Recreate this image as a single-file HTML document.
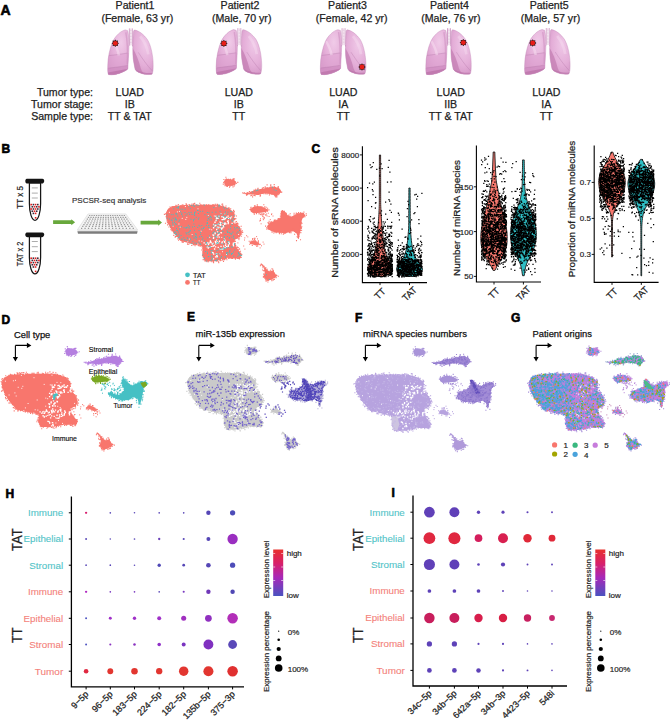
<!DOCTYPE html>
<html><head><meta charset="utf-8"><style>
html,body{margin:0;padding:0;background:#fff;}
body{width:670px;height:724px;overflow:hidden;}
svg{display:block;font-family:"Liberation Sans", sans-serif;}
</style></head><body>
<svg width="670" height="724" viewBox="0 0 670 724">
<text x="0.5" y="15" font-size="14" font-weight="bold" fill="#000" stroke="#000" stroke-width="0.6">A</text>
<text x="1.5" y="152.7" font-size="12" font-weight="bold" fill="#000" stroke="#000" stroke-width="0.6">B</text>
<text x="311.5" y="152.7" font-size="12" font-weight="bold" fill="#000" stroke="#000" stroke-width="0.6">C</text>
<text x="1.5" y="324" font-size="12" font-weight="bold" fill="#000" stroke="#000" stroke-width="0.6">D</text>
<text x="187" y="321" font-size="12" font-weight="bold" fill="#000" stroke="#000" stroke-width="0.6">E</text>
<text x="355" y="322" font-size="12" font-weight="bold" fill="#000" stroke="#000" stroke-width="0.6">F</text>
<text x="511" y="322" font-size="12" font-weight="bold" fill="#000" stroke="#000" stroke-width="0.6">G</text>
<text x="5.5" y="498" font-size="12" font-weight="bold" fill="#000" stroke="#000" stroke-width="0.6">H</text>
<text x="391.5" y="496.5" font-size="12" font-weight="bold" fill="#000" stroke="#000" stroke-width="0.6">I</text>
<text x="135.0" y="8.9" font-size="10.6" text-anchor="middle" fill="#222" stroke="#222" stroke-width="0.25" >Patient1</text>
<text x="137.3" y="21.8" font-size="10.6" text-anchor="middle" fill="#222" stroke="#222" stroke-width="0.25" >(Female, 63 yr)</text>
<text x="240.0" y="8.9" font-size="10.6" text-anchor="middle" fill="#222" stroke="#222" stroke-width="0.25" >Patient2</text>
<text x="241.7" y="21.8" font-size="10.6" text-anchor="middle" fill="#222" stroke="#222" stroke-width="0.25" >(Male, 70 yr)</text>
<text x="347.5" y="8.9" font-size="10.6" text-anchor="middle" fill="#222" stroke="#222" stroke-width="0.25" >Patient3</text>
<text x="351.7" y="21.8" font-size="10.6" text-anchor="middle" fill="#222" stroke="#222" stroke-width="0.25" >(Female, 42 yr)</text>
<text x="449.4" y="8.9" font-size="10.6" text-anchor="middle" fill="#222" stroke="#222" stroke-width="0.25" >Patient4</text>
<text x="450.9" y="21.8" font-size="10.6" text-anchor="middle" fill="#222" stroke="#222" stroke-width="0.25" >(Male, 76 yr)</text>
<text x="549.1" y="8.9" font-size="10.6" text-anchor="middle" fill="#222" stroke="#222" stroke-width="0.25" >Patient5</text>
<text x="550.5" y="21.8" font-size="10.6" text-anchor="middle" fill="#222" stroke="#222" stroke-width="0.25" >(Male, 57 yr)</text>
<defs>
<radialGradient id="lgL" cx="0.6" cy="0.3" r="0.8">
<stop offset="0" stop-color="#f0cbe8"/><stop offset="0.5" stop-color="#e5b0d9"/><stop offset="1" stop-color="#cf90c0"/></radialGradient>
<radialGradient id="lgR" cx="0.6" cy="0.35" r="0.8">
<stop offset="0" stop-color="#efc8e7"/><stop offset="0.55" stop-color="#e4aed8"/><stop offset="1" stop-color="#cd8ebf"/></radialGradient>
<clipPath id="clipL"><path id="pL" d="M18 1.5 C13.5 2.5 8.5 7 5.5 13 C2.5 20 0.5 29 0.4 38 C0.3 42 0.6 45 1.2 46.2 C5 46.9 10 46 14.5 44 C17.5 42.6 20.2 41.5 20.6 40 C20.7 34 21.5 26 21.6 19 C21.6 11 21.2 5 20.4 2.3 Z"/></clipPath>
<clipPath id="clipR"><path id="pR" d="M27 1.6 C31.5 2.2 36.5 6 40.3 11.5 C43.8 17.5 45.6 27 45.9 36 C46 40.5 45.6 44.5 44.6 45.9 C41 46.5 36.5 46 33 44.6 C30 43.4 28.3 42.3 27.8 40.8 C27.2 37 25.8 32 25.6 26 C25.4 17 25.6 8 26.2 2.8 Z"/></clipPath>
<g id="lung">
<path d="M22.1 0 L22.1 16.5 C21 18.5 19.8 19.8 19 20.8 M25.0 0 L25.0 16.5 C26 18.5 27 19.8 27.8 20.8" stroke="#d2a0c8" stroke-width="1.0" fill="none"/>
<path d="M23.55 0 L23.55 17" stroke="#f2e2ee" stroke-width="1.9" fill="none"/>
<path d="M22.8 2 h1.5 M22.8 5 h1.5 M22.8 8 h1.5 M22.8 11 h1.5 M22.8 14 h1.5" stroke="#d9b5d2" stroke-width="0.5"/>
<g clip-path="url(#clipL)">
<rect x="0" y="0" width="23" height="47" fill="url(#lgL)"/>
<path d="M-1 27.5 C6 26.5 14 25.5 22 24.5 L22 48 L-1 48 Z" fill="#dfa2d2" opacity="0.55"/>
<path d="M-1 40 C6 39 13 38.5 22 37 L22 48 L-1 48 Z" fill="#cf8cc0" opacity="0.7"/>
<path d="M-1 44.5 C6 43 13 42 22 40 L22 48 L-1 48 Z" fill="#bd74aa" opacity="0.8"/>
<path d="M1.5 27.3 C7 26.6 14 25.6 20.3 24.7 M1 39.8 C7 39 14 38.3 20.5 37" stroke="#b378a8" stroke-width="0.35" fill="none"/>
<path d="M6 13 C9 18 11 23 11.5 27" stroke="#f8e0f2" stroke-width="2.6" fill="none" opacity="0.5"/>
<path d="M18.5 4 C20 12 20.5 24 20 36" stroke="#c98abb" stroke-width="1.4" fill="none" opacity="0.5"/>
</g>
<use href="#pL" fill="none" stroke="#c58ab9" stroke-width="0.45"/>
<g clip-path="url(#clipR)">
<rect x="24" y="0" width="23" height="47" fill="url(#lgR)"/>
<path d="M24 18 C28.5 24 31.5 32 33.5 40 C35 44 37 46 40 47.5 L24 48 Z" fill="#c47fb3" opacity="0.75"/>
<path d="M29 41.5 C34 44 39 45 47 44.5 L47 48 L26 48 Z" fill="#bb72a8" opacity="0.7"/>
<path d="M31 24 C35 30 39.5 37 45.5 43" stroke="#b378a8" stroke-width="0.35" fill="none"/>
<path d="M33 8 C37 13 40 19 41 26" stroke="#f6dcef" stroke-width="2.8" fill="none" opacity="0.45"/>
</g>
<use href="#pR" fill="none" stroke="#c58ab9" stroke-width="0.45"/>
</g>
<g id="tumor"><path d="M0 -3.7 L0.9 -2.5 L2.6 -2.7 L2.5 -0.9 L3.7 0 L2.5 0.9 L2.6 2.7 L0.9 2.5 L0 3.7 L-0.9 2.5 L-2.6 2.7 L-2.5 0.9 L-3.7 0 L-2.5 -0.9 L-2.6 -2.7 L-0.9 -2.5Z" fill="#2a1818"/><circle r="2.4" fill="#e81e18"/></g>
</defs>
<use href="#lung" x="107.3" y="28.4"/>
<use href="#tumor" x="115.3" y="43.3"/>
<use href="#lung" x="215.8" y="28.1"/>
<use href="#tumor" x="223.9" y="43.4"/>
<use href="#lung" x="320.0" y="28.2"/>
<use href="#tumor" x="362.0" y="67.0"/>
<use href="#lung" x="425.4" y="28.2"/>
<use href="#tumor" x="463.3" y="42.6"/>
<use href="#lung" x="524.2" y="28.0"/>
<use href="#tumor" x="532.7" y="43.0"/>
<text x="93.0" y="96.0" font-size="10.6" text-anchor="end" fill="#222" stroke="#222" stroke-width="0.25" >Tumor type:</text>
<text x="93.0" y="108.0" font-size="10.6" text-anchor="end" fill="#222" stroke="#222" stroke-width="0.25" >Tumor stage:</text>
<text x="93.0" y="120.0" font-size="10.6" text-anchor="end" fill="#222" stroke="#222" stroke-width="0.25" >Sample type:</text>
<text x="129.7" y="96.0" font-size="10.6" text-anchor="middle" fill="#222" stroke="#222" stroke-width="0.25" >LUAD</text>
<text x="129.7" y="108.0" font-size="10.6" text-anchor="middle" fill="#222" stroke="#222" stroke-width="0.25" >IB</text>
<text x="129.7" y="120.0" font-size="10.6" text-anchor="middle" fill="#222" stroke="#222" stroke-width="0.25" >TT &amp; TAT</text>
<text x="238.8" y="96.0" font-size="10.6" text-anchor="middle" fill="#222" stroke="#222" stroke-width="0.25" >LUAD</text>
<text x="238.8" y="108.0" font-size="10.6" text-anchor="middle" fill="#222" stroke="#222" stroke-width="0.25" >IB</text>
<text x="238.8" y="120.0" font-size="10.6" text-anchor="middle" fill="#222" stroke="#222" stroke-width="0.25" >TT</text>
<text x="343.3" y="96.0" font-size="10.6" text-anchor="middle" fill="#222" stroke="#222" stroke-width="0.25" >LUAD</text>
<text x="343.3" y="108.0" font-size="10.6" text-anchor="middle" fill="#222" stroke="#222" stroke-width="0.25" >IA</text>
<text x="343.3" y="120.0" font-size="10.6" text-anchor="middle" fill="#222" stroke="#222" stroke-width="0.25" >TT</text>
<text x="450.7" y="96.0" font-size="10.6" text-anchor="middle" fill="#222" stroke="#222" stroke-width="0.25" >LUAD</text>
<text x="450.7" y="108.0" font-size="10.6" text-anchor="middle" fill="#222" stroke="#222" stroke-width="0.25" >IIB</text>
<text x="450.7" y="120.0" font-size="10.6" text-anchor="middle" fill="#222" stroke="#222" stroke-width="0.25" >TT &amp; TAT</text>
<text x="546.3" y="96.0" font-size="10.6" text-anchor="middle" fill="#222" stroke="#222" stroke-width="0.25" >LUAD</text>
<text x="546.3" y="108.0" font-size="10.6" text-anchor="middle" fill="#222" stroke="#222" stroke-width="0.25" >IA</text>
<text x="546.3" y="120.0" font-size="10.6" text-anchor="middle" fill="#222" stroke="#222" stroke-width="0.25" >TT</text>
<g transform="translate(25.3,178.8)"><path d="M4.1 4 V25 C4.1 34 6.5 41.5 9.7 41.5 C12.9 41.5 15.3 34 15.3 25 V4 Z" fill="#fff" stroke="#161616" stroke-width="1.25"/><rect x="5.10" y="25.00" width="1.6" height="1.6" fill="#e41e1e"/><rect x="7.30" y="25.00" width="1.6" height="1.6" fill="#3a2a3a"/><rect x="9.50" y="25.00" width="1.6" height="1.6" fill="#e41e1e"/><rect x="11.70" y="25.00" width="1.6" height="1.6" fill="#3a2a3a"/><rect x="6.20" y="27.20" width="1.6" height="1.6" fill="#3a2a3a"/><rect x="8.40" y="27.20" width="1.6" height="1.6" fill="#e41e1e"/><rect x="10.60" y="27.20" width="1.6" height="1.6" fill="#3a2a3a"/><rect x="12.80" y="27.20" width="1.6" height="1.6" fill="#e41e1e"/><rect x="5.10" y="29.40" width="1.6" height="1.6" fill="#e41e1e"/><rect x="7.30" y="29.40" width="1.6" height="1.6" fill="#3a2a3a"/><rect x="9.50" y="29.40" width="1.6" height="1.6" fill="#e41e1e"/><rect x="11.70" y="29.40" width="1.6" height="1.6" fill="#3a2a3a"/><rect x="6.20" y="31.60" width="1.6" height="1.6" fill="#3a2a3a"/><rect x="8.40" y="31.60" width="1.6" height="1.6" fill="#e41e1e"/><rect x="10.60" y="31.60" width="1.6" height="1.6" fill="#3a2a3a"/><rect x="7.30" y="33.80" width="1.6" height="1.6" fill="#3a2a3a"/><rect x="9.50" y="33.80" width="1.6" height="1.6" fill="#e41e1e"/><rect x="8.40" y="36.00" width="1.6" height="1.6" fill="#fff"/><rect x="9.50" y="38.20" width="1.6" height="1.6" fill="#e41e1e"/><path d="M6.5 9.1 H12.5 M6.5 14.3 H12.5 M6.5 19.2 H12.5" stroke="#909090" stroke-width="0.75"/><path d="M1.5 0 H17 C18.5 0 18.9 1.2 18.9 2.2 C18.9 3.6 18 4.8 16.5 4.8 H2.3 C0.9 4.8 0 3.6 0 2.4 C0 1.2 0.5 0 1.5 0Z" fill="#141414"/></g>
<g transform="translate(25.3,232.4)"><path d="M4.1 4 V25 C4.1 34 6.5 41.5 9.7 41.5 C12.9 41.5 15.3 34 15.3 25 V4 Z" fill="#fff" stroke="#161616" stroke-width="1.25"/><rect x="5.10" y="25.00" width="1.6" height="1.6" fill="#e41e1e"/><rect x="7.30" y="25.00" width="1.6" height="1.6" fill="#3a2a3a"/><rect x="9.50" y="25.00" width="1.6" height="1.6" fill="#e41e1e"/><rect x="11.70" y="25.00" width="1.6" height="1.6" fill="#3a2a3a"/><rect x="6.20" y="27.20" width="1.6" height="1.6" fill="#3a2a3a"/><rect x="8.40" y="27.20" width="1.6" height="1.6" fill="#e41e1e"/><rect x="10.60" y="27.20" width="1.6" height="1.6" fill="#3a2a3a"/><rect x="12.80" y="27.20" width="1.6" height="1.6" fill="#e41e1e"/><rect x="5.10" y="29.40" width="1.6" height="1.6" fill="#e41e1e"/><rect x="7.30" y="29.40" width="1.6" height="1.6" fill="#3a2a3a"/><rect x="9.50" y="29.40" width="1.6" height="1.6" fill="#e41e1e"/><rect x="11.70" y="29.40" width="1.6" height="1.6" fill="#3a2a3a"/><rect x="6.20" y="31.60" width="1.6" height="1.6" fill="#3a2a3a"/><rect x="8.40" y="31.60" width="1.6" height="1.6" fill="#e41e1e"/><rect x="10.60" y="31.60" width="1.6" height="1.6" fill="#3a2a3a"/><rect x="7.30" y="33.80" width="1.6" height="1.6" fill="#3a2a3a"/><rect x="9.50" y="33.80" width="1.6" height="1.6" fill="#e41e1e"/><rect x="8.40" y="36.00" width="1.6" height="1.6" fill="#fff"/><rect x="9.50" y="38.20" width="1.6" height="1.6" fill="#e41e1e"/><path d="M6.5 9.1 H12.5 M6.5 14.3 H12.5 M6.5 19.2 H12.5" stroke="#909090" stroke-width="0.75"/><path d="M1.5 0 H17 C18.5 0 18.9 1.2 18.9 2.2 C18.9 3.6 18 4.8 16.5 4.8 H2.3 C0.9 4.8 0 3.6 0 2.4 C0 1.2 0.5 0 1.5 0Z" fill="#141414"/></g>
<text x="0" y="0" font-size="8.9" text-anchor="middle" dy="0.35em" fill="#222" stroke="#222" stroke-width="0.18" transform="translate(19.40,197.40) rotate(-90)" textLength="22.7" lengthAdjust="spacingAndGlyphs">TT x 5</text>
<text x="0" y="0" font-size="8.9" text-anchor="middle" dy="0.35em" fill="#222" stroke="#222" stroke-width="0.18" transform="translate(20.20,254.00) rotate(-90)" textLength="24.7" lengthAdjust="spacingAndGlyphs">TAT x 2</text>
<path d="M53.1 220.35 H71.3 V219.14999999999998 L75.1 222.2 L71.3 225.25 V224.04999999999998 H53.1 Z" fill="#68a83c"/>
<path d="M140.6 220.75 H158.2 V219.54999999999998 L162.0 222.6 L158.2 225.65 V224.45 H140.6 Z" fill="#68a83c"/>
<text x="72.0" y="202.7" font-size="8" text-anchor="start" fill="#333" stroke="#333" stroke-width="0.18" textLength="74.3" lengthAdjust="spacingAndGlyphs" >PSCSR-seq analysis</text>
<g><path d="M88.1 213.9 L125.8 213.9 L137.6 229.8 L77.4 229.8 Z" fill="#f4f4f4" stroke="#d0d0d0" stroke-width="0.5"/><path d="M89.67 214.91v1.2M91.98 214.91v1.2M94.29 214.91v1.2M96.60 214.91v1.2M98.92 214.91v1.2M101.23 214.91v1.2M103.54 214.91v1.2M105.85 214.91v1.2M108.16 214.91v1.2M110.47 214.91v1.2M112.78 214.91v1.2M115.10 214.91v1.2M117.41 214.91v1.2M119.72 214.91v1.2M122.03 214.91v1.2M124.34 214.91v1.2M88.52 216.74v1.2M91.00 216.74v1.2M93.47 216.74v1.2M95.94 216.74v1.2M98.41 216.74v1.2M100.89 216.74v1.2M103.36 216.74v1.2M105.83 216.74v1.2M108.31 216.74v1.2M110.78 216.74v1.2M113.25 216.74v1.2M115.72 216.74v1.2M118.20 216.74v1.2M120.67 216.74v1.2M123.14 216.74v1.2M125.61 216.74v1.2M87.38 218.56v1.2M90.01 218.56v1.2M92.64 218.56v1.2M95.28 218.56v1.2M97.91 218.56v1.2M100.55 218.56v1.2M103.18 218.56v1.2M105.81 218.56v1.2M108.45 218.56v1.2M111.08 218.56v1.2M113.72 218.56v1.2M116.35 218.56v1.2M118.99 218.56v1.2M121.62 218.56v1.2M124.25 218.56v1.2M126.89 218.56v1.2M86.23 220.39v1.2M89.02 220.39v1.2M91.82 220.39v1.2M94.61 220.39v1.2M97.41 220.39v1.2M100.21 220.39v1.2M103.00 220.39v1.2M105.80 220.39v1.2M108.59 220.39v1.2M111.39 220.39v1.2M114.18 220.39v1.2M116.98 220.39v1.2M119.78 220.39v1.2M122.57 220.39v1.2M125.37 220.39v1.2M128.16 220.39v1.2M85.08 222.21v1.2M88.04 222.21v1.2M90.99 222.21v1.2M93.95 222.21v1.2M96.91 222.21v1.2M99.87 222.21v1.2M102.82 222.21v1.2M105.78 222.21v1.2M108.74 222.21v1.2M111.69 222.21v1.2M114.65 222.21v1.2M117.61 222.21v1.2M120.56 222.21v1.2M123.52 222.21v1.2M126.48 222.21v1.2M129.44 222.21v1.2M83.93 224.04v1.2M87.05 224.04v1.2M90.17 224.04v1.2M93.29 224.04v1.2M96.41 224.04v1.2M99.53 224.04v1.2M102.64 224.04v1.2M105.76 224.04v1.2M108.88 224.04v1.2M112.00 224.04v1.2M115.12 224.04v1.2M118.24 224.04v1.2M121.35 224.04v1.2M124.47 224.04v1.2M127.59 224.04v1.2M130.71 224.04v1.2M82.79 225.86v1.2M86.07 225.86v1.2M89.35 225.86v1.2M92.63 225.86v1.2M95.91 225.86v1.2M99.19 225.86v1.2M102.46 225.86v1.2M105.74 225.86v1.2M109.02 225.86v1.2M112.30 225.86v1.2M115.58 225.86v1.2M118.86 225.86v1.2M122.14 225.86v1.2M125.42 225.86v1.2M128.70 225.86v1.2M131.98 225.86v1.2M81.64 227.69v1.2M85.08 227.69v1.2M88.52 227.69v1.2M91.96 227.69v1.2M95.40 227.69v1.2M98.84 227.69v1.2M102.29 227.69v1.2M105.73 227.69v1.2M109.17 227.69v1.2M112.61 227.69v1.2M116.05 227.69v1.2M119.49 227.69v1.2M122.93 227.69v1.2M126.37 227.69v1.2M129.82 227.69v1.2M133.26 227.69v1.2" stroke="#9a9a9a" stroke-width="1.3"/><path d="M77.4 229.8 H137.6 V231.2 H77.4 Z" fill="#e6e6e6"/><path d="M77.4 231.2 H137.6 L137 233.8 H78 Z" fill="#7c7c7c"/></g>
<path d="M362.4 146.3 V282.6 H427" stroke="#000" stroke-width="1.1" fill="none"/>
<path d="M359.9 154.9 H362.4M359.9 188.1 H362.4M359.9 221.2 H362.4M359.9 254.4 H362.4M380 282.6 V285.1M409.5 282.6 V285.1" stroke="#000" stroke-width="0.9"/>
<text x="359.1" y="157.8" font-size="8.0" text-anchor="end" fill="#1a1a1a" stroke="#1a1a1a" stroke-width="0.18" >8000</text>
<text x="359.1" y="191.0" font-size="8.0" text-anchor="end" fill="#1a1a1a" stroke="#1a1a1a" stroke-width="0.18" >6000</text>
<text x="359.1" y="224.1" font-size="8.0" text-anchor="end" fill="#1a1a1a" stroke="#1a1a1a" stroke-width="0.18" >4000</text>
<text x="359.1" y="257.3" font-size="8.0" text-anchor="end" fill="#1a1a1a" stroke="#1a1a1a" stroke-width="0.18" >2000</text>
<text x="0" y="0" font-size="9" text-anchor="middle" dy="0.35em" fill="#222" stroke="#222" stroke-width="0.25" transform="translate(334.60,212.50) rotate(-90)" textLength="130.5" lengthAdjust="spacingAndGlyphs">Number of sRNA molecules</text>
<path d="M380.00 155.00 L380.60 155.00 L380.60 157.06 L380.61 159.12 L380.61 161.18 L380.62 163.24 L380.62 165.30 L380.62 167.36 L380.63 169.42 L380.63 171.47 L380.64 173.53 L380.64 175.59 L380.65 177.65 L380.65 179.71 L380.65 181.77 L380.66 183.83 L380.66 185.89 L380.67 187.95 L380.67 190.01 L380.67 192.07 L380.68 194.13 L380.68 196.19 L380.69 198.25 L380.69 200.31 L380.70 202.36 L380.73 204.42 L380.79 206.48 L380.87 208.54 L380.96 210.60 L381.05 212.66 L381.15 214.72 L381.26 216.78 L381.39 218.84 L381.55 220.90 L381.71 222.96 L381.88 225.02 L382.06 227.08 L382.25 229.14 L382.45 231.19 L382.67 233.25 L382.90 235.31 L383.14 237.37 L383.37 239.43 L383.61 241.49 L383.87 243.55 L384.18 245.61 L384.55 247.67 L384.95 249.73 L385.39 251.79 L385.93 253.85 L386.64 255.91 L387.52 257.97 L388.56 260.03 L389.74 262.08 L390.94 264.14 L391.96 266.20 L392.45 268.26 L392.25 270.32 L390.86 272.38 L388.71 274.44 L384.00 276.50 L376.00 276.50 L371.29 274.44 L369.14 272.38 L367.75 270.32 L367.55 268.26 L368.04 266.20 L369.06 264.14 L370.26 262.08 L371.44 260.03 L372.48 257.97 L373.36 255.91 L374.07 253.85 L374.61 251.79 L375.05 249.73 L375.45 247.67 L375.82 245.61 L376.13 243.55 L376.39 241.49 L376.63 239.43 L376.86 237.37 L377.10 235.31 L377.33 233.25 L377.55 231.19 L377.75 229.14 L377.94 227.08 L378.12 225.02 L378.29 222.96 L378.45 220.90 L378.61 218.84 L378.74 216.78 L378.85 214.72 L378.95 212.66 L379.04 210.60 L379.13 208.54 L379.21 206.48 L379.27 204.42 L379.30 202.36 L379.31 200.31 L379.31 198.25 L379.32 196.19 L379.32 194.13 L379.33 192.07 L379.33 190.01 L379.33 187.95 L379.34 185.89 L379.34 183.83 L379.35 181.77 L379.35 179.71 L379.35 177.65 L379.36 175.59 L379.36 173.53 L379.37 171.47 L379.37 169.42 L379.38 167.36 L379.38 165.30 L379.38 163.24 L379.39 161.18 L379.39 159.12 L379.40 157.06 L379.40 155.00 Z" fill="#f6786e" stroke="#1a1a1a" stroke-width="0.9"/>
<path d="M409.50 188.00 L410.10 188.00 L410.11 189.50 L410.12 191.00 L410.12 192.50 L410.13 194.00 L410.14 195.50 L410.14 197.00 L410.15 198.50 L410.16 200.00 L410.17 201.50 L410.18 203.00 L410.18 204.50 L410.19 206.00 L410.20 207.50 L410.20 209.00 L410.21 210.50 L410.22 212.00 L410.23 213.50 L410.24 215.00 L410.24 216.50 L410.25 218.00 L410.26 219.50 L410.26 221.00 L410.27 222.50 L410.28 224.00 L410.29 225.50 L410.32 227.00 L410.38 228.50 L410.48 230.00 L410.59 231.50 L410.72 233.00 L410.84 234.50 L410.97 236.00 L411.09 237.50 L411.24 239.00 L411.40 240.50 L411.59 242.00 L411.79 243.50 L412.00 245.00 L412.21 246.50 L412.44 248.00 L412.74 249.50 L413.12 251.00 L413.59 252.50 L414.10 254.00 L414.65 255.50 L415.31 257.00 L416.16 258.50 L417.22 260.00 L418.40 261.50 L419.57 263.00 L420.64 264.50 L421.53 266.00 L422.16 267.50 L422.44 269.00 L422.19 270.50 L421.41 272.00 L419.74 273.50 L417.61 275.00 L413.50 276.50 L405.50 276.50 L401.39 275.00 L399.26 273.50 L397.59 272.00 L396.81 270.50 L396.56 269.00 L396.84 267.50 L397.47 266.00 L398.36 264.50 L399.43 263.00 L400.60 261.50 L401.78 260.00 L402.84 258.50 L403.69 257.00 L404.35 255.50 L404.90 254.00 L405.41 252.50 L405.88 251.00 L406.26 249.50 L406.56 248.00 L406.79 246.50 L407.00 245.00 L407.21 243.50 L407.41 242.00 L407.60 240.50 L407.76 239.00 L407.91 237.50 L408.03 236.00 L408.16 234.50 L408.28 233.00 L408.41 231.50 L408.52 230.00 L408.62 228.50 L408.68 227.00 L408.71 225.50 L408.72 224.00 L408.73 222.50 L408.74 221.00 L408.74 219.50 L408.75 218.00 L408.76 216.50 L408.76 215.00 L408.77 213.50 L408.78 212.00 L408.79 210.50 L408.80 209.00 L408.80 207.50 L408.81 206.00 L408.82 204.50 L408.82 203.00 L408.83 201.50 L408.84 200.00 L408.85 198.50 L408.86 197.00 L408.86 195.50 L408.87 194.00 L408.88 192.50 L408.88 191.00 L408.89 189.50 L408.90 188.00 Z" fill="#2fbec4" stroke="#1a1a1a" stroke-width="0.9"/>
<path d="M387.5 267.8h0M390.6 273.3h0M371.0 269.5h0M367.8 252.2h0M374.1 257.7h0M370.9 273.1h0M372.2 166.7h0M382.1 271.3h0M378.1 270.1h0M378.2 264.3h0M372.6 257.3h0M384.1 256.5h0M374.7 254.3h0M377.5 262.5h0M379.1 265.5h0M390.1 266.3h0M373.7 276.0h0M385.5 270.2h0M375.2 265.9h0M389.9 275.4h0M377.4 252.4h0M380.1 247.5h0M389.4 267.0h0M384.3 223.8h0M369.9 220.1h0M370.9 264.9h0M392.3 264.5h0M368.2 274.6h0M375.0 267.3h0M391.5 264.5h0M367.9 264.6h0M371.5 254.5h0M372.8 183.8h0M369.7 250.6h0M379.3 268.0h0M382.3 251.6h0M375.5 260.6h0M370.2 164.9h0M387.8 271.2h0M387.6 246.5h0M381.6 255.5h0M370.9 272.4h0M381.0 264.6h0M383.2 271.8h0M378.2 267.7h0M389.1 268.7h0M377.3 237.9h0M380.3 264.7h0M370.4 264.3h0M381.6 272.1h0M386.7 259.1h0M385.8 266.8h0M373.9 230.3h0M392.3 261.2h0M385.5 258.6h0M378.1 246.1h0M377.9 270.4h0M387.0 260.8h0M371.9 275.0h0M383.5 266.5h0M385.5 266.0h0M380.4 267.5h0M389.3 268.4h0M379.2 246.3h0M379.1 262.8h0M374.6 254.6h0M390.5 260.9h0M375.4 239.0h0M384.9 274.8h0M377.7 252.6h0M390.9 268.5h0M391.2 257.5h0M368.3 272.1h0M392.4 268.4h0M382.6 244.2h0M369.3 271.8h0M379.9 273.2h0M368.7 273.2h0M381.2 266.8h0M372.1 246.4h0M376.7 250.8h0M375.1 272.5h0M382.6 266.4h0M388.1 249.3h0M390.9 271.0h0M375.7 267.9h0M381.7 265.3h0M367.6 260.2h0M376.8 261.8h0M391.5 255.0h0M370.5 221.5h0M389.2 272.4h0M383.8 264.8h0M374.8 266.5h0M387.0 258.8h0M374.7 269.7h0M389.9 210.3h0M369.6 260.2h0M370.5 216.5h0M386.3 242.9h0M378.7 274.7h0M371.2 268.6h0M380.3 262.0h0M374.9 265.2h0M381.2 272.7h0M386.1 260.1h0M388.9 267.1h0M369.0 268.5h0M382.3 259.9h0M392.1 265.1h0M379.0 269.5h0M386.7 272.2h0M369.9 246.7h0M389.3 273.7h0M382.1 168.6h0M389.7 268.8h0M387.2 270.8h0M389.2 244.5h0M368.9 261.7h0M385.4 269.7h0M372.4 189.5h0M374.1 267.9h0M375.6 270.9h0M382.3 264.6h0M383.2 269.2h0M390.8 253.8h0M367.8 249.6h0M372.3 260.3h0M376.6 249.7h0M388.0 260.2h0M381.2 275.1h0M380.3 266.8h0M386.5 259.6h0M383.9 256.6h0M374.7 274.8h0M369.7 262.8h0M379.1 275.3h0M389.5 265.5h0M382.5 266.1h0M368.8 272.8h0M378.5 269.5h0M377.1 266.6h0M382.1 263.3h0M382.2 272.2h0M391.3 263.1h0M376.0 272.9h0M377.7 232.8h0M382.8 262.7h0M389.7 265.4h0M385.2 275.0h0M379.3 254.0h0M387.9 270.2h0M379.6 268.5h0M391.6 268.8h0M374.6 266.5h0M370.7 275.6h0M388.3 259.4h0M374.9 261.9h0M388.7 251.2h0M382.7 227.8h0M380.2 252.0h0M369.7 273.8h0M387.2 271.1h0M369.1 240.7h0M391.6 266.9h0M389.4 263.6h0M375.1 267.2h0M370.7 268.1h0M389.6 257.7h0M379.5 274.7h0M370.6 263.5h0M380.0 267.9h0M373.7 267.0h0M377.7 249.4h0M383.5 231.6h0M390.4 263.5h0M387.5 271.3h0M371.5 271.1h0M379.4 269.3h0M379.8 242.4h0M392.2 273.1h0M369.7 270.1h0M380.3 272.3h0M390.4 265.5h0M377.5 272.7h0M374.0 224.7h0M381.4 215.3h0M375.5 203.2h0M390.7 254.7h0M369.6 254.8h0M372.7 250.1h0M369.6 266.5h0M385.3 222.1h0M374.8 266.8h0M390.0 247.6h0M389.8 268.1h0M390.9 204.0h0M373.9 258.9h0M367.5 273.7h0M377.2 265.1h0M391.6 270.8h0M386.6 267.8h0M369.0 267.5h0M385.1 249.7h0M390.4 265.5h0M391.7 222.4h0M385.4 272.2h0M389.1 274.9h0M388.5 271.9h0M376.5 227.6h0M370.0 260.7h0M385.7 258.4h0M370.9 241.0h0M377.1 268.1h0M392.4 271.0h0M381.5 258.9h0M380.5 271.6h0M391.2 271.9h0M374.6 244.6h0M392.5 270.4h0M390.3 273.0h0M376.6 249.7h0M375.7 266.5h0M370.7 267.6h0M390.4 267.3h0M372.1 239.2h0M367.7 267.8h0M389.8 266.4h0M382.5 271.5h0M384.3 270.3h0M385.8 258.9h0M368.6 268.8h0M369.8 272.0h0M380.0 271.5h0M368.8 248.3h0M380.1 213.0h0M385.9 268.3h0M383.9 253.6h0M382.9 266.2h0M368.7 273.0h0M373.4 260.4h0M389.9 254.5h0M370.6 263.1h0M380.8 268.0h0M368.8 238.1h0M391.0 261.2h0M371.8 243.3h0M377.8 268.2h0M381.2 271.3h0M385.5 260.8h0M390.9 260.6h0M385.9 265.2h0M376.2 252.1h0M369.4 253.9h0M385.2 259.1h0M391.8 264.5h0M367.9 236.9h0M386.9 270.6h0M371.9 266.9h0M379.0 257.2h0M380.6 235.6h0M382.9 270.1h0M392.2 243.9h0M384.7 244.0h0M377.3 244.0h0M385.4 235.4h0M379.2 273.1h0M377.8 255.4h0M376.6 258.0h0M379.8 272.7h0M374.5 267.0h0M373.6 249.9h0M371.2 263.1h0M378.5 273.0h0M374.8 260.3h0M388.4 268.8h0M388.7 239.3h0M376.1 269.4h0M383.0 270.2h0M390.1 272.3h0M376.5 267.9h0M381.4 260.7h0M378.6 231.4h0M383.8 265.8h0M391.5 268.6h0M371.0 249.9h0M391.6 255.8h0M384.1 265.9h0M387.4 270.2h0M383.4 273.7h0M389.3 242.4h0M375.7 250.2h0M385.2 270.5h0M374.1 267.3h0M380.2 269.5h0M384.5 275.6h0M372.5 272.5h0M369.0 271.4h0M387.3 269.2h0M387.7 261.2h0M384.1 267.9h0M375.5 250.2h0M384.0 270.8h0M369.6 269.7h0M384.1 268.3h0M381.9 262.6h0M382.9 260.4h0M378.7 261.8h0M373.1 218.9h0M385.6 271.2h0M379.1 264.4h0M386.1 261.7h0M376.6 265.5h0M369.7 269.4h0M381.1 261.0h0M383.1 271.7h0M390.5 273.5h0M389.7 262.0h0M368.9 245.1h0M386.8 270.0h0M374.0 276.1h0M384.9 245.2h0M377.0 268.8h0M375.6 271.2h0M379.7 273.6h0M380.8 242.2h0M384.9 238.8h0M383.4 275.6h0M384.5 241.1h0M377.1 248.1h0M384.4 266.0h0M376.1 263.0h0M382.7 269.4h0M379.0 250.4h0M381.6 272.8h0M367.9 252.8h0M380.0 269.7h0M373.0 232.6h0M377.1 264.6h0M369.3 219.6h0M383.9 257.9h0M389.8 258.0h0M376.4 268.7h0M370.1 263.9h0M383.0 228.6h0M370.7 275.9h0M389.8 272.5h0M370.6 272.6h0M376.5 254.0h0M379.9 261.3h0M370.4 252.1h0M375.5 242.1h0M374.4 218.1h0M385.3 264.7h0M392.2 242.6h0M376.6 248.0h0M387.3 271.7h0M371.0 264.5h0M382.0 250.0h0M378.3 268.2h0M374.7 255.6h0M388.0 265.6h0M386.2 256.7h0M370.8 264.2h0M374.8 266.9h0M388.0 266.4h0M392.3 261.7h0M382.8 271.1h0M389.3 271.9h0M392.1 250.0h0M386.0 244.2h0M383.6 241.4h0M373.0 276.8h0M376.8 274.5h0M383.1 253.4h0M390.7 274.6h0M375.0 252.0h0M377.4 265.4h0M368.1 264.3h0M384.9 272.1h0M378.6 222.7h0M387.4 258.5h0M373.3 266.8h0M384.0 233.1h0M384.3 254.2h0M379.1 264.2h0M372.2 271.9h0M377.6 270.3h0M386.1 272.6h0M372.2 270.3h0M369.8 269.0h0M379.1 271.7h0M373.4 269.4h0M387.5 268.9h0M387.9 257.9h0M391.1 248.5h0M388.5 270.2h0M383.7 247.9h0M372.2 273.6h0M388.1 266.6h0M385.7 259.2h0M386.2 273.7h0M384.9 246.3h0M388.3 264.9h0M374.9 238.4h0M384.3 274.1h0M380.4 266.0h0M375.9 271.1h0M375.7 256.4h0M371.4 270.8h0M379.8 268.3h0M376.7 268.3h0M378.0 275.8h0M388.8 264.0h0M384.5 262.1h0M384.5 269.0h0M392.1 271.4h0M372.9 259.5h0M380.2 269.2h0M369.8 251.0h0M377.3 266.5h0M391.3 270.1h0M369.6 232.9h0M386.4 269.3h0M389.1 192.1h0M380.2 274.5h0M387.4 264.2h0M378.5 261.9h0M376.3 269.5h0M380.1 264.9h0M372.4 267.9h0M375.2 236.8h0M375.1 266.3h0M392.2 265.9h0M375.9 273.8h0M373.2 223.2h0M391.0 263.1h0M371.0 266.9h0M391.6 265.7h0M388.8 234.9h0M383.7 265.9h0M378.2 253.8h0M372.4 250.5h0M370.2 271.6h0M370.1 251.7h0M376.2 263.3h0M377.7 269.0h0M390.6 268.7h0M380.9 266.4h0M392.3 271.4h0M385.5 263.5h0M371.2 267.3h0M381.3 271.4h0M371.5 267.9h0M368.5 267.9h0M391.1 261.9h0M375.9 265.5h0M372.2 261.3h0M370.0 269.5h0M383.8 261.0h0M379.0 263.4h0M367.8 269.5h0M385.4 265.3h0M373.9 259.6h0M387.0 271.9h0M379.7 261.7h0M380.9 272.0h0M378.9 271.8h0M384.4 262.6h0M392.3 269.4h0M387.4 219.4h0M369.2 262.4h0M379.9 273.0h0M373.4 265.3h0M370.1 265.3h0M372.4 268.4h0M373.7 268.8h0M391.5 266.9h0M386.1 262.4h0M388.8 250.0h0M385.0 257.7h0M375.4 257.3h0M377.3 263.4h0M378.5 275.1h0M374.8 260.4h0M378.0 262.5h0M386.8 261.2h0M369.4 266.3h0M374.4 273.5h0M379.5 272.8h0M384.4 260.4h0M383.6 255.6h0M385.6 271.6h0M370.1 264.3h0M372.0 268.9h0M375.2 234.5h0M374.5 272.2h0M386.4 259.2h0M392.3 264.3h0M384.6 250.9h0M381.1 163.8h0M373.0 194.5h0M389.0 253.2h0M388.1 267.2h0M375.5 229.0h0M368.1 200.5h0M389.7 201.2h0M375.0 233.5h0M383.9 260.2h0M389.0 199.5h0M387.5 182.1h0M389.1 160.3h0M379.7 175.9h0M388.6 258.7h0M379.0 232.5h0M374.1 274.9h0M379.5 168.1h0M375.9 202.5h0M386.7 252.3h0M388.3 236.7h0M371.0 167.7h0M371.6 206.6h0M377.1 234.0h0M379.1 239.8h0M391.4 212.4h0M391.0 181.8h0M391.7 272.0h0M385.7 214.1h0M384.4 243.2h0M374.3 222.0h0M376.8 169.4h0M367.6 187.5h0M388.3 167.3h0M374.4 182.1h0M369.5 183.2h0M375.4 208.1h0M375.6 197.3h0M385.6 202.1h0M367.6 254.8h0M373.3 162.5h0M389.9 172.0h0M388.9 253.7h0M383.2 221.9h0M381.5 210.9h0M373.1 191.0h0M388.2 272.0h0M384.4 256.0h0M382.0 256.7h0M379.1 244.4h0M373.5 229.3h0M376.7 265.3h0M381.3 234.4h0M387.9 228.1h0M390.8 259.2h0M381.4 247.0h0M388.1 226.3h0M367.9 252.5h0M374.9 246.5h0M380.9 228.2h0M392.1 260.6h0M370.0 263.7h0M380.8 261.0h0M385.9 276.6h0M370.5 276.8h0M379.4 236.2h0M376.8 244.6h0M389.9 252.7h0M369.2 262.5h0M379.9 267.5h0M368.7 270.1h0M389.8 226.4h0M379.4 232.2h0M380.7 230.5h0M389.7 235.4h0M384.2 259.3h0M375.5 236.9h0M390.4 228.0h0M373.9 242.7h0M382.1 244.8h0M370.3 255.1h0M385.6 261.9h0M379.7 241.6h0M367.8 253.2h0M383.2 248.5h0M391.5 236.3h0M387.9 262.7h0M390.0 273.2h0M373.4 273.0h0M377.6 260.6h0M391.3 256.4h0M382.1 229.6h0M382.4 238.3h0M377.2 245.3h0M391.8 258.5h0M385.6 234.8h0M375.1 270.8h0M370.5 274.6h0M378.2 245.9h0M380.4 248.6h0M379.3 247.6h0M385.0 240.1h0M371.7 248.2h0M369.7 248.8h0M379.9 266.0h0M370.2 246.2h0M387.0 243.3h0M388.4 262.6h0M368.5 245.6h0M386.7 252.9h0M384.3 276.5h0M384.4 253.8h0M388.7 247.9h0M367.8 239.9h0M382.4 274.4h0M382.7 240.5h0M392.3 246.4h0M373.2 254.2h0M376.1 231.7h0M385.3 261.3h0M391.8 233.0h0M390.3 266.7h0M373.8 250.4h0M383.3 242.1h0M370.2 268.7h0M371.6 251.0h0M378.4 272.1h0M381.5 247.6h0M391.9 244.0h0M385.7 237.9h0M386.4 264.3h0M388.2 250.7h0M373.1 258.2h0M390.3 241.8h0M368.0 235.4h0M390.8 226.3h0M368.8 231.0h0M389.8 245.5h0M384.8 262.0h0M378.4 263.4h0M379.0 253.6h0M375.2 226.1h0M382.3 239.5h0M374.4 270.8h0M376.5 231.2h0M383.3 253.5h0M368.9 243.8h0M382.8 240.3h0M392.2 266.7h0M380.1 272.7h0M368.4 237.5h0M390.4 251.9h0M371.8 255.1h0M385.8 256.8h0M368.6 227.9h0M377.7 226.8h0M369.6 258.8h0M378.5 230.4h0M389.4 244.8h0M389.6 257.1h0M383.0 247.6h0M384.3 238.4h0M373.9 270.6h0M372.6 245.7h0M386.1 242.8h0M376.6 272.4h0M372.7 238.3h0M389.7 240.0h0M375.8 271.0h0M375.5 276.8h0M388.0 269.2h0M373.1 237.1h0M386.3 268.2h0M373.1 236.5h0M373.6 233.0h0M378.0 251.6h0M383.2 228.8h0M372.3 232.0h0M374.3 235.5h0M390.9 245.0h0M371.0 260.0h0M391.8 266.5h0M383.7 245.3h0M377.6 241.4h0M387.7 267.0h0M379.7 270.0h0M383.8 261.0h0M374.2 238.3h0M373.2 272.5h0M387.5 271.9h0M388.1 267.1h0M378.4 265.0h0M371.7 259.4h0M368.6 275.3h0M389.5 234.4h0M386.7 268.0h0M368.6 254.9h0M378.0 257.6h0M389.7 262.9h0M372.8 254.3h0M381.5 226.6h0M370.8 244.3h0M372.0 238.1h0M384.4 275.0h0M379.0 258.9h0M386.5 260.3h0M383.9 226.1h0M389.2 234.2h0M372.0 252.0h0M382.2 264.5h0M374.8 274.2h0M383.2 269.1h0M379.4 229.6h0M367.8 258.7h0M378.2 248.5h0M375.6 235.1h0M379.3 239.0h0M389.8 235.1h0M391.7 269.9h0M377.1 265.4h0M382.0 249.8h0M387.8 268.4h0M372.5 272.2h0M368.3 226.3h0M379.6 241.4h0M378.1 250.4h0M379.2 272.3h0M390.5 243.7h0M374.7 259.4h0M372.5 246.4h0M385.4 226.3h0M386.8 263.4h0M377.2 238.6h0M381.0 241.1h0M388.0 256.1h0M375.2 267.2h0M382.7 232.7h0M377.9 251.0h0M391.1 242.4h0M378.7 275.8h0M378.2 268.2h0M369.9 246.1h0M372.1 271.1h0M381.3 237.1h0M369.8 247.5h0M369.9 250.7h0M385.7 241.8h0M371.7 244.4h0M371.7 269.0h0M369.9 263.8h0M375.8 263.1h0M386.8 232.9h0M386.4 274.2h0M381.7 258.9h0M375.6 234.9h0M386.1 267.8h0M372.7 231.8h0M376.3 257.9h0M376.6 275.2h0M387.3 272.7h0M382.5 264.5h0M391.3 227.8h0M381.9 235.5h0M387.4 237.9h0M386.0 243.0h0M383.8 260.6h0M390.2 270.5h0M378.4 261.1h0M372.1 231.0h0M385.4 272.2h0M386.2 252.4h0M383.2 263.2h0M381.7 244.5h0M388.8 244.8h0M390.1 266.8h0M387.3 268.5h0M392.2 276.5h0M380.0 245.2h0M385.8 275.4h0M383.3 227.3h0M368.5 249.7h0M387.2 271.3h0M376.9 252.4h0M380.3 230.8h0M367.5 252.7h0M380.1 270.0h0M372.0 269.5h0M374.3 253.5h0M385.2 233.4h0M391.2 274.9h0M391.7 226.1h0M383.6 260.2h0M389.5 236.3h0M370.6 267.3h0M374.0 229.4h0M369.8 258.9h0M380.9 264.1h0M387.7 226.1h0M390.8 270.9h0M390.8 265.2h0M377.1 238.7h0M390.3 247.4h0M379.7 261.6h0M384.7 261.4h0M383.1 251.9h0M386.7 246.2h0M374.1 272.4h0M388.6 262.6h0M371.7 228.3h0M390.6 274.1h0M374.3 258.1h0M368.0 246.1h0M385.1 244.4h0M387.7 272.6h0M370.9 261.1h0M376.9 234.9h0M376.2 250.6h0M389.9 265.0h0M367.6 228.9h0M392.3 254.4h0M382.8 244.0h0M388.3 254.4h0M382.3 238.7h0M386.9 236.9h0M370.9 256.5h0M388.3 240.9h0M375.1 233.6h0M382.6 265.3h0M370.6 253.3h0M381.0 231.4h0M380.8 239.9h0M372.5 276.3h0M369.8 243.5h0M383.0 246.6h0M367.9 270.2h0M373.5 247.0h0M390.2 275.4h0M390.4 247.0h0M386.1 269.3h0M372.4 275.4h0M370.0 259.5h0M373.5 237.0h0M370.9 274.0h0M370.7 272.5h0M371.6 242.8h0M372.8 276.4h0M369.8 269.9h0M375.0 274.6h0M386.3 239.5h0M380.2 234.2h0M377.7 227.3h0M384.5 256.3h0M374.3 226.7h0M391.0 232.4h0M375.7 227.3h0M377.1 246.5h0M380.8 242.5h0M373.7 266.1h0M374.5 242.9h0M379.8 240.0h0M385.7 230.3h0M375.6 247.5h0M374.0 268.8h0M376.4 247.5h0M379.2 268.3h0M373.0 268.3h0M391.2 260.9h0M371.7 272.4h0M375.3 260.0h0M369.5 268.5h0M390.9 274.4h0M382.2 264.6h0M391.9 269.5h0M391.4 270.1h0M384.9 270.4h0M370.6 260.6h0M369.1 275.5h0M392.4 268.3h0M371.4 257.7h0M378.7 263.6h0M372.4 257.0h0M383.7 272.4h0M369.1 261.8h0M375.0 266.9h0M382.6 264.0h0M389.1 263.6h0M375.1 271.9h0M388.5 274.3h0M371.7 259.3h0M379.1 276.3h0M383.0 268.7h0M375.7 276.8h0M372.1 267.3h0M384.4 272.8h0M387.8 263.5h0M374.3 276.6h0M381.3 261.2h0M371.0 272.7h0M388.7 267.5h0M377.1 269.5h0M392.0 267.7h0M387.2 274.4h0M386.4 265.7h0M372.0 270.3h0M388.3 276.2h0M371.3 257.5h0M383.4 273.2h0M369.4 268.5h0M374.2 277.0h0M376.5 256.8h0M387.1 261.6h0M378.0 257.9h0M375.8 257.9h0M373.9 267.7h0M375.0 269.7h0M390.0 267.7h0M368.2 276.1h0M372.4 262.6h0M380.7 268.6h0M376.1 264.7h0M383.2 265.1h0M374.6 264.0h0M377.1 261.4h0M382.5 266.3h0M377.8 270.6h0M387.8 269.3h0M376.0 275.6h0M370.1 272.7h0M378.0 263.7h0M388.6 269.4h0M391.8 274.3h0M370.4 266.1h0M386.7 256.8h0M381.1 276.8h0M373.5 257.6h0M374.7 262.6h0M374.6 264.5h0M388.3 266.4h0M382.2 257.4h0M369.1 275.9h0M376.2 275.8h0M375.9 269.1h0M384.0 257.0h0M369.3 264.7h0M370.7 261.5h0M372.4 261.9h0M378.9 261.8h0M375.9 265.7h0M384.6 255.9h0M392.4 264.5h0M390.6 255.2h0M368.9 257.2h0M390.3 264.1h0M388.7 270.3h0M369.7 263.0h0M375.8 265.0h0M386.3 256.8h0M390.7 265.5h0M376.6 270.3h0M374.4 270.7h0M377.9 265.5h0M372.2 259.5h0M389.0 267.7h0M378.1 272.0h0M390.3 258.5h0M392.4 255.3h0M382.8 260.8h0M373.8 265.9h0M382.6 264.6h0M385.3 275.9h0M371.7 260.2h0M382.7 264.0h0M375.4 266.1h0M384.9 275.0h0M391.0 273.0h0M376.2 274.4h0M385.2 258.8h0M391.3 260.4h0M384.6 270.3h0M390.2 269.7h0M392.1 256.3h0M368.4 259.3h0M381.9 264.3h0M369.6 259.4h0M382.0 263.9h0M386.6 265.3h0M389.4 271.7h0M379.9 262.9h0M372.8 261.4h0M376.4 262.9h0M372.0 265.4h0M370.3 274.1h0M381.3 257.1h0M375.7 260.6h0M371.4 265.6h0M372.1 258.3h0M385.1 264.5h0M384.3 265.3h0M380.1 261.8h0M378.2 265.6h0M376.1 273.2h0M373.7 259.9h0M376.1 272.3h0M388.7 267.4h0M376.5 269.3h0M388.2 260.3h0M384.2 270.6h0M377.3 258.2h0M382.7 259.6h0M376.7 267.0h0M391.6 258.2h0M369.3 266.9h0M391.1 256.0h0M383.6 255.6h0M381.3 257.6h0M384.0 262.9h0M383.9 260.7h0M369.4 259.0h0M374.3 258.6h0M372.5 267.0h0M378.4 273.2h0M379.9 266.9h0M385.3 273.8h0M382.1 255.8h0M379.0 255.7h0M382.6 256.4h0M381.0 258.3h0M388.9 257.1h0M384.0 270.5h0M374.4 268.0h0M375.7 260.7h0M374.0 255.3h0M384.3 256.6h0M372.4 256.9h0M387.6 266.6h0M379.2 267.8h0M387.7 268.7h0M380.3 261.9h0M380.4 276.7h0M381.7 265.5h0M389.7 256.2h0M369.1 272.4h0M391.1 256.1h0M368.1 255.2h0M381.9 258.0h0M381.5 269.6h0M367.9 274.1h0M373.8 267.2h0M376.3 262.6h0M377.6 255.1h0M378.2 260.8h0M376.4 258.6h0M375.9 270.4h0M392.1 259.3h0M389.2 268.5h0M370.0 255.3h0M389.6 260.1h0M370.2 269.4h0M385.2 274.7h0M380.0 261.9h0M375.5 259.5h0M383.4 275.7h0M369.6 263.5h0M376.3 256.8h0M382.4 276.6h0M374.4 271.0h0" stroke="#000" stroke-width="1.25" stroke-linecap="square"/>
<path d="M417.8 273.1h0M411.2 270.1h0M413.7 266.7h0M418.3 257.2h0M407.1 259.9h0M420.0 265.4h0M419.0 264.0h0M417.2 245.1h0M406.5 264.7h0M410.2 264.9h0M401.3 262.2h0M416.0 264.4h0M419.3 264.8h0M401.0 264.1h0M415.6 267.3h0M414.4 266.1h0M397.9 259.0h0M419.9 270.6h0M409.0 266.2h0M403.7 265.6h0M397.8 270.3h0M416.5 270.6h0M405.4 271.8h0M409.8 272.1h0M401.9 268.9h0M412.2 269.8h0M406.9 255.7h0M417.2 269.4h0M413.7 261.4h0M415.0 260.2h0M403.3 253.8h0M398.6 265.0h0M419.0 223.5h0M420.4 269.3h0M413.1 269.8h0M420.0 271.7h0M414.7 255.2h0M412.1 269.1h0M407.5 271.0h0M405.9 236.8h0M409.2 259.3h0M402.6 262.4h0M407.7 266.0h0M409.7 258.4h0M397.8 266.8h0M406.8 263.3h0M404.1 269.0h0M412.9 267.4h0M417.3 268.7h0M412.4 261.3h0M413.6 270.6h0M412.3 269.6h0M403.4 269.3h0M406.4 247.2h0M418.1 273.9h0M420.7 266.4h0M401.5 262.1h0M397.3 265.5h0M421.0 266.7h0M418.5 268.2h0M412.2 260.8h0M417.4 261.0h0M411.9 263.9h0M419.6 270.6h0M403.1 265.0h0M408.1 239.0h0M413.8 265.3h0M402.4 258.7h0M414.9 212.7h0M403.6 275.9h0M414.8 262.8h0M417.1 267.5h0M407.6 264.1h0M421.8 244.5h0M412.8 273.4h0M415.9 275.2h0M397.5 257.7h0M399.8 264.8h0M414.8 263.3h0M420.6 257.0h0M412.7 269.5h0M419.8 272.0h0M398.5 270.3h0M419.3 269.4h0M418.9 219.7h0M412.7 259.9h0M407.7 266.0h0M414.6 269.9h0M403.1 263.3h0M413.7 265.7h0M414.4 272.1h0M410.5 228.4h0M403.5 260.8h0M397.1 261.3h0M401.9 277.2h0M417.8 259.3h0M402.3 242.8h0M398.9 265.3h0M403.2 268.7h0M410.0 255.6h0M411.7 272.7h0M418.9 259.8h0M418.4 269.3h0M421.2 256.8h0M419.1 273.6h0M408.3 259.2h0M400.5 271.5h0M420.9 271.7h0M402.7 261.3h0M412.6 250.2h0M403.6 269.3h0M417.4 266.1h0M402.0 264.8h0M407.5 271.1h0M402.5 265.8h0M418.5 267.7h0M412.5 266.1h0M412.8 265.6h0M404.9 265.1h0M401.4 257.7h0M418.4 262.3h0M416.1 262.0h0M415.4 261.3h0M421.9 271.0h0M411.0 253.3h0M401.5 259.2h0M412.2 266.4h0M404.2 263.5h0M409.8 259.7h0M408.5 264.8h0M411.1 267.1h0M420.0 269.3h0M417.3 274.7h0M407.4 272.1h0M417.4 265.5h0M418.5 266.1h0M416.3 265.1h0M410.8 261.1h0M419.5 274.2h0M409.3 247.1h0M399.6 258.3h0M403.8 269.6h0M413.4 268.2h0M406.5 261.6h0M407.6 274.8h0M407.1 265.2h0M401.8 266.4h0M399.3 250.8h0M398.2 272.3h0M413.8 252.7h0M405.1 266.0h0M408.4 272.6h0M420.4 274.3h0M412.7 273.2h0M417.3 272.1h0M416.1 260.7h0M420.8 236.2h0M398.7 265.0h0M406.6 246.8h0M420.7 274.2h0M408.6 204.6h0M420.7 263.7h0M401.6 259.6h0M398.5 213.4h0M419.4 266.1h0M407.3 248.1h0M409.7 273.4h0M420.4 270.3h0M402.5 263.3h0M421.2 272.3h0M406.9 271.8h0M403.2 263.3h0M402.8 272.6h0M410.0 275.0h0M408.7 268.8h0M419.2 264.1h0M398.3 273.7h0M398.1 275.4h0M400.8 262.5h0M412.1 250.9h0M416.5 272.6h0M409.0 269.0h0M412.3 259.7h0M413.1 266.5h0M397.5 262.3h0M403.2 273.4h0M421.9 263.7h0M405.3 257.9h0M420.7 241.4h0M409.3 263.6h0M402.6 275.7h0M397.1 259.4h0M402.4 265.4h0M405.0 274.5h0M408.0 201.4h0M408.2 262.3h0M410.7 271.7h0M408.9 250.6h0M397.8 273.7h0M403.7 271.5h0M421.1 255.7h0M397.7 269.2h0M415.4 267.8h0M408.9 269.4h0M414.7 261.6h0M405.3 263.5h0M406.3 259.5h0M409.9 262.5h0M419.7 257.2h0M405.2 273.4h0M399.1 272.6h0M398.0 263.9h0M419.0 270.5h0M404.8 265.9h0M400.0 261.7h0M411.9 263.2h0M418.1 275.5h0M412.0 262.8h0M400.8 267.2h0M407.1 273.4h0M403.7 261.5h0M397.4 271.9h0M421.1 254.8h0M408.5 269.7h0M400.4 272.2h0M419.1 272.2h0M421.6 274.5h0M417.4 269.9h0M403.3 275.3h0M401.8 261.4h0M410.1 268.1h0M411.6 258.5h0M419.0 249.9h0M421.2 265.6h0M419.8 269.7h0M405.6 271.3h0M411.6 219.8h0M400.1 274.4h0M410.0 261.0h0M398.8 262.5h0M399.8 270.8h0M400.0 274.1h0M404.5 271.7h0M404.7 263.8h0M414.6 266.5h0M398.9 271.2h0M399.8 263.8h0M413.4 271.1h0M413.8 270.8h0M414.8 266.7h0M415.0 272.7h0M413.6 264.2h0M410.8 269.4h0M415.5 268.6h0M399.0 263.2h0M402.3 266.8h0M415.5 267.9h0M401.8 268.3h0M410.3 252.3h0M403.5 275.2h0M407.8 274.5h0M417.9 238.8h0M413.5 275.5h0M408.1 267.4h0M403.8 253.9h0M417.1 271.6h0M413.4 266.0h0M408.0 269.5h0M418.7 272.7h0M414.3 268.0h0M421.5 242.6h0M413.6 272.2h0M419.5 270.1h0M410.8 274.5h0M414.8 261.0h0M418.1 271.9h0M399.3 272.5h0M408.9 263.2h0M412.1 265.0h0M398.4 263.1h0M416.7 199.2h0M414.9 259.3h0M420.4 262.6h0M406.3 253.6h0M408.7 272.1h0M419.8 265.6h0M407.3 268.3h0M417.9 261.6h0M407.5 263.8h0M405.4 270.9h0M403.9 265.4h0M402.3 267.5h0M407.8 265.2h0M401.0 267.4h0M417.7 272.5h0M421.4 261.6h0M399.4 266.8h0M398.4 270.2h0M397.1 250.1h0M420.3 274.5h0M398.8 266.6h0M414.0 260.6h0M404.6 270.3h0M402.0 271.4h0M403.2 269.2h0M414.2 274.0h0M397.4 251.1h0M418.6 265.9h0M411.2 270.3h0M402.9 273.4h0M402.2 269.1h0M413.4 268.0h0M412.7 264.2h0M405.0 268.3h0M405.4 267.5h0M408.6 272.7h0M419.8 272.6h0M410.5 270.9h0M418.0 273.5h0M413.0 247.1h0M411.1 270.5h0M409.2 266.5h0M414.0 270.6h0M409.3 261.8h0M415.1 265.6h0M401.6 271.4h0M405.1 237.4h0M418.8 262.2h0M406.9 266.3h0M418.1 272.0h0M420.4 259.4h0M411.5 271.9h0M399.5 259.6h0M415.9 262.7h0M413.6 268.1h0M404.3 269.1h0M418.6 272.7h0M409.1 272.8h0M398.4 260.9h0M398.7 270.2h0M402.7 268.4h0M412.2 263.7h0M417.4 271.7h0M399.5 273.2h0M397.6 266.6h0M412.6 273.5h0M407.2 254.6h0M408.0 257.1h0M417.5 271.0h0M420.0 263.0h0M421.2 268.2h0M416.5 266.1h0M397.1 255.4h0M400.8 271.7h0M411.7 270.3h0M420.9 255.7h0M399.0 262.1h0M409.9 272.1h0M406.9 273.9h0M407.2 272.5h0M403.7 267.9h0M403.8 264.3h0M403.0 266.0h0M399.6 257.8h0M410.9 265.7h0M408.1 259.5h0M414.8 257.2h0M413.0 264.5h0M420.8 246.0h0M405.5 265.4h0M419.1 268.8h0M406.6 268.8h0M413.5 274.3h0M417.1 273.5h0M406.9 269.4h0M408.2 274.9h0M412.8 266.2h0M399.8 271.0h0M410.3 261.3h0M399.4 264.9h0M402.6 275.0h0M412.6 268.2h0M421.3 267.3h0M422.0 271.5h0M403.5 263.1h0M400.7 272.2h0M410.0 222.1h0M408.0 261.4h0M406.5 257.2h0M416.2 260.9h0M414.7 273.4h0M411.0 230.2h0M412.5 263.1h0M411.5 268.3h0M413.9 269.1h0M420.2 271.1h0M420.7 264.2h0M421.5 259.9h0M418.5 272.2h0M399.6 254.4h0M408.3 246.1h0M416.5 260.8h0M404.4 266.7h0M412.2 274.1h0M398.4 270.2h0M402.1 267.4h0M407.0 267.5h0M398.8 269.5h0M407.6 268.7h0M402.8 263.0h0M418.5 250.1h0M405.0 259.5h0M406.5 270.5h0M417.1 269.1h0M411.0 271.7h0M398.3 240.0h0M402.4 272.8h0M412.3 264.0h0M402.0 273.3h0M403.2 267.4h0M417.9 243.6h0M410.7 232.5h0M398.3 213.1h0M407.7 238.1h0M406.4 244.5h0M421.9 193.4h0M414.0 213.6h0M407.1 216.5h0M406.1 265.6h0M416.2 194.4h0M399.4 219.9h0M417.4 206.7h0M413.8 249.8h0M407.9 259.8h0M414.8 194.9h0M406.9 264.2h0M400.6 249.9h0M407.4 208.7h0M398.3 268.8h0M399.2 215.2h0M408.0 257.8h0M417.6 196.4h0M402.1 229.2h0M409.5 233.5h0M421.5 267.1h0M419.5 253.7h0M420.0 268.9h0M413.1 251.2h0M403.9 248.2h0M419.4 270.9h0M399.2 262.0h0M402.3 269.5h0M411.3 275.3h0M415.2 248.2h0M406.3 263.4h0M419.8 256.9h0M401.7 254.1h0M403.2 249.9h0M405.6 253.0h0M409.8 273.6h0M420.9 250.1h0M411.2 266.6h0M400.8 262.0h0M402.0 256.7h0M405.1 271.1h0M402.9 262.3h0M411.6 255.6h0M420.2 255.6h0M405.2 267.2h0M409.2 268.2h0M400.8 249.7h0M415.4 257.4h0M418.4 252.5h0M403.0 272.6h0M406.0 248.5h0M402.5 269.6h0M403.6 262.8h0M417.9 264.5h0M415.8 276.3h0M404.5 273.0h0M410.8 251.4h0M400.3 255.5h0M400.4 269.7h0M410.9 246.4h0M419.0 264.1h0M408.1 249.5h0M408.7 274.4h0M411.6 259.7h0M412.2 262.6h0M412.6 251.4h0M400.7 245.4h0M417.8 245.1h0M403.4 263.7h0M409.5 273.8h0M402.3 248.6h0M401.0 260.9h0M404.3 259.6h0M414.2 255.3h0M413.6 245.6h0M410.7 274.0h0M420.4 263.3h0M421.6 252.5h0M404.4 259.3h0M409.7 271.2h0M408.2 246.5h0M414.5 252.1h0M419.1 251.8h0M404.4 249.4h0M404.6 264.2h0M403.7 246.6h0M411.7 268.5h0M399.7 258.6h0M398.7 245.5h0M406.4 254.2h0M418.9 245.4h0M413.2 268.5h0M407.4 261.0h0M403.2 253.1h0M398.3 274.0h0M397.7 249.4h0M415.1 259.6h0M409.8 254.4h0M401.0 270.6h0M400.1 254.5h0M415.8 254.5h0M420.8 250.6h0M410.2 262.2h0M409.5 269.8h0M398.2 262.5h0M416.7 246.6h0M410.7 259.1h0M407.1 262.2h0M412.6 267.5h0M419.5 266.0h0M422.0 266.3h0M403.7 249.7h0M398.8 253.6h0M400.0 266.9h0M414.2 264.6h0M406.6 259.8h0M403.5 274.4h0M397.4 255.3h0M411.3 250.8h0M418.4 260.4h0M406.3 247.0h0M404.0 263.9h0M404.0 246.4h0M411.5 254.7h0M418.2 267.1h0M415.0 273.5h0M417.3 255.5h0M411.2 253.3h0M402.0 251.6h0M399.8 252.6h0M402.6 266.5h0M403.3 246.5h0M407.5 251.4h0M414.2 252.1h0M410.9 250.6h0M409.1 272.8h0M404.6 261.9h0M408.0 247.2h0M397.5 272.0h0M405.5 267.0h0M407.3 271.8h0M401.9 260.5h0M410.7 270.4h0M397.7 256.6h0M408.9 263.8h0M400.5 262.4h0M414.3 268.5h0M402.6 259.1h0M404.4 257.4h0M406.1 275.2h0M397.3 275.3h0M397.8 247.5h0M402.2 254.2h0M418.4 271.9h0M420.4 257.5h0M397.4 265.0h0M419.5 248.4h0M417.7 245.1h0M415.3 260.8h0M419.7 273.0h0M398.2 260.9h0M403.1 259.1h0M398.7 256.5h0M407.2 245.1h0M408.9 273.6h0M398.5 275.2h0M409.2 251.7h0M421.2 260.2h0M407.9 257.0h0M419.0 249.2h0M402.3 254.1h0M398.6 272.0h0M409.2 264.3h0M419.1 260.8h0M403.9 262.0h0M409.5 254.6h0M402.8 256.4h0M415.4 250.3h0M421.9 252.5h0M403.8 248.9h0M406.8 256.9h0M414.0 275.2h0M403.2 273.8h0M404.7 266.9h0M400.2 275.2h0M406.3 271.9h0M397.7 271.9h0M402.7 267.7h0M413.8 262.9h0M410.2 274.2h0M401.1 267.9h0M401.6 262.4h0M409.2 267.8h0M413.1 274.6h0M414.7 265.7h0M409.2 271.5h0M418.0 271.6h0M409.6 262.3h0M418.7 264.8h0M407.1 275.0h0M402.2 275.5h0M402.7 261.5h0M409.8 273.5h0M407.1 274.3h0M406.9 273.9h0M399.8 264.8h0M400.1 272.6h0M408.7 271.1h0M403.0 272.5h0M421.8 261.3h0M405.0 274.8h0M418.3 274.8h0M402.7 269.6h0M399.2 267.3h0M411.4 264.4h0M407.6 266.2h0M399.1 261.2h0M416.5 260.0h0M421.7 275.3h0M421.7 273.4h0M397.1 262.0h0M405.0 263.1h0M398.5 275.6h0M419.8 273.0h0M403.3 274.5h0M417.5 265.5h0M400.2 262.3h0M407.2 274.1h0M398.9 267.3h0M405.9 275.2h0M400.8 271.1h0M405.1 271.0h0M417.6 274.0h0M418.1 265.0h0M403.9 262.1h0M403.4 262.0h0M416.6 260.8h0M401.8 273.4h0M416.2 276.5h0M406.6 260.8h0M417.2 264.9h0M416.3 260.3h0M397.9 270.2h0M414.1 269.6h0M410.3 270.2h0M400.3 261.1h0M405.7 269.3h0M403.2 263.0h0M408.2 267.0h0M403.7 275.8h0M420.6 260.8h0M409.0 264.0h0M405.4 260.5h0M399.0 260.6h0M400.1 271.0h0M399.0 275.1h0M417.1 264.6h0M414.3 276.2h0M399.9 269.5h0M408.6 265.3h0M404.2 261.5h0M413.2 263.4h0M407.6 275.8h0M405.7 265.4h0M420.3 269.9h0M411.3 263.8h0M413.0 266.4h0M410.6 266.8h0M399.0 274.9h0M414.3 276.3h0M404.7 264.8h0M400.4 265.2h0M405.1 263.1h0M403.6 265.0h0M418.4 267.6h0M417.5 260.8h0M401.7 276.2h0M398.3 261.2h0M409.9 264.9h0M401.9 270.3h0M412.2 263.2h0M410.5 267.7h0M418.2 261.2h0M402.8 269.6h0M397.8 274.4h0M421.2 265.6h0M416.4 264.2h0M420.7 263.6h0M397.1 261.2h0M408.5 260.7h0M421.5 270.7h0M411.2 270.6h0M407.5 275.1h0M414.8 267.3h0M404.1 262.5h0M404.9 266.0h0M399.0 275.7h0M403.4 269.2h0M398.7 269.4h0M413.2 261.4h0M421.4 262.8h0M403.6 272.5h0M405.4 274.9h0M403.0 265.3h0M414.3 274.6h0M419.1 264.9h0M410.3 267.0h0M413.9 263.9h0M418.0 272.1h0M401.4 265.3h0M405.4 275.8h0M408.4 270.5h0M420.3 266.7h0M420.7 265.0h0M397.3 261.7h0M414.3 266.5h0M417.8 269.1h0M414.1 266.0h0M411.7 271.9h0M406.4 268.3h0M418.1 275.8h0M405.8 261.1h0M418.1 267.6h0M421.2 273.0h0M406.2 274.5h0M410.7 272.1h0M419.1 269.9h0M420.7 266.8h0M406.5 270.9h0M407.1 272.0h0M410.3 272.6h0M417.6 269.6h0M419.9 273.3h0M418.4 260.3h0M397.4 270.8h0M405.3 274.8h0M406.8 272.6h0M403.2 270.7h0M419.5 274.7h0M406.2 268.2h0M410.4 265.9h0M409.1 276.4h0M419.0 265.3h0M414.1 276.1h0M406.1 274.4h0M416.9 275.1h0M399.1 275.7h0M421.5 264.1h0M412.8 261.5h0M412.1 272.0h0M415.6 274.6h0M404.3 262.0h0M417.4 260.4h0M402.8 264.0h0M416.4 267.5h0M417.9 271.4h0M418.1 273.4h0M419.0 264.7h0M405.9 270.7h0M411.6 273.2h0M417.2 265.2h0M400.0 272.6h0M414.2 264.7h0M398.4 260.4h0M403.2 264.6h0M402.2 260.9h0M401.3 265.9h0M399.3 263.5h0M408.0 274.4h0M418.8 266.9h0M400.1 264.6h0M413.9 266.9h0M411.3 272.5h0M413.5 274.6h0M399.1 265.0h0M397.9 268.9h0M412.4 264.3h0M398.4 267.9h0M401.2 263.3h0M406.5 276.1h0M406.0 272.1h0M406.3 266.9h0M400.5 263.1h0M416.3 267.3h0M404.1 276.8h0M419.0 264.5h0M407.9 269.6h0M401.2 267.3h0M404.1 273.8h0M399.4 276.9h0M402.9 265.6h0M398.9 275.5h0M417.7 261.1h0M410.2 266.6h0M412.2 265.7h0M420.9 263.7h0M417.5 264.6h0M413.2 267.3h0M410.1 268.9h0M412.6 261.2h0M398.5 276.5h0M403.3 266.1h0M403.0 271.0h0M421.6 266.8h0M405.0 265.9h0M397.7 261.5h0M398.2 265.5h0M421.6 262.4h0M410.7 263.5h0M397.9 274.2h0M400.2 262.3h0M417.4 264.1h0M402.0 276.0h0M401.9 274.1h0M404.7 269.6h0M404.8 265.8h0M420.3 275.4h0M401.4 272.3h0M400.5 265.1h0M398.8 271.0h0M415.2 272.7h0M416.4 266.7h0M401.4 260.1h0M408.0 275.9h0M408.2 270.5h0M419.9 274.7h0M415.5 270.1h0M402.8 272.7h0M407.4 272.0h0M402.6 276.0h0M401.1 273.4h0" stroke="#000" stroke-width="1.25" stroke-linecap="square"/>
<text x="0" y="0" font-size="9.3" text-anchor="middle" fill="#222" stroke="#222" stroke-width="0.25" transform="translate(382.2,296.1) rotate(-45)">TT</text>
<text x="0" y="0" font-size="9.3" text-anchor="middle" fill="#222" stroke="#222" stroke-width="0.25" transform="translate(411.7,296.1) rotate(-45)">TAT</text>
<path d="M476.4 145.5 V282.0 H541" stroke="#000" stroke-width="1.1" fill="none"/>
<path d="M473.9 186.8 H476.4M473.9 231.6 H476.4M473.9 276.4 H476.4M494 282.0 V284.5M523.4 282.0 V284.5" stroke="#000" stroke-width="0.9"/>
<text x="473.1" y="189.7" font-size="8.0" text-anchor="end" fill="#1a1a1a" stroke="#1a1a1a" stroke-width="0.18" >150</text>
<text x="473.1" y="234.5" font-size="8.0" text-anchor="end" fill="#1a1a1a" stroke="#1a1a1a" stroke-width="0.18" >100</text>
<text x="473.1" y="279.3" font-size="8.0" text-anchor="end" fill="#1a1a1a" stroke="#1a1a1a" stroke-width="0.18" >50</text>
<text x="0" y="0" font-size="9" text-anchor="middle" dy="0.35em" fill="#222" stroke="#222" stroke-width="0.25" transform="translate(456.80,218.00) rotate(-90)" textLength="115.8" lengthAdjust="spacingAndGlyphs">Number of miRNA species</text>
<path d="M494.00 152.00 L494.80 152.00 L494.89 154.01 L494.95 156.02 L495.03 158.03 L495.11 160.03 L495.19 162.04 L495.27 164.05 L495.35 166.06 L495.44 168.07 L495.54 170.08 L495.63 172.08 L495.72 174.09 L495.82 176.10 L495.95 178.11 L496.15 180.12 L496.46 182.13 L496.83 184.14 L497.23 186.14 L497.63 188.15 L498.03 190.16 L498.43 192.17 L498.84 194.18 L499.24 196.19 L499.64 198.19 L500.04 200.20 L500.46 202.21 L500.91 204.22 L501.42 206.23 L501.98 208.24 L502.57 210.25 L503.16 212.25 L503.71 214.26 L504.21 216.27 L504.65 218.28 L505.06 220.29 L505.45 222.30 L505.81 224.31 L506.14 226.31 L506.43 228.32 L506.69 230.33 L506.93 232.34 L507.11 234.35 L507.19 236.36 L507.19 238.36 L507.14 240.37 L507.04 242.38 L506.84 244.39 L506.49 246.40 L506.00 248.41 L505.37 250.42 L504.63 252.42 L503.75 254.43 L502.77 256.44 L501.71 258.45 L500.57 260.46 L499.34 262.47 L498.09 264.47 L496.89 266.48 L495.92 268.49 L494.80 270.50 L493.20 270.50 L492.08 268.49 L491.11 266.48 L489.91 264.47 L488.66 262.47 L487.43 260.46 L486.29 258.45 L485.23 256.44 L484.25 254.43 L483.37 252.42 L482.63 250.42 L482.00 248.41 L481.51 246.40 L481.16 244.39 L480.96 242.38 L480.86 240.37 L480.81 238.36 L480.81 236.36 L480.89 234.35 L481.07 232.34 L481.31 230.33 L481.57 228.32 L481.86 226.31 L482.19 224.31 L482.55 222.30 L482.94 220.29 L483.35 218.28 L483.79 216.27 L484.29 214.26 L484.84 212.25 L485.43 210.25 L486.02 208.24 L486.58 206.23 L487.09 204.22 L487.54 202.21 L487.96 200.20 L488.36 198.19 L488.76 196.19 L489.16 194.18 L489.57 192.17 L489.97 190.16 L490.37 188.15 L490.77 186.14 L491.17 184.14 L491.54 182.13 L491.85 180.12 L492.05 178.11 L492.18 176.10 L492.28 174.09 L492.37 172.08 L492.46 170.08 L492.56 168.07 L492.65 166.06 L492.73 164.05 L492.81 162.04 L492.89 160.03 L492.97 158.03 L493.05 156.02 L493.11 154.01 L493.20 152.00 Z" fill="#f6786e" stroke="#1a1a1a" stroke-width="0.9"/>
<path d="M523.40 159.90 L524.20 159.90 L524.23 161.86 L524.26 163.83 L524.29 165.79 L524.32 167.75 L524.35 169.71 L524.38 171.68 L524.41 173.64 L524.44 175.60 L524.47 177.56 L524.50 179.53 L524.53 181.49 L524.58 183.45 L524.66 185.42 L524.81 187.38 L525.00 189.34 L525.23 191.30 L525.46 193.27 L525.75 195.23 L526.12 197.19 L526.61 199.15 L527.19 201.12 L527.82 203.08 L528.49 205.04 L529.22 207.01 L529.99 208.97 L530.77 210.93 L531.54 212.89 L532.26 214.86 L532.92 216.82 L533.53 218.78 L534.12 220.74 L534.68 222.71 L535.19 224.67 L535.60 226.63 L535.93 228.59 L536.20 230.56 L536.37 232.52 L536.40 234.48 L536.32 236.45 L536.17 238.41 L535.95 240.37 L535.62 242.33 L535.14 244.30 L534.57 246.26 L533.90 248.22 L533.16 250.18 L532.29 252.15 L531.34 254.11 L530.36 256.07 L529.38 258.04 L528.40 260.00 L527.45 261.96 L526.61 263.92 L525.96 265.89 L525.49 267.85 L525.14 269.81 L524.82 271.77 L524.55 273.74 L524.20 275.70 L522.60 275.70 L522.25 273.74 L521.98 271.77 L521.66 269.81 L521.31 267.85 L520.84 265.89 L520.19 263.92 L519.35 261.96 L518.40 260.00 L517.42 258.04 L516.44 256.07 L515.46 254.11 L514.51 252.15 L513.64 250.18 L512.90 248.22 L512.23 246.26 L511.66 244.30 L511.18 242.33 L510.85 240.37 L510.63 238.41 L510.48 236.45 L510.40 234.48 L510.43 232.52 L510.60 230.56 L510.87 228.59 L511.20 226.63 L511.61 224.67 L512.12 222.71 L512.68 220.74 L513.27 218.78 L513.88 216.82 L514.54 214.86 L515.26 212.89 L516.03 210.93 L516.81 208.97 L517.58 207.01 L518.31 205.04 L518.98 203.08 L519.61 201.12 L520.19 199.15 L520.68 197.19 L521.05 195.23 L521.34 193.27 L521.57 191.30 L521.80 189.34 L521.99 187.38 L522.14 185.42 L522.22 183.45 L522.27 181.49 L522.30 179.53 L522.33 177.56 L522.36 175.60 L522.39 173.64 L522.42 171.68 L522.45 169.71 L522.48 167.75 L522.51 165.79 L522.54 163.83 L522.57 161.86 L522.60 159.90 Z" fill="#2fbec4" stroke="#1a1a1a" stroke-width="0.9"/>
<path d="M505.8 251.9h0M502.0 209.1h0M491.6 251.5h0M501.4 239.1h0M490.5 237.2h0M486.2 218.4h0M503.9 223.1h0M482.4 216.9h0M501.3 229.1h0M505.5 240.3h0M483.6 243.1h0M503.0 243.3h0M501.0 223.7h0M482.6 222.8h0M492.6 245.7h0M488.0 261.0h0M491.1 214.4h0M491.0 227.9h0M491.4 218.7h0M481.7 260.2h0M488.3 181.3h0M488.8 252.5h0M497.7 245.8h0M498.9 222.8h0M500.3 242.3h0M497.4 225.3h0M503.9 238.4h0M495.4 227.7h0M489.3 254.0h0M482.5 230.2h0M499.7 248.0h0M495.6 236.7h0M485.6 225.5h0M494.3 259.9h0M505.1 214.0h0M496.6 253.8h0M489.2 262.1h0M501.7 250.5h0M491.4 238.3h0M481.9 238.1h0M483.5 254.6h0M505.5 228.5h0M483.8 248.7h0M501.1 244.4h0M482.3 250.4h0M492.1 229.5h0M488.6 239.6h0M490.1 201.6h0M483.8 200.0h0M491.5 205.4h0M500.5 243.7h0M494.6 225.3h0M484.8 254.7h0M501.6 199.5h0M503.3 213.3h0M492.9 248.9h0M490.5 227.9h0M481.9 214.9h0M483.3 246.2h0M490.9 216.0h0M484.3 260.7h0M505.7 220.1h0M497.6 250.8h0M489.3 231.2h0M496.1 257.2h0M485.7 220.4h0M504.4 256.0h0M494.0 221.1h0M499.0 229.7h0M486.1 238.8h0M493.3 235.0h0M499.3 240.8h0M491.2 241.6h0M483.1 218.8h0M493.2 172.2h0M502.1 243.1h0M493.1 236.6h0M506.0 235.1h0M495.5 231.8h0M503.6 255.6h0M482.3 221.0h0M497.3 254.2h0M494.3 211.0h0M490.4 242.0h0M504.1 256.0h0M483.8 208.2h0M493.7 245.5h0M489.2 218.4h0M505.5 195.7h0M501.0 227.9h0M486.5 242.4h0M484.7 219.3h0M482.1 257.9h0M486.0 159.2h0M504.7 218.4h0M503.3 222.6h0M501.5 225.7h0M491.5 221.4h0M493.5 184.6h0M495.9 215.8h0M501.8 218.7h0M481.6 241.0h0M486.0 225.6h0M496.0 243.3h0M485.0 229.0h0M505.0 223.1h0M482.6 211.7h0M505.8 215.0h0M486.9 253.7h0M486.3 230.1h0M492.1 222.2h0M497.4 215.0h0M506.0 251.7h0M493.4 242.0h0M504.0 241.4h0M503.8 247.3h0M506.1 216.8h0M490.5 243.4h0M493.4 199.0h0M482.0 239.9h0M491.1 222.7h0M490.3 239.8h0M484.6 216.4h0M502.3 224.5h0M488.5 240.6h0M484.8 256.0h0M484.4 223.1h0M482.1 210.9h0M500.4 206.7h0M494.8 241.2h0M494.6 253.6h0M491.8 180.8h0M505.6 223.9h0M491.0 210.4h0M493.4 257.0h0M498.8 207.0h0M504.7 197.9h0M503.0 244.6h0M503.5 267.4h0M486.1 246.2h0M505.1 205.0h0M502.1 226.4h0M489.7 234.8h0M501.6 253.4h0M505.3 244.5h0M500.1 196.9h0M500.0 229.3h0M502.5 247.1h0M503.5 233.6h0M501.0 239.7h0M483.4 259.7h0M486.7 261.1h0M484.5 250.2h0M493.1 234.8h0M483.1 221.0h0M495.3 210.6h0M504.6 211.4h0M506.0 239.9h0M482.4 246.0h0M498.6 251.9h0M485.1 254.2h0M503.1 220.4h0M482.3 223.8h0M484.1 213.6h0M489.6 234.4h0M481.6 257.1h0M498.1 244.6h0M486.6 228.2h0M499.5 210.2h0M505.2 248.8h0M493.3 253.2h0M493.3 244.6h0M506.4 221.8h0M489.3 227.5h0M503.6 237.0h0M499.3 254.6h0M481.7 217.0h0M488.9 228.7h0M499.5 196.6h0M482.6 161.8h0M502.9 216.9h0M504.3 248.2h0M500.5 240.3h0M501.8 231.0h0M496.4 226.4h0M501.7 218.4h0M493.2 245.8h0M491.7 231.3h0M499.1 198.0h0M493.1 238.9h0M489.3 264.8h0M488.1 199.6h0M492.4 265.5h0M491.1 203.7h0M500.4 221.8h0M501.1 260.0h0M501.5 259.6h0M502.6 213.4h0M490.6 242.5h0M490.7 237.4h0M502.5 227.2h0M486.0 246.2h0M499.0 239.3h0M494.6 215.3h0M498.2 232.0h0M498.9 243.2h0M498.2 238.3h0M487.4 232.9h0M482.1 244.4h0M505.3 207.8h0M503.9 191.8h0M494.1 189.9h0M498.0 237.1h0M483.8 230.0h0M493.0 248.7h0M496.2 261.3h0M499.0 205.1h0M487.0 224.8h0M483.8 228.1h0M505.5 234.7h0M502.7 254.5h0M486.0 237.8h0M502.1 220.9h0M501.8 240.5h0M486.0 223.4h0M501.6 234.7h0M491.1 202.5h0M489.9 234.9h0M485.5 231.7h0M496.3 239.8h0M496.8 234.9h0M494.3 234.9h0M484.0 244.8h0M501.4 206.9h0M489.4 244.7h0M488.1 237.9h0M497.5 240.6h0M486.1 226.9h0M504.3 200.9h0M497.7 255.9h0M501.2 250.1h0M490.0 260.9h0M492.2 230.7h0M487.8 253.0h0M487.8 251.1h0M491.9 234.3h0M501.2 254.2h0M494.1 247.7h0M502.3 203.6h0M484.3 207.6h0M488.7 227.3h0M482.4 233.6h0M504.3 240.3h0M483.1 236.2h0M495.1 251.5h0M498.3 246.5h0M486.6 203.7h0M506.0 222.7h0M506.0 252.0h0M487.5 245.7h0M485.0 181.3h0M497.7 238.6h0M494.4 206.3h0M496.6 232.9h0M497.0 264.1h0M505.4 199.1h0M500.7 249.4h0M489.3 231.7h0M500.2 260.7h0M492.7 249.6h0M505.9 197.9h0M493.4 239.3h0M481.8 250.2h0M504.4 219.9h0M488.4 241.9h0M502.0 216.8h0M496.8 214.8h0M500.1 222.6h0M500.0 220.0h0M504.1 258.4h0M502.3 216.9h0M497.6 227.8h0M489.7 231.9h0M493.8 241.5h0M488.5 260.7h0M489.9 237.6h0M493.0 250.2h0M492.1 206.3h0M488.7 239.5h0M489.1 212.1h0M489.3 253.3h0M486.3 236.2h0M496.1 207.5h0M483.8 250.2h0M487.7 233.6h0M485.8 231.2h0M499.2 200.4h0M488.5 252.9h0M484.0 232.9h0M502.0 251.4h0M492.4 200.5h0M501.6 241.0h0M489.5 225.5h0M490.2 234.2h0M495.5 239.1h0M483.2 248.8h0M505.9 254.6h0M484.8 211.3h0M504.3 251.1h0M498.0 205.3h0M500.6 173.7h0M486.7 221.5h0M503.8 220.2h0M494.9 246.1h0M491.8 235.2h0M486.3 225.8h0M485.8 246.4h0M503.1 255.6h0M505.7 238.7h0M492.0 239.5h0M499.6 250.6h0M499.0 221.2h0M493.8 265.3h0M493.5 211.9h0M495.3 192.6h0M490.2 249.4h0M500.1 212.1h0M491.9 223.0h0M494.1 233.2h0M486.0 204.9h0M505.9 228.0h0M483.4 225.4h0M499.4 201.7h0M498.0 238.2h0M490.1 230.5h0M505.9 210.9h0M482.4 246.5h0M488.3 226.8h0M489.9 186.8h0M497.6 252.1h0M496.3 227.8h0M499.3 202.2h0M503.0 219.9h0M482.0 217.6h0M495.5 193.1h0M491.5 223.7h0M498.7 211.2h0M494.7 215.2h0M490.2 241.6h0M481.7 209.7h0M489.3 184.1h0M492.7 211.6h0M489.9 221.6h0M491.0 211.2h0M497.8 236.6h0M489.9 251.1h0M502.8 248.7h0M490.5 231.3h0M492.4 246.2h0M492.3 246.5h0M504.1 239.4h0M496.6 246.6h0M505.6 225.7h0M481.6 245.0h0M505.4 232.9h0M486.4 243.5h0M503.9 244.2h0M482.6 197.7h0M502.9 249.0h0M497.3 190.4h0M498.6 228.4h0M491.3 236.1h0M491.2 248.1h0M485.4 196.2h0M485.0 241.4h0M497.1 224.7h0M490.1 191.3h0M482.2 223.6h0M485.7 239.7h0M485.8 200.7h0M486.3 250.3h0M492.9 192.9h0M504.3 218.1h0M496.0 222.3h0M500.0 197.8h0M484.1 255.2h0M498.8 259.4h0M503.1 254.5h0M506.4 214.5h0M499.3 248.5h0M496.7 223.1h0M505.6 220.4h0M484.7 240.8h0M501.3 201.8h0M499.5 166.5h0M499.7 256.0h0M490.4 224.6h0M483.5 248.1h0M485.0 228.3h0M498.4 202.0h0M489.3 232.0h0M505.2 211.1h0M484.5 200.1h0M501.9 181.7h0M493.4 227.8h0M488.9 218.4h0M487.9 223.5h0M490.3 259.0h0M490.7 248.7h0M487.2 241.8h0M487.0 216.9h0M505.8 244.9h0M492.0 242.0h0M497.1 234.6h0M499.1 216.6h0M489.8 214.4h0M504.9 227.4h0M488.8 220.2h0M486.3 251.6h0M482.6 230.8h0M488.1 241.9h0M483.0 253.2h0M497.2 238.5h0M495.9 209.2h0M482.1 222.1h0M505.2 254.1h0M499.7 193.4h0M495.3 215.5h0M505.1 237.7h0M494.7 250.8h0M485.9 248.4h0M501.0 243.4h0M505.4 242.0h0M483.0 224.5h0M494.1 196.7h0M487.2 240.3h0M504.1 198.5h0M483.9 247.3h0M501.7 207.2h0M486.7 186.3h0M497.5 269.0h0M498.8 210.9h0M500.5 235.3h0M482.8 196.5h0M493.6 262.6h0M484.6 180.6h0M484.7 241.8h0M485.5 249.4h0M485.2 219.8h0M504.9 170.7h0M495.5 190.8h0M487.8 196.2h0M493.6 244.7h0M482.9 233.8h0M486.9 252.6h0M497.2 238.9h0M498.9 236.8h0M496.9 212.7h0M506.1 215.8h0M506.0 260.9h0M502.3 257.5h0M493.1 229.1h0M500.4 246.7h0M487.7 243.5h0M503.1 220.3h0M487.6 214.1h0M506.3 243.7h0M481.8 258.8h0M501.4 263.0h0M494.0 224.3h0M501.9 197.2h0M494.5 222.3h0M502.3 198.6h0M499.2 263.5h0M497.5 221.9h0M505.3 249.5h0M484.4 217.5h0M504.7 258.8h0M494.5 231.6h0M499.2 247.9h0M498.2 237.1h0M491.3 244.7h0M494.7 199.7h0M505.8 202.5h0M493.7 225.5h0M504.4 252.3h0M481.7 253.9h0M495.9 243.1h0M498.7 237.1h0M491.4 194.2h0M483.5 255.1h0M501.3 239.8h0M500.3 238.1h0M491.0 250.8h0M483.9 216.7h0M502.5 239.5h0M500.9 243.0h0M502.4 244.2h0M502.0 202.5h0M488.1 242.9h0M497.1 253.5h0M493.1 238.4h0M491.3 211.3h0M491.8 255.3h0M498.3 204.2h0M506.5 216.6h0M493.3 250.3h0M490.7 236.7h0M497.2 223.3h0M497.2 247.7h0M491.7 239.6h0M497.6 206.0h0M497.9 215.7h0M500.2 248.4h0M485.7 249.0h0M497.8 199.3h0M491.9 232.5h0M503.5 243.7h0M497.0 222.5h0M501.8 195.4h0M501.8 227.9h0M486.8 256.6h0M483.4 244.0h0M500.5 215.7h0M482.9 250.1h0M505.2 240.6h0M498.8 219.4h0M492.1 218.5h0M498.3 212.1h0M484.8 227.5h0M497.5 224.1h0M504.5 219.6h0M481.5 251.8h0M505.0 244.1h0M489.3 230.7h0M491.4 259.1h0M505.0 240.9h0M501.4 257.7h0M491.1 247.2h0M506.0 238.7h0M482.3 240.9h0M498.0 246.2h0M494.2 244.9h0M503.7 251.6h0M482.0 223.9h0M489.5 224.7h0M493.5 218.1h0M483.3 255.8h0M497.6 253.8h0M502.7 230.0h0M504.2 226.8h0M485.1 208.1h0M494.2 261.1h0M506.1 240.2h0M483.3 259.2h0M499.1 238.4h0M488.7 232.7h0M504.2 244.7h0M496.7 253.0h0M503.9 249.5h0M482.8 223.9h0M496.6 231.6h0M492.0 257.2h0M484.2 233.2h0M491.7 247.8h0M500.0 233.7h0M496.1 248.8h0M496.3 197.4h0M488.5 156.4h0M494.2 201.1h0M492.7 228.2h0M504.3 225.6h0M503.4 258.1h0M492.4 268.0h0M494.1 207.0h0M488.8 249.4h0M495.7 232.1h0M484.8 249.8h0M505.6 224.7h0M491.9 245.9h0M481.7 164.7h0M488.9 230.4h0M505.2 223.3h0M489.3 218.8h0M491.2 220.8h0M505.9 228.5h0M501.1 232.2h0M490.5 233.4h0M485.6 245.1h0M491.3 247.5h0M490.8 258.5h0M503.9 239.4h0M495.0 218.0h0M504.6 235.9h0M506.2 231.2h0M503.2 216.9h0M491.7 224.0h0M491.3 216.9h0M495.2 234.0h0M498.5 198.0h0M502.7 235.5h0M501.9 227.8h0M489.3 168.5h0M499.9 219.7h0M490.9 259.2h0M500.9 235.6h0M481.8 197.6h0M502.7 236.4h0M499.0 241.7h0M485.2 207.6h0M487.8 227.1h0M489.3 214.9h0M494.3 234.7h0M504.1 248.6h0M505.8 217.1h0M496.6 207.6h0M484.2 207.8h0M506.0 238.0h0M505.5 197.4h0M483.7 233.8h0M498.1 247.2h0M498.2 245.1h0M498.0 240.9h0M499.6 174.2h0M481.6 228.1h0M489.2 216.9h0M489.9 233.1h0M497.7 211.2h0M483.9 206.6h0M488.4 257.7h0M485.9 251.9h0M482.7 203.6h0M493.3 248.6h0M486.6 196.3h0M493.6 224.4h0M486.7 264.5h0M501.3 256.8h0M484.3 229.9h0M500.8 241.6h0M497.9 225.6h0M485.5 250.5h0M491.0 222.6h0M491.1 214.3h0M492.9 209.3h0M498.4 238.5h0M481.9 235.2h0M485.6 253.6h0M499.0 209.7h0M483.8 247.0h0M502.6 257.0h0M490.8 244.5h0M482.4 205.5h0M500.7 209.4h0M487.6 202.6h0M506.5 223.0h0M504.6 245.4h0M503.6 209.1h0M503.6 230.2h0M483.3 191.4h0M482.2 242.3h0M491.5 202.9h0M492.0 246.0h0M491.7 237.9h0M496.4 214.5h0M501.1 242.3h0M501.2 223.4h0M504.8 233.1h0M498.4 235.9h0M503.4 218.3h0M483.8 227.9h0M482.1 246.3h0M492.8 252.2h0M503.6 249.8h0M491.1 236.5h0M484.3 251.1h0M484.7 207.9h0M487.2 263.1h0M503.1 193.3h0M489.9 252.2h0M503.0 247.1h0M505.1 226.9h0M500.9 246.4h0M504.6 258.7h0M487.9 210.9h0M486.4 239.3h0M487.5 164.1h0M481.9 239.8h0M504.8 196.7h0M486.7 239.7h0M497.3 187.0h0M488.6 226.2h0M495.0 251.2h0M492.4 221.4h0M499.5 259.5h0M486.5 231.2h0M488.7 213.7h0M485.0 257.0h0M489.6 209.4h0M502.3 237.7h0M505.6 256.9h0M481.9 256.8h0M502.6 234.8h0M499.9 214.9h0M483.5 233.0h0M485.5 220.9h0M503.1 221.8h0M486.4 221.7h0M504.2 213.8h0M495.0 191.5h0M506.1 245.8h0M494.1 176.3h0M484.8 235.7h0M496.7 224.8h0M492.6 239.1h0M483.3 236.6h0M502.0 231.6h0M504.0 245.3h0M505.6 235.1h0M497.6 254.0h0M496.1 236.5h0M486.4 252.1h0M505.6 250.6h0M499.9 242.3h0M498.2 223.2h0M498.9 231.3h0M502.5 199.4h0M490.1 243.5h0M484.3 239.8h0M506.3 247.6h0M482.3 201.6h0M488.3 207.6h0M493.8 238.8h0M482.5 243.8h0M489.3 199.2h0M503.3 188.9h0M497.1 223.1h0M496.1 222.8h0M482.0 193.9h0M492.2 203.7h0M484.5 214.4h0M491.2 178.7h0M491.2 209.5h0M492.1 187.3h0M489.4 224.6h0M501.0 245.3h0M493.1 239.7h0M504.2 237.9h0M490.1 231.5h0M485.1 212.0h0M490.4 194.1h0M503.3 212.7h0M490.5 257.2h0M502.0 247.9h0M498.8 235.1h0M488.0 237.2h0M486.3 244.7h0M484.3 249.0h0M492.7 216.7h0M498.9 246.5h0M488.8 241.0h0M505.4 220.3h0M481.9 220.5h0M501.1 211.1h0M485.8 234.2h0M506.4 259.9h0M484.0 246.2h0M504.5 212.0h0M491.5 206.1h0M488.7 220.2h0M482.5 210.2h0M487.0 208.2h0M491.1 243.3h0M504.9 222.2h0M505.7 235.3h0M483.5 221.9h0M495.5 262.6h0M482.3 237.1h0M484.1 209.3h0M496.9 246.0h0M494.7 219.7h0M504.0 229.8h0M504.1 221.2h0M485.5 231.2h0M497.3 221.5h0M501.7 222.2h0M500.8 210.4h0M495.7 259.0h0M494.3 214.2h0M495.8 219.9h0M491.8 228.0h0M495.6 206.4h0M503.8 216.7h0M490.2 227.9h0M492.5 236.1h0M492.5 233.7h0M503.2 225.9h0M487.6 240.4h0M492.5 244.3h0M500.3 217.7h0M491.3 216.8h0M502.9 238.0h0M494.9 227.0h0M484.0 249.1h0M490.7 172.6h0M485.2 234.0h0M492.5 224.0h0M490.6 214.5h0M490.0 252.0h0M502.2 214.9h0M503.9 246.8h0M500.4 249.5h0M500.7 259.5h0M503.8 205.5h0M504.4 210.0h0M485.9 200.6h0M503.9 222.5h0M485.5 254.8h0M488.3 239.2h0M501.3 209.8h0M485.1 204.0h0M505.6 246.1h0M504.8 239.4h0M481.5 160.0h0M497.4 237.0h0M504.6 212.7h0M495.0 220.5h0M494.9 203.8h0M496.2 264.3h0M495.3 229.6h0M496.0 237.6h0M498.5 214.7h0M505.4 225.8h0M483.6 238.4h0M487.4 244.4h0M481.6 254.6h0M483.2 217.2h0M486.5 217.2h0M504.1 226.3h0M489.4 222.0h0M496.5 247.6h0M489.3 224.6h0M506.2 225.2h0M486.3 233.9h0M491.4 235.1h0M490.7 223.7h0M486.8 172.2h0M483.3 243.9h0M491.3 206.4h0M486.5 249.5h0M482.1 216.7h0M503.6 218.0h0M490.1 234.2h0M481.8 254.1h0M496.9 226.6h0M493.5 230.4h0M498.7 227.2h0M490.5 205.1h0M485.0 220.8h0M497.5 255.0h0M491.5 256.3h0M503.4 217.6h0M489.7 255.6h0M487.1 180.8h0M486.1 244.8h0M487.9 186.3h0M487.5 229.3h0M494.5 227.0h0M490.8 228.6h0M505.7 256.4h0M486.6 223.9h0M505.0 181.5h0M489.9 204.5h0M493.6 244.6h0M505.5 207.0h0M501.0 196.6h0M505.2 213.7h0M495.0 261.3h0M489.4 230.4h0M498.4 209.5h0M498.6 240.3h0M482.5 225.6h0M484.2 234.9h0M505.2 266.7h0M499.5 241.5h0M502.1 234.6h0M486.2 268.7h0M505.9 233.1h0M489.0 229.5h0M485.0 249.1h0M490.5 258.3h0M490.3 243.2h0M483.0 225.5h0M502.7 227.0h0M503.3 171.7h0M486.4 217.9h0M495.3 245.4h0M503.3 232.2h0M491.0 251.1h0M494.2 239.7h0M487.6 235.6h0M493.2 247.3h0M489.3 231.6h0M502.1 239.4h0M485.5 231.0h0M482.3 224.4h0M504.0 245.0h0M485.8 198.8h0M495.2 260.7h0M499.2 258.7h0M489.7 248.6h0M504.7 229.8h0M489.9 228.8h0M486.4 227.4h0M483.1 230.2h0M504.0 215.0h0M486.9 247.0h0M503.9 252.5h0M492.9 233.2h0M504.8 249.8h0M483.7 221.0h0M502.9 251.8h0M506.0 260.7h0M499.3 241.3h0M484.8 257.7h0M506.4 244.3h0M501.5 241.7h0M486.8 229.9h0M505.8 197.0h0M483.7 207.2h0M484.7 249.5h0M481.9 213.3h0M496.3 241.4h0M491.6 210.1h0M483.6 244.7h0M493.8 258.3h0M503.5 238.3h0M483.8 190.9h0M497.5 244.1h0M485.7 231.5h0M494.3 251.4h0M490.1 210.7h0M488.4 221.0h0M481.8 254.1h0M496.0 249.1h0M492.6 253.4h0M498.8 232.7h0M486.1 241.1h0M506.1 255.3h0M482.0 239.6h0M486.4 201.4h0M497.5 210.4h0M484.8 160.1h0M488.0 204.6h0M494.0 187.6h0M500.4 226.5h0M503.1 238.4h0M489.4 251.4h0M497.9 226.8h0M482.1 210.6h0M503.8 253.8h0M498.3 255.3h0M504.1 261.8h0M486.8 184.6h0M493.9 237.4h0M500.1 238.0h0M482.1 234.6h0M502.5 213.0h0M499.2 254.5h0M501.2 233.3h0M485.6 190.4h0M500.9 223.8h0M495.7 243.0h0M485.2 214.7h0M484.8 245.0h0M502.9 214.6h0M491.5 228.6h0M488.3 219.5h0M490.7 207.1h0M498.6 251.6h0M484.9 222.1h0M485.5 244.3h0M497.7 252.5h0M503.9 220.5h0M498.3 166.2h0M505.1 234.5h0M488.6 217.6h0M490.4 252.1h0M490.8 211.9h0M490.5 243.4h0M488.2 186.1h0M501.3 219.5h0M488.6 214.3h0M491.9 250.4h0M493.3 237.1h0M506.4 239.3h0M489.7 201.1h0M498.8 221.7h0M489.7 252.2h0M501.5 237.9h0M491.2 245.4h0M482.0 232.4h0M494.6 214.8h0M489.9 254.9h0M488.1 217.9h0M488.8 211.2h0M481.5 239.9h0M499.8 201.8h0M495.2 246.1h0M497.4 241.4h0M495.7 225.9h0M491.0 233.5h0M493.0 232.3h0M493.4 200.2h0M504.4 199.5h0M490.2 223.9h0M485.3 167.7h0M483.6 213.3h0M489.9 224.3h0M495.8 239.1h0M496.1 233.6h0M499.7 212.0h0M498.0 243.7h0M483.6 246.6h0M491.2 240.6h0M490.8 240.5h0M484.3 217.8h0M496.2 249.3h0M500.9 236.9h0M482.6 212.1h0M494.7 241.5h0M484.5 238.1h0M500.9 235.7h0M495.5 230.6h0M483.1 246.0h0M494.4 243.3h0M487.5 237.2h0M486.7 197.0h0M498.2 217.1h0M491.6 261.5h0M504.7 227.8h0M504.4 238.8h0M502.8 208.0h0M491.8 236.6h0M504.1 237.2h0M483.3 245.3h0M500.9 260.0h0M490.5 230.2h0M503.1 220.8h0M482.2 210.4h0M495.9 223.1h0M483.2 228.7h0M488.9 259.1h0M495.6 231.8h0M485.0 241.6h0M498.9 244.0h0M494.3 178.9h0M487.1 215.9h0M494.9 233.6h0M492.6 196.1h0M482.3 208.6h0M499.2 244.8h0M499.4 240.4h0M504.3 208.2h0M505.0 205.9h0M490.8 249.7h0M497.6 232.1h0M496.7 222.4h0M482.8 242.4h0M499.6 241.1h0M488.3 264.6h0M492.1 204.0h0M497.0 244.8h0M494.1 229.6h0M488.5 218.4h0M503.3 231.8h0M483.8 183.4h0M496.6 206.3h0M486.1 204.4h0M504.6 242.5h0M504.9 241.9h0M499.3 216.6h0M503.6 221.8h0M500.7 244.9h0M497.9 226.0h0M500.2 224.8h0M504.3 257.1h0M486.9 234.3h0M499.7 233.8h0M486.0 237.3h0M493.0 191.4h0M490.0 226.9h0M497.3 247.5h0M497.5 240.2h0M504.1 252.3h0M502.5 221.3h0M483.1 231.4h0M485.8 215.6h0M482.6 212.6h0M499.3 202.0h0M490.2 213.4h0M505.9 210.2h0M486.9 229.4h0M505.4 226.4h0M500.4 244.7h0M500.6 245.7h0M496.7 234.3h0M503.6 239.1h0M487.4 231.3h0M503.2 221.6h0M503.5 232.3h0M496.7 238.5h0M498.0 257.9h0M487.2 247.6h0M493.8 198.4h0M496.2 239.1h0M489.4 202.1h0M482.6 238.7h0M505.2 249.5h0M501.6 242.3h0M490.6 206.0h0M494.8 227.8h0M496.3 214.2h0M505.4 239.3h0M495.5 242.9h0M499.6 243.5h0M501.6 224.7h0M484.0 237.7h0M496.0 215.0h0M504.7 255.3h0M502.1 256.5h0M504.5 188.0h0M485.6 234.7h0M500.9 242.2h0M488.5 216.4h0M503.4 189.7h0M501.1 158.0h0M490.9 242.5h0M496.0 176.6h0M493.2 226.3h0M505.0 246.4h0M495.3 195.3h0M483.4 241.8h0M494.9 229.0h0M482.0 227.4h0M484.9 230.3h0M493.8 224.3h0M493.0 251.0h0M483.2 240.6h0M490.0 225.7h0M488.7 205.8h0M488.7 231.6h0M492.6 268.4h0M482.4 252.9h0M482.3 197.6h0M487.4 223.9h0M499.4 230.4h0M504.9 227.1h0M500.4 205.1h0M483.4 212.8h0M502.1 234.0h0M502.0 242.3h0M502.6 241.2h0M499.7 241.1h0M488.0 241.6h0M493.9 170.7h0M492.5 215.1h0M482.4 223.4h0M495.0 218.7h0M488.1 226.6h0M505.3 227.5h0M498.2 223.5h0M501.7 174.2h0M482.3 251.1h0M499.3 258.3h0M501.6 238.5h0M493.0 219.7h0M487.8 230.3h0M493.7 253.9h0M495.3 237.8h0M492.3 241.3h0M489.5 242.2h0M498.2 260.3h0M503.8 239.3h0M488.2 204.9h0M503.6 232.2h0M482.9 255.1h0M498.7 206.2h0M490.1 195.3h0M494.6 194.5h0M490.4 198.3h0M483.5 211.0h0M485.7 245.7h0M506.2 238.0h0M491.9 243.8h0M505.3 234.2h0M494.5 224.3h0M504.0 247.1h0M492.6 211.7h0M506.3 224.5h0M493.4 228.0h0M488.0 241.1h0M485.9 245.6h0M483.3 234.5h0M484.2 236.9h0M498.6 220.0h0M490.6 236.7h0M503.3 249.9h0M486.4 230.3h0M504.8 244.4h0M486.3 232.9h0M488.3 232.4h0M490.0 237.1h0M488.1 208.3h0M491.9 214.3h0M501.6 210.7h0M483.3 234.7h0M487.6 240.4h0M482.8 243.2h0M500.9 214.7h0M484.5 223.3h0M494.2 209.4h0M503.2 240.3h0M489.4 227.3h0M484.4 220.1h0M488.2 215.2h0M505.0 257.8h0M483.9 232.7h0M503.1 264.3h0M484.5 223.3h0M485.6 215.0h0M500.8 243.2h0M497.5 254.1h0M489.5 211.0h0M499.1 250.3h0M485.2 236.0h0M503.5 253.7h0M495.9 256.5h0M505.2 227.8h0M496.4 257.2h0M495.8 211.9h0M502.9 228.6h0M496.1 228.5h0M483.7 217.4h0M496.8 231.3h0M488.8 244.7h0M497.4 204.4h0M506.5 232.3h0M496.8 233.4h0M502.3 212.6h0M490.4 239.3h0M481.8 217.9h0M482.7 235.8h0M482.0 234.8h0M486.9 245.3h0M488.3 256.2h0M489.5 255.3h0M497.9 231.5h0M500.2 218.7h0M500.7 217.2h0M500.3 247.2h0M502.9 245.0h0M499.5 246.3h0M493.0 249.1h0M491.8 234.9h0M483.5 253.5h0M481.8 239.2h0M502.9 238.6h0M485.2 249.2h0M503.1 239.5h0M491.5 245.2h0M483.0 255.1h0M502.2 226.7h0M499.4 244.3h0M506.4 220.9h0M495.0 231.4h0M504.8 250.1h0M494.2 260.6h0M488.0 258.2h0M491.5 245.1h0M498.0 250.3h0M503.7 252.6h0M501.9 237.2h0M504.8 216.5h0M494.9 182.1h0M493.0 245.8h0M494.6 245.5h0M504.8 244.0h0M490.7 236.5h0M483.0 239.8h0M491.3 243.3h0M497.7 233.9h0M502.3 240.3h0M505.1 215.2h0M498.7 233.5h0M501.8 239.0h0M501.8 235.5h0M501.7 216.8h0M496.5 207.0h0M505.1 238.5h0M503.8 206.2h0M481.7 247.4h0M484.5 212.9h0M506.3 245.4h0M498.2 223.8h0M485.0 253.4h0M504.3 215.8h0M483.7 209.7h0M494.9 240.8h0M491.2 246.2h0M488.7 224.5h0M487.5 230.0h0M483.7 238.9h0M490.9 220.8h0M484.0 225.8h0M497.1 235.7h0M489.5 222.1h0M500.7 209.9h0M504.9 254.3h0M503.7 206.9h0M500.0 264.0h0M501.0 249.7h0M483.8 229.6h0M505.8 251.3h0M495.9 197.4h0M495.1 235.1h0M498.4 224.0h0M486.2 221.2h0M493.2 252.6h0M484.5 191.3h0M504.5 250.7h0M494.0 200.9h0M484.8 241.7h0M505.7 219.5h0M496.0 234.2h0M500.4 255.1h0M501.6 247.8h0M498.9 203.6h0M492.6 221.4h0M488.5 231.9h0M482.8 242.5h0M497.1 167.0h0M484.3 251.1h0M490.7 249.6h0M503.7 258.5h0M504.1 213.5h0M502.1 215.2h0M486.3 248.4h0M505.0 233.4h0M485.0 217.6h0M504.5 181.5h0M500.2 214.9h0M505.8 242.5h0M506.1 243.6h0M494.6 224.5h0M489.3 254.3h0M504.5 233.6h0M489.3 232.8h0M489.8 227.1h0M495.7 226.6h0M485.0 224.9h0M492.9 248.3h0M484.9 229.7h0M492.8 216.2h0M504.2 228.4h0M504.5 255.6h0M505.5 238.3h0M499.6 203.7h0M500.2 228.4h0M492.2 229.3h0M503.9 178.5h0M484.9 258.7h0M485.7 254.2h0M484.5 203.8h0M491.7 235.2h0M483.0 221.4h0M499.1 214.8h0M486.1 219.8h0M498.7 195.5h0M495.6 241.3h0M498.8 224.6h0M499.1 241.4h0M501.2 247.6h0M493.5 236.1h0M495.8 224.2h0M487.8 208.6h0M494.0 240.4h0M483.7 240.6h0M505.4 245.9h0M504.7 207.9h0M483.3 194.3h0M481.8 250.6h0M491.4 237.7h0M494.7 202.7h0M493.5 242.6h0M489.9 197.0h0M497.1 239.4h0M491.5 235.3h0M491.6 242.4h0M482.3 202.8h0M496.3 253.6h0M483.6 256.8h0M503.0 262.6h0M493.4 245.3h0M490.4 222.1h0M498.0 262.2h0M503.6 238.4h0M485.7 243.3h0M491.5 239.1h0M505.8 215.3h0M503.1 250.9h0M491.3 239.5h0M490.6 215.3h0M501.9 226.0h0M483.6 208.3h0M484.5 229.1h0M495.8 263.0h0M495.7 225.4h0M495.7 226.8h0M500.6 246.5h0M503.5 200.7h0M491.5 206.3h0M489.6 243.6h0M502.7 207.8h0M487.6 237.5h0M503.4 248.5h0M499.2 235.6h0M502.7 200.1h0M497.4 214.4h0M484.2 233.3h0M499.4 257.6h0M493.9 239.5h0M486.1 242.9h0M484.1 237.5h0M488.1 221.9h0M484.6 238.0h0M484.9 172.9h0M502.6 227.5h0M505.3 248.2h0M506.4 214.8h0M495.5 239.3h0M495.7 243.0h0M483.0 210.3h0M484.5 250.0h0M500.8 217.4h0M495.8 259.2h0M495.7 223.5h0M500.3 237.4h0M501.8 257.6h0M499.3 248.7h0M481.8 231.8h0M499.6 218.6h0M489.0 252.8h0M486.8 250.9h0M498.4 266.0h0M494.2 215.8h0M496.5 216.1h0M484.7 157.9h0M500.6 215.0h0M503.0 221.0h0M492.0 262.4h0M489.1 258.5h0M505.9 162.3h0M505.9 171.6h0M484.6 199.7h0M495.0 246.3h0M492.4 174.4h0M488.5 245.6h0M494.5 224.4h0M498.2 257.7h0M490.7 195.1h0M489.2 202.1h0M503.1 162.0h0M497.9 215.6h0M489.1 245.6h0M485.4 215.1h0M491.1 216.0h0M505.0 262.1h0M502.3 244.7h0M486.8 191.8h0M496.7 265.5h0" stroke="#000" stroke-width="1.25" stroke-linecap="square"/>
<path d="M522.5 176.1h0M513.5 253.3h0M528.3 255.4h0M513.5 220.7h0M534.0 227.1h0M523.1 224.3h0M524.4 218.7h0M520.1 240.8h0M520.9 227.4h0M532.7 173.7h0M529.9 219.9h0M520.6 240.3h0M531.3 240.6h0M520.4 192.0h0M512.9 235.4h0M516.6 237.2h0M521.5 239.7h0M522.0 238.9h0M515.3 245.4h0M528.5 227.2h0M516.9 247.8h0M527.2 230.1h0M524.1 208.3h0M527.1 239.0h0M533.2 226.3h0M528.7 238.7h0M526.3 228.2h0M528.0 233.9h0M523.8 235.4h0M535.7 241.5h0M531.3 224.0h0M514.8 240.2h0M514.8 221.7h0M521.8 245.6h0M534.0 222.0h0M514.5 207.8h0M516.9 202.9h0M535.9 238.2h0M529.6 226.3h0M524.5 236.1h0M515.1 224.4h0M511.7 230.0h0M519.2 249.8h0M515.7 254.1h0M533.0 203.6h0M523.8 255.7h0M523.5 232.9h0M526.2 243.5h0M523.2 255.0h0M516.8 217.4h0M529.2 227.9h0M529.3 250.0h0M533.6 233.6h0M523.1 254.1h0M514.2 248.2h0M535.0 272.3h0M511.3 239.4h0M514.8 207.0h0M528.6 251.1h0M532.5 217.9h0M534.5 216.0h0M525.8 228.4h0M517.8 218.4h0M511.7 215.0h0M529.3 239.4h0M526.9 251.6h0M513.8 223.0h0M529.6 226.8h0M534.6 239.2h0M515.6 225.2h0M526.0 232.7h0M521.4 253.2h0M526.3 212.6h0M513.8 234.7h0M533.4 220.4h0M518.2 244.5h0M526.9 219.3h0M516.8 246.9h0M515.4 229.5h0M534.9 253.5h0M517.4 227.3h0M534.8 232.3h0M532.4 212.4h0M524.8 223.8h0M524.9 229.7h0M511.7 252.4h0M530.2 235.9h0M528.0 246.1h0M525.5 248.4h0M531.2 210.4h0M522.7 225.0h0M520.5 247.7h0M529.4 243.0h0M523.3 235.6h0M526.1 228.7h0M514.7 233.4h0M515.9 191.4h0M515.5 214.6h0M531.0 227.1h0M535.7 213.9h0M535.2 220.5h0M524.7 245.5h0M530.5 245.0h0M513.9 243.5h0M519.1 235.6h0M534.4 253.9h0M518.3 219.7h0M514.9 236.6h0M521.7 229.5h0M530.1 255.5h0M535.6 225.4h0M511.7 221.2h0M526.8 244.5h0M531.9 247.1h0M531.3 243.0h0M533.9 245.7h0M527.1 218.3h0M532.1 237.5h0M521.0 234.9h0M525.7 252.1h0M524.6 229.5h0M522.0 222.0h0M522.1 224.5h0M528.6 233.2h0M514.7 264.7h0M531.7 241.7h0M528.6 242.9h0M515.9 232.7h0M519.6 229.3h0M531.9 254.6h0M521.5 231.4h0M532.1 213.3h0M520.9 245.4h0M535.7 218.2h0M520.7 228.7h0M535.5 238.0h0M520.5 246.9h0M521.4 179.7h0M515.3 238.4h0M530.6 215.4h0M512.9 237.9h0M530.4 237.6h0M523.4 233.2h0M532.4 231.4h0M526.4 235.4h0M534.6 258.5h0M523.8 227.1h0M516.6 232.3h0M534.0 215.4h0M533.2 228.3h0M531.9 205.8h0M525.9 252.9h0M517.5 226.3h0M511.3 254.5h0M531.2 214.3h0M527.4 240.1h0M521.9 236.8h0M523.7 239.9h0M530.6 245.7h0M516.7 208.0h0M511.4 242.7h0M513.3 198.3h0M535.6 224.2h0M516.1 248.6h0M535.3 236.6h0M511.6 253.9h0M527.7 248.3h0M524.1 230.3h0M523.3 223.2h0M510.9 219.0h0M525.1 205.0h0M526.3 242.9h0M531.8 246.8h0M531.7 205.2h0M531.2 232.8h0M512.4 248.2h0M532.8 238.5h0M524.0 229.1h0M532.6 256.3h0M533.6 230.8h0M512.9 225.9h0M521.2 232.4h0M523.5 227.1h0M526.0 228.3h0M534.4 233.4h0M511.8 209.1h0M526.0 237.7h0M523.2 236.2h0M514.3 241.6h0M528.0 221.4h0M529.1 203.3h0M513.8 241.4h0M513.5 226.7h0M523.1 238.2h0M534.8 222.7h0M531.7 225.6h0M527.5 221.2h0M520.8 231.0h0M534.7 238.8h0M522.8 221.7h0M514.4 223.9h0M525.9 231.4h0M513.2 240.1h0M532.5 228.2h0M523.5 207.5h0M529.3 233.8h0M532.2 231.9h0M530.6 271.5h0M530.7 236.9h0M530.5 204.0h0M520.5 238.0h0M511.6 209.2h0M517.2 226.5h0M527.2 202.8h0M518.8 237.0h0M535.6 217.2h0M518.8 256.1h0M528.6 219.8h0M514.0 258.8h0M522.3 253.8h0M531.0 233.8h0M533.7 231.5h0M512.7 227.2h0M531.0 244.1h0M535.0 217.8h0M511.5 226.7h0M531.2 206.8h0M512.0 230.2h0M527.8 219.2h0M535.6 253.3h0M513.0 231.1h0M529.6 220.5h0M513.7 222.9h0M525.5 218.1h0M519.6 210.3h0M524.9 206.5h0M529.9 241.6h0M515.7 211.0h0M518.4 248.4h0M513.8 259.9h0M521.1 252.8h0M512.9 217.0h0M511.6 245.3h0M529.2 237.2h0M528.5 256.2h0M511.6 224.3h0M527.2 236.4h0M527.8 238.6h0M519.5 218.6h0M518.3 236.6h0M516.6 243.2h0M526.0 246.7h0M514.2 249.9h0M524.6 198.1h0M521.0 245.1h0M523.7 225.5h0M529.9 243.1h0M516.5 216.1h0M518.7 227.7h0M522.9 228.4h0M519.0 241.1h0M528.0 236.5h0M514.5 247.1h0M533.8 176.6h0M534.5 223.3h0M514.1 243.8h0M523.1 221.2h0M519.5 248.0h0M519.5 224.3h0M515.9 240.0h0M524.4 206.7h0M531.0 253.0h0M516.8 212.1h0M530.5 229.9h0M529.6 228.5h0M526.7 224.3h0M533.1 235.8h0M526.0 233.2h0M530.9 246.0h0M534.8 258.7h0M532.3 245.9h0M525.3 242.7h0M518.2 219.5h0M526.0 218.9h0M528.9 189.5h0M528.9 211.2h0M520.8 245.2h0M529.6 207.9h0M519.2 222.9h0M514.1 227.6h0M534.9 216.5h0M533.9 224.9h0M521.5 223.0h0M524.7 229.9h0M511.3 217.4h0M534.7 198.9h0M519.8 253.1h0M526.2 244.4h0M514.3 244.3h0M514.4 221.2h0M525.6 254.2h0M527.7 247.7h0M535.4 228.3h0M528.4 223.7h0M526.2 245.8h0M526.0 195.6h0M517.8 235.4h0M520.1 250.6h0M526.5 253.0h0M514.3 254.1h0M518.5 230.7h0M515.1 191.3h0M511.8 226.1h0M522.2 224.4h0M520.2 236.2h0M524.9 241.7h0M520.9 261.3h0M512.7 224.9h0M532.4 226.5h0M511.9 209.9h0M511.4 247.9h0M511.5 233.1h0M530.6 221.2h0M520.1 232.0h0M534.6 231.6h0M518.8 247.5h0M521.1 220.3h0M528.4 234.1h0M534.6 230.9h0M533.7 210.7h0M520.3 215.1h0M527.9 220.5h0M512.4 230.6h0M525.2 236.1h0M527.0 244.8h0M517.8 252.8h0M527.3 211.1h0M518.5 260.2h0M530.1 229.8h0M512.7 243.4h0M523.9 225.6h0M534.7 242.8h0M526.6 240.9h0M534.4 194.3h0M534.6 250.7h0M530.0 204.4h0M531.0 232.8h0M529.3 219.9h0M523.7 236.6h0M530.6 217.8h0M530.6 238.1h0M532.5 245.6h0M511.1 236.5h0M511.8 247.6h0M522.5 227.6h0M528.8 240.6h0M521.4 230.9h0M520.4 253.6h0M511.4 211.3h0M526.1 250.1h0M534.8 190.0h0M526.3 248.4h0M517.0 209.8h0M526.8 241.3h0M520.2 211.8h0M520.1 244.7h0M512.3 220.0h0M528.7 208.9h0M510.9 249.6h0M531.9 236.4h0M511.1 248.5h0M530.4 245.0h0M519.6 210.1h0M519.6 211.0h0M523.2 241.6h0M515.5 249.0h0M516.1 217.0h0M528.7 250.8h0M533.6 199.2h0M514.4 244.3h0M517.8 238.6h0M535.4 228.6h0M528.1 227.1h0M533.8 224.4h0M520.5 231.3h0M530.1 233.9h0M528.7 216.7h0M529.5 190.4h0M522.8 235.3h0M518.2 218.0h0M520.0 211.3h0M514.5 222.3h0M512.9 215.2h0M520.4 250.4h0M532.3 224.3h0M519.2 239.8h0M524.9 184.3h0M531.5 239.5h0M513.5 256.9h0M520.2 243.6h0M520.1 243.4h0M528.7 229.8h0M533.5 232.7h0M511.1 252.2h0M524.5 220.9h0M511.0 233.4h0M518.4 242.8h0M520.9 226.3h0M517.9 233.0h0M521.2 201.2h0M519.9 240.8h0M523.4 217.2h0M517.2 222.4h0M520.7 220.1h0M516.4 241.4h0M521.4 228.3h0M528.6 268.0h0M511.7 247.0h0M535.9 253.6h0M514.6 241.2h0M530.7 220.9h0M518.1 226.1h0M512.7 227.4h0M530.6 219.4h0M525.0 232.2h0M517.5 244.8h0M520.4 234.0h0M532.5 215.7h0M528.6 241.7h0M517.9 258.1h0M516.8 231.0h0M525.0 215.4h0M513.9 243.2h0M516.6 234.3h0M531.0 246.3h0M529.0 237.3h0M511.5 250.0h0M522.1 191.1h0M520.9 239.4h0M529.4 236.8h0M521.5 244.5h0M516.6 219.7h0M531.9 237.0h0M515.7 222.4h0M527.1 244.7h0M518.0 209.1h0M526.4 217.1h0M515.2 255.3h0M532.8 242.5h0M520.1 222.3h0M527.9 225.2h0M529.6 230.1h0M522.6 222.1h0M524.4 215.1h0M513.9 259.6h0M524.4 219.4h0M524.2 244.5h0M533.3 242.6h0M519.7 243.2h0M514.7 223.4h0M521.0 220.5h0M530.5 237.4h0M511.2 269.0h0M511.8 229.0h0M535.9 219.5h0M524.8 233.5h0M528.9 218.8h0M522.6 226.5h0M515.8 242.7h0M527.6 220.8h0M516.9 230.6h0M522.2 238.1h0M516.2 216.8h0M533.6 215.4h0M520.7 257.9h0M528.3 249.9h0M515.5 250.3h0M526.1 234.0h0M518.3 233.8h0M513.9 213.2h0M518.8 220.3h0M512.5 212.3h0M526.0 234.3h0M524.8 230.2h0M532.2 216.6h0M511.6 211.0h0M521.1 235.8h0M535.5 214.7h0M519.6 189.4h0M512.4 220.4h0M530.9 245.7h0M513.2 239.5h0M528.8 232.6h0M524.1 221.2h0M532.8 230.6h0M523.7 184.5h0M527.9 225.7h0M517.3 232.4h0M535.5 210.9h0M516.1 237.0h0M531.8 230.1h0M528.0 205.7h0M522.9 215.4h0M520.2 232.2h0M513.0 251.6h0M530.7 207.1h0M516.6 235.2h0M532.7 223.2h0M533.1 228.2h0M516.2 253.8h0M518.2 238.4h0M528.7 223.4h0M530.0 231.2h0M512.1 261.9h0M531.5 250.2h0M531.3 230.7h0M526.5 233.7h0M533.2 232.3h0M535.3 215.4h0M516.0 259.6h0M534.5 220.7h0M532.4 219.8h0M525.6 211.3h0M513.7 256.7h0M534.9 252.6h0M529.5 238.1h0M520.2 234.8h0M519.0 236.3h0M534.7 228.7h0M516.7 252.3h0M531.4 235.8h0M522.0 249.2h0M528.3 241.6h0M531.4 239.5h0M513.4 240.1h0M517.4 245.0h0M513.7 246.4h0M521.0 240.7h0M514.4 224.3h0M533.8 223.1h0M530.6 219.3h0M525.4 248.2h0M515.7 232.6h0M516.2 161.7h0M525.7 237.4h0M533.6 249.0h0M534.2 252.8h0M534.1 255.9h0M519.0 251.0h0M528.3 216.7h0M523.9 233.7h0M524.8 241.3h0M527.8 238.7h0M518.3 227.1h0M517.6 202.3h0M521.2 251.2h0M516.7 246.2h0M532.4 249.8h0M520.0 228.0h0M511.9 222.4h0M526.7 248.4h0M535.6 239.3h0M524.6 240.6h0M518.0 200.8h0M533.5 212.6h0M526.6 245.0h0M526.4 251.1h0M522.4 226.6h0M530.2 250.2h0M527.7 216.6h0M524.6 236.2h0M519.3 226.8h0M530.5 235.0h0M533.7 218.9h0M513.2 227.9h0M511.6 230.8h0M513.4 236.2h0M532.7 219.2h0M526.3 238.1h0M520.8 219.7h0M535.3 260.3h0M534.5 221.4h0M521.5 212.2h0M520.1 222.8h0M524.2 234.3h0M525.7 229.8h0M531.9 239.0h0M532.9 212.7h0M518.0 229.2h0M532.3 235.5h0M512.8 261.0h0M516.1 250.4h0M521.4 236.6h0M512.8 224.6h0M519.6 212.6h0M511.6 239.4h0M531.0 234.8h0M527.8 231.2h0M517.4 242.2h0M524.0 231.8h0M520.6 244.8h0M531.4 222.5h0M518.2 225.3h0M516.8 253.0h0M530.3 237.7h0M529.8 258.0h0M528.5 207.0h0M512.5 253.3h0M511.9 206.5h0M534.2 242.8h0M535.2 236.4h0M516.0 213.5h0M523.2 224.1h0M522.5 232.3h0M518.0 235.2h0M512.9 232.1h0M517.2 200.0h0M534.9 268.5h0M522.0 226.5h0M516.1 241.9h0M512.8 254.6h0M527.0 260.7h0M531.9 218.5h0M517.2 252.2h0M529.8 233.9h0M511.4 238.8h0M514.1 222.6h0M526.9 216.0h0M513.3 236.7h0M522.5 253.0h0M523.0 228.7h0M511.6 256.9h0M531.5 241.2h0M529.4 195.2h0M530.7 254.1h0M527.2 212.5h0M517.9 221.2h0M528.3 236.0h0M525.2 255.2h0M526.5 215.6h0M529.7 223.3h0M518.1 204.6h0M533.7 210.3h0M522.5 230.4h0M518.8 235.8h0M524.1 232.8h0M535.2 204.7h0M528.5 229.4h0M513.3 231.0h0M517.8 254.9h0M527.7 226.0h0M534.8 238.3h0M524.4 232.1h0M524.4 245.2h0M510.9 238.1h0M514.7 265.2h0M531.0 238.6h0M516.9 226.7h0M524.3 228.7h0M528.0 248.5h0M525.8 227.9h0M530.1 253.7h0M527.0 230.1h0M518.6 257.0h0M525.5 215.1h0M528.3 244.7h0M512.6 229.4h0M535.0 219.9h0M526.4 236.1h0M535.3 207.6h0M532.5 219.5h0M511.7 248.0h0M513.0 235.1h0M532.3 226.5h0M517.0 215.2h0M533.7 217.0h0M535.4 220.8h0M530.1 230.8h0M526.5 194.3h0M521.9 218.6h0M533.6 230.1h0M526.6 250.5h0M513.2 249.1h0M529.1 255.7h0M519.2 219.6h0M514.3 214.1h0M520.1 248.4h0M532.4 241.2h0M529.5 221.1h0M520.4 230.1h0M531.5 253.5h0M524.9 245.9h0M519.4 255.1h0M513.5 232.7h0M527.9 219.0h0M517.1 234.7h0M523.5 212.1h0M516.9 212.7h0M526.7 209.2h0M512.4 221.4h0M517.9 217.3h0M526.5 223.2h0M532.0 241.6h0M529.1 240.2h0M518.1 198.9h0M520.8 249.6h0M523.4 245.9h0M534.6 255.5h0M515.3 220.7h0M530.6 243.3h0M513.7 235.5h0M531.9 241.6h0M513.7 252.0h0M520.5 209.2h0M520.1 247.6h0M527.6 248.2h0M518.8 238.9h0M531.0 228.7h0M535.5 234.7h0M528.9 216.1h0M511.4 243.5h0M513.3 234.7h0M531.0 236.3h0M521.1 240.9h0M523.7 212.2h0M532.0 204.8h0M528.7 213.2h0M524.1 209.9h0M518.4 247.0h0M512.9 214.2h0M513.7 227.2h0M512.2 240.7h0M520.9 222.3h0M534.6 254.0h0M513.7 252.7h0M523.8 228.6h0M526.3 236.1h0M534.4 245.6h0M535.8 261.9h0M527.3 240.5h0M525.4 231.9h0M528.6 203.9h0M521.8 237.6h0M530.4 239.6h0M531.8 240.6h0M516.3 225.9h0M524.1 249.2h0M518.7 236.5h0M514.0 228.1h0M521.4 221.0h0M526.0 199.1h0M523.8 241.4h0M520.5 225.4h0M524.8 248.2h0M523.5 225.6h0M511.6 224.9h0M528.2 245.0h0M530.6 228.0h0M522.4 262.8h0M527.2 235.4h0M516.9 254.5h0M529.1 213.9h0M522.3 205.1h0M526.9 189.4h0M527.7 251.2h0M521.7 230.9h0M515.6 242.4h0M534.3 233.3h0M531.6 260.2h0M520.5 246.3h0M520.4 232.6h0M532.1 216.4h0M529.7 228.2h0M517.8 228.7h0M531.4 226.9h0M519.4 240.4h0M531.9 248.2h0M513.7 248.0h0M534.6 219.6h0M520.0 217.0h0M533.9 239.0h0M517.1 242.8h0M520.2 245.8h0M517.2 251.7h0M525.6 226.4h0M517.2 207.5h0M527.8 227.6h0M527.9 225.9h0M530.1 212.0h0M522.2 242.3h0M521.6 233.4h0M517.2 238.2h0M523.1 249.4h0M524.1 236.0h0M517.8 250.9h0M524.8 245.8h0M515.2 233.3h0M521.4 238.1h0M519.0 231.8h0M524.2 226.8h0M530.3 241.3h0M511.7 236.9h0M521.9 227.5h0M513.4 239.8h0M519.8 233.7h0M529.3 212.8h0M526.8 243.0h0M528.8 232.4h0M531.3 254.1h0M519.4 252.5h0M520.2 213.1h0M515.6 223.1h0M519.1 240.8h0M526.4 218.6h0M527.7 246.6h0M528.7 240.0h0M524.3 256.3h0M512.2 226.4h0M527.0 241.3h0M532.1 237.4h0M532.7 241.0h0M511.5 256.6h0M520.3 227.3h0M523.2 220.9h0M526.5 247.0h0M530.8 215.9h0M511.6 235.5h0M533.4 254.2h0M521.8 248.0h0M535.1 240.0h0M530.6 191.8h0M520.8 261.7h0M534.7 231.3h0M522.5 223.6h0M513.6 207.5h0M515.9 217.1h0M524.3 203.6h0M529.9 235.3h0M518.7 228.1h0M534.3 223.4h0M517.3 246.2h0M535.3 209.1h0M527.1 229.6h0M529.3 245.8h0M520.6 248.0h0M524.2 241.0h0M519.7 234.2h0M523.5 217.1h0M531.9 229.2h0M530.1 241.9h0M531.5 243.2h0M521.2 237.9h0M518.3 252.2h0M525.7 235.3h0M534.7 249.5h0M528.5 252.2h0M516.7 216.8h0M530.7 214.7h0M533.0 264.3h0M529.3 223.8h0M529.0 230.7h0M527.8 230.5h0M525.1 248.8h0M520.8 188.0h0M528.8 233.2h0M521.4 231.8h0M515.3 210.8h0M533.3 230.5h0M533.8 250.2h0M514.0 205.0h0M531.0 221.8h0M526.4 237.8h0M519.2 234.5h0M519.1 245.3h0M514.5 225.9h0M522.1 213.3h0M516.2 228.7h0M527.7 249.0h0M534.5 230.4h0M518.3 228.6h0M517.4 244.6h0M523.9 237.2h0M513.8 214.9h0M514.4 227.6h0M515.3 253.0h0M531.6 200.8h0M523.5 244.5h0M530.6 225.9h0M531.7 244.2h0M518.4 216.8h0M515.3 239.4h0M512.4 249.6h0M529.3 208.2h0M524.4 257.9h0M532.2 212.8h0M527.3 189.9h0M515.1 247.7h0M523.0 234.3h0M521.0 201.6h0M513.9 238.6h0M514.4 234.4h0M528.5 268.8h0M527.4 260.3h0M521.4 250.6h0M514.0 233.8h0M517.3 245.9h0M521.9 242.8h0M529.4 222.0h0M521.3 243.6h0M529.8 224.0h0M520.0 230.2h0M526.0 209.5h0M529.6 215.0h0M521.4 232.9h0M522.6 247.9h0M512.3 245.0h0M513.7 216.8h0M527.9 234.9h0M513.3 224.3h0M515.6 219.2h0M523.0 227.0h0M534.1 240.1h0M535.8 254.1h0M530.3 212.0h0M519.9 223.9h0M515.3 242.6h0M521.1 232.7h0M512.5 229.5h0M518.0 245.6h0M528.6 194.9h0M526.4 256.1h0M534.1 223.3h0M518.7 248.6h0M521.3 246.9h0M529.3 247.9h0M517.2 239.2h0M516.9 239.1h0M535.4 204.9h0M519.6 229.6h0M532.8 238.2h0M521.0 223.1h0M533.4 240.9h0M531.6 236.4h0M518.2 240.0h0M512.2 248.9h0M527.5 225.4h0M519.4 237.2h0M519.2 203.9h0M528.8 246.2h0M521.2 245.6h0M517.8 241.7h0M532.4 241.4h0M530.8 235.2h0M531.1 224.8h0M519.1 245.8h0M535.3 214.2h0M523.7 236.9h0M518.8 211.7h0M514.4 243.3h0M531.1 233.0h0M528.5 238.4h0M534.3 216.7h0M513.2 228.5h0M512.3 238.7h0M533.1 230.3h0M517.2 242.2h0M519.2 210.4h0M514.1 228.3h0M523.4 213.2h0M516.1 243.1h0M512.4 229.8h0M534.8 243.4h0M514.4 243.5h0M520.1 203.7h0M515.9 237.3h0M531.5 245.9h0M530.4 253.2h0M533.9 211.3h0M522.8 210.3h0M530.6 231.2h0M531.2 243.2h0M531.9 212.0h0M514.8 270.3h0M523.2 241.8h0M527.3 190.3h0M518.6 242.7h0M530.5 229.7h0M526.8 217.9h0M531.0 240.0h0M529.5 242.2h0M521.8 238.3h0M513.8 221.7h0M516.9 217.9h0M523.3 206.3h0M534.7 216.0h0M516.1 226.5h0M531.3 226.2h0M517.3 208.1h0M525.6 249.1h0M533.4 217.2h0M522.1 209.4h0M516.4 219.6h0M518.6 230.1h0M529.6 238.1h0M527.6 209.3h0M526.6 214.9h0M516.2 199.5h0M529.8 227.9h0M531.9 274.6h0M522.4 244.7h0M517.8 248.4h0M526.1 252.5h0M530.6 219.8h0M522.3 238.6h0M524.9 229.7h0M529.6 226.1h0M533.8 244.8h0M512.9 236.2h0M528.1 238.8h0M512.5 222.3h0M517.6 254.0h0M527.9 239.1h0M515.3 238.2h0M527.5 244.3h0M530.5 252.8h0M527.9 217.3h0M531.5 222.7h0M526.2 259.1h0M523.5 241.4h0M535.6 250.7h0M519.4 225.9h0M515.2 264.2h0M523.3 229.7h0M525.6 246.4h0M520.0 253.8h0M534.7 233.5h0M519.2 230.2h0M515.6 233.2h0M524.3 214.3h0M516.5 208.8h0M526.6 255.8h0M518.2 239.0h0M520.1 210.4h0M528.1 236.7h0M527.9 222.0h0M512.1 247.4h0M525.0 227.0h0M525.1 194.3h0M519.9 240.3h0M520.2 268.1h0M526.0 242.6h0M530.5 257.6h0M530.4 212.1h0M532.0 224.6h0M524.2 245.0h0M517.3 232.4h0M529.2 217.5h0M515.0 227.1h0M511.4 222.9h0M514.4 241.6h0M512.2 244.0h0M521.5 243.3h0M520.8 240.4h0M535.0 242.9h0M532.2 253.5h0M531.6 222.3h0M529.3 222.3h0M515.4 261.5h0M514.8 250.2h0M531.4 240.2h0M530.0 246.6h0M512.1 238.6h0M521.3 224.5h0M517.7 235.8h0M524.7 221.1h0M522.2 211.1h0M522.6 226.6h0M526.4 246.5h0M530.3 214.7h0M533.1 204.0h0M523.0 221.7h0M520.3 244.9h0M532.3 250.8h0M511.5 222.3h0M530.1 257.6h0M512.3 232.2h0M518.3 240.6h0M534.0 240.3h0M518.7 230.8h0M512.1 247.3h0M514.1 250.5h0M534.8 232.5h0M521.2 224.0h0M520.1 256.0h0M533.5 241.5h0M532.1 226.8h0M517.1 216.8h0M513.9 228.5h0M533.3 230.7h0M520.4 246.1h0M522.4 241.8h0M514.8 234.0h0M521.2 252.5h0M533.2 237.6h0M533.6 249.2h0M515.6 207.7h0M527.0 208.3h0M514.4 248.1h0M523.5 244.2h0M530.5 223.2h0M517.4 214.0h0M525.6 207.4h0M515.8 225.3h0M517.9 251.3h0M526.9 218.6h0M519.3 221.9h0M516.3 247.3h0M518.9 217.9h0M530.0 220.5h0M521.3 243.3h0M525.9 249.5h0M517.4 255.2h0M526.5 203.9h0M512.0 225.5h0M512.3 237.4h0M516.3 226.3h0M530.6 243.3h0M515.3 220.5h0M521.4 236.5h0M535.7 216.3h0M516.7 216.1h0M514.6 245.3h0M517.8 238.0h0M524.2 235.1h0M533.3 228.6h0M511.7 240.0h0M524.2 256.4h0M511.3 228.2h0M535.7 205.3h0M522.3 222.6h0M527.8 245.5h0M517.3 224.2h0M522.7 243.7h0M531.5 218.8h0M513.9 236.5h0M516.3 226.9h0M518.5 234.4h0M531.4 227.8h0M533.4 236.9h0M529.6 243.6h0M517.0 241.4h0M518.8 229.3h0M529.3 201.8h0M522.0 246.9h0M519.6 211.0h0M535.8 227.9h0M517.3 244.8h0M530.4 260.7h0M515.3 242.0h0M533.7 213.2h0M518.0 258.4h0M533.9 205.2h0M528.7 201.9h0M532.8 242.6h0M526.8 254.0h0M513.5 239.2h0M520.8 250.5h0M535.4 238.5h0M514.0 209.5h0M524.2 237.3h0M523.9 244.2h0M521.8 232.8h0M517.9 242.6h0M518.6 232.4h0M516.0 212.3h0M517.5 250.2h0M511.8 219.5h0M529.6 220.8h0M533.2 215.1h0M516.4 228.0h0M512.3 229.2h0M520.5 219.1h0M513.6 217.1h0M521.6 231.1h0M517.3 188.5h0M525.3 232.2h0M529.4 212.7h0M532.8 214.5h0M528.8 213.8h0M531.6 248.6h0M535.8 245.9h0M520.9 263.2h0M514.8 247.1h0M515.2 232.6h0M522.5 228.1h0M528.3 236.3h0M531.7 238.1h0M515.1 263.4h0M524.0 227.1h0M512.8 252.8h0M525.2 256.5h0M532.5 256.0h0M519.5 238.5h0M527.8 238.9h0M526.7 270.1h0M527.5 230.2h0M515.5 244.4h0M523.6 209.7h0M512.3 220.2h0M521.2 234.2h0M512.2 243.2h0M535.0 216.4h0M519.5 245.9h0M517.1 236.2h0M533.5 214.5h0M521.7 202.4h0M523.7 229.1h0M532.6 248.5h0M524.0 260.8h0M520.7 243.0h0M529.3 220.2h0M518.4 251.1h0M514.7 215.7h0M528.8 228.9h0M523.3 239.9h0M535.8 225.4h0M524.5 225.8h0M533.3 229.6h0M512.0 252.8h0M511.5 231.4h0M519.7 210.3h0M531.8 226.8h0M522.8 237.0h0M526.1 234.7h0M520.0 257.4h0M519.5 233.0h0M519.2 245.6h0M518.0 242.4h0M511.8 233.2h0M527.8 229.1h0M518.6 231.3h0M533.9 213.0h0M525.6 209.8h0M514.8 213.0h0M518.3 213.9h0M515.4 209.3h0M529.8 227.8h0M517.2 215.1h0M524.9 260.2h0M521.7 230.0h0M520.1 172.4h0M532.6 239.1h0M523.7 242.1h0M518.7 257.1h0M515.2 220.4h0M518.4 224.3h0M515.6 243.6h0M527.5 238.5h0M529.5 237.1h0M525.8 254.0h0M528.7 269.3h0M529.6 182.4h0M525.2 228.4h0M515.6 256.4h0M526.9 193.8h0M511.5 226.0h0M522.8 244.7h0M514.9 208.6h0M528.3 236.7h0M527.6 253.1h0M519.2 234.1h0M525.5 172.9h0M528.7 212.6h0M523.7 228.8h0M517.3 189.0h0M513.7 240.0h0M532.7 222.9h0M513.1 225.9h0M515.9 245.8h0M530.4 244.4h0M512.1 245.6h0M514.5 217.3h0M520.2 225.9h0M514.7 238.0h0M511.9 232.3h0M530.3 245.7h0M515.2 229.8h0M533.7 253.3h0M512.1 220.9h0M517.7 239.9h0M525.2 245.8h0M513.4 265.0h0M522.9 227.4h0M523.1 250.8h0M525.9 236.4h0M534.1 239.6h0M521.1 222.6h0M533.6 250.2h0M516.4 207.6h0M527.2 265.5h0M521.6 235.8h0M530.3 236.7h0M523.9 217.4h0M532.2 240.5h0M514.8 215.0h0M517.5 247.6h0M524.5 242.4h0M526.8 217.8h0M520.4 246.3h0M531.0 239.0h0M520.4 224.7h0M534.2 240.9h0M534.2 241.7h0M512.0 232.1h0M526.9 241.0h0M532.4 244.1h0M512.2 250.8h0M529.4 246.8h0M525.5 212.1h0M523.8 249.8h0M517.7 256.0h0M529.3 232.0h0M516.4 252.6h0M515.5 220.2h0M519.6 203.0h0M535.7 229.3h0M521.0 213.0h0M514.5 214.6h0M520.9 230.8h0M530.0 259.4h0M526.5 233.7h0M528.9 264.2h0M531.6 232.7h0M518.2 232.0h0M519.6 195.4h0M532.3 209.6h0M520.5 250.1h0M523.7 242.2h0M531.7 235.4h0M526.6 251.0h0M533.7 239.5h0M511.3 223.2h0M526.4 250.0h0M523.7 241.2h0M521.2 209.7h0M518.3 247.8h0M520.3 226.4h0M531.3 249.2h0M522.8 247.1h0M516.4 252.3h0M514.4 241.1h0M531.9 255.4h0M524.7 208.3h0M525.1 176.9h0M520.3 246.9h0M531.5 240.8h0M526.3 241.1h0M512.7 163.6h0M533.0 175.6h0M525.1 272.2h0M517.7 225.2h0M511.9 191.6h0M511.9 167.7h0M514.0 216.2h0M517.3 198.9h0M524.1 179.7h0M516.5 234.7h0M530.6 182.5h0M524.1 270.0h0M521.6 188.5h0M521.6 263.3h0M516.9 202.5h0M524.3 195.3h0M516.7 248.5h0M519.0 219.6h0" stroke="#000" stroke-width="1.25" stroke-linecap="square"/>
<text x="0" y="0" font-size="9.3" text-anchor="middle" fill="#222" stroke="#222" stroke-width="0.25" transform="translate(496.2,295.5) rotate(-45)">TT</text>
<text x="0" y="0" font-size="9.3" text-anchor="middle" fill="#222" stroke="#222" stroke-width="0.25" transform="translate(525.6,295.5) rotate(-45)">TAT</text>
<path d="M594.2 145.5 V282.4 H658.6" stroke="#000" stroke-width="1.1" fill="none"/>
<path d="M591.7 182.4 H594.2M591.7 218.4 H594.2M591.7 254.4 H594.2M612 282.4 V284.9M641.3 282.4 V284.9" stroke="#000" stroke-width="0.9"/>
<text x="590.9" y="185.3" font-size="8.0" text-anchor="end" fill="#1a1a1a" stroke="#1a1a1a" stroke-width="0.18" >0.7</text>
<text x="590.9" y="221.3" font-size="8.0" text-anchor="end" fill="#1a1a1a" stroke="#1a1a1a" stroke-width="0.18" >0.5</text>
<text x="590.9" y="257.3" font-size="8.0" text-anchor="end" fill="#1a1a1a" stroke="#1a1a1a" stroke-width="0.18" >0.3</text>
<text x="0" y="0" font-size="9" text-anchor="middle" dy="0.35em" fill="#222" stroke="#222" stroke-width="0.25" transform="translate(571.40,209.00) rotate(-90)" textLength="136.5" lengthAdjust="spacingAndGlyphs">Proportion of miRNA molecules</text>
<path d="M612.00 152.10 L612.80 152.10 L613.50 153.88 L614.11 155.66 L614.91 157.43 L615.83 159.21 L616.83 160.99 L617.86 162.77 L618.88 164.55 L619.90 166.32 L620.89 168.10 L621.82 169.88 L622.68 171.66 L623.47 173.44 L624.17 175.21 L624.72 176.99 L625.08 178.77 L625.26 180.55 L625.30 182.33 L625.21 184.10 L625.00 185.88 L624.72 187.66 L624.39 189.44 L623.95 191.22 L623.35 192.99 L622.59 194.77 L621.72 196.55 L620.82 198.33 L619.89 200.11 L618.91 201.88 L617.91 203.66 L616.93 205.44 L616.02 207.22 L615.20 208.99 L614.47 210.77 L613.86 212.55 L613.39 214.33 L613.05 216.11 L612.79 217.88 L612.60 219.66 L612.49 221.44 L612.45 223.22 L612.44 225.00 L612.43 226.77 L612.43 228.55 L612.42 230.33 L612.42 232.11 L612.41 233.89 L612.41 235.66 L612.40 237.44 L612.40 239.22 L612.39 241.00 L612.39 242.78 L612.38 244.55 L612.38 246.33 L612.37 248.11 L612.37 249.89 L612.36 251.67 L612.36 253.44 L612.36 255.22 L612.35 257.00 L611.65 257.00 L611.64 255.22 L611.64 253.44 L611.64 251.67 L611.63 249.89 L611.63 248.11 L611.62 246.33 L611.62 244.55 L611.61 242.78 L611.61 241.00 L611.60 239.22 L611.60 237.44 L611.59 235.66 L611.59 233.89 L611.58 232.11 L611.58 230.33 L611.57 228.55 L611.57 226.77 L611.56 225.00 L611.55 223.22 L611.51 221.44 L611.40 219.66 L611.21 217.88 L610.95 216.11 L610.61 214.33 L610.14 212.55 L609.53 210.77 L608.80 208.99 L607.98 207.22 L607.07 205.44 L606.09 203.66 L605.09 201.88 L604.11 200.11 L603.18 198.33 L602.28 196.55 L601.41 194.77 L600.65 192.99 L600.05 191.22 L599.61 189.44 L599.28 187.66 L599.00 185.88 L598.79 184.10 L598.70 182.33 L598.74 180.55 L598.92 178.77 L599.28 176.99 L599.83 175.21 L600.53 173.44 L601.32 171.66 L602.18 169.88 L603.11 168.10 L604.10 166.32 L605.12 164.55 L606.14 162.77 L607.17 160.99 L608.17 159.21 L609.09 157.43 L609.89 155.66 L610.50 153.88 L611.20 152.10 Z" fill="#f6786e" stroke="#1a1a1a" stroke-width="0.9"/>
<path d="M641.30 159.40 L642.10 159.40 L643.23 161.37 L644.27 163.35 L645.59 165.32 L647.02 167.29 L648.50 169.26 L649.97 171.24 L651.33 173.21 L652.48 175.18 L653.33 177.16 L653.98 179.13 L654.44 181.10 L654.69 183.07 L654.63 185.05 L654.38 187.02 L654.02 188.99 L653.60 190.97 L653.04 192.94 L652.27 194.91 L651.36 196.88 L650.37 198.86 L649.37 200.83 L648.34 202.80 L647.26 204.78 L646.18 206.75 L645.17 208.72 L644.32 210.69 L643.66 212.67 L643.14 214.64 L642.73 216.61 L642.43 218.59 L642.21 220.56 L642.04 222.53 L641.91 224.51 L641.81 226.48 L641.76 228.45 L641.74 230.42 L641.74 232.40 L641.73 234.37 L641.73 236.34 L641.73 238.32 L641.72 240.29 L641.72 242.26 L641.71 244.23 L641.71 246.21 L641.71 248.18 L641.70 250.15 L641.70 252.13 L641.69 254.10 L641.69 256.07 L641.69 258.04 L641.68 260.02 L641.68 261.99 L641.67 263.96 L641.67 265.94 L641.67 267.91 L641.66 269.88 L641.66 271.85 L641.65 273.83 L641.65 275.80 L640.95 275.80 L640.95 273.83 L640.94 271.85 L640.94 269.88 L640.93 267.91 L640.93 265.94 L640.93 263.96 L640.92 261.99 L640.92 260.02 L640.91 258.04 L640.91 256.07 L640.91 254.10 L640.90 252.13 L640.90 250.15 L640.89 248.18 L640.89 246.21 L640.89 244.23 L640.88 242.26 L640.88 240.29 L640.87 238.32 L640.87 236.34 L640.87 234.37 L640.86 232.40 L640.86 230.42 L640.84 228.45 L640.79 226.48 L640.69 224.51 L640.56 222.53 L640.39 220.56 L640.17 218.59 L639.87 216.61 L639.46 214.64 L638.94 212.67 L638.28 210.69 L637.43 208.72 L636.42 206.75 L635.34 204.78 L634.26 202.80 L633.23 200.83 L632.23 198.86 L631.24 196.88 L630.33 194.91 L629.56 192.94 L629.00 190.97 L628.58 188.99 L628.22 187.02 L627.97 185.05 L627.91 183.07 L628.16 181.10 L628.62 179.13 L629.27 177.16 L630.12 175.18 L631.27 173.21 L632.63 171.24 L634.10 169.26 L635.58 167.29 L637.01 165.32 L638.33 163.35 L639.37 161.37 L640.50 159.40 Z" fill="#2fbec4" stroke="#1a1a1a" stroke-width="0.9"/>
<path d="M616.0 183.3h0M618.7 187.8h0M607.9 177.7h0M615.0 191.5h0M605.9 179.1h0M617.1 199.6h0M609.6 170.0h0M622.7 185.3h0M617.7 178.4h0M601.4 181.7h0M615.5 168.5h0M609.0 178.8h0M607.6 173.2h0M604.7 189.0h0M617.0 192.6h0M620.8 193.0h0M610.6 199.9h0M611.9 179.4h0M607.8 186.9h0M619.8 203.6h0M624.2 182.0h0M610.8 183.9h0M610.7 188.8h0M604.2 161.7h0M606.6 196.1h0M609.3 180.1h0M609.8 191.7h0M603.7 171.1h0M608.5 183.4h0M601.0 185.8h0M606.5 192.3h0M615.9 186.5h0M622.2 187.2h0M604.9 201.0h0M617.0 175.2h0M605.3 181.5h0M623.2 197.6h0M605.7 181.0h0M600.7 187.3h0M623.2 183.9h0M608.2 206.1h0M604.7 188.3h0M610.9 192.2h0M620.6 161.9h0M609.3 179.6h0M611.0 190.9h0M615.8 171.1h0M600.1 192.9h0M622.2 200.7h0M617.3 191.2h0M614.3 190.7h0M608.4 175.2h0M623.8 168.6h0M601.4 201.9h0M599.6 180.4h0M614.4 199.6h0M616.4 189.3h0M603.3 201.1h0M620.6 161.2h0M610.4 194.7h0M607.9 192.4h0M617.4 185.5h0M609.7 171.2h0M603.6 173.7h0M610.2 201.9h0M600.5 179.4h0M607.2 192.9h0M614.1 206.7h0M601.5 174.8h0M610.4 165.5h0M611.5 162.9h0M600.4 180.8h0M604.8 195.0h0M600.7 194.2h0M612.5 185.5h0M615.5 155.3h0M599.6 175.0h0M613.7 170.5h0M621.1 172.2h0M600.6 169.1h0M614.3 164.4h0M607.5 183.0h0M603.1 178.7h0M621.2 179.3h0M607.3 176.3h0M620.7 192.5h0M622.0 176.1h0M605.8 171.1h0M621.3 176.4h0M622.2 175.6h0M599.6 179.1h0M621.6 180.3h0M615.4 173.6h0M599.6 187.9h0M612.7 170.0h0M620.9 199.8h0M620.8 197.2h0M621.7 182.1h0M612.4 191.6h0M602.1 173.6h0M608.1 177.1h0M606.9 198.7h0M615.1 181.6h0M606.2 191.5h0M613.4 194.0h0M607.2 190.0h0M611.1 181.4h0M615.5 179.2h0M619.9 164.6h0M600.5 197.6h0M610.8 189.5h0M607.6 164.8h0M615.2 195.6h0M617.5 176.6h0M617.3 196.4h0M603.4 170.9h0M603.2 160.8h0M621.1 196.5h0M607.3 197.1h0M616.9 182.2h0M599.9 199.2h0M614.4 167.5h0M605.3 171.5h0M616.2 205.9h0M601.6 201.9h0M621.6 190.4h0M616.7 177.6h0M615.1 190.9h0M611.3 152.9h0M619.4 177.9h0M610.5 196.5h0M615.5 174.3h0M609.4 169.0h0M599.8 182.2h0M611.0 188.1h0M619.6 177.9h0M615.5 196.0h0M601.7 199.8h0M600.3 174.6h0M603.9 178.6h0M615.2 196.3h0M607.1 184.6h0M605.6 192.5h0M621.3 176.5h0M599.8 195.3h0M620.0 195.4h0M608.2 193.5h0M619.7 197.2h0M606.7 179.7h0M612.4 183.3h0M603.0 194.5h0M606.4 190.7h0M615.7 185.1h0M616.5 163.4h0M603.7 173.9h0M615.5 181.8h0M624.0 191.6h0M614.6 199.4h0M606.5 210.1h0M616.5 179.5h0M614.1 205.4h0M616.0 179.4h0M620.4 172.3h0M622.9 200.6h0M603.3 167.3h0M605.6 182.9h0M602.8 193.2h0M624.4 186.8h0M624.1 197.4h0M618.3 183.5h0M615.1 182.1h0M603.4 178.3h0M607.1 187.5h0M602.8 185.9h0M608.5 183.9h0M601.9 189.2h0M600.0 182.8h0M601.0 189.0h0M610.6 183.2h0M603.5 193.8h0M601.0 173.7h0M618.3 178.6h0M618.6 177.0h0M623.1 198.0h0M619.6 186.8h0M623.2 201.9h0M615.8 185.4h0M612.8 202.0h0M609.9 190.8h0M607.8 198.0h0M599.9 177.6h0M617.3 218.8h0M607.5 176.7h0M617.8 191.9h0M623.1 187.7h0M619.3 178.7h0M612.2 169.4h0M613.4 163.8h0M621.7 158.2h0M605.5 184.9h0M614.2 184.7h0M614.4 168.5h0M614.6 163.9h0M606.8 161.5h0M610.9 186.1h0M612.1 192.2h0M619.3 198.4h0M623.6 181.7h0M600.8 191.8h0M619.4 174.6h0M611.7 163.8h0M615.6 185.5h0M613.0 178.5h0M619.6 180.6h0M609.7 169.0h0M609.4 189.8h0M613.3 198.6h0M623.7 191.8h0M610.1 170.1h0M610.1 174.8h0M612.2 171.9h0M624.4 210.6h0M603.5 178.4h0M614.5 170.5h0M614.7 194.6h0M621.7 172.9h0M608.2 167.1h0M614.9 179.4h0M605.8 163.1h0M609.2 180.9h0M601.4 182.2h0M606.5 177.9h0M609.2 184.6h0M607.0 194.5h0M609.8 178.2h0M606.7 175.3h0M605.9 187.4h0M608.1 179.6h0M616.3 175.0h0M615.1 201.6h0M624.0 174.1h0M602.9 180.2h0M619.7 175.7h0M601.5 194.5h0M605.2 187.6h0M599.9 199.8h0M612.0 176.1h0M599.8 195.0h0M601.1 188.2h0M615.7 168.9h0M615.7 174.9h0M601.9 195.5h0M615.0 182.2h0M610.2 172.3h0M621.2 170.7h0M613.9 176.2h0M612.6 187.7h0M624.3 170.0h0M606.4 171.3h0M610.8 195.0h0M618.8 175.1h0M617.6 190.2h0M600.5 194.5h0M599.8 191.4h0M606.5 186.9h0M623.8 181.8h0M601.1 190.2h0M600.0 178.7h0M622.5 191.4h0M603.0 190.3h0M607.4 168.9h0M621.1 157.2h0M609.5 188.7h0M600.6 183.1h0M609.9 185.9h0M617.7 187.7h0M603.5 181.7h0M606.2 169.5h0M607.9 183.9h0M599.8 175.9h0M616.7 183.8h0M601.8 161.9h0M604.9 204.8h0M610.7 170.6h0M618.5 213.6h0M601.6 194.2h0M623.7 180.4h0M612.2 184.9h0M603.7 173.2h0M604.0 159.4h0M612.9 182.4h0M601.8 165.8h0M603.6 171.1h0M623.4 165.8h0M621.4 185.0h0M614.9 189.6h0M618.2 204.6h0M602.3 174.3h0M606.4 195.4h0M599.9 185.2h0M614.0 159.5h0M599.6 178.8h0M602.1 208.1h0M624.4 191.6h0M601.7 187.7h0M624.1 190.2h0M613.0 204.3h0M611.7 183.7h0M602.7 171.1h0M609.4 164.0h0M608.2 187.0h0M616.9 172.6h0M624.1 202.1h0M607.6 207.2h0M600.1 185.8h0M623.6 186.2h0M611.6 169.2h0M609.8 193.0h0M618.5 181.1h0M615.5 191.6h0M613.0 181.5h0M603.0 194.3h0M619.5 168.6h0M605.6 206.9h0M614.7 189.6h0M604.2 178.2h0M605.3 180.8h0M615.1 173.6h0M618.1 183.4h0M623.8 199.3h0M616.6 182.0h0M615.4 177.1h0M614.5 181.6h0M606.7 181.1h0M622.4 180.6h0M614.0 184.8h0M600.8 188.9h0M611.4 190.1h0M608.0 161.6h0M603.4 202.2h0M616.8 179.2h0M619.7 181.2h0M621.9 183.0h0M621.3 199.9h0M624.2 164.3h0M604.3 194.2h0M613.8 189.5h0M609.7 184.6h0M617.7 179.7h0M616.8 184.2h0M601.4 190.1h0M606.4 181.6h0M605.0 200.9h0M601.3 184.8h0M606.3 182.0h0M611.5 199.0h0M607.3 161.9h0M603.3 198.8h0M619.5 183.0h0M601.1 170.7h0M605.6 189.8h0M616.6 175.4h0M609.6 181.8h0M615.6 184.7h0M601.5 205.9h0M622.9 188.8h0M609.3 181.7h0M620.2 186.4h0M609.9 188.4h0M620.3 170.5h0M600.3 178.1h0M606.4 172.4h0M624.3 168.8h0M601.3 178.0h0M620.8 163.0h0M609.0 172.6h0M611.6 172.4h0M606.6 184.5h0M608.2 181.1h0M624.1 169.2h0M611.2 215.4h0M603.0 191.8h0M618.5 189.1h0M604.8 187.5h0M612.9 191.8h0M619.1 173.4h0M610.9 190.4h0M601.9 178.2h0M617.8 173.6h0M622.7 176.2h0M616.4 194.8h0M622.8 179.3h0M611.2 197.5h0M604.6 218.8h0M607.8 201.8h0M619.4 182.5h0M622.9 186.3h0M606.2 187.1h0M620.1 168.5h0M618.5 192.4h0M605.1 194.6h0M620.1 172.1h0M610.0 177.6h0M603.1 186.6h0M613.5 205.0h0M605.8 178.8h0M613.0 197.8h0M623.4 165.6h0M604.5 184.1h0M613.3 175.1h0M612.3 198.1h0M603.7 172.6h0M614.7 167.9h0M605.7 178.6h0M622.2 192.0h0M620.9 191.5h0M612.7 178.1h0M605.6 191.4h0M603.1 170.3h0M605.2 181.7h0M612.7 198.1h0M614.1 171.9h0M602.9 174.9h0M618.2 178.6h0M611.7 173.1h0M623.9 184.5h0M609.4 180.5h0M611.1 185.7h0M619.3 161.2h0M609.8 193.5h0M619.1 179.6h0M613.0 166.5h0M602.4 187.6h0M622.1 171.9h0M622.0 173.7h0M602.7 192.4h0M607.8 166.3h0M613.7 202.4h0M602.1 175.2h0M609.6 186.9h0M601.2 169.2h0M612.8 255.3h0M611.6 203.8h0M622.7 188.1h0M619.6 175.6h0M606.2 180.1h0M616.5 185.3h0M623.4 175.9h0M602.7 185.5h0M612.8 199.6h0M603.1 170.0h0M605.8 176.0h0M611.9 205.1h0M599.7 196.3h0M611.5 162.1h0M606.9 167.2h0M601.1 188.1h0M612.8 194.8h0M604.5 207.2h0M604.5 169.5h0M623.0 181.9h0M610.4 184.1h0M613.2 197.2h0M602.1 181.6h0M623.3 162.6h0M614.2 166.7h0M606.9 182.5h0M616.1 169.7h0M615.6 183.8h0M611.6 186.8h0M610.2 184.1h0M601.9 185.6h0M618.5 160.1h0M600.5 189.5h0M601.1 163.0h0M615.1 182.7h0M621.3 169.7h0M622.0 180.0h0M605.0 194.7h0M619.9 196.2h0M604.1 197.0h0M604.3 189.6h0M611.1 183.8h0M613.9 194.1h0M612.8 165.4h0M622.4 162.9h0M611.9 197.7h0M608.5 191.1h0M611.1 181.5h0M604.1 174.1h0M617.5 205.9h0M603.9 174.6h0M611.6 175.0h0M601.8 202.9h0M617.5 192.3h0M608.6 195.7h0M619.1 202.2h0M603.7 204.5h0M611.7 180.5h0M621.3 175.6h0M617.7 184.6h0M604.7 179.9h0M601.9 177.0h0M614.4 185.7h0M624.0 198.5h0M609.6 185.1h0M617.1 178.3h0M616.5 173.4h0M623.9 194.8h0M609.7 188.4h0M601.7 173.9h0M602.0 194.4h0M622.2 166.1h0M604.9 167.7h0M614.1 176.7h0M615.4 193.6h0M622.0 183.9h0M610.1 189.5h0M605.8 199.7h0M622.2 210.0h0M614.8 195.9h0M624.3 182.4h0M619.0 184.3h0M616.1 155.7h0M611.3 165.0h0M599.5 181.9h0M620.0 177.1h0M608.4 185.1h0M600.9 156.6h0M618.0 203.5h0M624.1 182.0h0M617.9 170.6h0M603.9 188.3h0M608.1 186.3h0M608.0 189.8h0M607.1 212.4h0M616.6 181.1h0M617.6 153.3h0M606.5 172.5h0M609.3 179.7h0M607.5 175.0h0M606.0 182.3h0M615.9 187.9h0M619.5 182.6h0M617.4 164.8h0M623.6 161.2h0M623.0 161.3h0M623.6 189.6h0M619.1 180.1h0M608.7 184.7h0M618.2 180.5h0M623.7 189.9h0M606.4 212.0h0M608.3 187.6h0M600.1 173.1h0M622.2 191.5h0M619.4 173.4h0M602.6 189.8h0M610.6 185.8h0M606.8 158.6h0M608.2 171.7h0M610.5 173.4h0M623.1 178.6h0M607.3 198.4h0M613.9 190.1h0M618.1 182.4h0M617.2 180.5h0M600.4 162.5h0M608.2 174.5h0M620.2 197.5h0M603.9 179.5h0M610.8 176.2h0M619.2 201.5h0M604.6 174.0h0M611.7 193.4h0M623.3 179.3h0M601.9 179.2h0M606.6 176.8h0M600.1 175.2h0M600.9 175.0h0M619.6 176.1h0M612.8 181.6h0M614.9 181.8h0M606.0 160.0h0M617.1 179.7h0M603.1 195.1h0M604.5 192.0h0M601.0 169.8h0M623.2 173.4h0M607.7 187.9h0M606.7 188.1h0M610.1 164.2h0M605.3 176.6h0M622.3 183.0h0M606.5 190.2h0M600.6 184.7h0M620.5 187.1h0M617.7 198.3h0M604.1 198.2h0M608.9 172.4h0M603.5 197.0h0M622.0 172.5h0M622.3 155.4h0M600.8 194.1h0M604.9 199.5h0M609.8 168.2h0M615.0 191.8h0M620.3 167.0h0M622.0 199.9h0M622.8 181.4h0M613.9 182.2h0M618.1 200.9h0M621.8 176.4h0M618.0 185.2h0M611.1 167.7h0M620.2 172.9h0M615.2 184.9h0M606.7 196.9h0M600.2 180.4h0M618.6 156.5h0M600.0 174.0h0M619.2 182.6h0M619.0 165.0h0M604.3 170.3h0M620.9 173.3h0M613.4 195.5h0M623.3 182.0h0M622.8 169.2h0M600.1 183.7h0M605.4 185.2h0M619.9 186.8h0M612.7 191.9h0M603.1 185.9h0M612.3 164.7h0M608.2 186.4h0M609.1 188.0h0M602.3 182.7h0M614.7 169.8h0M620.2 173.1h0M609.1 187.5h0M607.4 192.4h0M622.1 165.8h0M615.3 191.5h0M623.9 181.4h0M620.6 186.9h0M604.8 192.8h0M617.0 166.4h0M603.4 191.8h0M603.6 191.8h0M615.4 183.2h0M600.2 174.9h0M605.3 185.5h0M623.7 185.9h0M606.9 180.2h0M617.4 183.8h0M617.2 191.2h0M613.0 192.2h0M620.5 202.4h0M604.6 206.7h0M603.0 160.1h0M619.3 199.2h0M608.1 198.2h0M604.5 233.8h0M612.4 193.3h0M616.7 203.1h0M612.6 209.1h0M619.7 170.8h0M608.2 168.9h0M619.5 184.9h0M622.5 200.8h0M614.1 184.3h0M616.3 183.1h0M613.8 196.4h0M607.0 186.2h0M605.7 194.8h0M617.5 186.4h0M603.2 183.5h0M609.6 182.2h0M608.8 194.7h0M621.8 170.2h0M612.9 179.0h0M606.2 167.8h0M610.4 188.5h0M601.0 180.6h0M606.5 199.1h0M616.6 177.0h0M605.6 200.4h0M607.0 176.5h0M622.3 202.3h0M606.3 198.5h0M613.9 177.3h0M624.3 184.5h0M601.7 166.3h0M609.7 187.9h0M619.5 189.1h0M618.7 181.6h0M615.0 180.9h0M617.3 182.9h0M603.1 193.4h0M601.0 173.6h0M602.6 195.4h0M622.0 190.4h0M604.0 180.6h0M616.8 206.7h0M601.4 186.6h0M621.7 183.7h0M618.8 183.4h0M620.6 177.5h0M624.0 183.2h0M615.7 168.3h0M621.6 186.8h0M624.4 177.8h0M601.8 188.1h0M600.7 186.8h0M618.1 213.3h0M614.1 191.5h0M605.6 157.4h0M616.4 168.5h0M616.0 184.1h0M608.0 183.9h0M600.8 182.3h0M624.2 191.8h0M613.1 200.4h0M601.9 165.9h0M619.4 187.4h0M621.4 176.2h0M608.8 179.9h0M619.4 202.9h0M601.2 164.4h0M617.0 174.3h0M623.9 183.2h0M618.2 192.3h0M606.2 204.0h0M609.4 206.4h0M616.3 201.3h0M610.4 193.3h0M624.3 182.5h0M619.1 176.6h0M610.3 197.5h0M617.1 191.6h0M601.2 190.0h0M607.8 192.6h0M600.5 200.5h0M608.0 185.0h0M603.9 176.4h0M611.7 159.4h0M607.8 174.7h0M601.0 189.6h0M603.5 179.1h0M609.8 173.1h0M614.5 170.3h0M606.1 162.7h0M609.5 184.8h0M623.1 188.5h0M609.7 203.4h0M611.6 192.6h0M611.9 171.1h0M622.6 173.0h0M603.7 204.9h0M611.2 175.5h0M619.8 184.3h0M612.8 194.9h0M607.9 188.4h0M608.9 164.0h0M604.4 182.3h0M616.3 184.8h0M620.6 184.0h0M617.7 168.4h0M600.7 205.0h0M619.1 182.3h0M618.2 188.9h0M609.0 192.5h0M606.6 176.0h0M623.5 161.2h0M603.0 187.3h0M619.3 199.3h0M606.2 198.0h0M613.1 196.0h0M617.1 172.6h0M622.4 198.5h0M618.8 166.9h0M601.5 176.4h0M621.2 196.4h0M623.8 167.9h0M600.4 192.4h0M606.9 193.5h0M621.6 199.4h0M612.8 197.5h0M599.7 190.0h0M618.7 171.8h0M624.2 169.5h0M603.2 166.3h0M621.2 177.1h0M615.0 175.9h0M614.7 212.1h0M600.7 195.0h0M623.8 167.4h0M624.5 183.4h0M602.7 194.1h0M619.9 179.7h0M608.3 184.0h0M600.2 198.9h0M612.5 200.5h0M620.6 172.4h0M614.1 194.4h0M600.9 181.3h0M621.1 160.4h0M610.2 176.7h0M613.5 198.0h0M609.7 172.9h0M623.6 171.9h0M613.0 203.8h0M619.9 180.7h0M623.2 198.2h0M614.3 175.7h0M620.7 165.7h0M604.8 200.3h0M604.3 175.5h0M618.0 200.6h0M616.4 189.0h0M623.4 194.9h0M608.5 177.2h0M604.0 190.2h0M610.0 194.8h0M621.8 188.1h0M613.2 200.4h0M607.3 200.0h0M612.0 185.6h0M617.8 201.8h0M602.1 190.8h0M617.0 199.9h0M610.4 170.0h0M621.4 177.2h0M619.6 171.2h0M618.7 161.2h0M600.7 188.9h0M612.9 205.0h0M600.9 187.8h0M608.4 206.4h0M603.8 194.1h0M611.8 186.7h0M604.9 180.7h0M607.4 172.5h0M618.3 203.7h0M618.9 201.9h0M618.4 198.4h0M617.8 178.4h0M608.4 193.1h0M600.5 185.2h0M601.0 195.0h0M614.0 185.7h0M623.6 158.7h0M612.3 175.7h0M611.1 175.1h0M621.0 178.5h0M608.8 177.9h0M605.1 159.8h0M623.3 183.3h0M599.6 202.2h0M612.8 186.7h0M603.9 173.7h0M605.7 206.1h0M623.0 198.4h0M616.3 197.1h0M613.2 169.4h0M602.2 189.8h0M622.7 177.4h0M610.4 194.6h0M602.0 179.6h0M613.2 174.5h0M601.6 205.8h0M620.8 196.3h0M609.7 188.8h0M606.8 182.3h0M605.8 185.5h0M604.7 188.3h0M604.3 181.0h0M614.6 180.1h0M603.7 175.1h0M613.2 187.4h0M621.4 176.9h0M618.0 180.1h0M613.0 176.1h0M610.2 200.2h0M608.2 183.5h0M605.8 171.3h0M610.0 169.6h0M624.2 191.2h0M613.2 201.4h0M606.8 173.3h0M606.3 186.0h0M610.6 183.4h0M610.8 180.6h0M608.2 189.6h0M613.2 193.9h0M618.0 194.5h0M617.0 174.4h0M617.7 187.1h0M612.6 171.4h0M620.3 173.0h0M601.6 179.0h0M614.0 185.5h0M620.3 182.6h0M617.8 163.8h0M623.4 183.4h0M603.0 172.4h0M616.0 172.4h0M619.2 196.6h0M609.5 187.9h0M605.8 175.1h0M610.6 193.3h0M620.1 208.6h0M605.1 196.4h0M619.1 170.3h0M618.2 188.9h0M613.2 180.6h0M612.4 180.7h0M623.1 173.4h0M602.8 168.9h0M601.1 207.1h0M612.5 181.7h0M601.6 171.7h0M605.9 181.6h0M602.8 181.5h0M623.2 171.5h0M612.2 191.4h0M606.0 187.1h0M607.6 191.3h0M604.1 195.9h0M608.7 197.7h0M604.0 254.5h0M620.5 191.2h0M613.5 208.0h0M602.2 210.4h0M620.8 173.1h0M610.8 178.9h0M600.3 181.5h0M618.4 182.4h0M616.0 168.4h0M612.0 179.8h0M609.9 193.1h0M617.7 183.0h0M623.9 189.1h0M612.0 189.5h0M621.9 186.4h0M613.2 159.6h0M605.5 179.6h0M617.4 192.0h0M619.2 179.5h0M602.6 206.3h0M604.9 204.5h0M602.4 183.6h0M600.4 206.6h0M607.9 173.6h0M611.8 182.5h0M614.0 201.5h0M611.9 168.1h0M620.2 183.9h0M603.9 181.3h0M623.4 179.7h0M618.4 181.0h0M600.8 186.0h0M600.9 200.6h0M602.2 164.6h0M614.9 171.1h0M613.6 189.0h0M605.9 184.9h0M616.4 192.1h0M608.0 195.2h0M619.2 194.5h0M617.8 177.4h0M605.4 174.3h0M601.2 188.2h0M614.8 165.5h0M601.6 186.3h0M613.7 186.6h0M616.2 182.8h0M603.2 196.3h0M618.7 165.9h0M609.5 160.0h0M615.2 202.2h0M612.4 195.3h0M617.3 163.6h0M611.8 190.9h0M612.5 185.4h0M611.3 170.6h0M603.5 180.5h0M615.3 186.2h0M600.1 187.3h0M609.9 172.9h0M619.0 160.4h0M620.9 166.2h0M620.6 174.2h0M618.0 175.6h0M623.7 174.1h0M624.2 178.3h0M609.6 168.2h0M616.4 179.1h0M603.4 177.0h0M615.3 175.7h0M607.7 181.0h0M621.4 197.8h0M602.9 193.1h0M603.6 170.8h0M615.6 167.0h0M613.5 185.6h0M615.0 167.8h0M614.4 193.9h0M600.7 178.9h0M614.5 207.5h0M610.5 178.9h0M604.4 185.2h0M620.1 166.1h0M617.9 172.1h0M615.9 172.7h0M609.9 201.0h0M603.5 216.9h0M599.5 187.8h0M621.3 186.6h0M611.2 192.1h0M611.6 180.9h0M606.9 201.6h0M609.9 174.6h0M615.1 198.3h0M610.5 161.5h0M620.0 187.0h0M604.3 186.5h0M602.6 192.9h0M620.8 173.1h0M604.4 178.7h0M607.2 201.4h0M618.0 172.0h0M600.2 177.0h0M612.5 185.2h0M607.6 211.6h0M622.9 177.3h0M612.7 171.1h0M612.4 170.1h0M615.6 210.6h0M619.5 175.3h0M606.8 191.6h0M600.1 166.7h0M614.2 182.1h0M610.7 185.6h0M604.8 190.9h0M617.5 187.2h0M617.9 180.7h0M624.0 171.6h0M623.2 179.7h0M605.4 182.3h0M609.1 176.6h0M618.2 170.3h0M600.0 198.0h0M620.1 172.7h0M615.9 180.1h0M607.2 183.1h0M621.5 172.2h0M611.2 194.1h0M605.4 171.1h0M619.8 196.1h0M622.4 161.5h0M603.1 161.4h0M623.1 183.8h0M603.7 183.6h0M616.7 181.4h0M611.8 200.1h0M621.3 192.0h0M624.3 194.9h0M602.0 192.3h0M610.9 194.0h0M621.1 194.2h0M609.6 197.7h0M603.8 191.4h0M611.6 172.3h0M600.6 183.8h0M603.9 189.5h0M620.8 182.3h0M620.4 183.6h0M619.6 177.8h0M601.0 171.6h0M615.8 198.9h0M610.8 177.5h0M616.2 162.1h0M608.0 178.0h0M606.9 248.0h0M622.7 160.2h0M616.8 210.4h0M615.3 172.5h0M612.3 161.5h0M606.9 216.6h0M610.5 174.3h0M621.8 206.3h0M620.8 174.7h0M602.0 178.5h0M619.2 208.9h0M616.2 174.1h0M615.9 194.6h0M607.5 195.8h0M623.0 180.0h0M613.6 169.4h0M620.6 193.7h0M601.6 170.0h0M612.1 178.1h0M605.5 172.9h0M609.8 199.3h0M607.8 176.1h0M613.4 185.7h0M602.8 189.0h0M610.7 175.6h0M607.6 185.6h0M616.6 189.4h0M605.7 209.2h0M608.1 180.4h0M606.0 177.9h0M623.0 179.8h0M601.9 184.5h0M604.2 177.4h0M621.4 180.4h0M608.9 187.9h0M618.3 191.3h0M601.5 190.4h0M603.0 189.6h0M614.6 169.0h0M603.6 188.3h0M605.5 174.5h0M608.6 196.3h0M615.1 198.4h0M603.6 175.5h0M601.1 203.5h0M609.3 189.2h0M616.4 191.3h0M619.7 190.4h0M613.7 188.8h0M607.6 169.9h0M622.6 186.9h0M607.3 207.0h0M618.7 195.7h0M618.5 181.6h0M616.0 209.6h0M612.7 199.4h0M604.7 181.7h0M613.7 195.4h0M599.7 175.2h0M623.3 170.7h0M612.6 182.8h0M611.5 195.7h0M623.2 190.0h0M620.9 176.6h0M606.9 183.5h0M622.9 192.3h0M603.8 250.8h0M620.4 189.0h0M620.0 210.7h0M613.3 207.1h0M606.0 221.3h0M608.1 229.1h0M603.2 208.6h0M618.1 230.1h0M623.4 226.6h0M602.4 216.5h0M601.3 177.3h0M610.3 196.9h0M623.8 206.4h0M604.7 234.3h0M604.6 205.0h0M609.5 196.1h0M607.9 178.4h0M606.1 233.8h0M613.9 205.7h0M602.2 218.6h0M601.7 247.9h0M611.8 229.6h0M623.2 195.3h0M604.4 198.2h0M605.2 226.7h0M605.1 243.8h0M601.6 190.0h0M601.9 209.6h0M607.5 192.1h0M606.6 184.9h0M614.2 232.5h0M603.6 208.5h0M622.2 209.1h0M613.7 244.9h0M619.6 176.2h0M602.7 194.0h0M619.9 179.5h0M609.7 176.7h0M607.8 219.0h0M621.5 201.8h0M610.5 231.4h0M606.8 190.9h0M609.5 185.8h0M614.3 236.0h0M605.6 179.2h0M612.1 220.7h0M607.7 179.3h0M602.7 252.5h0M600.2 249.0h0M620.1 179.7h0M621.9 253.3h0M606.6 221.1h0M618.6 236.4h0M609.7 245.0h0M608.3 212.6h0M606.7 213.0h0M607.7 202.7h0M608.4 225.9h0M602.5 177.6h0M620.1 231.8h0M610.1 235.8h0M604.3 232.4h0M609.8 226.4h0M611.4 201.7h0M618.2 231.6h0M603.6 207.0h0M612.0 228.4h0M618.6 195.9h0M619.9 197.0h0M603.3 229.0h0" stroke="#000" stroke-width="1.25" stroke-linecap="square"/>
<path d="M636.8 181.1h0M652.0 192.7h0M636.4 180.7h0M629.9 190.5h0M640.9 179.6h0M646.4 181.3h0M639.0 170.2h0M647.5 189.6h0M647.4 179.6h0M634.4 171.5h0M638.9 179.1h0M653.5 175.3h0M641.7 181.0h0M650.7 205.2h0M638.8 202.2h0M634.4 197.9h0M650.8 196.3h0M640.2 202.2h0M629.2 175.6h0M646.3 185.5h0M642.2 195.7h0M649.4 204.0h0M652.8 188.9h0M646.0 173.7h0M632.1 181.8h0M631.2 176.9h0M650.2 195.2h0M647.3 194.9h0M649.2 183.4h0M642.4 159.9h0M643.6 202.4h0M630.6 200.0h0M639.4 202.4h0M642.9 192.8h0M635.9 215.8h0M630.8 180.0h0M650.9 174.3h0M632.6 196.8h0M641.6 196.5h0M645.6 178.7h0M641.1 189.0h0M651.1 171.8h0M634.7 175.4h0M651.2 208.2h0M650.4 199.9h0M642.4 174.4h0M639.2 190.6h0M650.3 192.4h0M641.0 187.3h0M652.8 184.1h0M632.5 191.8h0M631.3 167.8h0M633.1 207.1h0M649.8 189.9h0M639.6 186.3h0M640.5 179.8h0M645.5 179.4h0M633.9 190.0h0M639.8 176.6h0M644.0 192.8h0M629.5 172.0h0M639.7 182.0h0M643.5 178.6h0M639.3 162.4h0M633.7 192.1h0M630.4 199.8h0M652.5 182.5h0M648.7 178.7h0M642.6 189.6h0M647.0 172.6h0M629.4 198.6h0M653.8 186.4h0M637.2 190.8h0M639.9 179.5h0M630.4 186.6h0M636.8 188.5h0M631.7 189.5h0M637.2 193.9h0M639.3 184.2h0M643.9 183.6h0M632.1 183.3h0M650.5 167.7h0M652.4 182.6h0M632.1 203.3h0M632.5 191.4h0M648.4 182.4h0M637.1 197.0h0M635.6 179.4h0M635.4 184.3h0M633.5 178.9h0M651.4 183.0h0M645.5 174.0h0M634.2 189.0h0M653.8 174.1h0M637.1 183.2h0M647.8 194.1h0M647.1 200.4h0M639.7 190.2h0M645.6 181.9h0M635.8 175.8h0M647.0 178.1h0M633.9 180.1h0M632.0 190.8h0M638.3 193.8h0M646.4 174.6h0M646.6 185.0h0M635.8 193.1h0M629.6 191.8h0M642.6 173.0h0M647.5 187.5h0M629.8 204.0h0M632.3 197.7h0M640.2 177.4h0M633.7 197.5h0M638.4 212.7h0M633.3 203.8h0M646.4 198.7h0M648.3 173.2h0M652.7 182.6h0M629.6 191.9h0M632.2 198.8h0M650.7 196.9h0M646.1 183.2h0M646.0 181.9h0M629.2 192.3h0M653.7 178.5h0M636.7 182.3h0M630.2 198.1h0M631.5 178.8h0M632.4 197.6h0M645.0 169.9h0M639.1 171.8h0M636.4 182.6h0M633.0 191.1h0M635.7 176.2h0M649.0 207.0h0M638.0 189.1h0M629.0 170.4h0M653.7 178.1h0M652.7 198.6h0M638.1 172.8h0M645.0 167.1h0M631.1 178.3h0M643.1 167.6h0M630.1 177.3h0M634.7 185.4h0M652.3 197.0h0M632.1 185.9h0M642.0 186.8h0M643.7 172.9h0M634.4 181.1h0M652.8 190.8h0M641.4 185.7h0M630.7 203.2h0M648.0 184.1h0M640.7 202.1h0M633.2 178.5h0M637.7 190.8h0M642.8 195.1h0M641.2 207.4h0M639.8 175.9h0M628.9 189.0h0M631.3 203.2h0M639.2 185.7h0M653.2 212.3h0M633.1 201.9h0M634.8 179.6h0M640.2 185.2h0M636.5 179.9h0M650.8 196.1h0M647.7 169.6h0M646.1 192.0h0M632.3 163.3h0M638.0 169.5h0M648.6 195.3h0M642.8 177.7h0M632.4 187.6h0M650.1 201.3h0M651.8 177.2h0M647.9 183.1h0M643.7 195.1h0M632.9 190.7h0M637.6 189.0h0M639.9 176.5h0M643.1 185.4h0M642.3 197.9h0M632.4 186.8h0M643.7 189.6h0M649.0 191.6h0M634.1 181.8h0M630.6 186.1h0M638.6 182.5h0M638.6 178.8h0M652.0 171.0h0M635.5 200.1h0M648.2 180.3h0M649.4 192.1h0M632.1 175.8h0M651.5 188.6h0M643.2 192.2h0M650.4 191.4h0M648.5 185.2h0M641.0 213.3h0M650.0 173.9h0M637.0 194.1h0M636.8 172.6h0M643.7 185.6h0M638.2 163.7h0M634.1 169.6h0M649.0 200.1h0M649.1 194.4h0M630.9 168.1h0M646.5 172.0h0M651.8 172.4h0M649.1 197.8h0M632.5 184.3h0M631.0 196.5h0M639.9 188.2h0M651.2 194.0h0M651.6 173.6h0M629.4 192.5h0M651.3 180.1h0M644.9 189.7h0M645.3 175.4h0M634.7 180.3h0M644.5 196.3h0M652.3 171.9h0M643.4 175.9h0M651.6 178.0h0M646.0 177.9h0M634.8 196.0h0M637.6 200.5h0M635.3 197.0h0M636.3 184.1h0M645.5 189.2h0M641.1 188.3h0M651.4 190.4h0M633.7 188.8h0M632.1 202.2h0M631.0 190.8h0M635.0 168.5h0M646.7 194.3h0M632.9 187.2h0M644.8 195.3h0M651.6 181.5h0M644.5 177.4h0M634.0 186.6h0M647.9 177.6h0M649.8 187.9h0M642.0 187.3h0M638.4 192.1h0M644.0 166.7h0M631.3 195.5h0M645.3 172.9h0M634.5 185.2h0M644.7 183.0h0M636.6 212.3h0M638.1 196.3h0M652.0 202.1h0M637.3 177.9h0M648.5 184.9h0M631.4 199.8h0M646.1 198.4h0M630.7 188.8h0M641.5 184.7h0M651.0 177.5h0M635.5 186.6h0M635.8 198.7h0M651.7 191.9h0M639.5 196.3h0M644.6 189.3h0M646.7 172.0h0M646.9 176.4h0M652.9 184.3h0M652.6 200.4h0M630.7 185.1h0M630.1 203.7h0M647.4 185.8h0M633.9 192.4h0M646.3 191.1h0M631.7 164.9h0M640.3 182.7h0M639.7 188.6h0M639.7 211.8h0M642.7 196.8h0M632.0 177.6h0M640.0 179.4h0M653.6 185.4h0M630.3 180.4h0M648.6 181.2h0M643.0 187.4h0M633.5 170.6h0M645.5 184.1h0M637.3 171.5h0M640.8 165.2h0M634.2 198.7h0M653.7 170.9h0M652.1 191.1h0M641.4 196.3h0M640.8 170.8h0M638.6 170.7h0M643.2 167.4h0M644.6 198.8h0M647.8 185.1h0M632.4 174.9h0M651.6 210.4h0M630.7 189.2h0M652.2 200.2h0M634.2 172.7h0M641.0 187.9h0M649.8 193.7h0M637.6 184.6h0M631.4 185.4h0M645.8 169.1h0M647.0 177.1h0M639.0 178.1h0M645.3 184.0h0M649.8 165.5h0M628.9 172.3h0M645.0 188.8h0M644.4 212.6h0M640.1 177.6h0M633.8 187.5h0M637.3 185.2h0M639.0 193.8h0M649.2 185.4h0M647.3 185.9h0M641.5 168.3h0M636.4 164.4h0M650.6 183.3h0M629.8 173.1h0M637.8 181.0h0M637.2 174.7h0M640.9 195.6h0M629.9 178.8h0M639.4 190.2h0M632.4 189.0h0M630.3 192.2h0M653.6 179.6h0M649.6 175.2h0M637.2 199.5h0M645.1 185.6h0M634.8 192.3h0M651.0 184.7h0M644.7 167.5h0M639.8 173.9h0M636.0 173.9h0M639.8 167.2h0M647.5 192.5h0M648.3 205.9h0M630.2 183.1h0M653.1 208.6h0M641.9 173.8h0M651.4 181.6h0M630.2 188.2h0M650.3 190.9h0M643.6 167.2h0M631.2 200.1h0M628.8 232.4h0M634.8 179.5h0M651.7 180.4h0M645.2 191.4h0M637.0 183.6h0M636.4 187.1h0M646.8 198.6h0M638.8 190.2h0M631.0 173.1h0M644.8 180.4h0M641.5 199.6h0M650.6 203.7h0M631.2 180.4h0M645.3 170.9h0M648.1 196.0h0M641.4 177.1h0M648.8 177.1h0M651.0 183.0h0M647.2 172.0h0M633.7 191.6h0M631.9 199.4h0M642.5 180.3h0M653.3 190.9h0M652.7 174.9h0M640.2 182.9h0M644.3 174.5h0M636.6 172.8h0M644.7 178.0h0M629.3 181.4h0M651.2 166.2h0M651.5 190.0h0M645.9 189.3h0M632.3 180.1h0M635.8 183.6h0M650.4 178.8h0M636.4 173.1h0M648.6 205.3h0M650.3 202.7h0M646.6 184.5h0M636.3 198.0h0M644.3 186.0h0M650.2 206.4h0M646.8 189.0h0M649.3 198.4h0M650.7 187.7h0M642.1 185.8h0M645.6 188.7h0M643.0 197.3h0M653.3 173.5h0M631.1 193.5h0M629.5 194.1h0M648.7 265.4h0M648.1 181.5h0M644.2 191.9h0M629.1 182.8h0M636.4 188.0h0M649.9 163.8h0M632.6 196.8h0M629.4 176.2h0M653.3 184.2h0M642.4 175.4h0M631.7 203.7h0M638.0 193.4h0M650.0 199.3h0M650.0 192.8h0M635.2 201.1h0M648.1 190.7h0M637.3 171.3h0M633.4 171.3h0M643.2 195.0h0M638.2 179.8h0M648.2 192.0h0M651.1 183.0h0M653.2 197.5h0M647.6 180.4h0M637.7 172.6h0M637.5 197.5h0M633.5 179.8h0M640.5 183.3h0M647.4 194.7h0M630.0 178.4h0M631.6 203.5h0M646.1 167.2h0M635.2 194.1h0M642.6 197.5h0M642.0 190.4h0M633.0 176.4h0M650.8 172.5h0M640.4 195.3h0M629.7 192.3h0M650.7 195.6h0M647.1 209.9h0M632.9 190.0h0M648.8 204.6h0M631.8 212.8h0M640.9 187.8h0M645.5 193.9h0M653.6 175.3h0M652.6 262.9h0M650.9 185.8h0M652.1 185.3h0M631.7 192.1h0M630.0 197.0h0M631.6 179.2h0M645.8 193.8h0M629.9 197.3h0M633.8 182.3h0M630.0 184.9h0M644.5 199.7h0M645.7 181.2h0M634.6 195.7h0M635.0 200.0h0M653.2 181.9h0M639.6 180.8h0M635.5 175.4h0M645.6 176.3h0M646.8 197.9h0M641.9 179.5h0M631.0 178.4h0M635.3 189.9h0M648.8 179.6h0M635.7 179.2h0M632.8 203.7h0M635.8 216.5h0M647.5 194.6h0M651.5 195.0h0M650.7 181.5h0M651.0 181.4h0M651.2 196.2h0M653.0 186.4h0M650.0 177.1h0M644.5 180.4h0M636.3 192.3h0M653.7 183.1h0M634.3 197.2h0M636.8 177.0h0M647.9 162.1h0M639.8 174.5h0M629.8 172.4h0M642.5 175.5h0M650.8 210.0h0M641.9 190.1h0M648.0 183.4h0M633.8 174.2h0M648.4 195.5h0M637.0 190.5h0M637.7 178.0h0M647.3 184.4h0M642.8 198.4h0M639.6 207.1h0M637.7 206.1h0M636.6 188.4h0M650.8 186.1h0M643.3 184.0h0M648.1 164.0h0M652.7 179.4h0M640.1 196.5h0M646.7 181.8h0M630.6 189.2h0M641.2 211.6h0M645.8 194.4h0M647.8 180.9h0M644.3 176.8h0M640.7 203.3h0M652.1 178.4h0M633.2 192.2h0M646.0 189.3h0M638.6 188.8h0M629.1 179.8h0M653.7 208.3h0M648.1 195.1h0M650.0 181.3h0M631.6 174.3h0M649.4 182.2h0M639.9 168.6h0M635.8 174.8h0M642.7 178.3h0M650.0 175.5h0M652.4 186.8h0M641.5 174.3h0M647.6 171.0h0M649.6 171.0h0M644.9 199.5h0M653.5 171.7h0M640.3 207.0h0M631.3 203.2h0M640.0 184.7h0M641.9 199.4h0M647.8 167.5h0M649.6 194.0h0M629.9 187.4h0M634.7 187.8h0M632.7 274.8h0M651.5 175.0h0M631.3 179.1h0M650.5 191.1h0M633.6 176.3h0M650.5 202.9h0M641.5 174.8h0M648.8 182.6h0M652.6 194.5h0M653.5 198.4h0M630.8 195.4h0M650.9 197.1h0M647.4 182.6h0M637.7 182.9h0M634.0 187.0h0M645.1 176.1h0M646.2 187.4h0M632.2 187.6h0M647.0 180.2h0M642.6 174.2h0M645.9 172.0h0M649.6 181.7h0M640.3 187.7h0M651.9 212.7h0M643.1 176.5h0M635.5 167.4h0M638.1 180.0h0M636.2 185.0h0M652.4 188.9h0M645.2 181.0h0M642.3 202.2h0M651.7 177.3h0M643.9 178.6h0M641.5 177.7h0M640.0 206.9h0M650.5 184.9h0M641.7 181.9h0M638.0 170.2h0M633.8 183.4h0M636.1 196.4h0M648.2 197.2h0M634.0 204.6h0M650.1 176.0h0M649.0 168.3h0M634.8 175.3h0M631.7 171.3h0M649.9 198.3h0M643.4 179.9h0M649.9 197.8h0M652.3 178.5h0M633.3 172.3h0M645.1 179.7h0M635.1 189.7h0M641.2 208.8h0M631.8 189.4h0M648.8 195.4h0M638.5 186.0h0M632.4 203.3h0M631.8 198.8h0M639.2 215.1h0M636.5 198.0h0M646.4 192.5h0M633.1 196.3h0M636.5 199.9h0M652.0 191.2h0M637.5 172.1h0M632.0 184.5h0M633.5 207.3h0M651.4 191.8h0M632.8 182.3h0M634.0 200.0h0M643.3 181.6h0M637.9 182.2h0M629.9 186.5h0M639.2 190.5h0M634.2 186.7h0M639.0 180.9h0M643.1 187.8h0M641.1 181.6h0M631.9 190.4h0M645.6 187.0h0M634.0 173.6h0M649.0 190.0h0M641.3 204.6h0M629.8 189.1h0M653.6 170.6h0M634.9 186.4h0M629.0 175.7h0M650.0 182.6h0M639.5 174.1h0M638.1 201.8h0M647.8 195.4h0M653.8 187.7h0M632.3 179.9h0M648.7 172.6h0M653.4 192.3h0M652.2 178.0h0M636.4 200.8h0M630.1 200.6h0M641.5 175.1h0M644.3 249.4h0M634.7 206.9h0M643.7 171.7h0M629.6 185.2h0M650.3 178.7h0M637.7 189.9h0M630.0 198.2h0M635.5 179.5h0M651.1 171.6h0M633.6 181.7h0M635.2 176.8h0M637.3 192.0h0M639.7 179.2h0M633.5 188.7h0M634.5 173.0h0M648.7 179.4h0M643.8 193.3h0M634.1 197.7h0M653.3 186.8h0M637.3 188.9h0M642.5 170.6h0M644.8 187.9h0M653.3 188.2h0M646.2 177.6h0M650.2 192.5h0M638.9 173.2h0M636.4 186.3h0M647.8 172.7h0M644.0 198.4h0M639.9 182.5h0M631.4 207.4h0M640.1 185.1h0M630.7 195.2h0M647.0 185.2h0M634.5 168.8h0M642.0 180.6h0M640.7 188.8h0M629.0 195.8h0M652.9 170.2h0M633.8 185.4h0M647.2 195.4h0M651.9 177.1h0M640.7 182.4h0M636.9 178.8h0M630.9 193.3h0M636.3 179.1h0M640.2 202.8h0M638.7 197.8h0M634.3 186.8h0M644.2 209.0h0M648.2 181.1h0M638.6 165.3h0M634.6 190.8h0M636.3 195.5h0M633.7 204.6h0M652.8 175.3h0M650.4 168.2h0M630.8 188.8h0M631.9 182.5h0M649.3 177.3h0M640.9 191.3h0M636.7 186.2h0M652.0 189.0h0M639.0 203.0h0M639.5 197.3h0M650.5 176.5h0M647.3 170.7h0M642.3 189.9h0M629.4 164.5h0M641.6 177.6h0M649.5 202.6h0M642.0 181.4h0M633.0 192.6h0M644.3 190.7h0M648.2 174.2h0M641.7 194.0h0M641.2 193.7h0M648.6 165.9h0M637.2 206.1h0M636.0 172.3h0M638.9 185.3h0M637.5 183.8h0M645.4 185.4h0M647.8 223.3h0M641.6 175.2h0M652.0 195.6h0M650.4 198.9h0M650.2 174.7h0M647.1 162.1h0M652.5 178.5h0M636.0 170.0h0M646.1 169.5h0M638.8 196.6h0M639.6 166.8h0M653.1 179.2h0M642.0 171.2h0M643.4 173.7h0M631.7 186.9h0M648.5 201.9h0M635.8 200.3h0M639.8 173.3h0M635.0 197.1h0M645.2 198.8h0M634.5 177.6h0M643.1 177.2h0M639.5 182.3h0M643.3 194.9h0M650.8 218.8h0M640.9 187.6h0M643.9 183.1h0M643.5 181.9h0M633.7 183.6h0M649.7 177.7h0M641.7 190.8h0M649.8 187.5h0M630.2 181.5h0M641.5 192.8h0M636.6 194.8h0M630.8 175.3h0M652.7 182.5h0M645.6 190.1h0M650.9 193.4h0M643.7 171.0h0M637.3 172.8h0M640.9 194.3h0M631.5 193.6h0M644.3 176.8h0M645.5 183.8h0M642.5 191.8h0M647.7 185.8h0M636.3 195.2h0M651.3 176.7h0M645.6 183.1h0M634.7 180.6h0M645.7 197.2h0M646.2 181.1h0M651.6 193.9h0M640.8 184.7h0M634.7 175.5h0M632.3 190.1h0M637.1 174.7h0M639.4 172.8h0M647.5 198.5h0M630.3 201.2h0M631.6 181.2h0M647.4 182.4h0M633.8 189.4h0M629.4 189.9h0M631.0 188.2h0M645.1 177.8h0M643.5 196.4h0M652.1 179.5h0M632.4 199.8h0M645.4 204.9h0M630.5 178.7h0M649.2 190.0h0M641.5 192.5h0M630.1 177.5h0M628.9 207.0h0M652.6 183.6h0M640.7 185.2h0M651.7 181.6h0M632.1 182.5h0M640.7 171.7h0M646.2 204.3h0M630.3 199.5h0M642.8 194.8h0M652.9 259.4h0M635.1 198.8h0M635.2 189.7h0M635.1 166.6h0M641.9 206.7h0M637.1 195.3h0M643.6 186.5h0M653.0 184.7h0M631.0 189.0h0M652.3 192.3h0M648.3 186.4h0M644.6 182.1h0M638.0 170.8h0M647.9 182.0h0M632.3 171.9h0M629.3 182.1h0M643.1 198.4h0M634.1 196.2h0M635.6 186.4h0M636.4 191.4h0M637.2 184.1h0M643.0 186.5h0M650.5 199.9h0M651.4 206.0h0M641.8 179.3h0M632.6 195.1h0M637.6 182.0h0M653.0 183.6h0M631.9 182.9h0M648.9 175.2h0M643.2 177.8h0M648.1 199.5h0M648.8 188.1h0M642.9 174.5h0M649.3 213.4h0M649.0 194.6h0M649.7 194.0h0M650.8 187.5h0M632.5 188.4h0M640.9 174.6h0M653.6 176.1h0M635.9 190.7h0M637.0 191.4h0M650.0 182.4h0M648.1 197.1h0M648.8 176.6h0M650.0 174.1h0M653.7 170.2h0M632.7 204.3h0M642.1 187.5h0M639.0 187.5h0M638.8 190.3h0M650.0 173.1h0M653.6 198.4h0M646.3 210.3h0M629.4 177.6h0M639.2 178.6h0M652.5 198.4h0M641.9 185.6h0M634.4 175.9h0M631.9 208.3h0M633.7 197.6h0M631.0 181.6h0M649.3 191.4h0M645.6 193.1h0M644.6 180.9h0M648.2 188.3h0M640.4 182.8h0M648.4 198.2h0M648.9 177.3h0M645.8 183.8h0M633.5 169.4h0M652.9 187.9h0M641.2 169.9h0M647.0 181.1h0M635.5 193.8h0M631.6 188.1h0M630.2 181.5h0M630.3 185.1h0M653.2 173.4h0M631.0 179.2h0M632.3 201.3h0M651.5 174.4h0M629.0 196.9h0M649.5 194.1h0M648.2 189.2h0M651.6 195.1h0M644.9 173.8h0M635.2 183.2h0M653.6 180.9h0M648.2 177.0h0M635.4 177.6h0M635.7 179.3h0M648.0 205.0h0M642.6 182.0h0M651.1 195.6h0M637.8 193.6h0M633.7 193.8h0M647.4 185.8h0M630.4 186.4h0M636.4 174.7h0M639.2 200.8h0M642.8 182.7h0M641.7 192.8h0M651.0 199.1h0M649.5 187.7h0M632.9 181.5h0M632.4 199.6h0M645.3 172.8h0M638.2 193.8h0M653.3 180.0h0M636.3 191.8h0M633.8 177.5h0M637.4 200.2h0M646.4 185.3h0M643.0 174.2h0M635.0 196.0h0M651.5 181.0h0M652.2 172.0h0M649.1 198.3h0M636.3 171.4h0M630.3 177.2h0M644.9 176.5h0M645.3 183.6h0M651.2 208.7h0M629.4 170.5h0M634.7 213.5h0M652.2 179.2h0M653.7 182.9h0M637.4 195.7h0M650.5 197.0h0M649.3 173.3h0M631.6 191.7h0M648.0 183.1h0M638.9 171.3h0M636.9 257.1h0M646.6 183.0h0M639.6 191.6h0M650.9 194.0h0M635.8 177.6h0M634.9 178.3h0M630.7 182.1h0M650.1 200.0h0M638.3 197.4h0M630.3 190.7h0M653.2 182.0h0M632.7 179.9h0M634.3 181.4h0M645.7 181.9h0M653.1 184.1h0M652.9 183.6h0M653.5 181.2h0M637.4 192.3h0M637.6 200.4h0M630.3 198.2h0M648.1 174.6h0M650.3 188.6h0M629.4 175.5h0M637.0 200.0h0M651.1 186.5h0M639.1 165.7h0M648.6 195.7h0M639.2 191.4h0M652.9 173.0h0M631.0 197.1h0M647.1 170.0h0M652.3 200.9h0M648.7 261.9h0M650.0 183.9h0M636.7 189.9h0M642.5 182.6h0M641.4 185.6h0M629.6 197.2h0M648.6 196.3h0M630.4 182.8h0M634.4 198.0h0M636.0 181.5h0M652.2 195.1h0M651.6 181.0h0M637.4 196.5h0M638.0 178.8h0M633.3 186.7h0M635.8 175.3h0M630.9 169.7h0M651.7 183.1h0M637.4 171.2h0M633.9 174.4h0M631.1 182.3h0M632.4 194.9h0M629.7 182.8h0M639.0 168.7h0M649.4 182.7h0M651.8 183.7h0M634.9 178.3h0M631.6 181.1h0M638.2 186.0h0M629.3 186.4h0M649.1 188.7h0M636.5 204.9h0M636.4 204.0h0M650.8 192.1h0M652.2 181.9h0M651.4 166.8h0M641.5 184.3h0M637.2 179.2h0M630.8 189.6h0M652.7 176.2h0M629.7 188.8h0M649.4 178.8h0M650.2 176.0h0M649.1 170.2h0M650.0 185.5h0M639.5 174.1h0M650.4 176.0h0M637.8 179.1h0M652.4 174.8h0M630.1 164.5h0M650.4 172.8h0M638.2 193.5h0M643.2 184.2h0M629.7 192.1h0M629.1 191.3h0M631.3 189.8h0M634.5 188.6h0M636.3 197.5h0M644.8 171.7h0M639.4 181.4h0M644.2 163.3h0M635.6 184.9h0M631.4 198.7h0M647.9 186.1h0M643.6 198.7h0M650.6 189.1h0M651.7 169.1h0M640.3 171.7h0M633.7 190.3h0M633.1 206.7h0M640.0 174.8h0M636.1 202.7h0M646.6 191.5h0M640.5 174.3h0M643.3 179.3h0M637.4 198.4h0M648.2 198.6h0M641.7 192.0h0M650.1 204.7h0M640.6 194.4h0M650.0 202.6h0M649.3 182.6h0M635.9 183.1h0M636.2 181.2h0M653.5 177.0h0M638.9 180.4h0M644.5 174.4h0M651.5 205.4h0M642.3 188.9h0M630.5 205.2h0M639.0 174.6h0M642.0 189.1h0M652.5 184.8h0M652.3 201.3h0M635.6 166.4h0M631.6 188.4h0M641.2 185.2h0M639.3 170.8h0M647.7 184.7h0M640.9 180.1h0M632.8 179.7h0M638.8 167.7h0M633.5 197.3h0M648.5 177.0h0M642.0 202.5h0M647.6 175.3h0M632.0 199.9h0M653.8 206.9h0M639.9 185.1h0M644.4 197.8h0M648.5 178.8h0M646.4 174.7h0M652.3 193.5h0M632.6 187.3h0M647.6 198.6h0M652.7 186.8h0M641.1 255.3h0M643.9 258.0h0M630.1 192.1h0M629.9 203.9h0M632.0 274.5h0M632.4 212.0h0M634.1 241.1h0M644.5 235.3h0M637.7 274.9h0M650.6 212.2h0M650.7 204.0h0M651.1 227.6h0M650.1 257.8h0M653.7 204.3h0M642.5 188.8h0M638.7 200.1h0M639.6 249.2h0M631.5 189.6h0M632.8 236.8h0M652.9 273.2h0M646.5 265.5h0M650.8 205.1h0M650.9 181.2h0M649.6 182.8h0M638.0 256.0h0M630.0 257.7h0M639.7 192.0h0M653.3 241.6h0M631.8 199.4h0M642.2 210.5h0M632.9 232.4h0M649.2 272.4h0M649.9 185.4h0M631.7 248.7h0M644.6 264.7h0M653.6 224.6h0M636.7 267.5h0M641.3 216.7h0M639.7 183.2h0M638.4 220.0h0" stroke="#000" stroke-width="1.25" stroke-linecap="square"/>
<text x="0" y="0" font-size="9.3" text-anchor="middle" fill="#222" stroke="#222" stroke-width="0.25" transform="translate(614.2,295.9) rotate(-45)">TT</text>
<text x="0" y="0" font-size="9.3" text-anchor="middle" fill="#222" stroke="#222" stroke-width="0.25" transform="translate(643.5,295.9) rotate(-45)">TAT</text>
<path d="M166.0 212.9 L168.0 208.8 L174.0 206.1 L187.5 204.8 L203.6 204.8 L218.4 204.8 L229.1 208.2 L234.5 212.9 L233.8 219.6 L239.9 227.6 L241.9 233.0 L239.9 237.0 L234.5 239.7 L235.8 246.4 L241.9 254.5 L239.9 258.5 L227.8 258.5 L217.0 261.2 L204.9 261.2 L202.2 254.5 L202.9 246.4 L194.2 244.4 L180.8 241.1 L172.7 231.7 L168.0 223.6 L166.0 216.9Z" fill="#f8766d"/><path d="M166.6 212.2h0M165.6 213.9h0M167.5 212.5h0M167.6 210.5h0M167.8 211.0h0M169.9 209.1h0M168.9 209.3h0M170.4 207.9h0M170.0 207.0h0M172.8 206.9h0M172.0 206.5h0M172.0 206.9h0M174.0 206.5h0M176.2 205.8h0M175.9 205.3h0M177.5 206.2h0M178.6 207.2h0M177.3 207.1h0M178.3 204.6h0M178.5 206.9h0M180.7 205.9h0M181.5 206.8h0M181.9 205.2h0M182.9 204.9h0M186.0 205.3h0M186.0 205.7h0M186.1 203.8h0M186.5 204.3h0M189.5 204.8h0M188.9 204.9h0M189.7 205.6h0M192.0 204.1h0M193.7 203.7h0M193.6 204.5h0M194.9 205.6h0M195.1 205.0h0M194.7 203.4h0M197.0 205.1h0M197.4 205.3h0M199.8 203.2h0M200.1 206.5h0M200.7 204.8h0M201.7 205.2h0M200.4 205.2h0M203.3 205.4h0M204.0 204.7h0M205.7 205.7h0M206.2 205.1h0M206.4 204.7h0M208.6 206.5h0M208.4 204.9h0M209.6 205.3h0M210.3 205.5h0M211.0 206.3h0M212.9 204.6h0M213.9 205.0h0M215.0 205.7h0M215.7 204.2h0M215.3 204.3h0M216.6 205.6h0M217.4 204.4h0M219.5 206.4h0M218.8 205.3h0M221.9 204.2h0M222.6 204.0h0M222.8 205.4h0M223.4 206.8h0M226.0 206.0h0M227.0 208.6h0M225.1 207.4h0M227.8 209.0h0M228.9 207.6h0M228.7 208.9h0M229.2 209.1h0M230.7 208.8h0M233.5 210.4h0M234.1 211.9h0M233.9 211.0h0M233.2 212.3h0M234.4 211.8h0M236.4 216.0h0M234.8 215.0h0M234.0 214.8h0M234.5 216.7h0M234.5 218.6h0M235.8 218.6h0M234.0 219.4h0M234.7 219.4h0M236.4 221.5h0M234.3 221.8h0M237.1 223.1h0M236.0 223.8h0M237.4 223.4h0M238.0 223.7h0M237.9 224.3h0M239.6 227.1h0M239.0 227.0h0M241.2 226.2h0M240.2 229.0h0M241.1 229.0h0M239.1 229.7h0M242.1 230.6h0M241.7 231.9h0M242.7 232.4h0M241.7 234.2h0M239.9 235.3h0M241.3 236.3h0M239.3 236.4h0M237.8 236.4h0M236.2 238.2h0M237.2 238.3h0M238.5 238.8h0M236.1 238.1h0M234.2 239.1h0M234.8 239.7h0M234.2 241.0h0M235.3 241.4h0M235.4 243.9h0M235.5 245.5h0M235.7 245.6h0M236.0 247.2h0M236.7 247.2h0M237.5 247.2h0M238.2 247.5h0M239.2 248.8h0M238.3 249.8h0M239.6 249.1h0M239.3 252.1h0M240.5 251.2h0M241.9 254.7h0M240.6 253.4h0M240.8 253.9h0M241.2 257.4h0M239.7 258.1h0M240.4 257.1h0M239.4 259.0h0M238.6 258.3h0M237.9 258.5h0M237.3 258.2h0M235.4 259.1h0M235.3 258.5h0M232.5 258.4h0M232.7 257.5h0M232.0 257.6h0M229.7 257.4h0M231.4 258.3h0M228.9 258.4h0M226.9 259.7h0M228.7 258.3h0M227.2 258.1h0M225.5 258.7h0M224.6 259.6h0M223.1 259.8h0M222.4 259.7h0M223.5 261.4h0M220.2 260.6h0M221.9 260.3h0M220.9 259.8h0M218.8 262.7h0M218.5 261.8h0M216.8 261.0h0M216.9 261.2h0M216.6 260.5h0M213.4 261.6h0M211.9 261.7h0M213.6 262.8h0M210.3 260.8h0M211.2 260.8h0M209.9 259.7h0M208.5 261.7h0M207.1 261.6h0M206.8 260.9h0M205.0 261.0h0M205.2 261.0h0M205.1 260.8h0M203.2 259.6h0M204.8 259.2h0M203.3 256.6h0M203.3 257.2h0M203.9 256.1h0M202.5 255.6h0M203.4 255.4h0M204.0 253.2h0M203.3 252.9h0M203.8 251.4h0M203.2 251.5h0M201.8 250.0h0M202.5 248.7h0M202.1 247.0h0M203.2 247.4h0M203.0 246.3h0M202.2 245.6h0M200.1 246.3h0M200.3 246.2h0M199.4 244.4h0M197.0 244.7h0M198.7 245.6h0M195.1 245.7h0M195.8 244.2h0M194.8 244.6h0M193.3 244.4h0M193.5 244.6h0M190.0 243.2h0M191.8 245.5h0M188.8 244.3h0M187.5 244.2h0M187.7 243.9h0M187.6 242.0h0M185.3 241.3h0M183.7 239.3h0M183.4 242.1h0M183.2 242.2h0M182.2 242.1h0M182.1 241.0h0M179.7 239.4h0M180.8 240.3h0M177.9 238.9h0M178.6 240.3h0M179.2 238.0h0M178.3 236.1h0M176.7 236.4h0M175.2 237.1h0M175.5 236.5h0M173.8 235.4h0M175.3 232.9h0M174.2 233.4h0M173.9 232.0h0M171.9 230.8h0M172.4 230.3h0M171.7 227.9h0M171.0 227.7h0M171.0 229.6h0M170.6 227.4h0M170.7 225.0h0M168.9 227.0h0M168.5 223.5h0M167.6 224.9h0M168.5 223.8h0M168.6 222.8h0M167.7 222.6h0M165.5 223.2h0M167.2 221.8h0M166.8 220.0h0M166.8 218.3h0M166.1 216.8h0M167.4 216.7h0M167.5 213.6h0M164.4 214.4h0" stroke="#f8766d" stroke-width="1.1" stroke-linecap="square"/><path d="M224.0 181.1 L226.4 178.7 L233.8 179.8 L236.1 181.8 L235.2 185.2 L226.4 186.3 L224.4 184.5Z" fill="#f8766d"/><path d="M225.5 180.1h0M223.9 179.5h0M225.5 180.5h0M226.3 179.0h0M225.9 177.2h0M228.5 179.3h0M228.6 179.3h0M230.3 179.8h0M230.5 179.4h0M233.6 178.8h0M232.5 179.2h0M234.5 179.0h0M233.4 179.8h0M234.1 181.4h0M237.8 182.4h0M236.3 183.4h0M235.2 182.7h0M234.3 186.0h0M233.0 186.9h0M232.2 185.1h0M231.5 184.5h0M230.9 185.5h0M230.1 186.2h0M229.5 187.1h0M228.0 185.2h0M226.8 186.1h0M227.4 186.5h0M225.1 185.6h0M223.3 184.1h0M223.7 182.4h0M224.7 181.5h0" stroke="#f8766d" stroke-width="1.1" stroke-linecap="square"/><path d="M243.4 193.9 L250.2 192.2 L254.6 190.0 L262.5 188.8 L269.2 187.2 L273.7 186.4 L279.3 188.3 L281.5 192.2 L278.1 193.9 L277.0 196.7 L272.6 194.4 L264.7 193.3 L258.0 195.0 L251.3 194.4Z" fill="#f8766d"/><path d="M242.8 192.9h0M244.6 192.7h0M247.2 192.5h0M247.1 193.7h0M248.1 193.1h0M247.4 194.6h0M249.4 191.5h0M251.4 192.2h0M250.5 192.4h0M252.0 191.9h0M252.8 191.8h0M254.1 190.1h0M254.6 191.0h0M255.6 189.2h0M256.7 190.2h0M258.0 188.4h0M257.6 189.2h0M260.3 189.5h0M261.9 190.5h0M262.2 189.1h0M262.4 188.1h0M263.7 187.6h0M265.2 186.9h0M266.5 188.0h0M265.7 188.0h0M267.4 187.7h0M267.1 184.9h0M270.1 187.2h0M270.8 184.9h0M270.7 186.0h0M272.0 187.6h0M271.8 187.0h0M274.2 184.6h0M274.6 186.7h0M275.3 187.5h0M277.6 188.0h0M278.5 188.5h0M278.3 187.4h0M278.2 186.6h0M279.3 189.6h0M280.3 190.2h0M281.7 192.1h0M281.3 192.1h0M279.3 193.6h0M279.6 190.7h0M279.0 193.3h0M278.8 193.9h0M278.2 194.3h0M278.1 194.8h0M276.9 196.9h0M275.8 197.0h0M275.6 196.0h0M274.5 195.7h0M274.0 194.0h0M272.6 194.2h0M271.3 194.3h0M270.6 193.0h0M269.4 194.9h0M269.2 192.2h0M267.1 194.0h0M265.5 193.7h0M267.0 193.8h0M263.9 193.6h0M262.2 193.4h0M261.0 193.3h0M260.1 193.4h0M260.5 195.2h0M260.2 196.1h0M260.1 194.8h0M258.6 194.1h0M257.1 194.5h0M255.2 195.7h0M254.5 195.1h0M253.9 195.5h0M253.6 193.2h0M252.6 196.9h0M251.9 195.4h0M250.8 195.7h0M248.8 193.7h0M248.0 193.0h0M246.5 195.2h0M245.8 193.5h0M246.5 194.5h0M244.0 193.4h0" stroke="#f8766d" stroke-width="1.1" stroke-linecap="square"/><path d="M250.2 209.4 L253.0 207.1 L257.6 206.0 L264.3 207.4 L268.5 210.1 L266.0 212.1 L261.0 212.7 L253.5 213.3 L250.8 211.7Z" fill="#f8766d"/><path d="M250.0 209.5h0M251.8 209.2h0M250.8 208.1h0M251.1 207.2h0M254.5 205.9h0M253.5 207.6h0M255.0 206.4h0M255.1 205.7h0M257.3 206.1h0M257.9 206.6h0M257.3 204.7h0M259.9 207.3h0M260.5 207.3h0M260.1 206.5h0M261.9 206.5h0M263.8 204.8h0M263.8 208.3h0M264.8 206.9h0M266.2 207.3h0M267.6 208.3h0M268.9 209.9h0M267.4 210.0h0M267.5 211.3h0M265.6 212.2h0M265.1 210.5h0M264.8 211.5h0M264.0 213.7h0M262.9 213.9h0M263.8 214.3h0M261.2 213.9h0M261.2 213.9h0M259.1 214.0h0M259.1 213.2h0M256.5 213.6h0M256.7 211.8h0M254.4 214.2h0M254.2 213.9h0M253.2 212.1h0M252.0 210.7h0M252.2 211.0h0M252.7 211.0h0M250.7 209.6h0" stroke="#f8766d" stroke-width="1.1" stroke-linecap="square"/><path d="M266.9 226.2 L270.0 222.7 L276.0 220.2 L280.5 218.2 L281.1 211.1 L283.0 210.2 L287.8 215.2 L291.0 216.7 L295.8 214.5 L301.0 212.7 L303.9 212.9 L305.2 215.8 L301.8 219.2 L301.2 227.3 L299.5 234.7 L298.5 239.2 L296.5 233.2 L293.1 231.2 L285.1 233.2 L274.3 232.2 L269.0 229.7Z" fill="#f8766d"/><path d="M265.6 226.1h0M266.9 227.6h0M267.9 222.7h0M268.8 223.3h0M268.9 222.7h0M269.1 221.2h0M271.0 222.3h0M271.6 221.7h0M274.0 221.0h0M273.0 222.7h0M274.6 220.4h0M274.4 220.1h0M275.7 220.1h0M278.2 218.6h0M277.9 220.0h0M279.3 218.8h0M278.9 218.9h0M281.1 218.1h0M280.2 218.4h0M280.4 216.1h0M282.0 215.2h0M280.8 213.9h0M282.3 213.1h0M282.3 212.8h0M281.2 212.0h0M281.5 212.4h0M282.3 210.5h0M284.5 211.2h0M285.5 212.9h0M284.1 212.1h0M286.2 213.2h0M286.2 214.2h0M286.4 214.0h0M288.9 215.5h0M290.2 213.8h0M288.9 215.0h0M291.2 218.1h0M290.7 216.2h0M294.1 214.9h0M295.9 214.3h0M294.1 213.3h0M296.3 213.0h0M296.7 214.2h0M297.0 213.5h0M298.0 213.9h0M298.6 212.5h0M299.1 213.9h0M302.2 213.2h0M300.5 212.8h0M303.4 213.7h0M303.9 212.1h0M306.2 213.9h0M304.1 215.2h0M306.2 215.5h0M305.0 216.7h0M303.7 216.9h0M303.4 215.2h0M302.4 217.4h0M300.8 219.5h0M301.4 219.8h0M301.6 219.2h0M300.1 223.2h0M300.6 222.4h0M301.9 223.4h0M301.3 222.8h0M300.2 225.7h0M301.4 227.3h0M301.8 226.8h0M301.0 227.6h0M301.3 228.5h0M300.9 230.4h0M301.6 230.2h0M300.1 230.6h0M300.8 232.6h0M299.1 232.8h0M298.8 234.4h0M299.0 236.8h0M298.8 236.5h0M297.1 236.8h0M300.5 239.8h0M296.5 240.6h0M298.0 237.1h0M298.4 238.2h0M298.3 237.0h0M298.7 235.7h0M297.6 237.2h0M296.9 232.7h0M297.8 233.3h0M294.6 234.2h0M295.8 232.1h0M294.2 230.1h0M293.2 229.2h0M291.1 232.8h0M291.5 230.0h0M289.8 232.6h0M289.3 232.1h0M288.4 231.2h0M288.9 230.9h0M286.6 231.5h0M285.7 232.9h0M284.9 233.3h0M284.8 231.3h0M283.3 234.1h0M283.8 233.7h0M280.2 232.2h0M281.3 233.8h0M279.3 232.4h0M279.4 233.6h0M277.4 231.6h0M275.4 231.8h0M274.6 231.6h0M276.2 232.6h0M273.8 233.0h0M272.1 232.2h0M272.0 231.7h0M272.7 229.9h0M271.3 230.4h0M269.6 228.6h0M268.9 229.5h0M268.5 228.6h0M266.9 229.2h0M267.2 228.1h0" stroke="#f8766d" stroke-width="1.1" stroke-linecap="square"/><path d="M249.5 242.0 L254.2 240.0 L259.6 243.4 L256.9 245.4 L250.2 244.1Z" fill="#f8766d"/><path d="M249.2 241.2h0M251.5 242.6h0M251.0 241.3h0M252.7 239.5h0M252.7 238.5h0M255.0 238.2h0M254.7 239.2h0M255.6 240.7h0M256.0 241.8h0M256.9 242.6h0M258.2 241.4h0M258.5 242.9h0M260.2 244.4h0M258.4 244.3h0M257.7 244.9h0M255.9 244.8h0M256.6 246.3h0M255.2 244.7h0M254.4 244.2h0M254.5 243.4h0M252.3 245.5h0M250.8 243.4h0M249.7 244.2h0M250.8 243.0h0" stroke="#f8766d" stroke-width="1.1" stroke-linecap="square"/><path d="M260.9 263.5 L265.6 268.2 L269.0 271.6 L273.7 270.3 L274.3 273.6 L277.7 275.6 L274.3 278.3 L267.6 281.0 L263.6 277.0 L264.9 271.6 L263.6 267.6Z" fill="#f8766d"/><path d="M261.3 264.1h0M261.8 264.7h0M262.7 265.4h0M262.2 264.9h0M262.9 267.8h0M264.1 266.4h0M265.9 267.9h0M265.2 269.2h0M265.4 267.9h0M266.2 270.7h0M267.6 271.2h0M267.3 269.3h0M269.2 271.3h0M268.2 271.5h0M272.6 271.3h0M270.6 270.2h0M272.0 268.8h0M272.8 269.3h0M273.4 270.9h0M274.2 272.9h0M274.6 273.6h0M274.3 274.2h0M276.1 277.6h0M276.5 275.3h0M278.3 276.2h0M275.0 276.0h0M274.6 277.7h0M273.8 275.9h0M273.4 279.9h0M274.3 279.5h0M272.0 279.2h0M270.9 279.1h0M271.9 280.6h0M270.0 279.2h0M268.8 278.8h0M266.9 280.2h0M267.9 282.0h0M268.4 280.2h0M266.8 277.9h0M266.1 281.1h0M265.5 279.7h0M265.0 278.4h0M264.6 275.9h0M263.4 277.3h0M263.4 276.3h0M263.6 274.0h0M263.8 274.3h0M265.0 270.6h0M263.8 270.6h0M265.0 270.9h0M262.6 270.0h0M265.0 268.7h0M264.1 270.9h0M263.0 266.4h0M263.0 265.9h0M260.9 264.8h0M260.4 265.8h0" stroke="#f8766d" stroke-width="1.1" stroke-linecap="square"/><path d="M219.0 233.8h0M216.0 216.2h0M218.4 224.2h0M223.8 219.5h0M224.9 219.0h0M215.0 226.0h0M217.5 227.1h0M220.8 222.7h0M213.6 227.7h0M228.2 221.0h0M223.0 216.6h0M218.8 216.3h0M224.6 224.2h0M232.1 223.4h0M231.5 216.8h0M230.2 217.9h0M222.6 227.8h0M217.5 231.9h0M215.0 222.2h0M228.4 218.3h0M213.6 224.5h0M235.0 222.8h0M213.6 235.4h0M222.1 228.1h0M225.0 222.9h0M222.4 219.6h0M213.5 238.3h0M230.5 218.5h0M216.1 220.5h0M234.0 221.9h0M215.2 233.0h0M221.6 229.1h0M222.0 216.7h0M225.6 218.2h0M219.9 224.8h0M221.0 232.6h0M218.9 227.3h0M221.1 227.8h0M228.2 223.5h0M213.0 234.8h0M216.3 218.0h0M223.7 217.7h0M217.8 227.6h0M218.4 227.4h0M218.8 216.1h0M219.2 237.1h0M226.8 217.3h0M216.7 229.5h0M218.9 234.4h0M216.0 224.8h0M222.1 219.6h0M213.6 237.5h0M217.8 235.1h0M228.3 222.6h0M223.9 217.7h0M226.0 223.9h0M227.6 221.3h0M228.1 221.0h0M216.9 237.1h0M228.8 218.3h0M216.6 218.6h0M220.8 224.1h0M218.0 218.3h0M215.6 225.3h0M234.4 221.1h0M216.6 236.8h0M220.8 225.3h0M217.5 218.1h0M221.4 232.8h0M224.2 223.3h0M215.1 233.8h0M228.1 216.1h0M223.2 225.7h0M223.7 226.9h0M220.0 222.1h0M219.5 241.2h0M213.5 258.9h0M225.6 245.4h0M213.7 254.1h0M205.9 244.3h0M213.0 252.7h0M233.2 244.5h0M208.1 244.5h0M217.2 241.8h0M233.5 245.3h0M206.8 243.0h0M224.7 240.8h0M215.9 243.8h0M208.3 248.1h0M225.6 247.5h0M221.1 249.3h0M210.6 241.9h0M210.3 242.1h0M204.1 242.9h0M233.5 245.9h0M221.7 243.1h0M226.7 246.6h0M225.8 243.9h0M213.3 243.3h0M212.0 252.4h0M217.1 243.0h0M215.6 256.9h0M215.4 241.4h0M208.5 244.4h0M211.1 242.5h0M234.4 243.0h0M216.8 255.7h0M224.9 240.2h0M222.3 241.9h0M228.7 242.0h0M207.1 246.8h0M228.4 244.8h0M217.0 255.6h0M210.3 247.2h0M218.6 242.9h0M229.4 243.7h0M218.2 247.4h0M213.0 246.2h0M215.6 246.9h0M224.6 241.1h0M209.0 243.1h0M229.1 243.1h0M212.3 244.0h0M214.6 249.0h0M214.2 245.5h0M216.7 240.1h0M228.3 246.2h0M216.4 253.7h0M222.8 249.4h0M216.6 253.7h0M210.4 240.9h0M223.8 247.7h0M233.4 243.1h0M224.1 240.8h0M224.8 242.2h0M223.6 246.1h0M221.9 243.1h0M217.3 257.0h0M215.6 242.3h0M221.0 246.3h0" stroke="#fff" stroke-width="1.35" stroke-linecap="square"/><path d="M192.1 234.6h0M178.9 224.0h0M208.2 215.5h0M216.0 206.3h0M173.1 226.1h0M218.7 227.9h0M226.5 254.5h0M201.2 231.1h0M211.7 229.8h0M224.2 238.6h0M226.0 217.0h0M185.8 219.4h0M221.5 259.6h0M201.8 241.2h0M221.0 213.5h0M207.7 242.4h0M208.8 247.4h0M209.8 229.2h0M187.8 241.8h0M219.6 249.0h0M218.8 260.5h0M224.8 213.8h0M218.2 235.9h0M186.8 217.4h0M211.5 246.5h0M189.4 239.0h0M199.2 240.9h0M223.1 248.6h0M188.6 205.2h0M227.5 258.3h0M222.5 251.7h0M179.5 211.4h0M214.3 216.0h0M182.2 218.4h0M198.0 208.8h0M180.2 227.1h0M222.9 223.1h0M219.9 254.1h0M221.7 237.4h0M238.6 234.5h0M209.7 237.3h0M197.8 244.1h0M185.4 206.5h0M177.4 211.9h0M169.4 212.3h0" stroke="#fff" stroke-width="0.9" stroke-linecap="square"/><path d="M260.3 220.2h0M271.8 213.8h0M266.6 214.0h0M266.1 215.2h0M272.3 224.6h0M271.2 223.2h0M265.5 214.9h0M264.3 217.4h0M263.6 219.7h0M267.1 216.0h0M263.4 216.9h0M263.2 218.9h0M260.5 220.5h0M264.3 218.3h0M271.5 214.6h0M260.5 218.8h0M270.4 223.2h0M269.1 216.5h0M273.0 216.0h0M260.6 214.4h0M270.3 219.6h0M263.0 214.8h0M268.6 223.7h0M270.1 222.0h0M259.8 221.0h0M262.3 215.0h0M261.1 214.8h0M261.1 223.8h0M268.3 213.2h0M262.6 216.3h0" stroke="#f8766d" stroke-width="1" stroke-linecap="square"/><path d="M257.7 244.6h0M247.8 236.9h0M257.5 238.9h0M244.8 237.9h0M261.5 245.8h0M243.7 246.0h0M244.5 240.0h0M239.0 239.7h0M236.8 248.9h0M244.9 249.1h0M237.2 247.1h0M258.4 240.8h0M264.0 244.1h0M246.6 235.7h0M257.7 246.2h0M254.5 239.6h0M238.2 236.3h0M237.9 242.9h0M252.0 241.0h0M238.3 236.3h0M256.6 236.6h0M260.1 247.9h0M263.1 242.1h0M239.6 238.1h0M254.2 238.3h0M259.5 244.6h0" stroke="#f8766d" stroke-width="1" stroke-linecap="square"/>
<path d="M181.1 235.4h0M204.4 258.7h0M238.0 231.9h0M179.0 237.4h0M227.3 236.5h0M216.2 236.5h0M195.4 236.6h0M212.7 233.7h0M176.2 224.4h0M186.7 233.8h0M232.1 224.4h0M186.0 228.1h0M190.2 208.4h0M211.8 255.6h0M208.3 256.7h0M194.9 238.0h0M218.2 243.2h0M217.9 257.7h0M179.5 229.0h0M233.5 218.7h0M204.3 257.8h0M194.6 212.6h0M227.7 252.7h0M196.1 236.8h0M193.9 238.1h0M201.9 230.1h0M241.3 255.5h0M196.0 234.1h0M199.9 243.4h0M215.1 236.3h0M218.7 230.1h0M215.4 217.8h0M218.9 223.3h0M216.2 232.7h0M223.5 214.9h0M198.4 213.5h0M175.8 219.1h0M179.6 220.1h0M178.2 207.8h0M223.7 222.8h0M193.9 224.0h0M181.3 226.6h0M201.8 228.7h0M212.2 212.3h0M222.6 231.2h0M189.8 231.2h0M191.6 205.4h0M220.5 248.6h0M224.3 237.5h0M192.8 241.4h0M202.9 238.2h0M207.3 220.3h0M230.6 228.8h0M207.4 222.9h0M226.9 208.6h0M216.6 254.4h0M208.8 256.5h0M172.6 222.2h0M221.4 223.6h0M209.8 217.2h0M189.0 212.6h0M211.4 252.3h0M231.2 234.5h0M231.7 211.7h0M217.7 242.5h0M229.5 237.9h0M172.1 220.3h0M211.3 217.7h0M181.8 239.2h0M204.0 227.4h0M177.0 207.5h0M179.0 234.2h0M232.9 232.1h0M207.4 252.1h0M195.3 212.0h0M233.5 236.9h0M170.1 225.9h0M227.4 214.3h0M187.9 227.2h0M181.9 239.1h0M226.4 247.6h0M234.8 250.0h0M219.6 239.4h0M238.5 253.1h0M189.0 206.7h0M225.6 257.3h0M182.6 216.1h0M228.8 229.2h0M194.7 219.1h0M219.7 249.0h0M175.1 219.3h0M208.4 227.4h0M209.2 246.4h0M201.7 236.5h0M197.7 210.4h0M173.8 208.8h0M194.2 214.8h0M212.2 256.9h0M209.7 227.8h0M189.0 232.2h0M215.9 212.2h0M178.3 237.7h0M179.4 236.1h0M176.0 213.9h0M204.9 214.7h0M232.2 220.8h0M205.5 251.5h0M216.7 243.7h0M178.6 206.6h0M216.4 216.1h0M189.3 241.0h0M232.5 253.5h0M174.9 220.8h0M198.1 205.4h0M177.7 216.1h0M210.5 216.4h0M216.2 253.8h0M219.0 206.7h0M174.3 232.8h0M181.8 213.1h0M230.2 233.4h0M212.2 250.7h0M175.7 232.2h0M176.5 233.9h0M234.2 215.6h0M190.1 238.8h0M221.9 226.2h0M197.7 227.4h0M236.9 233.1h0M209.5 235.8h0M184.9 212.5h0M207.3 223.2h0M195.6 233.7h0M223.8 220.8h0M217.1 259.5h0M220.1 211.4h0M209.9 246.8h0M167.1 215.0h0M207.3 244.6h0M215.1 234.9h0M171.3 220.1h0M231.8 233.4h0M219.0 205.1h0M218.2 233.1h0M220.5 229.4h0M173.1 218.3h0M190.7 239.7h0M181.7 214.4h0M217.7 240.6h0M218.9 215.4h0M227.1 230.9h0M194.6 226.5h0M224.6 208.8h0M227.5 254.7h0M210.6 247.4h0M208.2 218.3h0M196.3 239.2h0M187.3 237.8h0M178.3 232.1h0M207.4 215.9h0M169.4 219.0h0M216.3 260.5h0M225.0 213.6h0M186.2 227.7h0M211.2 256.8h0M188.4 225.3h0M209.9 219.9h0M189.0 234.4h0M199.0 230.6h0M239.5 230.3h0M175.7 223.8h0M198.8 242.1h0M186.0 232.8h0M212.3 258.6h0M186.0 215.3h0M229.9 250.4h0M223.7 244.1h0M199.9 226.1h0M193.5 220.8h0M194.7 215.4h0M211.0 250.6h0M236.8 227.8h0M229.3 232.5h0M216.1 224.5h0M217.9 230.4h0M224.9 226.0h0M184.0 227.7h0M233.7 256.2h0M222.0 249.1h0M207.5 253.6h0M217.3 220.1h0M225.4 216.5h0M174.5 222.5h0M217.9 227.3h0M196.3 217.3h0M221.5 226.8h0M208.6 218.7h0M200.7 234.5h0M207.2 223.2h0M194.5 213.4h0M175.2 217.9h0M175.9 219.4h0M176.7 230.3h0M223.5 247.8h0M191.8 243.7h0M229.7 218.6h0M223.6 207.2h0M223.4 249.0h0M187.1 213.9h0M187.7 238.3h0M198.4 219.2h0M234.5 227.3h0M231.0 216.0h0M172.9 223.9h0M231.5 254.4h0M208.7 225.5h0M176.2 213.3h0M201.8 225.5h0M227.7 231.9h0M206.5 242.9h0M240.8 255.2h0M234.5 244.9h0M234.9 229.0h0M171.3 214.7h0M225.8 248.2h0M229.6 251.4h0M211.6 259.6h0M233.5 252.0h0M206.7 246.8h0M230.7 226.3h0M184.4 239.9h0M213.8 207.5h0M196.2 234.9h0M225.1 234.4h0M220.5 258.1h0M173.0 225.3h0M190.4 230.7h0M174.6 232.0h0M189.7 226.7h0M182.8 209.2h0M191.0 219.3h0M185.2 209.2h0M200.7 244.4h0M221.9 243.4h0M214.3 231.4h0M227.9 212.2h0M178.9 221.3h0M173.1 214.7h0M213.3 243.8h0M231.8 237.2h0M224.5 248.7h0M231.3 253.3h0M217.9 216.9h0M202.3 239.8h0M199.5 236.8h0M221.5 256.6h0M225.2 256.8h0M188.0 232.7h0M211.0 260.5h0M239.8 255.0h0M219.3 205.2h0M224.5 240.2h0M186.9 240.4h0M215.2 260.6h0M191.1 212.4h0M200.3 211.4h0M211.1 237.3h0M211.5 219.8h0M224.3 236.7h0M193.5 219.8h0M218.2 224.7h0M194.3 206.5h0M194.9 243.0h0M200.5 232.5h0M167.2 218.1h0M180.9 209.2h0M217.9 250.2h0M231.6 219.9h0M176.5 228.4h0M229.2 238.0h0M192.0 214.4h0M211.6 253.2h0M233.7 236.0h0M215.6 227.3h0M180.4 211.8h0M207.4 212.5h0M227.6 232.5h0M206.7 242.9h0M186.9 227.3h0M192.5 227.0h0M176.6 234.7h0M213.3 232.5h0M225.0 217.3h0M216.6 250.9h0M196.4 204.9h0M189.6 214.4h0M193.4 205.6h0M239.1 228.4h0M179.0 226.3h0M237.3 227.6h0M232.6 247.1h0M206.2 242.8h0M214.0 224.9h0M226.7 253.6h0M231.4 246.9h0M176.6 220.0h0M204.7 240.8h0M217.1 242.7h0M218.8 233.3h0M185.2 239.9h0M218.2 253.7h0M178.3 208.1h0M183.9 237.7h0M202.7 211.3h0M232.9 221.2h0M207.7 237.8h0M219.5 218.1h0M189.2 228.1h0M196.6 243.3h0M228.8 241.7h0M202.8 254.9h0M197.9 210.4h0M228.8 247.4h0M198.9 218.0h0M212.7 239.7h0M227.3 218.5h0M220.9 214.0h0M206.4 225.4h0M203.5 228.3h0M177.7 230.6h0M225.5 211.9h0M216.4 237.7h0M218.8 217.0h0M176.9 214.2h0M199.0 225.3h0M204.3 205.2h0M223.1 216.4h0M206.7 261.0h0M196.7 237.5h0M175.4 234.8h0M192.8 235.8h0M238.3 253.0h0M234.4 243.6h0M223.9 239.0h0M237.9 256.4h0M209.1 212.8h0M194.6 230.3h0M212.9 226.3h0M233.9 238.5h0M226.5 252.8h0M223.1 231.8h0M219.8 254.7h0M238.9 255.2h0M229.3 252.9h0M227.7 241.8h0M219.3 232.7h0M230.4 211.2h0M239.5 254.1h0M228.3 243.7h0M272.5 187.3h0M276.1 190.6h0M256.1 190.8h0M252.8 192.0h0M258.1 189.9h0M257.1 190.5h0M274.1 189.8h0M269.2 279.4h0M266.5 274.7h0" stroke="#45c0c4" stroke-width="1" stroke-linecap="square"/>
<circle cx="187.5" cy="274.8" r="2.4" fill="#45c0c4"/><circle cx="187.5" cy="282.4" r="2.4" fill="#f8766d"/>
<text x="193.1" y="277.7" font-size="7.8" text-anchor="start" fill="#222" stroke="#222" stroke-width="0.18" textLength="12.4" lengthAdjust="spacingAndGlyphs" style="font-size:7.7px">TAT</text>
<text x="193.1" y="285.3" font-size="7.8" text-anchor="start" fill="#222" stroke="#222" stroke-width="0.18" textLength="7.2" lengthAdjust="spacingAndGlyphs" >TT</text>
<path d="M2.0 381.8 L4.0 377.7 L10.0 375.0 L23.5 373.7 L39.6 373.7 L54.4 373.7 L65.1 377.1 L70.5 381.8 L69.8 388.5 L75.9 396.5 L77.9 401.9 L75.9 405.9 L70.5 408.6 L71.8 414.4 L77.9 421.3 L75.9 424.8 L63.8 424.8 L53.0 427.1 L40.9 427.1 L38.2 421.3 L38.9 414.4 L30.2 412.6 L16.8 409.8 L8.7 400.6 L4.0 392.5 L2.0 385.8Z" fill="#f8766d"/><path d="M2.0 382.7h0M1.2 381.6h0M2.7 380.5h0M1.9 379.8h0M2.3 378.6h0M4.4 378.2h0M5.7 375.8h0M7.3 376.8h0M6.7 377.5h0M9.1 375.4h0M8.3 376.0h0M10.4 375.7h0M12.0 375.7h0M10.4 374.4h0M11.7 374.8h0M12.1 375.0h0M14.5 374.4h0M15.5 375.2h0M15.8 375.8h0M17.6 373.4h0M17.5 374.8h0M17.1 372.9h0M18.9 373.3h0M19.7 372.9h0M21.4 372.9h0M20.4 373.6h0M22.7 372.8h0M23.8 372.6h0M26.0 374.1h0M25.8 373.8h0M26.4 372.3h0M27.6 374.3h0M27.5 373.9h0M28.2 374.5h0M30.2 375.1h0M31.9 373.2h0M32.3 375.4h0M34.2 373.3h0M33.0 373.2h0M34.1 373.3h0M38.5 374.1h0M38.1 372.8h0M38.1 374.5h0M37.1 373.1h0M38.2 372.4h0M39.8 374.4h0M42.3 373.2h0M41.5 375.1h0M43.3 373.5h0M45.9 373.5h0M44.0 374.6h0M45.6 372.3h0M47.9 372.9h0M47.4 374.3h0M49.9 371.9h0M50.1 374.6h0M51.9 373.7h0M50.9 374.1h0M51.2 375.0h0M53.1 372.4h0M54.7 374.7h0M55.8 372.9h0M57.6 374.7h0M57.1 374.4h0M59.0 375.3h0M58.9 375.3h0M60.0 375.5h0M60.6 375.9h0M62.8 375.0h0M60.8 375.5h0M63.7 376.2h0M64.2 377.4h0M65.4 377.5h0M66.6 378.2h0M66.2 378.1h0M67.3 378.1h0M67.8 378.8h0M68.3 378.9h0M68.4 382.3h0M69.1 382.1h0M70.9 383.6h0M69.9 383.9h0M70.0 384.9h0M70.4 386.4h0M69.9 386.1h0M69.2 386.5h0M69.8 389.0h0M70.0 389.7h0M72.0 389.3h0M72.4 390.9h0M71.2 390.6h0M72.8 392.0h0M73.7 391.1h0M74.7 394.6h0M73.2 393.7h0M76.5 395.7h0M75.2 395.5h0M75.9 397.2h0M76.0 397.8h0M76.0 396.5h0M77.0 398.7h0M78.3 400.3h0M78.2 399.8h0M78.6 400.3h0M78.2 403.1h0M77.7 405.3h0M77.4 404.0h0M74.9 406.1h0M75.2 406.6h0M73.2 405.8h0M73.2 408.6h0M71.4 408.0h0M71.8 407.8h0M68.0 409.1h0M68.9 409.4h0M69.5 409.8h0M72.0 409.6h0M70.1 411.8h0M70.7 413.4h0M71.6 414.5h0M72.4 415.1h0M74.5 414.8h0M73.8 416.3h0M74.9 414.5h0M74.1 418.2h0M75.4 419.6h0M74.6 421.3h0M77.1 419.6h0M76.5 419.7h0M77.3 421.3h0M76.6 422.5h0M76.4 423.6h0M75.6 424.0h0M75.1 425.7h0M74.9 425.0h0M75.6 424.9h0M72.4 424.6h0M71.7 425.4h0M72.9 426.4h0M70.2 424.8h0M70.4 425.4h0M66.3 424.0h0M67.1 424.1h0M66.6 425.2h0M64.6 425.5h0M64.7 425.4h0M65.5 424.3h0M61.2 424.5h0M61.9 424.7h0M60.9 424.4h0M60.7 426.8h0M60.0 424.9h0M58.4 426.3h0M56.6 426.0h0M55.9 427.8h0M56.5 426.7h0M53.0 427.3h0M52.9 427.7h0M54.1 428.2h0M52.1 426.3h0M51.4 427.4h0M47.4 426.4h0M49.9 426.8h0M49.5 427.2h0M47.9 427.5h0M46.9 428.3h0M45.3 426.2h0M43.3 427.2h0M42.6 426.1h0M43.0 426.8h0M41.7 428.7h0M41.2 426.6h0M40.5 425.3h0M40.2 425.9h0M41.0 425.0h0M39.5 424.1h0M39.2 422.6h0M36.9 421.7h0M38.6 421.9h0M38.5 420.2h0M37.9 419.0h0M37.3 420.2h0M38.3 417.5h0M39.1 415.5h0M37.8 414.7h0M38.9 415.0h0M37.3 413.7h0M36.2 414.2h0M36.1 414.5h0M36.1 414.0h0M33.8 412.9h0M33.3 413.0h0M32.5 413.8h0M30.6 413.4h0M30.3 411.3h0M30.1 412.4h0M27.8 412.8h0M28.4 411.2h0M26.4 410.7h0M25.5 411.9h0M25.0 411.5h0M25.3 412.0h0M23.3 411.4h0M22.2 410.4h0M20.5 410.6h0M20.9 410.0h0M17.7 410.9h0M18.4 410.8h0M17.9 409.0h0M15.9 409.4h0M14.2 410.9h0M15.1 408.0h0M13.7 407.8h0M15.0 408.4h0M13.3 407.6h0M13.4 404.3h0M13.5 404.4h0M12.4 404.6h0M11.0 403.1h0M11.2 402.1h0M9.1 403.1h0M9.2 402.8h0M7.4 400.6h0M8.3 399.0h0M9.0 399.0h0M5.7 398.7h0M5.5 397.5h0M6.8 398.7h0M5.5 395.8h0M4.9 394.4h0M5.6 395.2h0M5.2 391.0h0M4.8 392.4h0M2.7 390.8h0M1.5 391.1h0M3.0 389.8h0M2.2 387.8h0M3.1 388.4h0M2.2 386.6h0M2.6 387.5h0M2.3 384.8h0M1.8 384.3h0M1.8 383.0h0" stroke="#f8766d" stroke-width="1.1" stroke-linecap="square"/><path d="M65.4 350.5 L67.8 348.1 L75.2 349.2 L77.5 351.2 L76.6 354.6 L67.8 355.7 L65.8 353.9Z" fill="#b57fe0"/><path d="M66.9 349.5h0M65.3 348.9h0M66.9 349.9h0M67.7 348.4h0M67.3 346.6h0M69.9 348.7h0M70.0 348.7h0M71.7 349.2h0M71.9 348.8h0M75.0 348.2h0M73.9 348.6h0M75.9 348.4h0M74.8 349.2h0M75.5 350.8h0M79.2 351.8h0M77.7 352.8h0M76.6 352.1h0M75.7 355.4h0M74.4 356.3h0M73.6 354.5h0M72.9 353.9h0M72.3 354.9h0M71.5 355.6h0M70.9 356.5h0M69.4 354.6h0M68.2 355.5h0M68.8 355.9h0M66.5 355.0h0M64.7 353.5h0M65.1 351.8h0M66.1 350.9h0" stroke="#b57fe0" stroke-width="1.1" stroke-linecap="square"/><path d="M84.8 363.3 L91.6 361.6 L96.0 359.4 L103.9 358.2 L110.6 356.6 L115.1 355.8 L120.7 357.7 L122.9 361.6 L119.5 363.3 L118.4 366.1 L114.0 363.8 L106.1 362.7 L99.4 364.4 L92.7 363.8Z" fill="#b57fe0"/><path d="M84.2 362.3h0M86.0 362.1h0M88.6 361.9h0M88.5 363.1h0M89.5 362.5h0M88.8 364.0h0M90.8 360.9h0M92.8 361.6h0M91.9 361.8h0M93.4 361.3h0M94.2 361.2h0M95.5 359.5h0M96.0 360.4h0M97.0 358.6h0M98.1 359.6h0M99.4 357.8h0M99.0 358.6h0M101.7 358.9h0M103.3 359.9h0M103.6 358.5h0M103.8 357.5h0M105.1 357.0h0M106.6 356.3h0M107.9 357.4h0M107.1 357.4h0M108.8 357.1h0M108.5 354.3h0M111.5 356.6h0M112.2 354.3h0M112.1 355.4h0M113.4 357.0h0M113.2 356.4h0M115.6 354.0h0M116.0 356.1h0M116.7 356.9h0M119.0 357.4h0M119.9 357.9h0M119.7 356.8h0M119.6 356.0h0M120.7 359.0h0M121.7 359.6h0M123.1 361.5h0M122.7 361.5h0M120.7 363.0h0M121.0 360.1h0M120.4 362.7h0M120.2 363.3h0M119.6 363.7h0M119.5 364.2h0M118.3 366.3h0M117.2 366.4h0M117.0 365.4h0M115.9 365.1h0M115.4 363.4h0M114.0 363.6h0M112.7 363.7h0M112.0 362.4h0M110.8 364.3h0M110.6 361.6h0M108.5 363.4h0M106.9 363.1h0M108.4 363.2h0M105.3 363.0h0M103.6 362.8h0M102.4 362.7h0M101.5 362.8h0M101.9 364.6h0M101.6 365.5h0M101.5 364.2h0M100.0 363.5h0M98.5 363.9h0M96.6 365.1h0M95.9 364.5h0M95.3 364.9h0M95.0 362.6h0M94.0 366.3h0M93.3 364.8h0M92.2 365.1h0M90.2 363.1h0M89.4 362.4h0M87.9 364.6h0M87.2 362.9h0M87.9 363.9h0M85.4 362.8h0" stroke="#b57fe0" stroke-width="1.1" stroke-linecap="square"/><path d="M91.6 378.8 L94.4 376.5 L99.0 375.4 L105.7 376.8 L109.9 379.5 L107.4 381.5 L102.4 382.1 L94.9 382.7 L92.2 381.1Z" fill="#7aa822"/><path d="M91.4 378.9h0M93.2 378.6h0M92.2 377.5h0M92.5 376.6h0M95.9 375.3h0M94.9 377.0h0M96.4 375.8h0M96.5 375.1h0M98.7 375.5h0M99.3 376.0h0M98.7 374.1h0M101.3 376.7h0M101.9 376.7h0M101.5 375.9h0M103.3 375.9h0M105.2 374.2h0M105.2 377.7h0M106.2 376.3h0M107.6 376.7h0M109.0 377.7h0M110.3 379.3h0M108.8 379.4h0M108.9 380.7h0M107.0 381.6h0M106.5 379.9h0M106.2 380.9h0M105.4 383.1h0M104.3 383.3h0M105.2 383.7h0M102.6 383.3h0M102.6 383.3h0M100.5 383.4h0M100.5 382.6h0M97.9 383.0h0M98.1 381.2h0M95.8 383.6h0M95.6 383.3h0M94.6 381.5h0M93.4 380.1h0M93.6 380.4h0M94.1 380.4h0M92.1 379.0h0" stroke="#7aa822" stroke-width="1.1" stroke-linecap="square"/><path d="M108.2 394.6 L110.4 391.6 L114.9 389.4 L119.4 387.9 L122.4 386.4 L121.6 379.7 L123.9 378.6 L128.4 383.1 L132.1 385.7 L136.6 383.4 L141.8 381.2 L147.0 381.9 L146.6 385.7 L143.3 387.9 L142.5 394.6 L141.0 401.3 L139.6 405.1 L137.3 398.4 L133.6 396.9 L128.4 399.9 L122.4 400.6 L116.4 399.1 L111.2 396.1Z" fill="#45c0c4"/><path d="M108.7 394.1h0M109.9 395.8h0M108.7 393.9h0M108.4 393.1h0M108.8 392.9h0M112.2 389.6h0M111.7 389.0h0M114.9 391.7h0M114.2 388.9h0M115.1 389.6h0M116.9 391.0h0M117.7 389.8h0M117.7 388.4h0M119.4 388.3h0M119.1 386.9h0M119.4 386.8h0M120.4 385.8h0M122.3 385.4h0M122.4 385.5h0M122.4 383.3h0M122.7 382.5h0M121.5 382.9h0M121.1 383.7h0M122.1 380.9h0M122.7 377.9h0M123.8 378.3h0M123.2 376.7h0M125.5 379.2h0M123.8 379.8h0M126.9 379.8h0M126.7 380.3h0M126.9 383.6h0M127.8 381.9h0M129.5 381.5h0M129.2 384.4h0M128.4 384.7h0M132.7 386.1h0M130.5 385.7h0M131.6 385.3h0M134.5 385.4h0M133.9 384.8h0M133.8 383.1h0M135.4 384.1h0M136.6 384.8h0M138.1 382.6h0M138.2 384.4h0M140.7 383.0h0M139.1 381.3h0M140.6 382.0h0M142.1 381.8h0M141.1 381.5h0M144.8 382.0h0M145.0 381.3h0M145.7 380.8h0M146.9 383.0h0M146.9 384.2h0M146.5 383.4h0M147.8 383.8h0M146.2 384.5h0M145.8 385.4h0M144.3 386.1h0M143.6 388.0h0M144.4 391.1h0M143.5 389.9h0M142.3 390.0h0M142.8 390.9h0M143.2 391.5h0M142.3 392.1h0M142.2 394.1h0M141.1 396.1h0M143.2 394.8h0M143.0 397.0h0M141.0 396.7h0M142.0 397.8h0M141.6 399.0h0M142.6 399.2h0M142.3 400.7h0M140.9 404.1h0M139.3 402.1h0M138.9 402.2h0M139.0 407.3h0M138.7 403.9h0M139.7 403.7h0M136.7 402.7h0M139.8 402.7h0M136.4 400.6h0M138.8 400.1h0M136.7 398.7h0M136.8 397.6h0M135.6 397.8h0M133.9 397.0h0M133.0 398.3h0M133.0 398.3h0M132.2 398.8h0M130.6 398.7h0M129.1 399.2h0M129.5 397.9h0M126.8 398.9h0M127.9 399.3h0M126.0 398.3h0M128.3 400.0h0M123.2 399.0h0M124.4 400.3h0M122.6 400.9h0M121.2 400.9h0M122.4 399.6h0M119.4 400.5h0M118.8 400.8h0M117.7 399.0h0M117.1 397.7h0M115.6 398.9h0M116.4 397.5h0M113.6 397.6h0M111.8 397.0h0M111.8 396.2h0M111.4 397.7h0M109.8 396.2h0M109.4 394.8h0" stroke="#45c0c4" stroke-width="1.1" stroke-linecap="square"/><path d="M85.7 407.8 L89.7 405.1 L95.1 407.8 L97.1 411.8 L91.0 409.8Z" fill="#f8766d"/><path d="M86.3 409.0h0M87.2 407.5h0M87.8 406.3h0M89.0 406.5h0M88.7 405.2h0M90.0 404.0h0M90.2 404.3h0M92.8 407.4h0M92.8 405.6h0M93.2 408.5h0M94.9 408.4h0M97.3 409.6h0M96.6 409.2h0M95.9 409.9h0M97.4 411.9h0M97.5 411.9h0M96.9 413.3h0M96.0 410.0h0M94.6 411.3h0M94.7 409.8h0M92.3 409.5h0M93.3 410.4h0M91.8 410.7h0M90.1 407.9h0M90.9 407.6h0M88.6 409.3h0M87.3 408.8h0M86.8 408.4h0" stroke="#f8766d" stroke-width="1.1" stroke-linecap="square"/><path d="M96.9 432.4 L101.6 437.1 L105.0 440.5 L109.7 439.2 L110.3 442.5 L113.7 444.5 L110.3 447.2 L103.6 449.9 L99.6 445.9 L100.9 440.5 L99.6 436.5Z" fill="#f8766d"/><path d="M97.3 433.0h0M97.8 433.6h0M98.7 434.3h0M98.2 433.8h0M98.9 436.7h0M100.1 435.3h0M101.9 436.8h0M101.2 438.1h0M101.4 436.8h0M102.2 439.6h0M103.6 440.1h0M103.3 438.2h0M105.2 440.2h0M104.2 440.4h0M108.6 440.2h0M106.6 439.1h0M108.0 437.7h0M108.8 438.2h0M109.4 439.8h0M110.2 441.8h0M110.6 442.5h0M110.3 443.1h0M112.1 446.5h0M112.5 444.2h0M114.3 445.1h0M111.0 444.9h0M110.6 446.6h0M109.8 444.8h0M109.4 448.8h0M110.3 448.4h0M108.0 448.1h0M106.9 448.0h0M107.9 449.5h0M106.0 448.1h0M104.8 447.7h0M102.9 449.1h0M103.9 450.9h0M104.4 449.1h0M102.8 446.8h0M102.1 450.0h0M101.5 448.6h0M101.0 447.3h0M100.6 444.8h0M99.4 446.2h0M99.4 445.2h0M99.6 442.9h0M99.8 443.2h0M101.0 439.5h0M99.8 439.5h0M101.0 439.8h0M98.6 438.9h0M101.0 437.6h0M100.1 439.8h0M99.0 435.3h0M99.0 434.8h0M96.9 433.7h0M96.4 434.7h0" stroke="#f8766d" stroke-width="1.1" stroke-linecap="square"/><path d="M140.4 382.7 L145.6 381.7 L147.2 384.9 L143.9 388.1 L141.9 386.1Z" fill="#7aa822"/><path d="M55.0 402.7h0M52.0 385.1h0M54.4 393.1h0M59.8 388.4h0M60.9 387.9h0M51.0 394.9h0M53.5 396.0h0M56.8 391.6h0M49.6 396.6h0M64.2 389.9h0M59.0 385.5h0M54.8 385.2h0M60.6 393.1h0M68.1 392.3h0M67.5 385.7h0M66.2 386.8h0M58.6 396.7h0M53.5 400.8h0M51.0 391.1h0M64.4 387.2h0M49.6 393.4h0M71.0 391.7h0M49.6 404.3h0M58.1 397.0h0M61.0 391.8h0M58.4 388.5h0M49.5 407.2h0M66.5 387.4h0M52.1 389.4h0M70.0 390.8h0M51.2 401.9h0M57.6 398.0h0M58.0 385.6h0M61.6 387.1h0M55.9 393.7h0M57.0 401.5h0M54.9 396.2h0M57.1 396.7h0M64.2 392.4h0M49.0 403.7h0M52.3 386.9h0M59.7 386.6h0M53.8 396.5h0M54.4 396.3h0M54.8 385.0h0M55.2 406.0h0M62.8 386.2h0M52.7 398.4h0M54.9 403.3h0M52.0 393.7h0M58.1 388.5h0M49.6 406.4h0M53.8 404.0h0M64.3 391.5h0M59.9 386.6h0M62.0 392.8h0M63.6 390.2h0M64.1 389.9h0M52.9 406.0h0M64.8 387.2h0M52.6 387.5h0M56.8 393.0h0M54.0 387.2h0M51.6 394.2h0M70.4 390.0h0M52.6 405.7h0M56.8 394.2h0M53.5 387.0h0M57.4 401.7h0M60.2 392.2h0M51.1 402.7h0M64.1 385.0h0M59.2 394.6h0M59.7 395.8h0M56.0 391.0h0M55.5 410.1h0M49.5 427.8h0M61.6 414.3h0M49.7 423.0h0M41.9 413.2h0M49.0 421.6h0M69.2 413.4h0M44.1 413.4h0M53.2 410.7h0M69.5 414.2h0M42.8 411.9h0M60.7 409.7h0M51.9 412.7h0M44.3 417.0h0M61.6 416.4h0M57.1 418.2h0M46.6 410.8h0M46.3 411.0h0M40.1 411.8h0M69.5 414.8h0M57.7 412.0h0M62.7 415.5h0M61.8 412.8h0M49.3 412.2h0M48.0 421.3h0M53.1 411.9h0M51.6 425.8h0M51.4 410.3h0M44.5 413.3h0M47.1 411.4h0M70.4 411.9h0M52.8 424.6h0M60.9 409.1h0M58.3 410.8h0M64.7 410.9h0M43.1 415.7h0M64.4 413.7h0M53.0 424.5h0M46.3 416.1h0M54.6 411.8h0M65.4 412.6h0M54.2 416.3h0M49.0 415.1h0M51.6 415.8h0M60.6 410.0h0M45.0 412.0h0M65.1 412.0h0M48.3 412.9h0M50.6 417.9h0M50.2 414.4h0M52.7 409.0h0M64.3 415.1h0M52.4 422.6h0M58.8 418.3h0M52.6 422.6h0M46.4 409.8h0M59.8 416.6h0M69.4 412.0h0M60.1 409.7h0M60.8 411.1h0M59.6 415.0h0M57.9 412.0h0M53.3 425.9h0M51.6 411.2h0M57.0 415.2h0" stroke="#fff" stroke-width="1.35" stroke-linecap="square"/><path d="M28.1 403.5h0M14.9 392.9h0M44.2 384.4h0M52.0 375.2h0M9.1 395.0h0M54.7 396.8h0M62.5 423.4h0M37.2 400.0h0M47.7 398.7h0M60.2 407.5h0M62.0 385.9h0M21.8 388.3h0M57.5 428.5h0M37.8 410.1h0M57.0 382.4h0M43.7 411.3h0M44.8 416.3h0M45.8 398.1h0M23.8 410.7h0M55.6 417.9h0M54.8 429.4h0M60.8 382.7h0M54.2 404.8h0M22.8 386.3h0M47.5 415.4h0M25.4 407.9h0M35.2 409.8h0M59.1 417.5h0M24.6 374.1h0M63.5 427.2h0M58.5 420.6h0M15.5 380.3h0M50.3 384.9h0M18.2 387.3h0M34.0 377.7h0M16.2 396.0h0M58.9 392.0h0M55.9 423.0h0M57.7 406.3h0M74.6 403.4h0M45.7 406.2h0M33.8 413.0h0M21.4 375.4h0M13.4 380.8h0M5.4 381.2h0" stroke="#fff" stroke-width="0.9" stroke-linecap="square"/><path d="M119.2 392.3h0M121.9 391.1h0M121.1 388.3h0M115.0 392.0h0M115.4 391.8h0M121.9 388.7h0M111.7 391.6h0M119.7 389.3h0M118.8 394.0h0M117.7 391.0h0M118.2 390.6h0M113.7 393.2h0M112.4 390.5h0M113.1 392.2h0M122.9 388.7h0M121.8 389.7h0M122.0 388.1h0M120.7 392.2h0M116.2 388.9h0M116.2 393.7h0M116.3 392.2h0M123.1 390.4h0M123.0 388.5h0M118.6 389.9h0M116.1 390.4h0M120.9 392.6h0M113.5 391.5h0M121.0 391.4h0M120.1 392.0h0M119.3 392.4h0" stroke="#fff" stroke-width="1.4" stroke-linecap="square"/><path d="M101.7 389.6h0M113.2 383.2h0M108.0 383.4h0M107.5 384.6h0M113.7 394.0h0M112.6 392.6h0M106.9 384.3h0M105.7 386.8h0M105.0 389.1h0M108.5 385.4h0M104.8 386.3h0M104.6 388.3h0M101.9 389.9h0M105.7 387.7h0M112.9 384.0h0M101.9 388.2h0M111.8 392.6h0M110.5 385.9h0M114.4 385.4h0M102.0 383.8h0M111.7 389.0h0M104.4 384.2h0M110.0 393.1h0M111.5 391.4h0M101.2 390.4h0M103.7 384.4h0M102.5 384.2h0M102.5 393.2h0M109.7 382.6h0M104.0 385.7h0" stroke="#45c0c4" stroke-width="1" stroke-linecap="square"/><path d="M93.7 413.5h0M83.8 405.8h0M93.5 407.8h0M80.8 406.8h0M97.5 414.7h0M79.7 414.9h0M80.5 408.9h0M75.0 408.6h0M72.8 417.8h0M80.9 418.0h0M73.2 416.0h0M94.4 409.7h0M100.0 413.0h0M82.6 404.6h0M93.7 415.1h0M90.5 408.5h0M74.2 405.2h0M73.9 411.8h0M88.0 409.9h0M74.3 405.2h0M92.6 405.5h0M96.1 416.8h0M99.1 411.0h0M75.6 407.0h0M90.2 407.2h0M95.5 413.5h0" stroke="#f8766d" stroke-width="1" stroke-linecap="square"/>
<path d="M53.0 395.1l3 -1.5l2 1l-2.5 2l-1.5 3.5z" fill="#45c0c4" stroke="#45c0c4" stroke-width="0.8"/>
<path d="M102.4 383.1h0M104.4 384.6h0M106.4 386.1h0M103.4 387.1h0M108.4 385.1h0" stroke="#7aa822" stroke-width="1.2"/>
<path d="M15.4 345.4 V357.9 M15.4 345.4 H27.9" stroke="#000" stroke-width="1.1" fill="none"/><path d="M12.8 356.9 L15.4 361.4 L18.0 356.9Z M26.9 342.79999999999995 L31.4 345.4 L26.9 348.0Z" fill="#000"/>
<text x="14.0" y="338.0" font-size="9.5" text-anchor="start" fill="#111" stroke="#111" stroke-width="0.25" textLength="36.3" lengthAdjust="spacingAndGlyphs" >Cell type</text>
<text x="88.8" y="352.0" font-size="8" text-anchor="start" fill="#111" stroke="#111" stroke-width="0.18" textLength="24.2" lengthAdjust="spacingAndGlyphs" >Stromal</text>
<text x="88.8" y="373.5" font-size="8" text-anchor="start" fill="#111" stroke="#111" stroke-width="0.18" textLength="28.5" lengthAdjust="spacingAndGlyphs" >Epithelial</text>
<text x="113.5" y="407.7" font-size="8" text-anchor="start" fill="#111" stroke="#111" stroke-width="0.18" textLength="19" lengthAdjust="spacingAndGlyphs" >Tumor</text>
<text x="52.0" y="440.8" font-size="8" text-anchor="start" fill="#111" stroke="#111" stroke-width="0.18" textLength="24.9" lengthAdjust="spacingAndGlyphs" >Immune</text>
<path d="M187.4 381.1 L189.4 377.0 L195.4 374.3 L208.9 373.0 L225.0 373.0 L239.8 373.0 L250.5 376.4 L255.9 381.1 L255.2 387.8 L261.3 395.8 L263.3 401.2 L261.3 405.2 L255.9 407.9 L257.2 414.6 L263.3 422.7 L261.3 426.7 L249.2 426.7 L238.4 429.4 L226.3 429.4 L223.6 422.7 L224.3 414.6 L215.6 412.6 L202.2 409.3 L194.1 399.9 L189.4 391.8 L187.4 385.1Z" fill="#cacaca"/><path d="M188.0 380.4h0M187.0 382.1h0M188.9 380.7h0M189.0 378.7h0M189.2 379.2h0M191.3 377.3h0M190.3 377.5h0M191.8 376.1h0M191.4 375.2h0M194.2 375.1h0M193.4 374.7h0M193.4 375.1h0M195.4 374.7h0M197.6 374.0h0M197.3 373.5h0M198.9 374.4h0M200.0 375.4h0M198.7 375.3h0M199.7 372.8h0M199.9 375.1h0M202.1 374.1h0M202.9 375.0h0M203.3 373.4h0M204.3 373.1h0M207.4 373.5h0M207.4 373.9h0M207.5 372.0h0M207.9 372.5h0M210.9 373.0h0M210.3 373.1h0M211.1 373.8h0M213.4 372.3h0M215.1 371.9h0M215.0 372.7h0M216.3 373.8h0M216.5 373.2h0M216.1 371.6h0M218.4 373.3h0M218.8 373.5h0M221.2 371.4h0M221.5 374.7h0M222.1 373.0h0M223.1 373.4h0M221.8 373.4h0M224.7 373.6h0M225.4 372.9h0M227.1 373.9h0M227.6 373.3h0M227.8 372.9h0M230.0 374.7h0M229.8 373.1h0M231.0 373.5h0M231.7 373.7h0M232.4 374.5h0M234.3 372.8h0M235.3 373.2h0M236.4 373.9h0M237.1 372.4h0M236.7 372.5h0M238.0 373.8h0M238.8 372.6h0M240.9 374.6h0M240.2 373.5h0M243.3 372.4h0M244.0 372.2h0M244.2 373.6h0M244.8 375.0h0M247.4 374.2h0M248.4 376.8h0M246.5 375.6h0M249.2 377.2h0M250.3 375.8h0M250.1 377.1h0M250.6 377.3h0M252.1 377.0h0M254.9 378.6h0M255.5 380.1h0M255.3 379.2h0M254.6 380.5h0M255.8 380.0h0M257.8 384.2h0M256.2 383.2h0M255.4 383.0h0M255.9 384.9h0M255.9 386.8h0M257.2 386.8h0M255.4 387.6h0M256.1 387.6h0M257.8 389.7h0M255.7 390.0h0M258.5 391.3h0M257.4 392.0h0M258.8 391.6h0M259.4 391.9h0M259.3 392.5h0M261.0 395.3h0M260.4 395.2h0M262.6 394.4h0M261.6 397.2h0M262.5 397.2h0M260.5 397.9h0M263.5 398.8h0M263.1 400.1h0M264.1 400.6h0M263.1 402.4h0M261.3 403.5h0M262.7 404.5h0M260.7 404.6h0M259.2 404.6h0M257.6 406.4h0M258.6 406.5h0M259.9 407.0h0M257.5 406.3h0M255.6 407.3h0M256.2 407.9h0M255.6 409.2h0M256.7 409.6h0M256.8 412.1h0M256.9 413.7h0M257.1 413.8h0M257.4 415.4h0M258.1 415.4h0M258.9 415.4h0M259.6 415.7h0M260.6 417.0h0M259.7 418.0h0M261.0 417.3h0M260.7 420.3h0M261.9 419.4h0M263.3 422.9h0M262.0 421.6h0M262.2 422.1h0M262.6 425.6h0M261.1 426.3h0M261.8 425.3h0M260.8 427.2h0M260.0 426.5h0M259.3 426.7h0M258.7 426.4h0M256.8 427.3h0M256.7 426.7h0M253.9 426.6h0M254.1 425.7h0M253.4 425.8h0M251.1 425.6h0M252.8 426.5h0M250.3 426.6h0M248.3 427.9h0M250.1 426.5h0M248.6 426.3h0M246.9 426.9h0M246.0 427.8h0M244.5 428.0h0M243.8 427.9h0M244.9 429.6h0M241.6 428.8h0M243.3 428.5h0M242.3 428.0h0M240.2 430.9h0M239.9 430.0h0M238.2 429.2h0M238.3 429.4h0M238.0 428.7h0M234.8 429.8h0M233.3 429.9h0M235.0 431.0h0M231.7 429.0h0M232.6 429.0h0M231.3 427.9h0M229.9 429.9h0M228.5 429.8h0M228.2 429.1h0M226.4 429.2h0M226.6 429.2h0M226.5 429.0h0M224.6 427.8h0M226.2 427.4h0M224.7 424.8h0M224.7 425.4h0M225.3 424.3h0M223.9 423.8h0M224.8 423.6h0M225.4 421.4h0M224.7 421.1h0M225.2 419.6h0M224.6 419.7h0M223.2 418.2h0M223.9 416.9h0M223.5 415.2h0M224.6 415.6h0M224.4 414.5h0M223.6 413.8h0M221.5 414.5h0M221.7 414.4h0M220.8 412.6h0M218.4 412.9h0M220.1 413.8h0M216.5 413.9h0M217.2 412.4h0M216.2 412.8h0M214.7 412.6h0M214.9 412.8h0M211.4 411.4h0M213.2 413.7h0M210.2 412.5h0M208.9 412.4h0M209.1 412.1h0M209.0 410.2h0M206.7 409.5h0M205.1 407.5h0M204.8 410.3h0M204.6 410.4h0M203.6 410.3h0M203.5 409.2h0M201.1 407.6h0M202.2 408.5h0M199.3 407.1h0M200.0 408.5h0M200.6 406.2h0M199.7 404.3h0M198.1 404.6h0M196.6 405.3h0M196.9 404.7h0M195.2 403.6h0M196.7 401.1h0M195.6 401.6h0M195.3 400.2h0M193.3 399.0h0M193.8 398.5h0M193.1 396.1h0M192.4 395.9h0M192.4 397.8h0M192.0 395.6h0M192.1 393.2h0M190.3 395.2h0M189.9 391.7h0M189.0 393.1h0M189.9 392.0h0M190.0 391.0h0M189.1 390.8h0M186.9 391.4h0M188.6 390.0h0M188.2 388.2h0M188.2 386.5h0M187.5 385.0h0M188.8 384.9h0M188.9 381.8h0M185.8 382.6h0" stroke="#cacaca" stroke-width="1.1" stroke-linecap="square"/><path d="M245.4 349.3 L247.8 346.9 L255.2 348.0 L257.5 350.0 L256.6 353.4 L247.8 354.5 L245.8 352.7Z" fill="#cacaca"/><path d="M246.9 348.3h0M245.3 347.7h0M246.9 348.7h0M247.7 347.2h0M247.3 345.4h0M249.9 347.5h0M250.0 347.5h0M251.7 348.0h0M251.9 347.6h0M255.0 347.0h0M253.9 347.4h0M255.9 347.2h0M254.8 348.0h0M255.5 349.6h0M259.2 350.6h0M257.7 351.6h0M256.6 350.9h0M255.7 354.2h0M254.4 355.1h0M253.6 353.3h0M252.9 352.7h0M252.3 353.7h0M251.5 354.4h0M250.9 355.3h0M249.4 353.4h0M248.2 354.3h0M248.8 354.7h0M246.5 353.8h0M244.7 352.3h0M245.1 350.6h0M246.1 349.7h0" stroke="#cacaca" stroke-width="1.1" stroke-linecap="square"/><path d="M264.8 362.1 L271.6 360.4 L276.0 358.2 L283.9 357.0 L290.6 355.4 L295.1 354.6 L300.7 356.5 L302.9 360.4 L299.5 362.1 L298.4 364.9 L294.0 362.6 L286.1 361.5 L279.4 363.2 L272.7 362.6Z" fill="#cacaca"/><path d="M264.2 361.1h0M266.0 360.9h0M268.6 360.7h0M268.5 361.9h0M269.5 361.3h0M268.8 362.8h0M270.8 359.7h0M272.8 360.4h0M271.9 360.6h0M273.4 360.1h0M274.2 360.0h0M275.5 358.3h0M276.0 359.2h0M277.0 357.4h0M278.1 358.4h0M279.4 356.6h0M279.0 357.4h0M281.7 357.7h0M283.3 358.7h0M283.6 357.3h0M283.8 356.3h0M285.1 355.8h0M286.6 355.1h0M287.9 356.2h0M287.1 356.2h0M288.8 355.9h0M288.5 353.1h0M291.5 355.4h0M292.2 353.1h0M292.1 354.2h0M293.4 355.8h0M293.2 355.2h0M295.6 352.8h0M296.0 354.9h0M296.7 355.7h0M299.0 356.2h0M299.9 356.7h0M299.7 355.6h0M299.6 354.8h0M300.7 357.8h0M301.7 358.4h0M303.1 360.3h0M302.7 360.3h0M300.7 361.8h0M301.0 358.9h0M300.4 361.5h0M300.2 362.1h0M299.6 362.5h0M299.5 363.0h0M298.3 365.1h0M297.2 365.2h0M297.0 364.2h0M295.9 363.9h0M295.4 362.2h0M294.0 362.4h0M292.7 362.5h0M292.0 361.2h0M290.8 363.1h0M290.6 360.4h0M288.5 362.2h0M286.9 361.9h0M288.4 362.0h0M285.3 361.8h0M283.6 361.6h0M282.4 361.5h0M281.5 361.6h0M281.9 363.4h0M281.6 364.3h0M281.5 363.0h0M280.0 362.3h0M278.5 362.7h0M276.6 363.9h0M275.9 363.3h0M275.3 363.7h0M275.0 361.4h0M274.0 365.1h0M273.3 363.6h0M272.2 363.9h0M270.2 361.9h0M269.4 361.2h0M267.9 363.4h0M267.2 361.7h0M267.9 362.7h0M265.4 361.6h0" stroke="#cacaca" stroke-width="1.1" stroke-linecap="square"/><path d="M271.6 377.6 L274.4 375.3 L279.0 374.2 L285.7 375.6 L289.9 378.3 L287.4 380.3 L282.4 380.9 L274.9 381.5 L272.2 379.9Z" fill="#cacaca"/><path d="M271.4 377.7h0M273.2 377.4h0M272.2 376.3h0M272.5 375.4h0M275.9 374.1h0M274.9 375.8h0M276.4 374.6h0M276.5 373.9h0M278.7 374.3h0M279.3 374.8h0M278.7 372.9h0M281.3 375.5h0M281.9 375.5h0M281.5 374.7h0M283.3 374.7h0M285.2 373.0h0M285.2 376.5h0M286.2 375.1h0M287.6 375.5h0M289.0 376.5h0M290.3 378.1h0M288.8 378.2h0M288.9 379.5h0M287.0 380.4h0M286.5 378.7h0M286.2 379.7h0M285.4 381.9h0M284.3 382.1h0M285.2 382.5h0M282.6 382.1h0M282.6 382.1h0M280.5 382.2h0M280.5 381.4h0M277.9 381.8h0M278.1 380.0h0M275.8 382.4h0M275.6 382.1h0M274.6 380.3h0M273.4 378.9h0M273.6 379.2h0M274.1 379.2h0M272.1 377.8h0" stroke="#cacaca" stroke-width="1.1" stroke-linecap="square"/><path d="M288.3 394.4 L291.4 390.9 L297.4 388.4 L301.9 386.4 L302.5 379.3 L304.4 378.4 L309.2 383.4 L312.4 384.9 L317.2 382.7 L322.4 380.9 L325.3 381.1 L326.6 384.0 L323.2 387.4 L322.6 395.5 L320.9 402.9 L319.9 407.4 L317.9 401.4 L314.5 399.4 L306.5 401.4 L295.7 400.4 L290.4 397.9Z" fill="#b4aed8"/><path d="M287.0 394.3h0M288.3 395.8h0M289.3 390.9h0M290.2 391.5h0M290.3 390.9h0M290.5 389.4h0M292.4 390.5h0M293.0 389.9h0M295.4 389.2h0M294.4 390.9h0M296.0 388.6h0M295.8 388.3h0M297.1 388.3h0M299.6 386.8h0M299.3 388.2h0M300.7 387.0h0M300.3 387.1h0M302.5 386.3h0M301.6 386.6h0M301.8 384.3h0M303.4 383.4h0M302.2 382.1h0M303.7 381.3h0M303.7 381.0h0M302.6 380.2h0M302.9 380.6h0M303.7 378.7h0M305.9 379.4h0M306.9 381.1h0M305.5 380.3h0M307.6 381.4h0M307.6 382.4h0M307.8 382.2h0M310.3 383.7h0M311.6 382.0h0M310.3 383.2h0M312.6 386.3h0M312.1 384.4h0M315.5 383.1h0M317.3 382.5h0M315.5 381.5h0M317.7 381.2h0M318.1 382.4h0M318.4 381.7h0M319.4 382.1h0M320.0 380.7h0M320.5 382.1h0M323.6 381.4h0M321.9 381.0h0M324.8 381.9h0M325.3 380.3h0M327.6 382.1h0M325.5 383.4h0M327.6 383.7h0M326.4 384.9h0M325.1 385.1h0M324.8 383.4h0M323.8 385.6h0M322.2 387.7h0M322.8 388.0h0M323.0 387.4h0M321.5 391.4h0M322.0 390.6h0M323.3 391.6h0M322.7 391.0h0M321.6 393.9h0M322.8 395.5h0M323.2 395.0h0M322.4 395.8h0M322.7 396.7h0M322.3 398.6h0M323.0 398.4h0M321.5 398.8h0M322.2 400.8h0M320.5 401.0h0M320.2 402.6h0M320.4 405.0h0M320.2 404.7h0M318.5 405.0h0M321.9 408.0h0M317.9 408.8h0M319.4 405.3h0M319.8 406.4h0M319.7 405.2h0M320.1 403.9h0M319.0 405.4h0M318.3 400.9h0M319.2 401.5h0M316.0 402.4h0M317.2 400.3h0M315.6 398.3h0M314.6 397.4h0M312.5 401.0h0M312.9 398.2h0M311.2 400.8h0M310.7 400.3h0M309.8 399.4h0M310.3 399.1h0M308.0 399.7h0M307.1 401.1h0M306.3 401.5h0M306.2 399.5h0M304.7 402.3h0M305.2 401.9h0M301.6 400.4h0M302.7 402.0h0M300.7 400.6h0M300.8 401.8h0M298.8 399.8h0M296.8 400.0h0M296.0 399.8h0M297.6 400.8h0M295.2 401.2h0M293.5 400.4h0M293.4 399.9h0M294.1 398.1h0M292.7 398.6h0M291.0 396.8h0M290.3 397.7h0M289.9 396.8h0M288.3 397.4h0M288.6 396.3h0" stroke="#b4aed8" stroke-width="1.1" stroke-linecap="square"/><path d="M270.9 410.2 L275.6 408.2 L281.0 411.6 L278.3 413.6 L271.6 412.3Z" fill="#cacaca"/><path d="M270.6 409.4h0M272.9 410.8h0M272.4 409.5h0M274.1 407.7h0M274.1 406.7h0M276.4 406.4h0M276.1 407.4h0M277.0 408.9h0M277.4 410.0h0M278.3 410.8h0M279.6 409.6h0M279.9 411.1h0M281.6 412.6h0M279.8 412.5h0M279.1 413.1h0M277.3 413.0h0M278.0 414.5h0M276.6 412.9h0M275.8 412.4h0M275.9 411.6h0M273.7 413.7h0M272.2 411.6h0M271.1 412.4h0M272.2 411.2h0" stroke="#cacaca" stroke-width="1.1" stroke-linecap="square"/><path d="M282.3 431.7 L287.0 436.4 L290.4 439.8 L295.1 438.5 L295.7 441.8 L299.1 443.8 L295.7 446.5 L289.0 449.2 L285.0 445.2 L286.3 439.8 L285.0 435.8Z" fill="#cacaca"/><path d="M282.7 432.3h0M283.2 432.9h0M284.1 433.6h0M283.6 433.1h0M284.3 436.0h0M285.5 434.6h0M287.3 436.1h0M286.6 437.4h0M286.8 436.1h0M287.6 438.9h0M289.0 439.4h0M288.7 437.5h0M290.6 439.5h0M289.6 439.7h0M294.0 439.5h0M292.0 438.4h0M293.4 437.0h0M294.2 437.5h0M294.8 439.1h0M295.6 441.1h0M296.0 441.8h0M295.7 442.4h0M297.5 445.8h0M297.9 443.5h0M299.7 444.4h0M296.4 444.2h0M296.0 445.9h0M295.2 444.1h0M294.8 448.1h0M295.7 447.7h0M293.4 447.4h0M292.3 447.3h0M293.3 448.8h0M291.4 447.4h0M290.2 447.0h0M288.3 448.4h0M289.3 450.2h0M289.8 448.4h0M288.2 446.1h0M287.5 449.3h0M286.9 447.9h0M286.4 446.6h0M286.0 444.1h0M284.8 445.5h0M284.8 444.5h0M285.0 442.2h0M285.2 442.5h0M286.4 438.8h0M285.2 438.8h0M286.4 439.1h0M284.0 438.2h0M286.4 436.9h0M285.5 439.1h0M284.4 434.6h0M284.4 434.1h0M282.3 433.0h0M281.8 434.0h0" stroke="#cacaca" stroke-width="1.1" stroke-linecap="square"/><path d="M240.4 402.0h0M237.4 384.4h0M239.8 392.4h0M245.2 387.7h0M246.3 387.2h0M236.4 394.2h0M238.9 395.3h0M242.2 390.9h0M235.0 395.9h0M249.6 389.2h0M244.4 384.8h0M240.2 384.5h0M246.0 392.4h0M253.5 391.6h0M252.9 385.0h0M251.6 386.1h0M244.0 396.0h0M238.9 400.1h0M236.4 390.4h0M249.8 386.5h0M235.0 392.7h0M256.4 391.0h0M235.0 403.6h0M243.5 396.3h0M246.4 391.1h0M243.8 387.8h0M234.9 406.5h0M251.9 386.7h0M237.5 388.7h0M255.4 390.1h0M236.6 401.2h0M243.0 397.3h0M243.4 384.9h0M247.0 386.4h0M241.3 393.0h0M242.4 400.8h0M240.3 395.5h0M242.5 396.0h0M249.6 391.7h0M234.4 403.0h0M237.7 386.2h0M245.1 385.9h0M239.2 395.8h0M239.8 395.6h0M240.2 384.3h0M240.6 405.3h0M248.2 385.5h0M238.1 397.7h0M240.3 402.6h0M237.4 393.0h0M243.5 387.8h0M235.0 405.7h0M239.2 403.3h0M249.7 390.8h0M245.3 385.9h0M247.4 392.1h0M249.0 389.5h0M249.5 389.2h0M238.3 405.3h0M250.2 386.5h0M238.0 386.8h0M242.2 392.3h0M239.4 386.5h0M237.0 393.5h0M255.8 389.3h0M238.0 405.0h0M242.2 393.5h0M238.9 386.3h0M242.8 401.0h0M245.6 391.5h0M236.5 402.0h0M249.5 384.3h0M244.6 393.9h0M245.1 395.1h0M241.4 390.3h0M240.9 409.4h0M234.9 427.1h0M247.0 413.6h0M235.1 422.3h0M227.3 412.5h0M234.4 420.9h0M254.6 412.7h0M229.5 412.7h0M238.6 410.0h0M254.9 413.5h0M228.2 411.2h0M246.1 409.0h0M237.3 412.0h0M229.7 416.3h0M247.0 415.7h0M242.5 417.5h0M232.0 410.1h0M231.7 410.3h0M225.5 411.1h0M254.9 414.1h0M243.1 411.3h0M248.1 414.8h0M247.2 412.1h0M234.7 411.5h0M233.4 420.6h0M238.5 411.2h0M237.0 425.1h0M236.8 409.6h0M229.9 412.6h0M232.5 410.7h0M255.8 411.2h0M238.2 423.9h0M246.3 408.4h0M243.7 410.1h0M250.1 410.2h0M228.5 415.0h0M249.8 413.0h0M238.4 423.8h0M231.7 415.4h0M240.0 411.1h0M250.8 411.9h0M239.6 415.6h0M234.4 414.4h0M237.0 415.1h0M246.0 409.3h0M230.4 411.3h0M250.5 411.3h0M233.7 412.2h0M236.0 417.2h0M235.6 413.7h0M238.1 408.3h0M249.7 414.4h0M237.8 421.9h0M244.2 417.6h0M238.0 421.9h0M231.8 409.1h0M245.2 415.9h0M254.8 411.3h0M245.5 409.0h0M246.2 410.4h0M245.0 414.3h0M243.3 411.3h0M238.7 425.2h0M237.0 410.5h0M242.4 414.5h0" stroke="#fff" stroke-width="1.35" stroke-linecap="square"/><path d="M213.5 402.8h0M200.3 392.2h0M229.6 383.7h0M237.4 374.5h0M194.5 394.3h0M240.1 396.1h0M247.9 422.7h0M222.6 399.3h0M233.1 398.0h0M245.6 406.8h0M247.4 385.2h0M207.2 387.6h0M242.9 427.8h0M223.2 409.4h0M242.4 381.7h0M229.1 410.6h0M230.2 415.6h0M231.2 397.4h0M209.2 410.0h0M241.0 417.2h0M240.2 428.7h0M246.2 382.0h0M239.6 404.1h0M208.2 385.6h0M232.9 414.7h0M210.8 407.2h0M220.6 409.1h0M244.5 416.8h0M210.0 373.4h0M248.9 426.5h0M243.9 419.9h0M200.9 379.6h0M235.7 384.2h0M203.6 386.6h0M219.4 377.0h0M201.6 395.3h0M244.3 391.3h0M241.3 422.3h0M243.1 405.6h0M260.0 402.7h0M231.1 405.5h0M219.2 412.3h0M206.8 374.7h0M198.8 380.1h0M190.8 380.5h0" stroke="#fff" stroke-width="0.9" stroke-linecap="square"/><path d="M281.7 388.4h0M293.2 382.0h0M288.0 382.2h0M287.5 383.4h0M293.7 392.8h0M292.6 391.4h0M286.9 383.1h0M285.7 385.6h0M285.0 387.9h0M288.5 384.2h0M284.8 385.1h0M284.6 387.1h0M281.9 388.7h0M285.7 386.5h0M292.9 382.8h0M281.9 387.0h0M291.8 391.4h0M290.5 384.7h0M294.4 384.2h0M282.0 382.6h0M291.7 387.8h0M284.4 383.0h0M290.0 391.9h0M291.5 390.2h0M281.2 389.2h0M283.7 383.2h0M282.5 383.0h0M282.5 392.0h0M289.7 381.4h0M284.0 384.5h0" stroke="#cacaca" stroke-width="1" stroke-linecap="square"/><path d="M279.1 412.8h0M269.2 405.1h0M278.9 407.1h0M266.2 406.1h0M282.9 414.0h0M265.1 414.2h0M265.9 408.2h0M260.4 407.9h0M258.2 417.1h0M266.3 417.3h0M258.6 415.3h0M279.8 409.0h0M285.4 412.3h0M268.0 403.9h0M279.1 414.4h0M275.9 407.8h0M259.6 404.5h0M259.3 411.1h0M273.4 409.2h0M259.7 404.5h0M278.0 404.8h0M281.5 416.1h0M284.5 410.3h0M261.0 406.3h0M275.6 406.5h0M280.9 412.8h0" stroke="#cacaca" stroke-width="1" stroke-linecap="square"/>
<path d="M221.2 389.3h0M238.9 387.6h0M248.7 404.7h0M236.1 387.1h0M228.9 381.7h0M217.6 385.0h0M259.6 405.1h0M207.4 396.3h0M211.6 400.2h0M210.5 377.8h0M220.4 381.8h0M191.1 383.5h0M211.6 376.6h0M251.7 416.1h0M254.7 396.9h0M245.7 395.1h0M245.5 403.6h0M246.6 400.1h0M206.8 373.3h0M205.3 377.1h0M217.4 402.3h0M209.9 397.3h0M244.9 413.7h0M237.4 414.1h0M198.2 396.7h0M243.1 415.1h0M205.8 408.1h0M218.4 387.1h0M222.5 410.8h0M250.7 399.6h0M245.2 388.3h0M250.9 387.3h0M205.0 400.0h0M213.7 392.0h0M240.7 378.9h0M220.9 393.0h0M240.0 418.8h0M196.6 401.8h0M253.6 385.2h0M227.5 420.8h0M234.0 403.1h0M249.8 388.8h0M244.0 399.4h0M254.1 423.3h0M197.4 394.0h0M241.6 388.2h0M230.8 394.1h0M216.7 374.5h0M222.3 398.4h0M232.2 410.1h0M220.3 377.5h0M250.9 382.2h0M238.0 422.6h0M194.0 390.4h0M227.2 411.8h0M259.4 398.2h0M252.6 402.7h0M249.3 378.1h0M216.7 387.7h0M254.8 394.1h0M202.4 400.7h0M208.9 387.4h0M226.7 402.8h0M198.4 375.7h0M257.3 402.2h0M255.6 410.3h0M248.8 382.5h0M206.3 375.7h0M238.8 395.2h0M233.9 387.9h0M211.6 392.8h0M231.2 400.0h0M256.2 418.2h0M233.8 399.7h0M210.4 374.9h0M212.8 373.5h0M210.2 376.7h0M237.4 404.0h0M206.9 407.4h0M221.0 384.4h0M196.1 393.5h0M226.3 400.3h0M215.1 379.2h0M237.3 380.4h0M199.7 405.9h0M200.3 403.7h0M261.0 399.6h0M212.2 399.1h0M226.5 415.8h0M203.0 386.7h0M245.2 418.5h0M202.6 386.7h0M261.4 425.6h0M200.0 374.8h0M196.3 389.0h0M237.7 428.7h0M238.6 424.6h0M260.9 399.9h0M210.8 378.4h0M214.8 391.2h0M240.4 374.9h0M246.9 417.4h0M213.8 390.7h0M224.8 423.0h0M192.9 378.4h0M208.5 397.2h0M229.1 425.8h0M203.2 381.3h0M251.6 401.6h0M233.6 418.9h0M188.6 381.8h0M228.9 386.9h0M234.5 385.2h0M248.9 423.7h0M212.8 401.6h0M236.6 426.0h0M232.5 407.5h0M247.3 419.3h0M255.8 419.3h0M219.1 395.6h0M207.7 393.9h0M204.1 391.9h0M244.4 395.5h0M228.6 380.3h0M245.6 410.6h0M232.4 387.1h0M203.8 378.3h0M211.7 405.2h0M237.6 428.7h0M257.8 426.2h0M209.4 374.7h0M233.1 378.6h0M197.7 381.6h0M192.7 388.3h0M226.1 391.8h0M253.2 401.6h0M197.2 391.3h0M239.4 422.7h0M250.3 410.2h0M250.6 381.4h0M245.3 379.1h0M261.6 422.5h0M250.9 412.7h0M188.1 382.6h0M239.1 408.8h0M248.5 399.1h0M206.7 399.6h0M253.1 414.0h0M222.0 387.2h0M231.4 425.4h0M189.6 388.3h0M223.5 380.8h0M254.1 424.7h0M190.8 387.2h0M246.4 381.8h0M246.5 414.1h0M228.2 413.3h0M240.1 378.6h0M243.8 395.6h0M252.8 424.5h0M209.8 393.5h0M235.6 408.3h0M235.0 394.4h0M212.2 407.1h0M239.8 399.0h0M221.4 402.5h0M236.2 388.2h0M207.4 401.0h0M254.0 401.3h0M237.2 428.1h0M231.0 400.4h0M242.8 402.9h0M224.2 412.3h0M258.2 396.0h0M250.7 400.7h0M237.5 392.7h0M247.5 410.8h0M193.5 375.7h0M212.3 392.2h0M214.9 402.2h0M253.4 390.3h0M194.0 387.8h0M238.9 409.4h0M243.4 417.3h0M235.9 376.5h0M247.4 406.6h0M215.3 388.8h0M246.0 417.6h0M228.6 391.4h0M235.5 386.0h0M229.3 424.4h0M195.5 378.1h0M228.0 400.5h0M244.7 384.2h0M209.7 374.5h0M234.1 425.7h0M228.4 381.0h0M246.6 402.5h0M244.9 416.0h0M219.7 389.1h0M242.4 422.0h0M246.6 388.5h0M244.0 388.5h0M244.8 417.2h0M260.1 420.9h0M230.2 403.9h0M250.3 388.7h0M240.8 407.4h0M230.1 393.7h0M215.2 403.6h0M251.1 408.5h0M223.5 379.6h0M252.8 418.7h0M226.7 397.1h0M239.7 388.0h0M199.2 391.4h0M254.0 424.8h0M251.0 419.6h0M228.1 415.0h0M256.6 393.7h0M212.5 379.4h0M244.9 424.7h0M248.6 386.3h0M205.4 409.5h0M216.9 409.6h0M223.2 378.3h0M249.7 390.6h0M194.0 391.5h0M250.1 404.4h0M225.6 389.6h0M212.4 387.5h0M257.0 413.9h0M210.0 390.3h0M214.5 409.3h0M192.6 386.2h0M218.4 377.2h0M223.3 378.4h0M245.9 416.9h0M248.5 423.2h0M250.1 423.6h0M218.6 380.9h0M220.9 405.0h0M253.3 401.9h0M246.6 425.0h0M242.6 406.7h0M199.8 382.0h0M189.7 385.5h0M210.6 406.5h0M205.6 403.4h0M235.2 426.2h0M214.8 400.4h0M220.4 378.6h0M242.8 424.1h0M229.7 427.3h0M188.6 386.3h0M202.3 377.4h0M261.0 422.6h0M187.9 382.0h0M227.7 380.0h0M197.9 396.6h0M233.0 421.4h0M198.7 402.0h0M229.0 401.1h0M229.6 400.7h0M226.2 417.6h0M231.0 374.1h0M245.5 382.2h0M215.1 410.5h0M233.7 374.7h0M234.7 400.7h0M236.6 413.4h0M226.6 412.7h0M204.6 385.6h0M217.8 373.1h0M214.8 373.8h0M219.7 409.1h0M224.7 408.0h0M241.8 412.1h0M233.7 385.2h0M254.0 415.3h0M227.6 411.0h0M244.9 412.4h0M261.8 421.9h0M234.4 391.1h0M238.5 410.9h0M234.8 404.6h0M228.1 391.2h0M247.3 380.1h0M228.8 381.8h0M223.4 403.9h0M229.0 409.1h0M225.2 410.4h0M254.3 389.4h0M229.1 406.0h0M217.6 393.5h0M213.1 410.0h0M240.9 386.3h0M210.6 396.3h0M225.0 416.6h0M234.7 386.8h0M229.9 422.1h0M229.5 422.0h0M234.1 407.9h0M213.1 405.8h0M207.1 385.3h0M235.2 416.2h0M235.9 394.1h0M229.7 405.5h0M199.1 398.8h0M246.9 380.1h0M214.0 399.2h0M237.8 405.9h0M208.4 403.5h0M245.0 405.9h0M198.3 382.4h0M231.8 391.1h0M195.8 390.7h0M207.2 400.3h0M242.2 422.6h0M261.0 404.4h0M228.1 429.2h0M245.7 392.5h0M220.2 389.3h0M228.6 405.1h0M231.0 401.8h0M230.5 401.2h0M192.7 382.7h0M225.3 410.8h0M259.3 424.6h0M240.3 423.4h0M216.0 398.5h0M231.0 406.3h0M207.2 380.7h0M252.1 387.7h0M247.9 421.0h0M242.5 425.2h0M202.0 377.2h0M229.9 425.7h0M260.9 422.3h0M199.7 379.1h0M255.5 410.2h0M242.8 425.9h0M293.2 441.2h0M297.0 443.5h0M292.9 447.5h0M290.6 447.6h0M289.2 443.0h0M295.7 442.3h0M293.4 444.2h0M294.6 438.9h0M287.1 438.6h0M286.4 444.1h0M292.5 442.4h0M288.2 445.7h0M288.5 443.3h0M293.6 439.0h0M287.6 447.2h0M287.7 444.8h0M289.6 443.5h0M297.3 445.1h0M293.4 443.1h0M292.5 440.1h0M286.7 440.0h0M296.2 444.1h0M293.9 439.7h0M289.1 446.9h0M285.4 435.1h0M294.9 439.2h0M285.5 436.9h0M288.9 445.9h0M288.0 445.4h0M287.5 442.4h0M291.9 446.1h0M288.9 438.5h0M289.0 449.0h0M287.8 437.3h0M294.7 446.3h0M295.0 440.0h0M288.9 442.6h0M289.0 448.0h0M287.7 444.5h0M287.7 440.3h0M287.5 447.3h0M287.6 438.7h0M288.5 439.5h0M287.4 442.6h0M290.1 446.3h0M249.7 349.3h0M250.7 352.0h0M249.3 351.3h0M252.9 349.7h0M254.3 349.0h0M248.5 349.9h0M256.2 350.2h0M250.6 352.9h0M254.0 351.0h0M254.9 350.4h0M253.9 349.5h0M248.9 348.4h0M249.5 352.9h0M248.6 347.6h0M255.8 350.4h0M249.2 347.7h0M256.7 351.2h0M248.4 354.1h0M251.0 348.9h0M249.3 354.3h0M252.7 351.2h0M255.9 351.7h0M250.2 354.1h0M279.1 412.8h0M269.2 405.1h0M278.9 407.1h0M266.2 406.1h0M282.9 414.0h0M265.1 414.2h0M265.9 408.2h0M260.4 407.9h0M258.2 417.1h0M266.3 417.3h0M258.6 415.3h0M279.8 409.0h0M285.4 412.3h0M268.0 403.9h0M279.1 414.4h0M275.9 407.8h0M259.6 404.5h0M259.3 411.1h0M273.4 409.2h0M259.7 404.5h0M278.0 404.8h0M281.5 416.1h0M284.5 410.3h0M261.0 406.3h0M275.6 406.5h0M280.9 412.8h0" stroke="#7262cc" stroke-width="1.3" stroke-linecap="square"/>
<path d="M285.8 358.1h0M272.1 362.0h0M281.8 361.5h0M286.6 357.1h0M267.2 361.7h0M281.7 360.2h0M279.2 357.9h0M284.5 358.7h0M293.4 362.3h0M293.9 362.5h0M293.9 355.5h0M289.0 359.4h0M296.8 363.2h0M280.6 359.6h0M283.0 361.2h0M288.3 357.6h0M290.7 359.5h0M277.0 361.9h0M294.1 359.7h0M289.0 360.7h0M294.4 358.1h0M293.4 358.6h0M286.8 360.9h0M275.4 361.0h0M293.8 361.8h0M275.3 362.7h0M285.3 360.1h0M277.1 358.8h0M295.9 358.9h0M277.5 359.0h0M293.7 356.7h0M286.2 359.3h0M292.0 362.1h0M285.1 359.4h0M284.2 357.0h0M291.4 357.7h0M302.0 359.7h0M295.5 355.0h0M297.2 355.5h0M278.2 362.2h0M276.0 361.9h0M276.8 362.2h0M294.6 360.5h0M294.3 362.6h0M266.5 362.0h0M289.1 359.5h0M298.0 359.9h0M291.4 360.2h0M283.0 359.3h0M284.9 360.4h0M282.3 358.7h0M297.2 363.4h0M299.5 361.0h0M290.1 357.2h0M278.1 360.4h0M291.9 360.4h0M287.9 361.2h0M293.7 358.3h0M274.7 361.3h0M269.9 362.3h0M272.3 361.8h0M267.9 361.6h0M290.9 356.4h0M294.6 361.0h0M296.8 356.8h0M285.0 360.9h0M277.4 358.2h0M291.6 355.5h0M265.7 362.1h0M276.5 361.3h0M285.1 361.2h0M278.5 358.7h0M289.2 358.9h0M280.0 358.8h0M286.0 360.5h0M296.4 357.5h0M295.5 358.0h0M299.4 356.3h0M298.6 360.9h0M288.6 360.4h0M290.9 357.3h0M293.1 356.2h0M295.7 363.4h0M296.3 362.4h0M295.1 362.5h0M277.2 361.9h0M299.2 359.4h0M286.8 357.9h0M285.7 359.8h0M283.6 360.7h0M275.4 375.4h0M283.9 376.7h0M285.9 376.3h0M283.5 376.4h0M277.2 377.0h0M282.3 376.8h0M286.3 379.8h0M279.6 380.8h0M274.5 378.9h0M276.8 380.3h0M279.8 380.0h0M284.8 379.0h0M273.4 377.5h0M281.4 380.7h0M284.3 378.0h0M275.1 381.3h0M286.0 378.0h0M277.8 377.9h0M278.7 376.3h0M280.7 376.7h0M277.5 378.9h0" stroke="#5e48c0" stroke-width="1" stroke-linecap="square"/>
<path d="M289.5 394.9h0M315.1 394.1h0M318.2 392.6h0M314.7 395.6h0M303.7 383.9h0M298.8 392.1h0M302.7 395.9h0M298.6 389.9h0M316.2 397.0h0M304.8 400.1h0M310.5 391.3h0M308.1 400.4h0M313.3 398.6h0M304.2 388.6h0M295.8 397.9h0M307.4 384.6h0M316.1 385.7h0M298.1 388.9h0M300.1 395.0h0M312.8 387.8h0M315.3 393.6h0M312.4 394.0h0M294.8 399.4h0M295.6 394.7h0M311.2 396.6h0M321.0 384.7h0M314.6 397.9h0M311.0 395.1h0M306.1 380.9h0M305.7 386.2h0M320.1 392.3h0M318.8 391.6h0M295.3 393.4h0M323.3 383.9h0M314.1 388.9h0M321.2 400.9h0M313.1 390.3h0M291.6 392.0h0M317.5 383.4h0M299.8 388.7h0M313.2 385.3h0M321.5 383.2h0M310.7 395.2h0M297.0 397.7h0M321.8 383.2h0M316.1 383.3h0M316.9 397.4h0M315.6 393.0h0M306.6 389.0h0M312.9 396.6h0M306.0 396.8h0M304.0 393.8h0M300.5 393.0h0M314.5 391.0h0M291.1 393.3h0M292.3 398.6h0M297.7 396.3h0M293.4 397.9h0M302.4 399.5h0M315.1 389.3h0M292.2 395.8h0M317.9 384.7h0M294.5 391.6h0M298.1 398.3h0M297.0 398.2h0M304.3 384.5h0M308.6 390.2h0M291.0 393.4h0M301.8 389.7h0M312.5 390.6h0M301.0 395.6h0M310.1 396.6h0M303.9 381.7h0M291.0 392.8h0M319.0 383.1h0M305.3 390.0h0M298.4 398.4h0M297.3 397.0h0M323.3 386.8h0M314.8 384.4h0M312.6 388.6h0M319.2 398.9h0M319.2 391.7h0M301.9 387.1h0M321.1 383.3h0M314.1 393.4h0M298.0 392.8h0M314.9 393.0h0M304.7 380.5h0M308.7 400.2h0M319.3 404.1h0M318.2 390.3h0M301.9 389.1h0M316.7 391.3h0M300.4 398.5h0M317.1 396.8h0M301.3 394.6h0M312.7 385.2h0M307.1 397.3h0M312.2 384.8h0M300.3 387.5h0M309.2 386.4h0M295.4 396.1h0M303.8 393.9h0M307.7 392.2h0M309.1 394.6h0M306.1 395.7h0M300.8 393.9h0M314.2 391.3h0M299.3 398.8h0M311.0 387.3h0M304.9 400.0h0M306.5 392.9h0M300.3 395.1h0M307.1 387.4h0M290.4 396.7h0M312.3 387.0h0M315.4 394.4h0M308.5 395.4h0M290.3 394.9h0M320.5 390.5h0M306.3 390.1h0M307.4 384.1h0M311.8 399.4h0M320.5 394.9h0M305.6 399.9h0M316.1 385.7h0M303.7 400.5h0M323.6 381.9h0M311.2 398.4h0M315.6 384.9h0M319.8 389.1h0M303.0 391.2h0M320.8 401.6h0M323.7 382.5h0M297.0 399.0h0M321.8 391.8h0M297.6 395.6h0M306.4 391.5h0M321.5 394.7h0M299.1 394.2h0M301.5 392.8h0M306.3 388.2h0M307.6 388.5h0M310.0 388.6h0M318.9 399.2h0M320.6 382.2h0M299.0 388.7h0M307.9 398.5h0M321.8 390.1h0M295.0 395.7h0M312.2 394.0h0M298.9 394.5h0M302.7 391.1h0M321.1 391.2h0M302.4 396.3h0M320.6 400.9h0M317.8 398.3h0M315.8 391.8h0M320.7 401.0h0M312.9 399.2h0M302.4 391.5h0M304.0 393.9h0M316.9 383.9h0M305.7 391.0h0M309.8 392.2h0M315.5 386.1h0M311.9 390.8h0M303.0 391.3h0M297.5 390.9h0M307.4 386.4h0M294.9 397.5h0M307.2 381.8h0M308.6 397.3h0M294.3 391.3h0M302.0 395.1h0M319.3 401.5h0M304.4 386.9h0M324.4 385.4h0M306.5 394.1h0M313.6 385.9h0M316.5 400.3h0M318.3 396.2h0M305.7 397.0h0M319.2 398.9h0M318.6 383.5h0M308.8 389.2h0M321.6 381.3h0M322.1 388.0h0M321.7 392.0h0M294.8 392.2h0M296.3 391.7h0M311.2 386.7h0M301.8 392.6h0M308.0 397.7h0M314.0 386.4h0M305.5 386.7h0M316.9 391.8h0M304.8 393.2h0M318.1 382.4h0M290.5 391.9h0M318.6 384.7h0M316.9 384.0h0M321.7 388.4h0M304.7 400.4h0M294.1 395.3h0M310.6 388.8h0M314.3 398.1h0M299.9 397.9h0M311.1 387.8h0M304.5 387.3h0M313.7 389.4h0M307.5 390.3h0M304.5 400.7h0M313.6 397.2h0M305.8 389.3h0M310.5 393.4h0M309.1 385.6h0M301.2 398.1h0M293.5 391.0h0M299.3 393.1h0M298.7 394.4h0M322.5 387.0h0M305.5 391.2h0M307.6 392.4h0M304.1 395.1h0M296.8 398.3h0M296.1 395.2h0M295.9 389.0h0M296.2 399.0h0M311.9 391.0h0M300.8 387.4h0M315.9 392.2h0M315.4 391.4h0M317.8 397.6h0M320.1 383.5h0M306.4 400.7h0M324.6 385.7h0M306.8 388.1h0M319.2 403.6h0M319.0 399.8h0M302.6 381.3h0M310.0 389.2h0M320.4 384.9h0M295.3 390.3h0M324.4 382.3h0M316.1 392.2h0M305.2 399.0h0M295.2 399.0h0M316.9 385.5h0M304.5 388.1h0M304.0 383.3h0M290.8 397.1h0M317.4 383.2h0M294.3 397.9h0M306.5 384.6h0M299.2 389.4h0M305.0 380.3h0M313.4 385.4h0M316.8 391.6h0M322.0 388.1h0M305.8 390.7h0M297.1 393.6h0M311.8 394.5h0M314.6 396.4h0M317.9 400.5h0M297.1 400.0h0M314.3 394.2h0M300.4 393.6h0M316.3 399.5h0M312.6 397.4h0M310.8 384.6h0M312.2 399.8h0M302.8 391.5h0M322.5 384.9h0M317.2 386.1h0M291.9 395.3h0M321.8 383.3h0M293.8 397.2h0M304.1 387.6h0M298.6 394.1h0M308.5 384.3h0M311.4 399.4h0M319.8 383.5h0M299.0 389.9h0M291.9 395.7h0M312.9 394.5h0M314.8 392.2h0M323.5 381.6h0M303.7 388.6h0M324.3 385.4h0M318.9 396.8h0M313.6 385.4h0M292.3 397.6h0M318.8 388.4h0M303.1 395.7h0M310.6 384.8h0M315.1 396.7h0M312.2 389.0h0M322.1 382.2h0M300.7 391.3h0M304.9 390.6h0M305.4 380.9h0M319.8 398.3h0M320.3 394.9h0M296.4 393.0h0M297.6 391.3h0M301.4 393.3h0M313.1 385.0h0M293.4 393.9h0M315.8 399.5h0M304.0 391.9h0M322.5 390.1h0M302.6 386.2h0M308.5 386.0h0M310.2 396.8h0M302.8 385.0h0M317.4 387.1h0M321.8 392.9h0M297.6 398.5h0M304.6 382.8h0M307.0 392.1h0M302.6 382.0h0M302.3 395.8h0M319.3 396.8h0M303.3 398.4h0M314.6 384.0h0M304.3 388.6h0M302.2 386.6h0M281.7 388.4h0M293.2 382.0h0M288.0 382.2h0M287.5 383.4h0M293.7 392.8h0M292.6 391.4h0M286.9 383.1h0M285.7 385.6h0M285.0 387.9h0M288.5 384.2h0M284.8 385.1h0M284.6 387.1h0M281.9 388.7h0M285.7 386.5h0M292.9 382.8h0M281.9 387.0h0M291.8 391.4h0M290.5 384.7h0M294.4 384.2h0M282.0 382.6h0M291.7 387.8h0M284.4 383.0h0M290.0 391.9h0M291.5 390.2h0M281.2 389.2h0M283.7 383.2h0M282.5 383.0h0M282.5 392.0h0M289.7 381.4h0M284.0 384.5h0" stroke="#5246bc" stroke-width="1.2" stroke-linecap="square"/>
<path d="M301.6 378.4 L304.7 378.6 L312.4 391.9 L311.4 399.9 L305.4 400.9 L307.9 392.7Z" fill="#4a3eb4" opacity="0.8"/>
<path d="M198.8 345.4 V357.9 M198.8 345.4 H211.3" stroke="#000" stroke-width="1.1" fill="none"/><path d="M196.20000000000002 356.9 L198.8 361.4 L201.4 356.9Z M210.3 342.79999999999995 L214.8 345.4 L210.3 348.0Z" fill="#000"/>
<text x="195.5" y="337.4" font-size="9.5" text-anchor="start" fill="#111" stroke="#111" stroke-width="0.25" textLength="89.4" lengthAdjust="spacingAndGlyphs" >miR-135b expression</text>
<path d="M355.4 382.5 L357.4 378.4 L363.4 375.7 L376.9 374.4 L393.0 374.4 L407.8 374.4 L418.5 377.8 L423.9 382.5 L423.2 389.2 L429.3 397.2 L431.3 402.6 L429.3 406.6 L423.9 409.3 L425.2 416.0 L431.3 424.1 L429.3 428.1 L417.2 428.1 L406.4 430.8 L394.3 430.8 L391.6 424.1 L392.3 416.0 L383.6 414.0 L370.2 410.7 L362.1 401.3 L357.4 393.2 L355.4 386.5Z" fill="#b7a3df"/><path d="M356.0 381.8h0M355.0 383.5h0M356.9 382.1h0M357.0 380.1h0M357.2 380.6h0M359.3 378.7h0M358.3 378.9h0M359.8 377.5h0M359.4 376.6h0M362.2 376.5h0M361.4 376.1h0M361.4 376.5h0M363.4 376.1h0M365.6 375.4h0M365.3 374.9h0M366.9 375.8h0M368.0 376.8h0M366.7 376.7h0M367.7 374.2h0M367.9 376.5h0M370.1 375.5h0M370.9 376.4h0M371.3 374.8h0M372.3 374.5h0M375.4 374.9h0M375.4 375.3h0M375.5 373.4h0M375.9 373.9h0M378.9 374.4h0M378.3 374.5h0M379.1 375.2h0M381.4 373.7h0M383.1 373.3h0M383.0 374.1h0M384.3 375.2h0M384.5 374.6h0M384.1 373.0h0M386.4 374.7h0M386.8 374.9h0M389.2 372.8h0M389.5 376.1h0M390.1 374.4h0M391.1 374.8h0M389.8 374.8h0M392.7 375.0h0M393.4 374.3h0M395.1 375.3h0M395.6 374.7h0M395.8 374.3h0M398.0 376.1h0M397.8 374.5h0M399.0 374.9h0M399.7 375.1h0M400.4 375.9h0M402.3 374.2h0M403.3 374.6h0M404.4 375.3h0M405.1 373.8h0M404.7 373.9h0M406.0 375.2h0M406.8 374.0h0M408.9 376.0h0M408.2 374.9h0M411.3 373.8h0M412.0 373.6h0M412.2 375.0h0M412.8 376.4h0M415.4 375.6h0M416.4 378.2h0M414.5 377.0h0M417.2 378.6h0M418.3 377.2h0M418.1 378.5h0M418.6 378.7h0M420.1 378.4h0M422.9 380.0h0M423.5 381.5h0M423.3 380.6h0M422.6 381.9h0M423.8 381.4h0M425.8 385.6h0M424.2 384.6h0M423.4 384.4h0M423.9 386.3h0M423.9 388.2h0M425.2 388.2h0M423.4 389.0h0M424.1 389.0h0M425.8 391.1h0M423.7 391.4h0M426.5 392.7h0M425.4 393.4h0M426.8 393.0h0M427.4 393.3h0M427.3 393.9h0M429.0 396.7h0M428.4 396.6h0M430.6 395.8h0M429.6 398.6h0M430.5 398.6h0M428.5 399.3h0M431.5 400.2h0M431.1 401.5h0M432.1 402.0h0M431.1 403.8h0M429.3 404.9h0M430.7 405.9h0M428.7 406.0h0M427.2 406.0h0M425.6 407.8h0M426.6 407.9h0M427.9 408.4h0M425.5 407.7h0M423.6 408.7h0M424.2 409.3h0M423.6 410.6h0M424.7 411.0h0M424.8 413.5h0M424.9 415.1h0M425.1 415.2h0M425.4 416.8h0M426.1 416.8h0M426.9 416.8h0M427.6 417.1h0M428.6 418.4h0M427.7 419.4h0M429.0 418.7h0M428.7 421.7h0M429.9 420.8h0M431.3 424.3h0M430.0 423.0h0M430.2 423.5h0M430.6 427.0h0M429.1 427.7h0M429.8 426.7h0M428.8 428.6h0M428.0 427.9h0M427.3 428.1h0M426.7 427.8h0M424.8 428.7h0M424.7 428.1h0M421.9 428.0h0M422.1 427.1h0M421.4 427.2h0M419.1 427.0h0M420.8 427.9h0M418.3 428.0h0M416.3 429.3h0M418.1 427.9h0M416.6 427.7h0M414.9 428.3h0M414.0 429.2h0M412.5 429.4h0M411.8 429.3h0M412.9 431.0h0M409.6 430.2h0M411.3 429.9h0M410.3 429.4h0M408.2 432.3h0M407.9 431.4h0M406.2 430.6h0M406.3 430.8h0M406.0 430.1h0M402.8 431.2h0M401.3 431.3h0M403.0 432.4h0M399.7 430.4h0M400.6 430.4h0M399.3 429.3h0M397.9 431.3h0M396.5 431.2h0M396.2 430.5h0M394.4 430.6h0M394.6 430.6h0M394.5 430.4h0M392.6 429.2h0M394.2 428.8h0M392.7 426.2h0M392.7 426.8h0M393.3 425.7h0M391.9 425.2h0M392.8 425.0h0M393.4 422.8h0M392.7 422.5h0M393.2 421.0h0M392.6 421.1h0M391.2 419.6h0M391.9 418.3h0M391.5 416.6h0M392.6 417.0h0M392.4 415.9h0M391.6 415.2h0M389.5 415.9h0M389.7 415.8h0M388.8 414.0h0M386.4 414.3h0M388.1 415.2h0M384.5 415.3h0M385.2 413.8h0M384.2 414.2h0M382.7 414.0h0M382.9 414.2h0M379.4 412.8h0M381.2 415.1h0M378.2 413.9h0M376.9 413.8h0M377.1 413.5h0M377.0 411.6h0M374.7 410.9h0M373.1 408.9h0M372.8 411.7h0M372.6 411.8h0M371.6 411.7h0M371.5 410.6h0M369.1 409.0h0M370.2 409.9h0M367.3 408.5h0M368.0 409.9h0M368.6 407.6h0M367.7 405.7h0M366.1 406.0h0M364.6 406.7h0M364.9 406.1h0M363.2 405.0h0M364.7 402.5h0M363.6 403.0h0M363.3 401.6h0M361.3 400.4h0M361.8 399.9h0M361.1 397.5h0M360.4 397.3h0M360.4 399.2h0M360.0 397.0h0M360.1 394.6h0M358.3 396.6h0M357.9 393.1h0M357.0 394.5h0M357.9 393.4h0M358.0 392.4h0M357.1 392.2h0M354.9 392.8h0M356.6 391.4h0M356.2 389.6h0M356.2 387.9h0M355.5 386.4h0M356.8 386.3h0M356.9 383.2h0M353.8 384.0h0" stroke="#b7a3df" stroke-width="1.1" stroke-linecap="square"/><path d="M413.4 350.7 L415.8 348.3 L423.2 349.4 L425.5 351.4 L424.6 354.8 L415.8 355.9 L413.8 354.1Z" fill="#a994d9"/><path d="M414.9 349.7h0M413.3 349.1h0M414.9 350.1h0M415.7 348.6h0M415.3 346.8h0M417.9 348.9h0M418.0 348.9h0M419.7 349.4h0M419.9 349.0h0M423.0 348.4h0M421.9 348.8h0M423.9 348.6h0M422.8 349.4h0M423.5 351.0h0M427.2 352.0h0M425.7 353.0h0M424.6 352.3h0M423.7 355.6h0M422.4 356.5h0M421.6 354.7h0M420.9 354.1h0M420.3 355.1h0M419.5 355.8h0M418.9 356.7h0M417.4 354.8h0M416.2 355.7h0M416.8 356.1h0M414.5 355.2h0M412.7 353.7h0M413.1 352.0h0M414.1 351.1h0" stroke="#a994d9" stroke-width="1.1" stroke-linecap="square"/><path d="M432.8 363.5 L439.6 361.8 L444.0 359.6 L451.9 358.4 L458.6 356.8 L463.1 356.0 L468.7 357.9 L470.9 361.8 L467.5 363.5 L466.4 366.3 L462.0 364.0 L454.1 362.9 L447.4 364.6 L440.7 364.0Z" fill="#9f88d4"/><path d="M432.2 362.5h0M434.0 362.3h0M436.6 362.1h0M436.5 363.3h0M437.5 362.7h0M436.8 364.2h0M438.8 361.1h0M440.8 361.8h0M439.9 362.0h0M441.4 361.5h0M442.2 361.4h0M443.5 359.7h0M444.0 360.6h0M445.0 358.8h0M446.1 359.8h0M447.4 358.0h0M447.0 358.8h0M449.7 359.1h0M451.3 360.1h0M451.6 358.7h0M451.8 357.7h0M453.1 357.2h0M454.6 356.5h0M455.9 357.6h0M455.1 357.6h0M456.8 357.3h0M456.5 354.5h0M459.5 356.8h0M460.2 354.5h0M460.1 355.6h0M461.4 357.2h0M461.2 356.6h0M463.6 354.2h0M464.0 356.3h0M464.7 357.1h0M467.0 357.6h0M467.9 358.1h0M467.7 357.0h0M467.6 356.2h0M468.7 359.2h0M469.7 359.8h0M471.1 361.7h0M470.7 361.7h0M468.7 363.2h0M469.0 360.3h0M468.4 362.9h0M468.2 363.5h0M467.6 363.9h0M467.5 364.4h0M466.3 366.5h0M465.2 366.6h0M465.0 365.6h0M463.9 365.3h0M463.4 363.6h0M462.0 363.8h0M460.7 363.9h0M460.0 362.6h0M458.8 364.5h0M458.6 361.8h0M456.5 363.6h0M454.9 363.3h0M456.4 363.4h0M453.3 363.2h0M451.6 363.0h0M450.4 362.9h0M449.5 363.0h0M449.9 364.8h0M449.6 365.7h0M449.5 364.4h0M448.0 363.7h0M446.5 364.1h0M444.6 365.3h0M443.9 364.7h0M443.3 365.1h0M443.0 362.8h0M442.0 366.5h0M441.3 365.0h0M440.2 365.3h0M438.2 363.3h0M437.4 362.6h0M435.9 364.8h0M435.2 363.1h0M435.9 364.1h0M433.4 363.0h0" stroke="#9f88d4" stroke-width="1.1" stroke-linecap="square"/><path d="M439.6 379.0 L442.4 376.7 L447.0 375.6 L453.7 377.0 L457.9 379.7 L455.4 381.7 L450.4 382.3 L442.9 382.9 L440.2 381.3Z" fill="#a792d8"/><path d="M439.4 379.1h0M441.2 378.8h0M440.2 377.7h0M440.5 376.8h0M443.9 375.5h0M442.9 377.2h0M444.4 376.0h0M444.5 375.3h0M446.7 375.7h0M447.3 376.2h0M446.7 374.3h0M449.3 376.9h0M449.9 376.9h0M449.5 376.1h0M451.3 376.1h0M453.2 374.4h0M453.2 377.9h0M454.2 376.5h0M455.6 376.9h0M457.0 377.9h0M458.3 379.5h0M456.8 379.6h0M456.9 380.9h0M455.0 381.8h0M454.5 380.1h0M454.2 381.1h0M453.4 383.3h0M452.3 383.5h0M453.2 383.9h0M450.6 383.5h0M450.6 383.5h0M448.5 383.6h0M448.5 382.8h0M445.9 383.2h0M446.1 381.4h0M443.8 383.8h0M443.6 383.5h0M442.6 381.7h0M441.4 380.3h0M441.6 380.6h0M442.1 380.6h0M440.1 379.2h0" stroke="#a792d8" stroke-width="1.1" stroke-linecap="square"/><path d="M456.3 395.8 L459.4 392.3 L465.4 389.8 L469.9 387.8 L470.5 380.7 L472.4 379.8 L477.2 384.8 L480.4 386.3 L485.2 384.1 L490.4 382.3 L493.3 382.5 L494.6 385.4 L491.2 388.8 L490.6 396.9 L488.9 404.3 L487.9 408.8 L485.9 402.8 L482.5 400.8 L474.5 402.8 L463.7 401.8 L458.4 399.3Z" fill="#a28cd6"/><path d="M455.0 395.7h0M456.3 397.2h0M457.3 392.3h0M458.2 392.9h0M458.3 392.3h0M458.5 390.8h0M460.4 391.9h0M461.0 391.3h0M463.4 390.6h0M462.4 392.3h0M464.0 390.0h0M463.8 389.7h0M465.1 389.7h0M467.6 388.2h0M467.3 389.6h0M468.7 388.4h0M468.3 388.5h0M470.5 387.7h0M469.6 388.0h0M469.8 385.7h0M471.4 384.8h0M470.2 383.5h0M471.7 382.7h0M471.7 382.4h0M470.6 381.6h0M470.9 382.0h0M471.7 380.1h0M473.9 380.8h0M474.9 382.5h0M473.5 381.7h0M475.6 382.8h0M475.6 383.8h0M475.8 383.6h0M478.3 385.1h0M479.6 383.4h0M478.3 384.6h0M480.6 387.7h0M480.1 385.8h0M483.5 384.5h0M485.3 383.9h0M483.5 382.9h0M485.7 382.6h0M486.1 383.8h0M486.4 383.1h0M487.4 383.5h0M488.0 382.1h0M488.5 383.5h0M491.6 382.8h0M489.9 382.4h0M492.8 383.3h0M493.3 381.7h0M495.6 383.5h0M493.5 384.8h0M495.6 385.1h0M494.4 386.3h0M493.1 386.5h0M492.8 384.8h0M491.8 387.0h0M490.2 389.1h0M490.8 389.4h0M491.0 388.8h0M489.5 392.8h0M490.0 392.0h0M491.3 393.0h0M490.7 392.4h0M489.6 395.3h0M490.8 396.9h0M491.2 396.4h0M490.4 397.2h0M490.7 398.1h0M490.3 400.0h0M491.0 399.8h0M489.5 400.2h0M490.2 402.2h0M488.5 402.4h0M488.2 404.0h0M488.4 406.4h0M488.2 406.1h0M486.5 406.4h0M489.9 409.4h0M485.9 410.2h0M487.4 406.7h0M487.8 407.8h0M487.7 406.6h0M488.1 405.3h0M487.0 406.8h0M486.3 402.3h0M487.2 402.9h0M484.0 403.8h0M485.2 401.7h0M483.6 399.7h0M482.6 398.8h0M480.5 402.4h0M480.9 399.6h0M479.2 402.2h0M478.7 401.7h0M477.8 400.8h0M478.3 400.5h0M476.0 401.1h0M475.1 402.5h0M474.3 402.9h0M474.2 400.9h0M472.7 403.7h0M473.2 403.3h0M469.6 401.8h0M470.7 403.4h0M468.7 402.0h0M468.8 403.2h0M466.8 401.2h0M464.8 401.4h0M464.0 401.2h0M465.6 402.2h0M463.2 402.6h0M461.5 401.8h0M461.4 401.3h0M462.1 399.5h0M460.7 400.0h0M459.0 398.2h0M458.3 399.1h0M457.9 398.2h0M456.3 398.8h0M456.6 397.7h0" stroke="#a28cd6" stroke-width="1.1" stroke-linecap="square"/><path d="M438.9 411.6 L443.6 409.6 L449.0 413.0 L446.3 415.0 L439.6 413.7Z" fill="#b7a3df"/><path d="M438.6 410.8h0M440.9 412.2h0M440.4 410.9h0M442.1 409.1h0M442.1 408.1h0M444.4 407.8h0M444.1 408.8h0M445.0 410.3h0M445.4 411.4h0M446.3 412.2h0M447.6 411.0h0M447.9 412.5h0M449.6 414.0h0M447.8 413.9h0M447.1 414.5h0M445.3 414.4h0M446.0 415.9h0M444.6 414.3h0M443.8 413.8h0M443.9 413.0h0M441.7 415.1h0M440.2 413.0h0M439.1 413.8h0M440.2 412.6h0" stroke="#b7a3df" stroke-width="1.1" stroke-linecap="square"/><path d="M450.3 433.1 L455.0 437.8 L458.4 441.2 L463.1 439.9 L463.7 443.2 L467.1 445.2 L463.7 447.9 L457.0 450.6 L453.0 446.6 L454.3 441.2 L453.0 437.2Z" fill="#b09ada"/><path d="M450.7 433.7h0M451.2 434.3h0M452.1 435.0h0M451.6 434.5h0M452.3 437.4h0M453.5 436.0h0M455.3 437.5h0M454.6 438.8h0M454.8 437.5h0M455.6 440.3h0M457.0 440.8h0M456.7 438.9h0M458.6 440.9h0M457.6 441.1h0M462.0 440.9h0M460.0 439.8h0M461.4 438.4h0M462.2 438.9h0M462.8 440.5h0M463.6 442.5h0M464.0 443.2h0M463.7 443.8h0M465.5 447.2h0M465.9 444.9h0M467.7 445.8h0M464.4 445.6h0M464.0 447.3h0M463.2 445.5h0M462.8 449.5h0M463.7 449.1h0M461.4 448.8h0M460.3 448.7h0M461.3 450.2h0M459.4 448.8h0M458.2 448.4h0M456.3 449.8h0M457.3 451.6h0M457.8 449.8h0M456.2 447.5h0M455.5 450.7h0M454.9 449.3h0M454.4 448.0h0M454.0 445.5h0M452.8 446.9h0M452.8 445.9h0M453.0 443.6h0M453.2 443.9h0M454.4 440.2h0M453.2 440.2h0M454.4 440.5h0M452.0 439.6h0M454.4 438.3h0M453.5 440.5h0M452.4 436.0h0M452.4 435.5h0M450.3 434.4h0M449.8 435.4h0" stroke="#b09ada" stroke-width="1.1" stroke-linecap="square"/><path d="M408.4 403.4h0M405.4 385.8h0M407.8 393.8h0M413.2 389.1h0M414.3 388.6h0M404.4 395.6h0M406.9 396.7h0M410.2 392.3h0M403.0 397.3h0M417.6 390.6h0M412.4 386.2h0M408.2 385.9h0M414.0 393.8h0M421.5 393.0h0M420.9 386.4h0M419.6 387.5h0M412.0 397.4h0M406.9 401.5h0M404.4 391.8h0M417.8 387.9h0M403.0 394.1h0M424.4 392.4h0M403.0 405.0h0M411.5 397.7h0M414.4 392.5h0M411.8 389.2h0M402.9 407.9h0M419.9 388.1h0M405.5 390.1h0M423.4 391.5h0M404.6 402.6h0M411.0 398.7h0M411.4 386.3h0M415.0 387.8h0M409.3 394.4h0M410.4 402.2h0M408.3 396.9h0M410.5 397.4h0M417.6 393.1h0M402.4 404.4h0M405.7 387.6h0M413.1 387.3h0M407.2 397.2h0M407.8 397.0h0M408.2 385.7h0M408.6 406.7h0M416.2 386.9h0M406.1 399.1h0M408.3 404.0h0M405.4 394.4h0M411.5 389.2h0M403.0 407.1h0M407.2 404.7h0M417.7 392.2h0M413.3 387.3h0M415.4 393.5h0M417.0 390.9h0M417.5 390.6h0M406.3 406.7h0M418.2 387.9h0M406.0 388.2h0M410.2 393.7h0M407.4 387.9h0M405.0 394.9h0M423.8 390.7h0M406.0 406.4h0M410.2 394.9h0M406.9 387.7h0M410.8 402.4h0M413.6 392.9h0M404.5 403.4h0M417.5 385.7h0M412.6 395.3h0M413.1 396.5h0M409.4 391.7h0M408.9 410.8h0M402.9 428.5h0M415.0 415.0h0M403.1 423.7h0M395.3 413.9h0M402.4 422.3h0M422.6 414.1h0M397.5 414.1h0M406.6 411.4h0M422.9 414.9h0M396.2 412.6h0M414.1 410.4h0M405.3 413.4h0M397.7 417.7h0M415.0 417.1h0M410.5 418.9h0M400.0 411.5h0M399.7 411.7h0M393.5 412.5h0M422.9 415.5h0M411.1 412.7h0M416.1 416.2h0M415.2 413.5h0M402.7 412.9h0M401.4 422.0h0M406.5 412.6h0M405.0 426.5h0M404.8 411.0h0M397.9 414.0h0M400.5 412.1h0M423.8 412.6h0M406.2 425.3h0M414.3 409.8h0M411.7 411.5h0M418.1 411.6h0M396.5 416.4h0M417.8 414.4h0M406.4 425.2h0M399.7 416.8h0M408.0 412.5h0M418.8 413.3h0M407.6 417.0h0M402.4 415.8h0M405.0 416.5h0M414.0 410.7h0M398.4 412.7h0M418.5 412.7h0M401.7 413.6h0M404.0 418.6h0M403.6 415.1h0M406.1 409.7h0M417.7 415.8h0M405.8 423.3h0M412.2 419.0h0M406.0 423.3h0M399.8 410.5h0M413.2 417.3h0M422.8 412.7h0M413.5 410.4h0M414.2 411.8h0M413.0 415.7h0M411.3 412.7h0M406.7 426.6h0M405.0 411.9h0M410.4 415.9h0" stroke="#fff" stroke-width="1.35" stroke-linecap="square"/><path d="M381.5 404.2h0M368.3 393.6h0M397.6 385.1h0M405.4 375.9h0M362.5 395.7h0M408.1 397.5h0M415.9 424.1h0M390.6 400.7h0M401.1 399.4h0M413.6 408.2h0M415.4 386.6h0M375.2 389.0h0M410.9 429.2h0M391.2 410.8h0M410.4 383.1h0M397.1 412.0h0M398.2 417.0h0M399.2 398.8h0M377.2 411.4h0M409.0 418.6h0M408.2 430.1h0M414.2 383.4h0M407.6 405.5h0M376.2 387.0h0M400.9 416.1h0M378.8 408.6h0M388.6 410.5h0M412.5 418.2h0M378.0 374.8h0M416.9 427.9h0M411.9 421.3h0M368.9 381.0h0M403.7 385.6h0M371.6 388.0h0M387.4 378.4h0M369.6 396.7h0M412.3 392.7h0M409.3 423.7h0M411.1 407.0h0M428.0 404.1h0M399.1 406.9h0M387.2 413.7h0M374.8 376.1h0M366.8 381.5h0M358.8 381.9h0" stroke="#fff" stroke-width="0.9" stroke-linecap="square"/><path d="M449.7 389.8h0M461.2 383.4h0M456.0 383.6h0M455.5 384.8h0M461.7 394.2h0M460.6 392.8h0M454.9 384.5h0M453.7 387.0h0M453.0 389.3h0M456.5 385.6h0M452.8 386.5h0M452.6 388.5h0M449.9 390.1h0M453.7 387.9h0M460.9 384.2h0M449.9 388.4h0M459.8 392.8h0M458.5 386.1h0M462.4 385.6h0M450.0 384.0h0M459.7 389.2h0M452.4 384.4h0M458.0 393.3h0M459.5 391.6h0M449.2 390.6h0M451.7 384.6h0M450.5 384.4h0M450.5 393.4h0M457.7 382.8h0M452.0 385.9h0" stroke="#b7a3df" stroke-width="1" stroke-linecap="square"/><path d="M447.1 414.2h0M437.2 406.5h0M446.9 408.5h0M434.2 407.5h0M450.9 415.4h0M433.1 415.6h0M433.9 409.6h0M428.4 409.3h0M426.2 418.5h0M434.3 418.7h0M426.6 416.7h0M447.8 410.4h0M453.4 413.7h0M436.0 405.3h0M447.1 415.8h0M443.9 409.2h0M427.6 405.9h0M427.3 412.5h0M441.4 410.6h0M427.7 405.9h0M446.0 406.2h0M449.5 417.5h0M452.5 411.7h0M429.0 407.7h0M443.6 407.9h0M448.9 414.2h0" stroke="#b7a3df" stroke-width="1" stroke-linecap="square"/>
<path d="M468.4 386.3 L473.4 384.3 L479.4 390.3 L483.4 396.3 L477.4 398.3 L471.4 394.3Z" fill="#9680d0"/>
<path d="M469.6 379.8 L472.7 380.0 L480.4 393.3 L475.9 394.1Z" fill="#634fbc"/>
<path d="M391.9 416.3 L397.4 416.3 L399.4 424.3 L397.4 430.3 L393.4 430.3 L391.9 424.3Z" fill="#cdc4e0"/>
<path d="M389.2 390.7h0M406.9 389.0h0M403.4 397.0h0M394.4 428.2h0M385.6 386.4h0M389.3 376.9h0M404.5 380.5h0M375.4 397.7h0M378.5 379.2h0M375.0 377.9h0M401.2 425.2h0M406.3 392.3h0M407.6 412.8h0M426.2 406.3h0M391.1 404.9h0M404.6 420.6h0M388.6 375.4h0M368.0 383.9h0M413.7 396.5h0M389.5 394.3h0M382.8 383.7h0M368.8 406.8h0M417.1 422.3h0M414.0 384.4h0M383.3 407.7h0M403.8 385.2h0M385.4 403.7h0M358.5 390.2h0M389.3 413.0h0M426.5 418.3h0M424.9 407.6h0M415.9 393.1h0M406.2 421.5h0M387.8 383.1h0M389.9 389.9h0M418.7 401.0h0M422.3 421.7h0M373.0 401.4h0M397.8 378.9h0M413.3 427.1h0M371.8 395.6h0M408.0 420.2h0M406.5 400.4h0M415.9 408.9h0M380.9 390.3h0M388.3 378.9h0M396.8 392.5h0M416.3 378.2h0M389.2 404.2h0M362.0 391.8h0M415.3 418.9h0M410.8 393.2h0M417.3 379.5h0M422.9 423.3h0M377.7 405.0h0M407.1 412.1h0M422.8 395.5h0M418.9 407.5h0M371.2 408.8h0M423.6 411.7h0M374.2 376.1h0M384.7 381.6h0M391.5 375.0h0M359.5 395.5h0M399.2 401.4h0M405.9 416.5h0M406.9 390.5h0M392.7 378.1h0M372.0 385.7h0M410.0 398.3h0M409.1 418.6h0M356.5 381.8h0M424.9 396.8h0M391.1 406.1h0M357.1 383.0h0M374.9 408.8h0M378.1 408.3h0M389.0 385.8h0M394.3 401.7h0M386.7 403.6h0M367.4 398.1h0M404.7 417.9h0M395.4 417.7h0M412.9 416.8h0M371.0 388.1h0M367.9 381.6h0M399.4 392.3h0M414.0 384.6h0M370.6 388.1h0M401.1 430.6h0M394.9 421.1h0M392.5 401.1h0M384.0 393.2h0M405.7 430.1h0M373.9 377.9h0M367.1 385.7h0M371.6 397.8h0M382.8 392.6h0M394.6 428.7h0M391.0 383.2h0M412.7 390.2h0M416.9 425.1h0M400.5 408.9h0M393.4 426.0h0M393.7 408.8h0M387.1 397.0h0M360.0 394.8h0M372.1 393.3h0M426.3 402.7h0M365.5 386.2h0M418.1 406.2h0M370.6 384.4h0M410.5 427.7h0M413.2 390.4h0M409.5 381.0h0M404.5 404.5h0M404.6 423.7h0M408.1 411.4h0M407.6 402.7h0M423.4 391.3h0M429.6 423.9h0M414.0 378.4h0M375.4 403.5h0M395.0 421.9h0M370.9 376.6h0M398.1 392.3h0M399.4 426.8h0M357.6 389.7h0M392.5 423.7h0M357.2 386.5h0M356.9 380.1h0M421.1 402.4h0M391.5 382.2h0M389.3 409.3h0M400.6 426.4h0M388.4 400.2h0M403.6 409.7h0M403.0 395.8h0M380.2 408.5h0M384.0 383.0h0M396.4 380.5h0M406.7 424.4h0M392.6 392.2h0M382.9 390.4h0M404.9 409.1h0M379.8 409.6h0M418.7 402.1h0M369.0 382.9h0M389.0 414.6h0M409.7 402.8h0M382.9 403.6h0M373.4 397.3h0M397.7 390.4h0M411.4 418.7h0M403.9 377.9h0M415.5 393.2h0M387.7 389.7h0M389.7 380.8h0M386.0 377.6h0M403.4 423.5h0M427.9 401.1h0M365.3 389.0h0M393.3 404.3h0M414.6 403.9h0M414.2 386.4h0M399.7 416.3h0M402.2 390.4h0M422.2 422.4h0M428.1 422.3h0M377.1 407.9h0M396.2 375.2h0M398.5 408.0h0M396.2 407.2h0M410.7 401.4h0M414.4 427.3h0M401.0 416.5h0M399.0 415.0h0M365.6 382.9h0M365.4 381.9h0M405.5 377.1h0M395.9 412.5h0M407.8 374.8h0M430.2 424.8h0M394.7 401.5h0M367.2 392.8h0M413.4 427.5h0M379.5 402.7h0M368.4 393.7h0M397.0 415.9h0M417.7 417.3h0M414.5 404.0h0M415.2 421.0h0M379.8 400.3h0M364.0 401.6h0M400.1 402.0h0M372.2 378.8h0M420.1 403.0h0M380.4 388.9h0M411.3 413.0h0M403.7 401.0h0M425.0 415.3h0M374.1 377.8h0M430.0 403.0h0M383.7 375.5h0M378.0 391.7h0M398.6 421.5h0M389.6 397.4h0M412.5 401.8h0M382.5 410.7h0M360.6 387.6h0M383.2 403.4h0M372.2 380.4h0M420.7 422.9h0M388.4 380.5h0M416.5 424.6h0M407.0 408.0h0M410.9 380.2h0M358.2 382.3h0M392.5 425.0h0M413.9 406.9h0M388.9 406.4h0M414.6 426.4h0M396.9 407.1h0M356.6 382.4h0M378.6 407.9h0M376.3 410.0h0M389.7 381.0h0M377.3 384.8h0M374.6 408.6h0M413.7 406.3h0M382.9 389.4h0M429.0 424.0h0M406.7 409.3h0M366.7 403.4h0M397.0 402.5h0M417.0 402.1h0M397.4 405.0h0M396.1 412.5h0M384.0 409.9h0M403.4 386.1h0M399.0 375.5h0M383.1 411.9h0M417.2 381.9h0M393.8 423.0h0M401.7 376.1h0M404.2 391.5h0M384.5 396.7h0M411.7 377.4h0M379.0 384.0h0M387.7 410.5h0M387.9 398.4h0M426.7 397.2h0M398.1 402.4h0M403.4 394.5h0M418.1 388.6h0M420.8 416.5h0M371.8 383.3h0M366.0 389.6h0M429.8 423.3h0M394.1 410.4h0M402.4 392.5h0M406.5 412.3h0M402.8 406.0h0M408.9 394.5h0M373.3 407.3h0M416.9 417.6h0M415.3 381.5h0M413.9 415.8h0M397.0 410.5h0M397.1 407.4h0M381.1 411.4h0M408.9 387.7h0M383.8 381.6h0M392.3 385.2h0M388.3 387.6h0M416.7 388.1h0M391.2 376.9h0M367.1 400.2h0M364.8 388.3h0M377.7 381.7h0M395.2 391.4h0M376.0 396.7h0M399.8 392.5h0M423.1 396.1h0M392.5 415.6h0M415.8 409.4h0M414.7 387.1h0M372.2 397.1h0M386.1 407.1h0M421.4 394.5h0M423.8 414.8h0M406.2 389.3h0M360.7 384.1h0M406.2 428.1h0M418.1 414.0h0M428.3 421.6h0M399.0 407.7h0M396.0 395.8h0M407.1 403.7h0M415.9 422.4h0M378.8 385.0h0M413.3 416.3h0M415.6 422.5h0" stroke="#c4b6e6" stroke-width="1" stroke-linecap="square"/>
<path d="M457.5 396.3h0M483.1 395.5h0M487.4 400.4h0M479.0 395.5h0M471.7 385.3h0M470.7 397.3h0M485.4 392.6h0M480.6 388.0h0M481.3 400.0h0M483.9 385.9h0M484.1 387.1h0M483.3 395.0h0M480.4 395.4h0M488.9 395.1h0M462.8 400.8h0M487.5 397.1h0M474.1 382.3h0M488.1 393.7h0M489.2 402.3h0M477.9 395.0h0M459.6 393.4h0M485.5 384.8h0M467.8 390.1h0M478.7 396.6h0M489.8 384.6h0M484.9 398.8h0M483.6 394.4h0M474.6 390.4h0M472.0 395.2h0M489.5 401.7h0M468.5 394.4h0M482.5 392.4h0M459.1 394.7h0M478.0 389.1h0M469.7 401.8h0M461.4 399.3h0M483.1 390.7h0M469.8 400.7h0M489.4 401.8h0M485.9 386.1h0M462.5 393.0h0M472.3 385.9h0M476.6 391.6h0M459.0 394.8h0M469.8 391.1h0M469.0 397.0h0M478.1 398.0h0M459.0 394.2h0M465.3 398.4h0M463.0 401.0h0M491.3 388.2h0M480.7 388.5h0M482.8 385.8h0M487.2 400.3h0M489.1 384.7h0M482.1 394.8h0M466.0 394.2h0M482.9 394.4h0M472.7 381.9h0M476.7 401.6h0M487.3 405.5h0M486.2 391.7h0M468.4 399.9h0M480.2 386.2h0M468.3 388.9h0M477.2 387.8h0M463.4 397.5h0M471.8 395.3h0M468.8 395.3h0M472.9 401.4h0M470.0 393.3h0M475.1 388.8h0M458.4 398.1h0M480.3 388.4h0M476.5 396.8h0M466.4 401.3h0M479.8 400.8h0M473.6 401.3h0M484.1 387.1h0M479.2 399.8h0M491.7 383.9h0M489.8 393.2h0M465.6 397.0h0M486.9 403.1h0M467.1 395.6h0M488.6 383.6h0M475.9 399.9h0M480.2 395.4h0M466.9 395.9h0M470.7 392.5h0M470.4 397.7h0M488.6 402.3h0M483.8 393.2h0M488.7 402.4h0M470.4 392.9h0M484.9 385.3h0M473.7 392.4h0M477.8 393.6h0M483.5 387.5h0M462.9 398.9h0M462.3 392.7h0M480.0 390.7h0M488.3 404.7h0M487.3 402.9h0M472.4 388.3h0M492.4 386.8h0M481.6 387.3h0M484.5 401.7h0M486.3 397.6h0M486.6 384.9h0M490.8 390.4h0M476.8 390.6h0M489.6 382.7h0M462.8 393.6h0M475.4 401.2h0M476.0 399.1h0M482.0 387.8h0M473.5 388.1h0M470.6 399.5h0M484.9 393.2h0M472.8 394.6h0M458.5 393.3h0M486.6 386.1h0M484.9 385.4h0M489.7 389.8h0M472.7 401.8h0M462.1 396.7h0M478.6 390.2h0M472.5 388.7h0M481.7 390.8h0M475.5 391.7h0M472.5 402.1h0M481.6 398.6h0M478.5 394.8h0M477.1 387.0h0M469.2 399.5h0M467.3 394.5h0M466.7 395.8h0M475.6 393.8h0M472.1 396.5h0M464.1 396.6h0M462.9 395.3h0M472.6 391.9h0M464.2 400.4h0M478.9 391.7h0M468.8 388.8h0M472.2 401.6h0M488.1 384.9h0M474.4 402.1h0M461.4 394.2h0M492.6 387.1h0M474.8 389.5h0M487.2 405.0h0M487.0 401.2h0M486.0 392.8h0M478.0 390.6h0M492.4 383.7h0M480.0 391.4h0M473.2 400.4h0M472.0 384.7h0M458.8 398.5h0M481.4 386.8h0M484.8 393.0h0M473.8 392.1h0M479.8 395.9h0M485.9 401.9h0M465.1 401.4h0M482.3 395.6h0M460.0 392.6h0M484.3 400.9h0M480.6 398.8h0M478.8 386.0h0M480.2 401.2h0M470.8 392.9h0M489.8 384.7h0M472.1 389.0h0M476.5 385.7h0M465.9 399.1h0M471.8 397.7h0M491.5 383.0h0M471.7 390.0h0M479.6 389.8h0M458.6 398.1h0M486.9 398.2h0M481.6 386.8h0M471.1 397.1h0M478.6 386.2h0M480.2 390.4h0M490.1 383.6h0M468.7 392.7h0M472.9 392.0h0M465.6 392.7h0M461.4 395.3h0M476.5 387.4h0M489.9 390.1h0M468.5 392.5h0M485.4 388.5h0M489.8 394.3h0M490.7 393.3h0M465.6 399.9h0M472.6 384.2h0M475.0 393.5h0M464.0 391.4h0M470.6 383.4h0M470.3 397.2h0M484.9 392.8h0M471.3 399.8h0M472.3 390.0h0M470.2 388.0h0M453.8 359.5h0M440.1 363.4h0M454.6 358.5h0M469.7 362.1h0M435.2 363.1h0M437.7 362.3h0M442.1 364.0h0M461.9 363.9h0M452.4 360.3h0M456.2 360.1h0M451.0 362.6h0M458.7 360.9h0M445.0 363.3h0M451.8 360.6h0M450.8 362.7h0M444.2 362.8h0M457.0 362.1h0M449.6 361.9h0M462.4 359.5h0M461.4 360.0h0M443.4 362.4h0M445.4 364.3h0M453.3 361.5h0M449.2 363.7h0M445.5 360.4h0M461.7 358.1h0M454.2 360.7h0M460.0 363.5h0M459.9 363.2h0M453.1 360.8h0M464.5 358.3h0M459.4 359.1h0M464.1 356.3h0M446.5 360.0h0M467.3 361.9h0M462.9 360.7h0M465.2 356.9h0M444.0 363.3h0M444.8 363.6h0M462.3 364.0h0M452.3 359.6h0M434.5 363.4h0M442.2 361.6h0M459.7 359.2h0M465.6 363.2h0M466.0 361.3h0M452.9 361.8h0M450.3 360.1h0M465.2 364.8h0M458.1 358.6h0M446.1 361.8h0M461.7 359.7h0M442.7 362.7h0M440.3 363.2h0M465.3 359.4h0M435.9 363.0h0M443.3 360.1h0M440.3 364.0h0M464.4 363.5h0M447.1 361.7h0M460.9 362.7h0M459.6 356.9h0M464.8 362.4h0M447.5 359.5h0M454.4 362.9h0M433.7 363.5h0M444.5 362.7h0M453.1 362.6h0M454.0 361.9h0M466.6 362.3h0M456.6 361.8h0M450.0 359.8h0M458.9 358.7h0M465.3 359.8h0M461.1 357.6h0M442.4 362.1h0M464.3 363.8h0M467.2 360.8h0M447.8 360.5h0M464.5 358.9h0M453.7 361.2h0" stroke="#8a74cc" stroke-width="1" stroke-linecap="square"/>
<path d="M365.4 345.4 V357.9 M365.4 345.4 H377.9" stroke="#000" stroke-width="1.1" fill="none"/><path d="M362.79999999999995 356.9 L365.4 361.4 L368.0 356.9Z M376.9 342.79999999999995 L381.4 345.4 L376.9 348.0Z" fill="#000"/>
<text x="363.0" y="337.4" font-size="9.5" text-anchor="start" fill="#111" stroke="#111" stroke-width="0.25" textLength="104" lengthAdjust="spacingAndGlyphs" >miRNA species numbers</text>
<path d="M529.1 381.8 L531.1 377.7 L537.1 375.0 L550.6 373.7 L566.7 373.7 L581.5 373.7 L592.2 377.1 L597.6 381.8 L596.9 388.5 L603.0 396.5 L605.0 401.9 L603.0 405.9 L597.6 408.6 L598.9 415.3 L605.0 423.4 L603.0 427.4 L590.9 427.4 L580.1 430.1 L568.0 430.1 L565.3 423.4 L566.0 415.3 L557.3 413.3 L543.9 410.0 L535.8 400.6 L531.1 392.5 L529.1 385.8Z" fill="#a48cd8"/><path d="M529.7 381.1h0M528.7 382.8h0M530.6 381.4h0M530.7 379.4h0M530.9 379.9h0M533.0 378.0h0M532.0 378.2h0M533.5 376.8h0M533.1 375.9h0M535.9 375.8h0M535.1 375.4h0M535.1 375.8h0M537.1 375.4h0M539.3 374.7h0M539.0 374.2h0M540.6 375.1h0M541.7 376.1h0M540.4 376.0h0M541.4 373.5h0M541.6 375.8h0M543.8 374.8h0M544.6 375.7h0M545.0 374.1h0M546.0 373.8h0M549.1 374.2h0M549.1 374.6h0M549.2 372.7h0M549.6 373.2h0M552.6 373.7h0M552.0 373.8h0M552.8 374.5h0M555.1 373.0h0M556.8 372.6h0M556.7 373.4h0M558.0 374.5h0M558.2 373.9h0M557.8 372.3h0M560.1 374.0h0M560.5 374.2h0M562.9 372.1h0M563.2 375.4h0M563.8 373.7h0M564.8 374.1h0M563.5 374.1h0M566.4 374.3h0M567.1 373.6h0M568.8 374.6h0M569.3 374.0h0M569.5 373.6h0M571.7 375.4h0M571.5 373.8h0M572.7 374.2h0M573.4 374.4h0M574.1 375.2h0M576.0 373.5h0M577.0 373.9h0M578.1 374.6h0M578.8 373.1h0M578.4 373.2h0M579.7 374.5h0M580.5 373.3h0M582.6 375.3h0M581.9 374.2h0M585.0 373.1h0M585.7 372.9h0M585.9 374.3h0M586.5 375.7h0M589.1 374.9h0M590.1 377.5h0M588.2 376.3h0M590.9 377.9h0M592.0 376.5h0M591.8 377.8h0M592.3 378.0h0M593.8 377.7h0M596.6 379.3h0M597.2 380.8h0M597.0 379.9h0M596.3 381.2h0M597.5 380.7h0M599.5 384.9h0M597.9 383.9h0M597.1 383.7h0M597.6 385.6h0M597.6 387.5h0M598.9 387.5h0M597.1 388.3h0M597.8 388.3h0M599.5 390.4h0M597.4 390.7h0M600.2 392.0h0M599.1 392.7h0M600.5 392.3h0M601.1 392.6h0M601.0 393.2h0M602.7 396.0h0M602.1 395.9h0M604.3 395.1h0M603.3 397.9h0M604.2 397.9h0M602.2 398.6h0M605.2 399.5h0M604.8 400.8h0M605.8 401.3h0M604.8 403.1h0M603.0 404.2h0M604.4 405.2h0M602.4 405.3h0M600.9 405.3h0M599.3 407.1h0M600.3 407.2h0M601.6 407.7h0M599.2 407.0h0M597.3 408.0h0M597.9 408.6h0M597.3 409.9h0M598.4 410.3h0M598.5 412.8h0M598.6 414.4h0M598.8 414.5h0M599.1 416.1h0M599.8 416.1h0M600.6 416.1h0M601.3 416.4h0M602.3 417.7h0M601.4 418.7h0M602.7 418.0h0M602.4 421.0h0M603.6 420.1h0M605.0 423.6h0M603.7 422.3h0M603.9 422.8h0M604.3 426.3h0M602.8 427.0h0M603.5 426.0h0M602.5 427.9h0M601.7 427.2h0M601.0 427.4h0M600.4 427.1h0M598.5 428.0h0M598.4 427.4h0M595.6 427.3h0M595.8 426.4h0M595.1 426.5h0M592.8 426.3h0M594.5 427.2h0M592.0 427.3h0M590.0 428.6h0M591.8 427.2h0M590.3 427.0h0M588.6 427.6h0M587.7 428.5h0M586.2 428.7h0M585.5 428.6h0M586.6 430.3h0M583.3 429.5h0M585.0 429.2h0M584.0 428.7h0M581.9 431.6h0M581.6 430.7h0M579.9 429.9h0M580.0 430.1h0M579.7 429.4h0M576.5 430.5h0M575.0 430.6h0M576.7 431.7h0M573.4 429.7h0M574.3 429.7h0M573.0 428.6h0M571.6 430.6h0M570.2 430.5h0M569.9 429.8h0M568.1 429.9h0M568.3 429.9h0M568.2 429.7h0M566.3 428.5h0M567.9 428.1h0M566.4 425.5h0M566.4 426.1h0M567.0 425.0h0M565.6 424.5h0M566.5 424.3h0M567.1 422.1h0M566.4 421.8h0M566.9 420.3h0M566.3 420.4h0M564.9 418.9h0M565.6 417.6h0M565.2 415.9h0M566.3 416.3h0M566.1 415.2h0M565.3 414.5h0M563.2 415.2h0M563.4 415.1h0M562.5 413.3h0M560.1 413.6h0M561.8 414.5h0M558.2 414.6h0M558.9 413.1h0M557.9 413.5h0M556.4 413.3h0M556.6 413.5h0M553.1 412.1h0M554.9 414.4h0M551.9 413.2h0M550.6 413.1h0M550.8 412.8h0M550.7 410.9h0M548.4 410.2h0M546.8 408.2h0M546.5 411.0h0M546.3 411.1h0M545.3 411.0h0M545.2 409.9h0M542.8 408.3h0M543.9 409.2h0M541.0 407.8h0M541.7 409.2h0M542.3 406.9h0M541.4 405.0h0M539.8 405.3h0M538.3 406.0h0M538.6 405.4h0M536.9 404.3h0M538.4 401.8h0M537.3 402.3h0M537.0 400.9h0M535.0 399.7h0M535.5 399.2h0M534.8 396.8h0M534.1 396.6h0M534.1 398.5h0M533.7 396.3h0M533.8 393.9h0M532.0 395.9h0M531.6 392.4h0M530.7 393.8h0M531.6 392.7h0M531.7 391.7h0M530.8 391.5h0M528.6 392.1h0M530.3 390.7h0M529.9 388.9h0M529.9 387.2h0M529.2 385.7h0M530.5 385.6h0M530.6 382.5h0M527.5 383.3h0" stroke="#a48cd8" stroke-width="1.1" stroke-linecap="square"/><path d="M587.1 350.0 L589.5 347.6 L596.9 348.7 L599.2 350.7 L598.3 354.1 L589.5 355.2 L587.5 353.4Z" fill="#b086d8"/><path d="M588.6 349.0h0M587.0 348.4h0M588.6 349.4h0M589.4 347.9h0M589.0 346.1h0M591.6 348.2h0M591.7 348.2h0M593.4 348.7h0M593.6 348.3h0M596.7 347.7h0M595.6 348.1h0M597.6 347.9h0M596.5 348.7h0M597.2 350.3h0M600.9 351.3h0M599.4 352.3h0M598.3 351.6h0M597.4 354.9h0M596.1 355.8h0M595.3 354.0h0M594.6 353.4h0M594.0 354.4h0M593.2 355.1h0M592.6 356.0h0M591.1 354.1h0M589.9 355.0h0M590.5 355.4h0M588.2 354.5h0M586.4 353.0h0M586.8 351.3h0M587.8 350.4h0" stroke="#b086d8" stroke-width="1.1" stroke-linecap="square"/><path d="M606.5 362.8 L613.3 361.1 L617.7 358.9 L625.6 357.7 L632.3 356.1 L636.8 355.3 L642.4 357.2 L644.6 361.1 L641.2 362.8 L640.1 365.6 L635.7 363.3 L627.8 362.2 L621.1 363.9 L614.4 363.3Z" fill="#98a8d0"/><path d="M605.9 361.8h0M607.7 361.6h0M610.3 361.4h0M610.2 362.6h0M611.2 362.0h0M610.5 363.5h0M612.5 360.4h0M614.5 361.1h0M613.6 361.3h0M615.1 360.8h0M615.9 360.7h0M617.2 359.0h0M617.7 359.9h0M618.7 358.1h0M619.8 359.1h0M621.1 357.3h0M620.7 358.1h0M623.4 358.4h0M625.0 359.4h0M625.3 358.0h0M625.5 357.0h0M626.8 356.5h0M628.3 355.8h0M629.6 356.9h0M628.8 356.9h0M630.5 356.6h0M630.2 353.8h0M633.2 356.1h0M633.9 353.8h0M633.8 354.9h0M635.1 356.5h0M634.9 355.9h0M637.3 353.5h0M637.7 355.6h0M638.4 356.4h0M640.7 356.9h0M641.6 357.4h0M641.4 356.3h0M641.3 355.5h0M642.4 358.5h0M643.4 359.1h0M644.8 361.0h0M644.4 361.0h0M642.4 362.5h0M642.7 359.6h0M642.1 362.2h0M641.9 362.8h0M641.3 363.2h0M641.2 363.7h0M640.0 365.8h0M638.9 365.9h0M638.7 364.9h0M637.6 364.6h0M637.1 362.9h0M635.7 363.1h0M634.4 363.2h0M633.7 361.9h0M632.5 363.8h0M632.3 361.1h0M630.2 362.9h0M628.6 362.6h0M630.1 362.7h0M627.0 362.5h0M625.3 362.3h0M624.1 362.2h0M623.2 362.3h0M623.6 364.1h0M623.3 365.0h0M623.2 363.7h0M621.7 363.0h0M620.2 363.4h0M618.3 364.6h0M617.6 364.0h0M617.0 364.4h0M616.7 362.1h0M615.7 365.8h0M615.0 364.3h0M613.9 364.6h0M611.9 362.6h0M611.1 361.9h0M609.6 364.1h0M608.9 362.4h0M609.6 363.4h0M607.1 362.3h0" stroke="#98a8d0" stroke-width="1.1" stroke-linecap="square"/><path d="M613.3 378.3 L616.1 376.0 L620.7 374.9 L627.4 376.3 L631.6 379.0 L629.1 381.0 L624.1 381.6 L616.6 382.2 L613.9 380.6Z" fill="#b086d8"/><path d="M613.1 378.4h0M614.9 378.1h0M613.9 377.0h0M614.2 376.1h0M617.6 374.8h0M616.6 376.5h0M618.1 375.3h0M618.2 374.6h0M620.4 375.0h0M621.0 375.5h0M620.4 373.6h0M623.0 376.2h0M623.6 376.2h0M623.2 375.4h0M625.0 375.4h0M626.9 373.7h0M626.9 377.2h0M627.9 375.8h0M629.3 376.2h0M630.7 377.2h0M632.0 378.8h0M630.5 378.9h0M630.6 380.2h0M628.7 381.1h0M628.2 379.4h0M627.9 380.4h0M627.1 382.6h0M626.0 382.8h0M626.9 383.2h0M624.3 382.8h0M624.3 382.8h0M622.2 382.9h0M622.2 382.1h0M619.6 382.5h0M619.8 380.7h0M617.5 383.1h0M617.3 382.8h0M616.3 381.0h0M615.1 379.6h0M615.3 379.9h0M615.8 379.9h0M613.8 378.5h0" stroke="#b086d8" stroke-width="1.1" stroke-linecap="square"/><path d="M630.0 395.1 L633.1 391.6 L639.1 389.1 L643.6 387.1 L644.2 380.0 L646.1 379.1 L650.9 384.1 L654.1 385.6 L658.9 383.4 L664.1 381.6 L667.0 381.8 L668.3 384.7 L664.9 388.1 L664.3 396.2 L662.6 403.6 L661.6 408.1 L659.6 402.1 L656.2 400.1 L648.2 402.1 L637.4 401.1 L632.1 398.6Z" fill="#a48cd8"/><path d="M628.7 395.0h0M630.0 396.5h0M631.0 391.6h0M631.9 392.2h0M632.0 391.6h0M632.2 390.1h0M634.1 391.2h0M634.7 390.6h0M637.1 389.9h0M636.1 391.6h0M637.7 389.3h0M637.5 389.0h0M638.8 389.0h0M641.3 387.5h0M641.0 388.9h0M642.4 387.7h0M642.0 387.8h0M644.2 387.0h0M643.3 387.3h0M643.5 385.0h0M645.1 384.1h0M643.9 382.8h0M645.4 382.0h0M645.4 381.7h0M644.3 380.9h0M644.6 381.3h0M645.4 379.4h0M647.6 380.1h0M648.6 381.8h0M647.2 381.0h0M649.3 382.1h0M649.3 383.1h0M649.5 382.9h0M652.0 384.4h0M653.3 382.7h0M652.0 383.9h0M654.3 387.0h0M653.8 385.1h0M657.2 383.8h0M659.0 383.2h0M657.2 382.2h0M659.4 381.9h0M659.8 383.1h0M660.1 382.4h0M661.1 382.8h0M661.7 381.4h0M662.2 382.8h0M665.3 382.1h0M663.6 381.7h0M666.5 382.6h0M667.0 381.0h0M669.3 382.8h0M667.2 384.1h0M669.3 384.4h0M668.1 385.6h0M666.8 385.8h0M666.5 384.1h0M665.5 386.3h0M663.9 388.4h0M664.5 388.7h0M664.7 388.1h0M663.2 392.1h0M663.7 391.3h0M665.0 392.3h0M664.4 391.7h0M663.3 394.6h0M664.5 396.2h0M664.9 395.7h0M664.1 396.5h0M664.4 397.4h0M664.0 399.3h0M664.7 399.1h0M663.2 399.5h0M663.9 401.5h0M662.2 401.7h0M661.9 403.3h0M662.1 405.7h0M661.9 405.4h0M660.2 405.7h0M663.6 408.7h0M659.6 409.5h0M661.1 406.0h0M661.5 407.1h0M661.4 405.9h0M661.8 404.6h0M660.7 406.1h0M660.0 401.6h0M660.9 402.2h0M657.7 403.1h0M658.9 401.0h0M657.3 399.0h0M656.3 398.1h0M654.2 401.7h0M654.6 398.9h0M652.9 401.5h0M652.4 401.0h0M651.5 400.1h0M652.0 399.8h0M649.7 400.4h0M648.8 401.8h0M648.0 402.2h0M647.9 400.2h0M646.4 403.0h0M646.9 402.6h0M643.3 401.1h0M644.4 402.7h0M642.4 401.3h0M642.5 402.5h0M640.5 400.5h0M638.5 400.7h0M637.7 400.5h0M639.3 401.5h0M636.9 401.9h0M635.2 401.1h0M635.1 400.6h0M635.8 398.8h0M634.4 399.3h0M632.7 397.5h0M632.0 398.4h0M631.6 397.5h0M630.0 398.1h0M630.3 397.0h0" stroke="#a48cd8" stroke-width="1.1" stroke-linecap="square"/><path d="M612.6 410.9 L617.3 408.9 L622.7 412.3 L620.0 414.3 L613.3 413.0Z" fill="#a88cd0"/><path d="M612.3 410.1h0M614.6 411.5h0M614.1 410.2h0M615.8 408.4h0M615.8 407.4h0M618.1 407.1h0M617.8 408.1h0M618.7 409.6h0M619.1 410.7h0M620.0 411.5h0M621.3 410.3h0M621.6 411.8h0M623.3 413.3h0M621.5 413.2h0M620.8 413.8h0M619.0 413.7h0M619.7 415.2h0M618.3 413.6h0M617.5 413.1h0M617.6 412.3h0M615.4 414.4h0M613.9 412.3h0M612.8 413.1h0M613.9 411.9h0" stroke="#a88cd0" stroke-width="1.1" stroke-linecap="square"/><path d="M624.0 432.4 L628.7 437.1 L632.1 440.5 L636.8 439.2 L637.4 442.5 L640.8 444.5 L637.4 447.2 L630.7 449.9 L626.7 445.9 L628.0 440.5 L626.7 436.5Z" fill="#a48cd8"/><path d="M624.4 433.0h0M624.9 433.6h0M625.8 434.3h0M625.3 433.8h0M626.0 436.7h0M627.2 435.3h0M629.0 436.8h0M628.3 438.1h0M628.5 436.8h0M629.3 439.6h0M630.7 440.1h0M630.4 438.2h0M632.3 440.2h0M631.3 440.4h0M635.7 440.2h0M633.7 439.1h0M635.1 437.7h0M635.9 438.2h0M636.5 439.8h0M637.3 441.8h0M637.7 442.5h0M637.4 443.1h0M639.2 446.5h0M639.6 444.2h0M641.4 445.1h0M638.1 444.9h0M637.7 446.6h0M636.9 444.8h0M636.5 448.8h0M637.4 448.4h0M635.1 448.1h0M634.0 448.0h0M635.0 449.5h0M633.1 448.1h0M631.9 447.7h0M630.0 449.1h0M631.0 450.9h0M631.5 449.1h0M629.9 446.8h0M629.2 450.0h0M628.6 448.6h0M628.1 447.3h0M627.7 444.8h0M626.5 446.2h0M626.5 445.2h0M626.7 442.9h0M626.9 443.2h0M628.1 439.5h0M626.9 439.5h0M628.1 439.8h0M625.7 438.9h0M628.1 437.6h0M627.2 439.8h0M626.1 435.3h0M626.1 434.8h0M624.0 433.7h0M623.5 434.7h0" stroke="#a48cd8" stroke-width="1.1" stroke-linecap="square"/><path d="M582.1 402.7h0M579.1 385.1h0M581.5 393.1h0M586.9 388.4h0M588.0 387.9h0M578.1 394.9h0M580.6 396.0h0M583.9 391.6h0M576.7 396.6h0M591.3 389.9h0M586.1 385.5h0M581.9 385.2h0M587.7 393.1h0M595.2 392.3h0M594.6 385.7h0M593.3 386.8h0M585.7 396.7h0M580.6 400.8h0M578.1 391.1h0M591.5 387.2h0M576.7 393.4h0M598.1 391.7h0M576.7 404.3h0M585.2 397.0h0M588.1 391.8h0M585.5 388.5h0M576.6 407.2h0M593.6 387.4h0M579.2 389.4h0M597.1 390.8h0M578.3 401.9h0M584.7 398.0h0M585.1 385.6h0M588.7 387.1h0M583.0 393.7h0M584.1 401.5h0M582.0 396.2h0M584.2 396.7h0M591.3 392.4h0M576.1 403.7h0M579.4 386.9h0M586.8 386.6h0M580.9 396.5h0M581.5 396.3h0M581.9 385.0h0M582.3 406.0h0M589.9 386.2h0M579.8 398.4h0M582.0 403.3h0M579.1 393.7h0M585.2 388.5h0M576.7 406.4h0M580.9 404.0h0M591.4 391.5h0M587.0 386.6h0M589.1 392.8h0M590.7 390.2h0M591.2 389.9h0M580.0 406.0h0M591.9 387.2h0M579.7 387.5h0M583.9 393.0h0M581.1 387.2h0M578.7 394.2h0M597.5 390.0h0M579.7 405.7h0M583.9 394.2h0M580.6 387.0h0M584.5 401.7h0M587.3 392.2h0M578.2 402.7h0M591.2 385.0h0M586.3 394.6h0M586.8 395.8h0M583.1 391.0h0M582.6 410.1h0M576.6 427.8h0M588.7 414.3h0M576.8 423.0h0M569.0 413.2h0M576.1 421.6h0M596.3 413.4h0M571.2 413.4h0M580.3 410.7h0M596.6 414.2h0M569.9 411.9h0M587.8 409.7h0M579.0 412.7h0M571.4 417.0h0M588.7 416.4h0M584.2 418.2h0M573.7 410.8h0M573.4 411.0h0M567.2 411.8h0M596.6 414.8h0M584.8 412.0h0M589.8 415.5h0M588.9 412.8h0M576.4 412.2h0M575.1 421.3h0M580.2 411.9h0M578.7 425.8h0M578.5 410.3h0M571.6 413.3h0M574.2 411.4h0M597.5 411.9h0M579.9 424.6h0M588.0 409.1h0M585.4 410.8h0M591.8 410.9h0M570.2 415.7h0M591.5 413.7h0M580.1 424.5h0M573.4 416.1h0M581.7 411.8h0M592.5 412.6h0M581.3 416.3h0M576.1 415.1h0M578.7 415.8h0M587.7 410.0h0M572.1 412.0h0M592.2 412.0h0M575.4 412.9h0M577.7 417.9h0M577.3 414.4h0M579.8 409.0h0M591.4 415.1h0M579.5 422.6h0M585.9 418.3h0M579.7 422.6h0M573.5 409.8h0M586.9 416.6h0M596.5 412.0h0M587.2 409.7h0M587.9 411.1h0M586.7 415.0h0M585.0 412.0h0M580.4 425.9h0M578.7 411.2h0M584.1 415.2h0" stroke="#fff" stroke-width="1.35" stroke-linecap="square"/><path d="M555.2 403.5h0M542.0 392.9h0M571.3 384.4h0M579.1 375.2h0M536.2 395.0h0M581.8 396.8h0M589.6 423.4h0M564.3 400.0h0M574.8 398.7h0M587.3 407.5h0M589.1 385.9h0M548.9 388.3h0M584.6 428.5h0M564.9 410.1h0M584.1 382.4h0M570.8 411.3h0M571.9 416.3h0M572.9 398.1h0M550.9 410.7h0M582.7 417.9h0M581.9 429.4h0M587.9 382.7h0M581.3 404.8h0M549.9 386.3h0M574.6 415.4h0M552.5 407.9h0M562.3 409.8h0M586.2 417.5h0M551.7 374.1h0M590.6 427.2h0M585.6 420.6h0M542.6 380.3h0M577.4 384.9h0M545.3 387.3h0M561.1 377.7h0M543.3 396.0h0M586.0 392.0h0M583.0 423.0h0M584.8 406.3h0M601.7 403.4h0M572.8 406.2h0M560.9 413.0h0M548.5 375.4h0M540.5 380.8h0M532.5 381.2h0" stroke="#fff" stroke-width="0.9" stroke-linecap="square"/><path d="M623.4 389.1h0M634.9 382.7h0M629.7 382.9h0M629.2 384.1h0M635.4 393.5h0M634.3 392.1h0M628.6 383.8h0M627.4 386.3h0M626.7 388.6h0M630.2 384.9h0M626.5 385.8h0M626.3 387.8h0M623.6 389.4h0M627.4 387.2h0M634.6 383.5h0M623.6 387.7h0M633.5 392.1h0M632.2 385.4h0M636.1 384.9h0M623.7 383.3h0M633.4 388.5h0M626.1 383.7h0M631.7 392.6h0M633.2 390.9h0M622.9 389.9h0M625.4 383.9h0M624.2 383.7h0M624.2 392.7h0M631.4 382.1h0M625.7 385.2h0" stroke="#b884d8" stroke-width="1" stroke-linecap="square"/><path d="M620.8 413.5h0M610.9 405.8h0M620.6 407.8h0M607.9 406.8h0M624.6 414.7h0M606.8 414.9h0M607.6 408.9h0M602.1 408.6h0M599.9 417.8h0M608.0 418.0h0M600.3 416.0h0M621.5 409.7h0M627.1 413.0h0M609.7 404.6h0M620.8 415.1h0M617.6 408.5h0M601.3 405.2h0M601.0 411.8h0M615.1 409.9h0M601.4 405.2h0M619.7 405.5h0M623.2 416.8h0M626.2 411.0h0M602.7 407.0h0M617.3 407.2h0M622.6 413.5h0" stroke="#c07cb0" stroke-width="1" stroke-linecap="square"/>
<path d="M540.2 383.3h0M548.9 390.3h0M581.9 406.2h0M554.4 391.4h0M593.5 427.2h0M572.1 400.6h0M573.6 389.4h0M563.0 408.4h0M586.6 400.4h0M570.2 387.0h0M593.2 405.3h0M586.4 405.0h0M580.3 422.5h0M578.8 419.9h0M580.4 421.8h0M580.3 421.7h0M590.8 396.0h0M576.6 382.9h0M575.4 407.9h0M584.9 423.2h0M589.8 387.6h0M554.6 389.9h0M597.2 392.1h0M585.9 402.1h0M576.2 428.1h0M584.0 420.1h0M560.5 404.3h0M576.1 419.6h0M549.3 374.3h0M580.9 426.7h0M585.2 415.8h0M585.7 375.6h0M565.4 423.1h0M566.0 381.7h0M589.4 392.1h0M578.1 386.7h0M583.3 414.9h0M539.4 396.0h0M543.5 384.7h0M579.5 397.3h0M569.9 381.1h0M564.3 385.5h0M564.5 403.1h0M585.0 421.4h0M584.3 401.0h0M587.6 422.2h0M560.0 410.6h0M592.9 422.0h0M603.2 401.1h0M589.0 415.7h0M571.4 398.2h0M562.6 379.9h0M571.5 397.0h0M596.1 385.6h0M542.1 384.5h0M548.3 405.5h0M581.5 387.5h0M552.0 383.3h0M580.1 398.1h0M598.6 408.1h0M555.4 377.6h0M595.8 401.9h0M577.4 396.5h0M557.1 408.2h0M588.5 427.3h0M570.3 391.3h0M589.0 423.9h0M580.4 377.8h0M539.3 389.6h0M563.1 383.6h0M597.4 410.7h0M588.4 380.9h0M547.0 395.4h0M591.0 415.9h0M571.1 403.9h0M574.5 389.9h0M596.6 406.4h0M595.8 390.6h0M583.9 403.0h0M529.3 384.0h0M578.3 407.9h0M591.6 415.7h0M575.4 414.5h0M592.6 396.3h0M555.9 384.7h0M582.9 387.8h0M591.7 388.0h0M593.2 403.6h0M601.1 400.2h0M576.7 392.1h0M573.5 415.4h0M597.1 409.1h0M580.1 381.9h0M591.8 388.5h0M582.1 376.3h0M588.6 379.8h0M578.1 400.6h0M584.4 391.2h0M577.1 400.8h0M589.8 387.4h0M578.6 401.1h0M594.7 419.7h0M540.6 375.5h0M591.9 425.4h0M588.9 391.4h0M572.2 375.8h0M568.2 383.9h0M585.1 396.9h0M592.9 388.4h0M581.0 404.2h0M577.5 420.6h0M555.7 410.2h0M540.7 378.9h0M547.7 396.3h0M578.9 375.5h0M597.0 398.4h0M587.8 427.2h0M576.7 388.0h0M584.0 393.6h0M558.2 411.5h0M557.7 377.4h0M585.8 413.0h0M594.2 379.7h0M582.1 406.4h0M580.4 414.1h0M576.4 425.8h0M594.1 382.3h0M590.7 395.8h0M567.5 414.4h0M573.1 376.0h0M578.5 413.1h0M590.2 406.5h0M587.5 417.8h0M568.6 379.9h0M591.2 380.5h0M591.2 401.8h0M586.3 389.9h0M590.3 387.9h0M591.3 389.8h0M585.1 379.6h0M572.0 399.2h0M567.2 417.0h0M585.0 427.4h0M558.7 390.8h0M599.5 397.3h0M574.4 412.2h0M592.5 378.8h0M588.4 411.7h0M591.4 397.4h0M572.7 429.1h0M597.4 415.3h0M596.5 393.3h0M556.8 378.1h0M594.4 425.5h0M602.1 406.1h0M597.3 392.3h0M563.5 408.5h0M588.8 392.6h0M572.4 418.6h0M561.5 407.1h0M586.4 417.1h0M545.7 400.9h0M580.3 414.4h0M571.1 376.5h0M587.6 387.5h0M583.3 376.7h0M582.3 411.8h0M577.2 418.5h0M571.7 385.7h0M569.0 388.0h0M578.5 400.9h0M599.8 394.2h0M596.2 383.6h0M592.3 408.1h0M567.2 407.7h0M556.6 379.4h0M576.1 398.0h0M570.0 429.3h0M581.0 391.9h0M603.1 399.5h0M597.8 406.4h0M578.2 406.8h0M590.8 408.8h0M562.4 395.8h0M596.4 410.6h0M595.0 404.6h0M538.6 377.3h0M564.1 395.8h0M571.7 424.4h0M563.2 396.8h0M583.7 417.9h0M577.3 419.1h0M575.6 408.7h0M553.1 382.5h0M602.7 421.9h0M570.6 396.6h0M594.5 393.3h0M573.7 396.2h0M588.9 396.6h0M560.8 381.9h0M539.7 379.9h0M595.3 390.6h0M587.9 384.5h0M582.6 380.8h0M560.6 410.9h0M595.4 395.4h0M558.5 409.5h0M574.6 374.7h0M569.2 414.5h0M564.1 396.2h0M584.4 405.5h0M559.1 388.9h0M556.8 406.2h0M547.5 378.8h0M579.8 409.5h0M581.3 404.8h0M584.6 422.8h0M588.2 409.8h0M576.9 411.6h0M576.7 424.8h0M567.0 388.5h0M600.6 401.2h0M570.8 403.9h0M552.8 411.8h0M596.2 420.8h0M598.1 398.7h0M588.6 427.4h0M562.8 406.8h0M578.2 401.3h0M588.8 377.7h0M581.3 414.1h0M579.1 424.2h0M553.8 410.3h0M586.9 419.5h0M587.3 391.9h0M588.1 404.0h0M562.7 388.9h0M574.8 410.6h0M564.6 410.5h0M543.0 403.4h0M596.2 397.7h0M594.1 424.7h0M549.8 393.5h0M575.3 391.5h0M542.3 378.7h0M588.5 395.2h0M574.2 380.3h0M554.8 407.6h0M576.5 397.4h0M577.7 396.3h0M571.3 377.4h0M540.6 376.5h0M529.6 381.6h0M598.4 394.2h0M584.4 396.7h0M593.5 415.7h0M598.6 393.5h0M571.6 377.6h0M535.7 388.0h0M584.3 424.1h0M589.2 421.9h0M547.9 382.2h0M592.7 378.2h0M535.9 380.8h0M562.1 373.9h0M576.1 381.7h0M589.0 407.5h0M599.9 421.3h0M599.2 402.6h0M589.7 392.4h0M567.1 426.6h0M566.8 385.7h0M538.9 381.0h0M597.0 389.4h0M575.8 396.7h0M531.8 389.1h0M573.5 376.7h0M557.4 384.1h0M564.3 404.2h0M563.0 407.8h0M597.8 398.2h0M594.0 382.9h0M543.6 390.4h0M568.2 374.0h0M583.8 375.1h0M576.7 397.5h0M574.9 410.8h0M581.0 374.7h0M582.5 408.7h0M574.1 374.2h0M584.4 410.1h0M582.9 415.7h0M576.6 425.4h0M591.0 405.2h0M571.9 405.4h0M560.4 398.9h0M599.3 403.6h0M557.3 397.2h0M574.6 394.4h0M585.1 389.0h0M587.2 388.6h0M554.6 401.6h0M588.6 424.1h0M600.5 424.5h0M580.9 396.1h0M595.0 398.5h0M572.2 413.4h0M574.2 391.0h0M592.6 382.6h0M578.3 376.6h0M543.8 385.2h0M558.7 395.7h0M580.6 394.5h0M579.6 385.3h0M531.1 380.5h0M585.6 404.3h0M531.1 378.2h0M578.9 379.1h0M563.7 378.1h0M570.6 386.3h0M574.2 429.6h0M595.2 405.2h0M567.9 425.2h0M597.8 400.0h0M555.8 384.7h0M596.2 404.9h0M577.7 400.4h0M546.8 401.6h0M574.9 403.6h0M545.7 380.2h0M581.5 424.7h0M566.0 389.5h0M567.5 412.5h0M571.5 379.8h0M582.7 395.1h0M596.1 421.1h0M569.4 389.7h0M593.6 397.3h0M595.5 401.9h0M594.6 402.9h0M588.6 418.7h0M558.8 406.2h0M566.4 407.6h0M529.1 385.2h0M567.2 428.0h0M592.5 419.3h0M585.0 375.7h0M538.1 376.2h0M574.1 381.2h0M571.8 394.4h0M601.6 401.1h0M598.6 413.6h0M584.7 387.9h0M595.6 392.7h0M543.4 382.8h0M574.0 396.0h0M565.7 419.8h0M536.5 381.8h0M594.7 402.7h0M596.7 422.4h0M569.2 382.7h0M594.0 400.6h0M554.2 392.3h0M588.5 419.0h0M560.4 389.7h0M588.2 390.9h0M571.1 391.6h0M572.2 420.2h0M578.2 397.2h0M581.3 427.8h0M558.9 405.2h0M595.9 398.4h0M541.2 386.2h0M572.5 399.5h0M589.3 391.1h0M584.9 389.4h0M531.7 385.9h0M589.7 423.5h0M583.9 405.1h0M594.3 413.7h0M550.8 405.1h0M587.8 392.3h0M581.4 414.6h0M564.6 390.0h0M554.6 404.1h0M596.3 421.2h0M553.4 374.7h0M593.9 383.8h0M598.7 424.7h0M548.1 378.6h0M566.1 392.4h0M580.3 409.2h0M575.5 395.1h0M565.6 400.8h0M578.2 429.0h0M598.8 397.7h0M574.9 400.6h0M578.0 395.1h0M542.1 380.6h0M564.6 387.3h0M573.4 426.2h0M589.6 380.7h0M544.5 403.0h0M538.3 379.3h0M581.0 404.0h0M598.2 403.3h0M588.4 409.2h0M551.4 402.0h0M591.2 404.3h0M579.6 393.6h0M603.0 404.1h0M576.3 409.0h0M578.5 374.3h0M595.7 427.2h0M575.7 380.8h0M580.6 413.3h0M577.8 421.4h0M564.7 395.5h0M581.1 402.4h0M555.8 409.1h0M567.4 420.2h0M559.9 401.2h0M582.0 379.8h0M550.6 399.9h0M594.1 407.9h0M582.9 390.4h0M553.0 389.2h0M592.4 381.6h0M597.9 423.7h0M578.7 401.3h0M579.9 424.9h0M576.3 408.0h0M574.0 417.5h0M553.2 401.0h0M589.7 386.2h0M592.5 402.9h0M547.2 379.3h0M577.8 388.3h0M580.1 390.0h0M550.3 407.6h0M580.2 411.9h0M587.7 414.0h0M596.8 413.0h0M545.7 406.0h0M591.9 416.1h0M549.4 375.7h0M573.2 409.5h0M580.9 429.3h0M569.4 378.3h0M588.1 397.9h0M567.0 397.8h0M549.7 377.5h0M592.4 418.4h0M576.7 420.0h0M585.1 395.4h0M541.2 378.8h0M592.2 401.2h0M579.8 414.2h0M553.4 397.4h0M584.9 401.2h0M573.4 395.0h0M541.7 386.0h0M556.7 412.1h0M592.5 413.4h0M564.4 396.1h0M571.9 378.8h0M584.5 411.7h0M601.9 421.7h0M581.7 423.2h0M588.3 411.5h0M597.3 421.6h0M592.1 406.6h0M575.3 429.7h0M574.4 379.8h0M596.1 421.2h0M574.4 378.4h0M541.8 382.6h0M571.4 404.4h0M576.9 416.9h0M558.9 384.2h0M558.6 377.4h0M564.6 380.1h0M585.9 395.7h0M575.6 399.3h0M546.1 408.7h0M595.1 402.2h0M569.0 387.7h0M546.6 385.6h0M539.9 384.1h0M545.6 378.3h0M582.4 422.6h0M585.4 378.4h0M570.7 399.0h0M570.1 397.1h0M588.9 391.6h0M538.2 377.5h0M566.9 407.3h0M580.5 421.7h0M590.1 385.4h0M570.5 394.7h0M595.8 414.6h0M586.2 421.5h0M593.0 415.2h0M586.2 386.0h0M552.6 406.7h0M598.7 406.1h0M533.3 381.9h0M566.0 399.7h0M544.5 379.2h0M571.8 385.1h0M539.7 376.6h0M576.6 387.2h0M582.9 398.5h0M593.5 417.9h0M579.3 388.5h0M596.1 384.2h0M591.7 413.3h0M592.0 427.1h0M548.0 376.8h0M542.8 381.1h0M594.2 400.8h0M568.1 381.1h0M579.7 377.0h0M596.0 409.9h0M590.9 414.6h0M587.7 388.7h0M563.2 377.1h0M580.2 401.3h0M583.7 382.1h0M593.7 413.3h0M591.1 394.1h0M585.2 422.3h0M594.5 383.2h0M574.5 420.8h0M576.7 388.0h0M598.4 417.1h0M579.0 425.3h0M572.1 421.3h0M555.2 406.5h0M589.0 391.4h0M580.8 382.0h0M572.3 404.3h0M575.9 408.4h0M574.7 393.2h0M563.7 408.3h0M583.0 415.8h0M586.4 420.5h0M567.9 422.4h0M589.2 413.5h0M561.9 402.4h0M586.8 405.5h0M574.7 387.2h0M581.7 410.3h0M601.7 419.6h0M580.4 425.6h0M583.5 409.7h0M557.2 381.1h0M588.8 377.3h0M559.2 401.4h0M578.1 410.2h0M592.8 424.9h0M578.2 378.8h0M579.3 379.3h0M599.1 393.3h0M533.6 390.7h0M592.6 415.8h0M584.3 416.7h0M545.3 400.1h0M580.5 395.3h0M581.9 409.3h0M577.0 375.1h0M575.4 419.5h0M585.9 417.2h0M598.0 425.7h0M604.3 422.6h0M545.7 385.0h0M579.5 380.6h0M549.9 379.5h0M583.9 428.1h0M542.2 377.9h0M597.6 412.8h0M586.8 394.2h0M573.9 387.3h0M578.7 406.4h0M564.2 381.0h0M583.3 423.6h0M578.5 420.8h0M597.7 392.5h0M596.7 383.8h0M544.4 378.4h0M558.7 378.6h0M597.5 391.3h0M568.0 373.9h0M599.5 396.3h0M547.0 380.0h0M594.7 386.3h0M560.0 393.6h0M578.3 379.0h0M598.8 402.4h0M592.4 407.0h0M593.5 405.1h0M578.5 390.6h0M596.4 405.3h0M585.1 414.7h0M578.1 392.4h0M578.6 411.5h0M597.0 408.6h0M568.8 415.0h0M596.7 387.8h0M558.4 389.7h0M584.8 402.8h0M533.2 394.2h0M598.3 419.1h0M580.1 427.2h0M580.3 383.1h0M580.9 391.0h0M566.6 403.3h0M569.0 377.7h0M589.5 401.8h0M569.4 375.3h0M554.1 412.5h0M592.2 407.7h0M586.0 385.9h0M552.8 377.7h0M596.6 381.7h0M579.9 410.1h0M576.8 377.0h0M550.5 383.1h0M582.4 411.1h0M597.6 423.7h0M595.4 380.4h0M576.2 375.9h0M593.5 392.9h0M603.3 424.3h0M569.2 405.4h0M584.8 424.8h0M574.4 386.2h0M574.4 425.7h0M582.8 397.6h0M583.5 416.7h0M565.9 383.9h0M597.5 401.2h0M591.5 386.1h0M573.6 396.5h0M596.9 388.8h0M546.8 377.2h0M588.3 382.1h0M580.4 415.6h0M584.0 414.8h0M563.8 404.9h0M572.2 399.8h0M573.5 389.2h0M590.6 420.9h0M561.8 405.6h0M568.0 374.3h0M532.5 379.8h0M557.2 377.2h0M588.3 417.8h0M578.7 392.9h0M559.2 394.3h0M545.2 378.9h0M581.2 392.1h0M580.4 403.4h0M587.6 388.3h0M582.1 406.2h0M560.8 409.0h0M601.9 421.2h0M584.5 390.0h0M579.4 376.2h0M556.8 403.7h0M595.3 389.4h0M558.0 375.0h0M552.4 378.6h0M564.3 394.0h0M594.8 382.6h0M588.9 392.4h0M591.6 388.8h0M596.9 415.6h0M578.1 419.5h0M590.3 401.9h0M557.1 387.2h0M577.5 381.7h0M583.7 377.1h0M574.2 420.0h0M595.9 422.0h0M578.2 385.3h0M568.1 386.1h0M594.3 407.4h0M587.8 389.4h0M585.7 396.0h0M583.2 411.7h0M590.9 407.2h0M579.1 407.8h0M578.1 379.6h0M582.7 381.3h0M569.1 378.7h0M583.2 423.9h0M592.4 389.6h0M590.6 410.3h0M562.4 375.9h0M568.6 375.2h0M562.8 407.6h0M550.9 381.1h0M583.4 382.9h0M556.8 377.3h0M593.1 403.3h0M588.3 377.7h0M544.4 395.6h0M558.6 411.7h0M589.8 383.2h0M568.7 390.5h0M598.5 402.1h0M596.9 396.8h0M587.8 400.2h0M586.2 425.9h0M547.3 392.6h0M555.6 385.7h0M589.6 381.4h0M582.1 419.5h0M566.7 397.1h0M597.2 407.7h0M599.8 401.1h0M558.5 391.0h0M578.4 408.7h0M553.5 380.2h0M544.7 376.4h0M581.4 377.2h0M572.3 374.5h0M563.1 409.8h0M586.2 391.8h0M569.7 399.6h0M589.2 381.2h0M566.3 394.9h0M561.3 410.2h0M561.1 404.5h0M591.9 409.6h0M562.6 378.8h0M560.6 396.4h0M563.7 389.2h0M577.2 385.3h0M593.1 397.8h0M573.6 399.6h0M572.2 416.5h0M581.3 415.1h0M591.1 396.7h0M572.4 387.4h0M579.0 397.1h0M597.1 382.2h0M593.0 386.6h0M576.4 392.3h0M572.5 395.6h0M553.1 408.5h0M588.4 406.5h0M598.6 407.1h0M571.8 404.4h0M581.3 405.5h0M571.8 397.8h0M555.2 400.4h0M555.9 408.2h0M577.9 383.0h0M603.7 424.7h0M582.7 405.4h0M552.9 404.1h0M542.9 388.6h0M581.8 417.5h0M569.9 391.6h0M553.9 410.1h0M565.0 385.2h0M565.9 376.3h0M575.9 374.4h0M571.9 429.6h0M539.0 381.7h0M538.5 377.2h0M557.8 395.4h0M565.7 400.7h0M551.8 376.2h0M571.5 384.3h0M574.3 393.6h0M579.8 419.7h0M573.7 395.8h0M583.1 421.4h0M537.4 380.0h0M547.6 408.1h0M589.4 400.3h0M592.0 403.5h0M573.8 386.9h0M585.5 419.6h0M577.2 416.0h0M560.4 391.5h0M585.7 382.4h0M578.6 378.7h0M532.2 386.5h0M584.8 401.8h0M596.8 400.3h0M556.6 377.3h0M599.3 422.7h0M577.2 394.8h0M576.1 374.0h0M575.3 406.3h0M554.8 377.0h0M580.1 383.7h0M542.7 382.1h0M541.0 379.0h0M578.3 390.5h0M559.8 397.4h0M564.6 403.8h0M587.0 412.1h0M588.6 398.2h0M579.2 376.1h0M588.6 422.4h0M560.6 376.6h0M530.3 383.9h0M579.2 386.9h0M591.0 403.9h0M598.9 419.3h0M581.4 383.3h0M570.4 416.7h0M569.2 401.5h0M570.1 379.3h0M575.3 412.6h0M550.4 376.9h0M592.2 391.9h0M560.5 378.8h0M590.9 398.0h0M583.3 428.5h0M573.3 408.8h0M553.7 387.9h0M574.4 407.3h0M537.7 388.1h0M561.1 374.7h0M546.5 403.9h0M572.0 389.4h0M579.3 426.5h0M579.9 381.5h0M577.4 396.6h0M565.4 402.5h0M593.9 412.0h0M566.7 417.5h0M564.3 412.3h0M585.8 411.7h0M592.5 410.0h0M566.8 409.6h0M590.8 420.7h0M597.0 410.1h0M566.6 401.8h0M576.3 429.0h0M578.5 422.2h0M562.7 383.5h0M571.0 418.7h0M550.0 381.5h0M592.7 416.5h0M572.7 379.8h0M588.1 377.0h0M581.9 427.0h0M589.2 390.0h0M599.4 396.0h0M572.4 387.7h0M575.1 378.2h0M588.4 376.4h0M570.7 399.3h0M557.9 411.2h0M580.3 397.3h0M582.2 376.1h0M575.0 417.0h0M565.9 420.3h0M584.6 412.8h0M585.4 421.1h0M592.1 399.6h0M560.8 376.6h0M582.1 410.3h0M582.0 384.9h0M582.0 410.9h0M534.7 385.0h0M585.5 407.6h0M572.8 385.9h0M580.2 413.5h0M557.0 401.0h0M570.1 415.0h0M583.9 404.8h0M593.3 395.1h0M596.7 401.3h0M565.0 403.3h0M582.7 394.7h0M571.1 387.7h0M566.7 425.5h0M583.5 392.6h0M549.7 411.2h0M591.8 418.1h0M532.5 385.9h0M560.7 386.3h0M575.0 429.2h0M597.3 389.5h0M596.9 394.7h0M543.6 374.8h0M579.0 422.4h0M543.0 392.5h0M592.0 377.3h0M584.9 400.6h0M579.9 418.7h0M590.2 406.7h0M573.9 394.7h0M586.4 407.4h0M582.3 413.5h0M570.9 395.0h0M590.6 377.8h0M575.8 387.9h0M574.4 392.0h0M592.3 403.7h0M598.3 427.1h0M581.1 378.6h0M593.6 396.8h0M596.5 425.4h0M580.6 416.2h0M553.8 404.8h0M597.4 411.7h0M595.0 393.6h0M591.4 382.2h0M576.8 389.8h0M587.6 390.6h0M578.6 402.9h0M575.2 399.0h0M586.7 406.7h0M584.4 396.3h0M542.5 405.8h0M598.9 419.9h0M594.3 408.6h0M577.0 409.4h0M569.8 410.1h0M571.6 388.6h0M558.9 377.7h0M587.0 394.7h0M567.4 421.1h0M580.9 418.7h0M583.1 383.2h0M574.4 408.7h0M584.4 401.5h0M565.2 378.9h0M574.8 402.7h0M595.7 402.3h0M591.9 397.9h0M575.8 420.0h0M596.3 420.7h0M589.1 402.4h0M572.1 397.2h0M596.0 423.3h0M569.3 374.1h0M579.4 391.6h0M533.2 380.6h0M560.5 412.3h0M563.7 411.8h0M559.4 383.5h0M564.6 377.9h0M594.5 427.0h0M588.2 415.8h0M565.8 411.1h0M563.3 377.7h0M572.2 378.1h0M584.9 406.2h0M585.3 394.1h0M584.1 375.1h0M594.7 418.9h0M576.4 417.3h0M560.5 405.9h0M563.2 393.0h0M537.6 380.2h0M597.2 389.1h0M569.2 374.8h0M545.7 375.5h0M589.1 393.4h0M589.1 414.0h0M592.0 421.4h0M576.4 403.8h0M562.0 388.2h0M597.5 398.5h0M603.2 405.5h0M556.7 377.0h0M562.3 405.2h0M597.8 421.2h0M577.7 407.4h0M593.6 395.3h0M574.0 416.7h0M585.8 399.7h0M533.0 383.8h0M573.0 388.6h0M571.3 409.9h0M548.8 388.3h0M569.0 407.8h0M593.6 398.6h0M587.2 399.1h0M557.4 390.3h0M581.2 409.2h0M594.1 402.7h0M580.8 425.7h0M578.4 402.0h0M544.8 406.2h0M569.4 423.3h0M553.9 403.0h0M573.0 402.1h0M580.9 411.2h0M603.0 402.7h0M553.3 397.0h0M558.2 375.6h0M565.0 384.9h0M572.3 418.2h0M588.3 411.7h0M594.2 408.0h0M577.7 397.1h0M558.5 377.2h0M583.9 375.6h0M560.7 377.5h0M548.6 385.2h0M583.6 429.2h0M546.9 385.6h0M599.7 401.6h0M578.7 428.7h0M568.9 409.2h0M548.3 381.4h0M575.3 380.1h0M593.5 389.5h0M529.2 385.7h0M594.0 380.7h0M574.8 387.0h0M600.4 394.8h0M585.8 415.0h0M585.8 403.1h0M593.8 424.9h0M537.6 386.2h0M566.7 410.3h0M595.5 397.0h0M573.3 389.5h0M564.7 401.9h0M565.7 378.0h0M549.9 394.5h0M576.4 408.2h0M566.3 397.0h0M591.0 415.2h0M575.0 422.8h0M552.5 385.3h0M552.1 404.7h0M597.8 424.9h0M573.7 378.6h0M599.1 424.0h0M567.6 379.5h0M585.9 421.3h0M580.1 422.6h0M573.6 374.0h0M587.4 421.8h0M567.9 393.0h0M567.9 402.1h0M602.9 396.7h0M583.6 378.4h0M588.2 423.3h0M600.6 406.3h0M599.5 407.5h0M589.4 411.9h0M545.8 391.8h0M568.7 430.0h0M582.5 420.9h0M599.9 405.6h0M574.8 403.1h0M540.1 378.3h0M537.8 382.4h0M566.9 404.5h0M587.2 423.5h0M584.6 397.0h0M573.1 396.8h0M582.1 393.8h0M589.7 387.3h0M573.6 415.7h0M580.7 391.0h0M583.7 416.2h0M595.5 421.7h0M573.4 377.0h0M594.1 412.1h0M585.1 401.6h0M537.4 397.1h0M544.1 401.7h0M569.7 381.8h0M580.1 376.2h0M552.7 375.9h0M566.1 395.3h0M571.7 413.4h0M556.4 404.6h0M590.6 388.6h0M563.4 399.9h0M566.0 377.1h0M573.1 423.0h0M596.5 383.3h0M570.9 416.9h0M587.5 381.7h0M595.2 411.7h0M571.2 394.2h0M560.1 392.4h0M564.7 398.4h0M578.4 427.3h0M598.2 416.0h0M581.4 380.7h0M556.2 403.1h0M562.5 378.7h0M586.3 379.0h0M577.5 389.2h0M575.0 424.0h0M591.8 405.8h0M551.4 410.7h0M588.4 379.3h0M594.6 411.4h0M586.2 422.1h0M582.2 390.0h0M538.1 383.8h0M573.1 417.6h0M579.6 405.7h0M573.3 426.4h0M562.1 396.9h0M545.1 376.8h0M585.5 426.6h0M575.5 406.5h0M576.4 382.3h0M591.7 405.6h0M591.4 423.6h0M591.7 407.6h0M591.1 377.9h0M559.4 394.8h0M598.2 426.2h0M580.4 405.7h0M548.8 408.4h0M595.6 401.3h0M577.2 375.1h0M584.9 419.2h0M589.6 386.1h0M561.3 411.7h0M563.7 392.4h0M560.8 410.6h0M597.5 404.6h0M546.8 410.2h0M558.9 386.8h0M540.3 397.2h0M564.6 386.1h0M582.4 383.3h0M588.1 386.5h0M586.4 403.7h0M551.8 398.5h0M532.8 380.6h0M567.8 410.2h0M588.9 379.3h0M596.5 422.6h0M584.2 408.5h0M587.2 408.0h0M566.2 404.2h0M560.1 393.0h0M593.0 411.9h0M599.9 420.9h0M589.2 402.3h0M567.3 422.3h0M561.7 381.5h0M568.6 376.7h0M594.4 427.0h0M576.6 378.4h0M565.4 413.4h0M543.0 396.8h0M551.7 381.7h0M585.5 393.1h0M591.9 399.5h0M578.6 413.0h0M578.8 387.9h0M588.0 418.0h0M567.6 411.9h0M593.6 418.8h0M549.9 405.0h0M572.1 391.4h0M579.6 423.8h0M556.6 408.3h0M601.3 397.4h0M596.4 381.5h0M595.2 389.4h0M589.0 382.6h0M586.8 418.6h0M596.1 392.8h0M571.8 397.0h0M573.0 404.1h0M570.7 425.2h0M545.5 378.9h0M546.0 388.1h0M551.4 409.3h0M577.1 428.7h0M578.4 398.2h0M582.8 406.7h0M591.5 421.7h0M577.9 427.3h0M579.2 378.3h0M531.4 384.6h0M568.3 396.8h0M550.0 380.8h0M594.4 421.8h0M595.6 402.4h0M579.1 427.7h0M581.9 417.5h0M589.5 388.0h0M564.5 407.6h0M592.5 406.9h0M581.4 396.6h0M572.9 402.0h0M538.1 400.5h0M582.9 383.8h0M599.4 393.0h0M594.1 393.7h0M576.1 403.9h0M559.6 387.3h0M572.4 400.6h0M594.2 384.3h0M533.6 381.3h0M595.9 408.1h0M586.5 414.7h0M563.0 391.9h0M585.4 409.7h0M572.9 393.9h0M585.4 393.7h0M584.2 382.7h0M572.1 395.9h0M552.8 376.8h0M573.7 398.1h0M547.6 375.2h0M599.5 423.8h0M575.7 427.2h0M586.1 377.5h0M592.9 379.0h0M593.1 422.8h0M593.9 403.3h0M558.5 385.5h0M561.5 409.0h0M580.6 382.3h0M574.1 375.3h0M556.6 407.9h0M582.0 410.8h0M547.2 404.8h0M586.7 391.6h0M564.8 411.6h0M586.6 417.3h0M543.9 380.7h0M569.3 405.6h0M588.4 414.9h0M569.4 408.5h0M585.0 383.3h0M559.4 401.9h0M596.4 420.1h0M592.0 392.0h0M565.2 410.0h0M551.1 375.9h0M572.2 377.0h0M586.6 415.9h0M585.5 417.0h0M590.8 390.8h0M535.7 378.9h0M588.6 409.9h0M573.2 401.7h0M577.1 393.7h0M590.3 409.2h0M555.4 374.9h0M573.7 430.0h0M552.1 389.1h0M600.2 394.0h0M548.0 380.6h0M573.0 397.2h0M574.6 426.9h0M595.1 403.8h0M589.6 392.3h0M573.9 401.3h0M578.5 418.4h0M555.0 412.3h0M569.4 397.3h0M584.0 423.3h0M588.6 382.1h0M583.5 413.7h0M557.9 398.2h0M572.4 420.0h0M566.6 424.1h0M589.0 413.5h0M589.3 404.9h0M591.0 392.5h0M565.5 387.6h0M573.2 383.3h0M542.5 382.2h0M579.0 391.1h0M559.8 376.1h0M585.3 390.5h0M570.5 400.7h0M565.0 386.3h0M564.1 379.3h0M558.7 379.3h0M557.4 381.2h0M591.1 382.0h0M532.9 382.7h0M598.5 416.3h0M559.2 395.7h0M590.8 383.4h0M549.8 377.9h0M555.8 392.5h0M574.7 403.2h0M568.1 376.9h0M573.8 377.0h0M598.9 400.0h0M578.3 379.0h0M602.1 419.9h0M554.3 409.8h0M548.9 378.4h0M576.2 388.6h0M556.8 374.4h0M529.5 386.6h0M564.6 400.6h0M571.6 380.0h0M574.2 384.4h0M558.6 397.5h0M564.2 404.0h0M577.9 420.5h0M582.9 388.2h0M594.2 388.5h0M584.7 381.7h0M590.7 385.4h0M575.4 386.1h0M598.5 425.0h0M560.4 386.0h0M596.2 387.1h0M551.8 405.3h0M597.7 396.1h0M602.6 424.6h0M584.8 383.7h0M599.3 400.3h0M602.8 396.4h0M560.5 410.3h0M573.6 377.4h0M603.6 400.1h0M560.2 401.5h0M587.5 417.0h0M595.1 419.5h0M565.0 413.9h0M583.9 424.1h0M548.5 387.0h0M596.5 383.3h0M580.7 376.6h0M580.1 404.3h0M571.5 393.9h0M574.2 428.3h0M574.6 389.2h0M547.6 379.2h0M595.5 402.2h0M557.7 405.9h0M588.5 400.7h0M588.8 418.5h0M596.1 385.9h0M559.5 381.1h0M590.3 383.5h0M567.2 405.4h0M570.7 402.0h0M566.6 404.1h0M583.8 386.6h0M587.4 410.2h0M564.6 384.9h0M553.9 400.0h0M588.0 422.9h0M553.3 378.9h0M587.9 422.0h0M567.3 403.9h0M584.7 378.4h0M583.3 381.0h0M595.8 399.1h0M583.3 421.9h0M576.9 381.4h0M575.4 420.9h0M581.2 400.3h0M539.6 383.8h0M534.7 391.5h0M573.6 386.7h0M572.2 390.8h0M538.8 389.6h0M585.5 416.8h0M580.3 403.4h0M596.8 405.3h0M568.9 390.9h0M568.5 411.0h0M592.1 423.8h0M595.5 403.1h0M571.2 416.1h0M590.5 386.3h0M602.5 422.8h0M538.4 393.2h0M561.0 379.4h0M571.0 409.0h0M581.2 381.0h0M596.4 412.1h0M537.7 393.2h0M575.8 407.7h0M587.1 384.4h0M575.4 401.4h0M555.2 374.3h0M584.5 384.8h0M635.3 446.3h0M630.3 442.3h0M634.1 448.2h0M637.0 446.0h0M628.3 445.7h0M629.2 439.2h0M636.4 441.2h0M634.0 447.4h0M628.4 438.6h0M631.9 448.9h0M627.6 439.0h0M627.6 444.9h0M630.4 440.1h0M627.6 443.7h0M630.3 443.3h0M634.4 447.5h0M638.3 443.7h0M633.1 448.3h0M636.1 439.9h0M631.6 442.6h0M630.3 440.8h0M633.1 447.5h0M633.3 447.8h0M637.2 446.7h0M629.8 448.9h0M637.6 444.6h0M632.6 446.3h0M637.6 443.3h0M632.4 441.9h0M633.4 441.6h0M631.3 440.6h0M632.9 443.6h0M638.3 444.9h0M636.0 447.1h0M630.5 446.3h0M629.8 446.6h0M635.3 445.7h0M636.1 443.9h0M634.6 446.4h0M630.1 443.0h0M639.5 444.7h0M628.4 446.5h0M634.9 443.4h0M639.9 444.3h0M638.3 445.8h0M635.9 442.5h0M636.5 446.8h0M630.1 441.3h0M638.1 444.1h0M627.4 446.6h0M632.0 441.6h0M625.8 434.9h0M630.8 444.8h0M635.9 442.5h0M635.3 443.5h0M636.8 439.9h0M633.7 446.0h0M629.5 443.5h0M633.0 448.1h0M625.0 433.6h0M628.7 445.5h0M632.1 442.6h0M629.4 438.8h0M632.9 445.5h0M637.5 446.7h0M631.9 445.6h0M634.0 444.5h0M629.3 447.7h0M635.7 445.0h0M631.4 448.5h0M634.4 443.4h0M628.7 445.7h0M632.1 443.3h0M634.3 447.4h0M634.7 447.8h0M635.0 447.3h0M635.8 441.5h0M627.7 442.8h0M630.6 446.9h0M620.2 410.9h0M618.9 413.7h0M614.9 411.9h0M617.9 412.4h0M620.8 413.4h0M617.4 411.0h0M619.8 411.1h0M615.4 411.5h0M619.7 411.3h0M620.3 412.6h0M617.8 412.4h0M618.8 410.0h0M619.0 413.1h0M617.7 412.0h0M619.1 412.5h0M616.1 412.1h0M617.5 409.5h0M620.6 411.1h0M616.8 410.7h0M618.7 413.3h0M616.3 411.1h0M618.4 410.6h0M619.9 413.1h0M618.7 413.1h0M617.1 413.5h0M618.0 410.3h0M613.2 412.6h0M617.2 411.9h0M651.3 387.8h0M661.3 388.9h0M647.9 391.8h0M646.4 382.2h0M655.3 393.0h0M660.9 396.9h0M665.7 387.3h0M636.1 398.7h0M658.1 389.7h0M656.8 388.0h0M662.5 390.3h0M654.5 392.0h0M658.8 396.4h0M658.2 396.5h0M644.5 389.2h0M646.4 380.9h0M657.9 392.3h0M660.0 390.6h0M650.5 393.7h0M643.2 394.1h0M648.2 395.8h0M650.6 399.9h0M649.0 382.4h0M661.9 389.1h0M637.9 392.9h0M643.8 400.8h0M646.1 397.6h0M648.1 381.7h0M648.2 397.9h0M647.4 401.0h0M645.4 389.3h0M664.3 392.2h0M662.8 383.6h0M648.6 401.9h0M662.4 383.8h0M662.3 403.1h0M647.6 396.5h0M639.5 391.1h0M648.9 387.0h0M646.7 393.5h0M639.7 391.8h0M643.1 394.9h0M649.7 388.7h0M655.8 385.0h0M644.3 382.5h0M644.1 400.3h0M634.6 391.5h0M666.0 382.9h0M664.2 392.3h0M647.1 389.4h0M658.0 384.0h0M660.7 385.7h0M661.3 402.2h0M644.7 394.1h0M643.3 398.3h0M641.3 388.5h0M663.3 386.9h0M652.5 389.7h0M644.8 393.2h0M632.7 392.3h0M664.7 384.4h0M631.3 394.2h0M650.4 392.6h0M641.2 390.6h0M648.0 394.8h0M643.7 400.8h0M660.3 385.8h0M664.0 392.2h0M639.5 391.4h0M658.1 392.8h0M660.0 390.2h0M644.7 389.0h0M658.1 385.6h0M661.9 390.6h0M647.4 391.5h0M644.8 399.6h0M645.0 387.4h0M650.1 386.3h0M662.1 403.4h0M657.4 395.2h0M663.6 382.3h0M654.8 386.9h0M660.9 401.6h0M643.5 395.3h0M660.8 388.5h0M652.1 397.5h0M659.7 395.9h0M654.0 397.8h0M655.7 396.7h0M662.0 385.6h0M649.3 399.7h0M653.5 397.6h0M666.6 384.4h0M666.2 382.1h0M637.0 399.8h0M630.9 394.8h0M660.3 399.4h0M661.0 385.8h0M661.2 393.3h0M647.8 397.1h0M658.3 397.2h0M647.6 384.2h0M649.7 398.4h0M659.2 388.4h0M635.5 396.5h0M646.8 384.5h0M645.4 395.7h0M656.1 397.6h0M651.1 400.3h0M654.8 388.2h0M663.2 385.5h0M635.1 395.9h0M661.0 405.6h0M654.7 398.3h0M649.8 386.6h0M658.9 390.2h0M647.7 398.7h0M639.6 391.9h0M647.9 388.2h0M631.5 395.1h0M665.2 386.4h0M660.4 398.2h0M659.3 392.0h0M665.5 383.3h0M662.1 390.2h0M644.7 400.8h0M651.8 389.1h0M649.7 394.7h0M654.9 392.2h0M656.8 396.8h0M660.6 403.9h0M637.3 394.0h0M643.1 400.3h0M631.7 397.6h0M646.0 385.4h0M658.7 398.7h0M649.3 388.8h0M644.0 401.5h0M658.7 397.7h0M647.4 400.5h0M635.6 390.6h0M661.2 400.3h0M662.7 396.7h0M662.3 395.8h0M640.4 392.1h0M658.7 398.8h0M641.5 400.2h0M649.5 384.6h0M641.9 395.3h0M650.8 385.8h0M659.0 384.4h0M633.9 394.4h0M656.9 393.6h0M658.9 397.5h0M652.5 389.5h0M635.9 399.7h0M635.4 393.9h0M633.1 398.0h0M636.8 398.6h0M651.5 386.1h0M654.8 394.5h0M643.9 392.1h0M636.8 398.6h0M662.1 401.7h0M661.7 386.1h0M649.4 391.5h0M664.0 389.0h0M664.0 383.3h0M647.5 401.7h0M662.6 386.9h0M660.9 395.4h0M664.0 387.2h0M649.1 396.5h0M644.8 382.9h0M660.8 397.9h0M638.6 395.0h0M649.5 385.4h0M651.5 401.0h0M654.1 394.7h0M657.0 395.6h0M645.7 391.8h0M642.2 397.2h0M665.6 384.1h0M655.6 391.7h0M645.1 396.9h0M655.7 397.1h0M636.9 394.4h0M651.0 384.6h0M647.1 391.3h0M657.3 388.5h0M636.4 390.4h0M653.0 389.2h0M661.2 383.8h0M661.6 385.5h0M650.8 395.6h0M659.4 398.0h0M635.5 398.0h0M632.5 398.4h0M646.3 381.6h0M640.6 393.4h0M661.3 397.1h0M660.5 387.5h0M646.9 388.8h0M658.1 387.5h0M641.6 397.1h0M640.4 399.7h0M657.0 397.0h0M638.4 391.9h0M663.1 383.5h0M649.5 384.4h0M644.3 383.7h0M657.8 386.4h0M652.5 399.2h0M639.8 393.4h0M644.5 390.3h0M656.6 395.8h0M637.1 393.8h0M644.9 392.3h0M647.8 385.5h0M659.0 393.8h0M661.1 404.4h0M654.8 388.3h0M659.9 383.6h0M663.0 397.5h0M661.0 385.0h0M646.3 379.6h0M658.8 388.9h0M667.0 382.5h0M648.5 382.2h0M652.0 394.9h0M660.7 392.8h0M649.7 389.2h0M645.1 389.0h0M645.6 386.9h0M634.5 395.0h0M653.6 389.6h0M650.3 397.4h0M659.1 394.2h0M644.5 391.9h0M651.5 388.5h0M664.0 389.9h0M658.9 390.3h0M651.7 385.3h0M643.1 395.0h0M648.2 401.2h0M647.6 390.2h0M663.3 392.9h0M639.0 397.9h0M657.3 386.0h0M652.4 388.9h0M634.6 397.4h0M651.3 387.4h0M660.6 397.4h0M645.5 397.8h0M630.4 395.2h0M662.5 396.4h0M659.1 390.1h0M660.9 389.7h0M650.8 397.7h0M663.2 385.8h0M663.6 383.2h0M654.8 394.2h0M657.8 384.3h0M661.3 399.8h0M649.0 385.9h0M655.2 396.8h0M664.6 390.8h0M657.8 395.2h0M664.1 382.9h0M658.1 394.8h0M659.4 401.1h0M646.0 399.9h0M664.3 385.3h0M643.2 401.0h0M650.1 399.0h0M635.7 394.5h0M654.6 395.8h0M642.8 397.5h0M635.4 390.9h0M648.4 392.0h0M650.8 389.4h0M666.8 385.7h0M645.2 400.7h0M656.1 398.6h0M646.0 392.6h0M662.2 403.7h0M663.0 400.4h0M654.9 387.9h0M652.2 397.5h0M643.8 401.6h0M653.2 399.8h0M642.9 400.1h0M658.3 388.8h0M637.6 394.1h0M636.8 391.4h0M641.1 389.3h0M646.2 379.7h0M648.7 392.2h0M659.3 383.7h0M645.9 386.9h0M656.4 397.1h0M654.4 399.3h0M648.0 388.5h0M660.8 391.5h0M646.7 395.6h0M664.7 385.6h0M648.6 391.5h0M662.7 386.4h0M643.3 395.7h0M654.9 387.2h0M640.2 398.7h0M649.8 386.4h0M635.5 398.5h0M633.9 399.1h0M656.6 396.3h0M655.3 388.9h0M648.5 384.0h0M655.5 392.2h0M632.6 398.1h0M633.6 391.7h0M642.1 390.6h0M641.2 394.7h0M640.1 392.1h0M634.0 398.4h0M655.1 387.0h0M647.4 394.2h0M648.7 387.0h0M651.5 395.8h0M657.2 391.4h0M653.9 398.2h0M655.8 395.7h0M645.9 395.4h0M665.5 385.4h0M642.1 389.2h0M648.4 383.4h0M663.1 396.4h0M633.2 395.4h0M661.4 386.5h0M648.1 400.7h0M649.3 383.5h0M664.5 393.0h0M655.7 389.5h0M658.7 393.5h0M657.6 393.2h0M650.7 387.7h0M658.0 399.3h0M656.6 390.8h0M653.6 388.2h0M646.0 396.3h0M653.5 388.7h0M651.7 398.4h0M661.6 401.0h0M650.0 400.3h0M659.4 396.2h0M649.2 390.4h0M634.4 398.4h0M653.6 388.8h0M661.1 397.8h0M667.3 384.8h0M663.7 382.5h0M648.2 401.5h0M650.6 384.6h0M655.0 390.6h0M640.3 393.0h0M660.6 384.3h0M637.8 396.6h0M631.8 394.2h0M634.7 394.4h0M646.2 398.1h0M644.8 399.7h0M659.7 396.2h0M644.7 399.3h0M648.3 384.1h0M660.3 392.3h0M640.6 399.8h0M651.6 385.4h0M654.0 397.6h0M660.8 405.0h0M645.7 380.4h0M662.0 405.7h0M657.7 396.7h0M661.8 385.7h0M658.3 393.5h0M664.6 392.5h0M656.5 400.0h0M654.9 389.3h0M662.2 388.3h0M642.5 398.8h0M655.5 389.8h0M640.1 390.5h0M660.9 397.1h0M640.1 392.0h0M649.3 395.1h0M647.5 395.5h0M627.9 360.1h0M640.2 363.4h0M632.1 358.6h0M638.4 356.6h0M633.3 356.5h0M640.4 361.2h0M637.8 359.4h0M623.7 362.0h0M637.3 360.5h0M620.6 363.5h0M618.9 363.5h0M628.5 360.5h0M630.1 359.4h0M642.0 358.0h0M630.1 360.7h0M623.0 363.1h0M620.7 362.3h0M625.8 361.8h0M617.8 361.4h0M623.9 359.7h0M643.2 361.3h0M634.8 361.9h0M639.7 361.2h0M637.7 358.8h0M615.2 362.7h0M623.8 361.4h0M636.8 363.6h0M641.2 358.3h0M624.3 361.8h0M628.8 360.9h0M635.5 359.4h0M622.7 359.8h0M626.7 357.5h0M635.6 356.2h0M637.9 360.4h0M637.6 357.3h0M642.1 360.1h0M634.8 358.5h0M619.8 361.4h0M632.5 362.0h0M637.3 362.9h0M631.6 358.6h0M619.6 361.8h0M623.3 361.9h0M614.0 362.4h0M623.4 362.0h0M637.4 361.6h0M637.3 357.3h0M616.0 360.7h0M631.4 358.4h0M616.3 361.7h0M621.5 360.1h0M642.4 359.1h0M635.0 361.8h0M619.9 360.2h0M617.0 362.4h0M634.3 358.2h0M631.2 360.4h0M636.0 359.1h0M625.5 362.5h0M615.9 361.8h0M639.8 360.0h0M627.5 361.3h0M621.2 361.5h0M637.7 358.8h0M620.8 362.2h0M628.6 358.1h0M633.6 361.3h0M636.3 357.9h0M636.6 358.7h0M633.3 360.3h0M626.5 359.3h0M618.9 358.8h0M634.5 360.0h0M629.2 361.9h0M632.8 359.8h0M638.7 356.2h0M629.2 357.1h0M609.4 362.5h0M637.1 357.6h0M638.0 362.7h0M622.6 361.7h0M641.1 359.6h0M640.5 357.2h0M636.7 363.1h0M640.3 361.9h0M638.3 357.2h0M614.5 361.8h0M618.3 361.0h0M635.4 362.0h0M617.4 362.1h0M642.1 359.6h0M633.4 358.1h0M630.2 358.3h0M629.3 357.1h0M643.9 361.0h0M621.7 360.8h0M626.8 358.6h0M636.8 360.3h0M614.7 361.9h0M636.0 357.2h0M636.5 361.0h0M636.1 358.4h0M640.9 358.1h0M637.7 362.1h0M634.9 360.8h0M628.1 359.2h0M616.1 361.6h0M593.8 354.5h0M596.7 350.5h0M591.4 354.9h0M592.5 353.9h0M590.6 347.9h0M588.9 354.6h0M597.0 349.6h0M591.7 352.9h0M590.2 354.1h0M596.4 351.9h0M597.6 349.8h0M592.3 354.1h0M597.2 352.4h0M588.7 350.2h0M596.6 350.9h0M591.2 352.1h0M598.3 350.8h0M593.4 353.7h0M596.3 354.0h0M594.9 350.9h0M589.6 354.5h0M592.3 350.1h0M598.8 350.5h0M593.7 349.5h0M591.6 349.8h0M589.3 348.7h0M589.4 349.3h0M590.6 348.7h0M598.5 350.8h0M590.2 351.2h0M592.5 350.3h0M591.0 348.9h0M594.6 349.3h0M589.6 350.2h0M593.5 354.3h0M590.6 348.8h0M595.0 352.1h0M591.7 351.0h0M597.4 349.2h0M593.4 354.3h0M589.6 355.1h0M589.1 348.4h0M594.8 349.7h0M594.8 348.5h0M588.9 349.1h0M597.1 351.8h0M596.8 352.5h0M625.4 379.6h0M620.6 381.9h0M627.0 381.0h0M626.8 378.8h0M627.1 376.3h0M622.6 375.9h0M624.3 377.0h0M629.8 378.2h0M621.5 377.9h0M617.6 376.3h0M629.8 380.0h0M623.5 379.5h0M616.0 377.3h0M625.8 380.9h0M622.8 380.1h0M618.3 377.4h0M625.5 378.8h0M619.9 376.6h0M630.8 378.5h0M618.9 376.8h0M620.5 375.6h0M617.6 376.5h0M616.0 379.4h0M620.6 380.0h0M624.4 379.2h0M622.1 375.6h0M618.6 378.4h0M628.6 379.3h0M617.3 376.4h0M620.6 375.2h0M620.2 375.2h0M619.7 379.5h0M616.6 377.9h0M627.2 378.9h0M626.8 380.8h0M617.1 381.9h0M624.1 375.7h0M623.2 381.3h0M622.7 376.1h0M625.1 378.6h0M628.0 377.8h0M618.4 376.3h0M616.1 379.8h0M625.9 376.6h0M622.4 377.8h0M620.5 380.4h0M617.9 381.5h0M629.7 378.1h0M619.9 375.8h0M621.6 376.4h0M622.5 379.0h0M618.3 379.4h0M624.6 376.0h0M622.6 375.5h0M629.2 378.8h0M624.6 379.0h0M615.2 377.9h0M615.4 380.7h0M617.8 379.3h0M627.8 377.3h0" stroke="#c77cdc" stroke-width="1.3" stroke-linecap="square"/>
<path d="M544.4 386.6h0M545.3 388.1h0M548.1 379.7h0M565.2 388.0h0M573.0 399.1h0M568.0 389.3h0M566.8 415.3h0M572.6 416.0h0M562.3 380.8h0M561.9 411.0h0M539.0 389.8h0M594.2 380.5h0M572.6 425.2h0M577.1 379.5h0M538.6 398.6h0M553.8 385.6h0M569.3 373.7h0M569.0 384.4h0M547.3 407.7h0M559.7 404.7h0M563.2 386.9h0M559.6 380.5h0M546.7 406.2h0M552.1 407.9h0M600.5 400.5h0M544.1 389.6h0M540.0 383.5h0M544.9 382.9h0M545.6 375.0h0M571.8 412.0h0M545.4 397.8h0M549.9 384.8h0M543.8 394.8h0M540.6 387.9h0M543.1 405.9h0M562.1 408.7h0M576.9 407.5h0M582.0 406.1h0M535.3 383.9h0M566.5 395.4h0M539.9 398.6h0M571.2 427.1h0M556.9 386.3h0M561.8 384.2h0M572.9 424.5h0M581.5 420.7h0M544.1 408.6h0M591.1 379.3h0M557.4 392.4h0M563.9 405.7h0M566.9 416.7h0M545.7 392.5h0M558.3 409.2h0M574.2 398.3h0M534.9 396.5h0M566.5 380.6h0M563.2 395.7h0M540.2 387.3h0M547.5 406.4h0M578.8 421.0h0M554.9 373.9h0M551.9 408.5h0M571.4 400.5h0M539.0 381.9h0M555.9 405.1h0M572.2 397.8h0M530.2 382.0h0M554.1 386.8h0M599.7 417.9h0M554.4 398.8h0M572.0 407.1h0M574.5 388.7h0M560.3 396.3h0M575.5 426.5h0M554.3 380.8h0M558.4 393.6h0M564.2 409.3h0M595.2 391.7h0M591.9 399.1h0M572.7 416.1h0M538.7 379.3h0M556.6 405.6h0M585.7 413.3h0M563.2 373.9h0M577.9 429.4h0M574.2 420.7h0M559.9 400.9h0M538.5 392.1h0M587.9 411.4h0M581.4 425.6h0M573.7 427.8h0M554.8 401.8h0M559.9 381.3h0M543.1 387.2h0M538.2 383.1h0M552.5 399.3h0M595.7 393.6h0M553.5 401.7h0M576.2 390.3h0M572.1 391.1h0M551.7 396.5h0M590.0 388.2h0M546.5 393.8h0M558.3 385.8h0M537.4 387.5h0M575.8 422.2h0M537.8 398.8h0M541.3 381.5h0M548.8 394.0h0M543.3 399.4h0M547.4 385.7h0M568.0 408.5h0M536.6 394.1h0M542.8 376.6h0M542.4 395.2h0M559.4 391.8h0M548.5 405.3h0M594.3 394.7h0M573.3 405.3h0M543.8 376.4h0M577.7 426.1h0M557.2 408.5h0M561.5 407.4h0M589.7 412.5h0M557.9 400.4h0M542.7 402.8h0M563.8 397.5h0M541.5 385.8h0M568.5 399.7h0M589.1 414.4h0M573.0 427.8h0M586.4 389.5h0M577.2 402.1h0M562.7 385.7h0M542.2 399.7h0M565.8 383.8h0M546.0 403.9h0M558.4 402.9h0M539.9 396.1h0M551.2 391.1h0M549.8 403.1h0M566.1 380.1h0M555.3 406.0h0M533.4 386.3h0M536.3 387.6h0M599.2 405.0h0M545.3 374.4h0M556.2 407.8h0M550.2 387.5h0M564.8 402.1h0M581.4 418.8h0M555.1 388.8h0M549.9 383.6h0M538.0 390.4h0M559.4 378.4h0M532.2 393.1h0M546.1 408.1h0M545.6 374.8h0M571.5 424.4h0M562.4 397.7h0M543.3 394.6h0M587.2 421.3h0M542.4 407.5h0M567.6 405.7h0M572.9 424.7h0M546.6 405.6h0M560.1 385.2h0M553.2 386.4h0M549.8 388.9h0M566.2 386.2h0M588.4 407.2h0M540.5 394.5h0M547.8 376.7h0M559.5 407.6h0M545.4 407.5h0M539.4 392.3h0M577.3 387.9h0M544.1 396.8h0M553.7 403.2h0M575.3 377.3h0M563.0 411.8h0M557.5 397.3h0M573.6 420.2h0M531.8 384.0h0M548.9 400.5h0M554.6 386.5h0M568.9 410.9h0M556.8 392.6h0M555.2 408.3h0M554.6 412.5h0M571.7 400.3h0M589.3 385.1h0M535.0 387.2h0M541.4 403.3h0M549.0 392.0h0M535.2 394.5h0M542.1 399.4h0M554.9 400.8h0M550.8 408.2h0M567.1 416.0h0M535.8 391.4h0M559.6 390.6h0M566.0 410.2h0M598.8 396.1h0M545.2 385.8h0M549.9 394.9h0M562.9 406.6h0M583.7 416.3h0M558.9 409.9h0M571.2 428.8h0M569.0 426.1h0M556.6 396.2h0M548.2 391.7h0M546.0 387.9h0M589.0 399.1h0M569.4 417.7h0M590.6 377.8h0M543.1 396.9h0M555.6 392.5h0M573.5 415.4h0M554.9 383.2h0M552.9 406.9h0M551.2 384.3h0M546.7 395.1h0M547.9 404.3h0M535.8 378.4h0M530.6 380.7h0M577.6 410.4h0M582.1 422.7h0M556.4 406.7h0M595.1 399.5h0M557.0 405.0h0M545.3 396.4h0M565.0 376.2h0M560.9 393.6h0M541.7 382.8h0M550.0 374.8h0M555.9 394.5h0M533.9 389.0h0M537.0 382.8h0M583.7 375.8h0M548.2 402.6h0M590.4 397.0h0M548.1 405.4h0M544.2 409.5h0M549.9 398.7h0M549.0 400.6h0M554.8 389.3h0M552.1 373.9h0M538.0 389.8h0M600.9 421.9h0M588.9 392.3h0M560.9 382.3h0M559.4 387.5h0M548.3 394.2h0M563.9 391.7h0M594.1 400.1h0M539.5 400.5h0M591.1 420.5h0M577.1 406.4h0M596.6 411.1h0M552.4 402.9h0M599.0 402.9h0M553.9 396.6h0M594.5 385.7h0M570.9 390.3h0M548.1 375.8h0M591.9 409.5h0M568.6 402.5h0M591.8 398.2h0M542.7 402.7h0M598.4 423.5h0M583.1 379.5h0M579.7 401.0h0M557.7 395.9h0M575.0 425.4h0M550.3 405.3h0M546.0 398.4h0M539.5 401.9h0M554.0 386.0h0M592.5 405.2h0M535.6 398.4h0M581.6 427.3h0M580.2 398.7h0M535.7 391.2h0M559.4 383.7h0M572.0 409.3h0M554.7 383.2h0M544.8 397.4h0M557.2 394.6h0M565.2 379.4h0M553.8 401.2h0M577.4 389.3h0M557.6 398.5h0M596.7 383.1h0M572.8 418.3h0M570.6 375.5h0M535.3 391.4h0M585.9 402.4h0M568.9 381.7h0M550.7 395.8h0M591.2 422.7h0M542.2 397.5h0M555.0 388.7h0M562.4 395.4h0M566.0 390.5h0M556.4 402.1h0M549.1 404.6h0M555.7 378.3h0M562.8 374.2h0M556.2 381.3h0M553.0 408.6h0M533.3 394.3h0M599.9 398.7h0M581.3 401.2h0M555.8 382.9h0M555.7 384.9h0M562.4 386.3h0M567.9 423.9h0M556.0 382.2h0M533.0 380.3h0M587.4 411.0h0M535.4 383.4h0M562.0 401.9h0M547.8 387.0h0M537.4 402.1h0M561.2 412.1h0M590.3 415.1h0M544.6 391.0h0M537.5 400.6h0M533.5 384.1h0M553.1 382.3h0M555.1 387.5h0M568.4 403.6h0M567.3 389.9h0M573.7 426.1h0M542.5 381.4h0M577.9 391.3h0M534.5 397.5h0M555.9 386.5h0M553.9 401.3h0M566.8 387.8h0M558.0 409.3h0M532.9 382.0h0M559.8 381.9h0M568.5 413.8h0M585.3 422.8h0M566.0 401.2h0M551.0 385.4h0M569.6 428.6h0M568.3 417.7h0M595.7 399.0h0M559.9 380.7h0M534.4 386.3h0M575.3 392.1h0M549.7 386.8h0M565.4 411.1h0M559.7 408.6h0M557.7 394.7h0M551.4 391.0h0M558.3 407.7h0M554.6 402.1h0M568.2 416.0h0M554.2 410.9h0M536.6 384.9h0M562.2 388.2h0M575.6 418.4h0M532.0 377.9h0M592.0 424.2h0M571.6 379.0h0M545.5 398.8h0M566.1 385.1h0M557.6 394.6h0M549.1 382.7h0M557.8 386.1h0M580.5 401.4h0M542.0 392.9h0M550.8 400.3h0M534.3 376.7h0M558.3 379.2h0M546.7 403.8h0M580.3 398.9h0M538.8 396.0h0M563.0 399.1h0M566.5 388.1h0M566.6 394.6h0M570.3 420.4h0M599.4 402.9h0M546.3 402.9h0M555.6 373.8h0M535.4 389.0h0M549.3 391.9h0M549.1 392.6h0M597.7 423.7h0M552.0 408.0h0M556.4 401.0h0M572.9 416.4h0M554.5 402.0h0M567.1 414.4h0M580.5 421.3h0M571.6 393.3h0M564.1 406.7h0M551.7 388.9h0M575.4 418.2h0M541.2 389.3h0M571.1 387.0h0M583.2 413.5h0M544.7 404.7h0M591.8 408.1h0M540.9 390.5h0M557.9 376.7h0M567.0 421.8h0M562.9 387.7h0M557.0 401.1h0M577.4 422.9h0M577.2 390.0h0M540.2 401.6h0M537.4 387.7h0M594.8 390.2h0M578.8 386.7h0M557.9 387.8h0M559.2 381.8h0M534.7 392.8h0M555.4 399.1h0M572.7 420.9h0M543.8 400.0h0M562.0 393.3h0M545.9 382.2h0M549.0 375.0h0M584.5 395.2h0M540.6 387.4h0M593.3 394.6h0M547.1 402.0h0M565.5 394.0h0M556.3 393.6h0M551.4 378.3h0M584.1 378.1h0M549.4 392.7h0M582.9 402.4h0M533.2 383.8h0M540.8 392.3h0M544.2 391.4h0M541.6 381.7h0M575.7 383.1h0M564.0 403.2h0M534.8 380.2h0M544.4 404.6h0M540.8 383.6h0M552.0 394.8h0M577.6 419.1h0M558.9 410.3h0M535.2 390.0h0M565.5 399.9h0M552.8 409.2h0M561.3 392.4h0M600.8 404.3h0M541.0 391.8h0M560.9 381.7h0M542.8 404.4h0M560.7 404.9h0M590.5 416.8h0M542.2 379.5h0M558.6 394.1h0M547.6 390.3h0M568.4 380.0h0M586.3 397.1h0M536.0 391.6h0M566.2 404.8h0M535.6 390.7h0M559.5 390.5h0M581.2 376.5h0M537.9 397.1h0M574.0 425.9h0M552.3 395.1h0M550.8 399.0h0M589.7 383.8h0M559.1 412.4h0M545.6 390.0h0M541.6 389.5h0M538.6 390.4h0M570.3 400.0h0M556.7 401.8h0M548.1 398.7h0M573.7 421.0h0M591.7 399.6h0M543.9 403.3h0M575.4 426.3h0M542.5 403.4h0M538.3 392.1h0M540.7 400.9h0M592.9 393.8h0M595.2 409.3h0M568.3 416.1h0M569.9 397.8h0M559.5 393.0h0M532.7 378.9h0M599.8 396.8h0M535.1 394.0h0M543.7 396.5h0M581.6 409.8h0M557.0 391.2h0M561.1 411.5h0M551.4 380.7h0M577.6 422.8h0M574.6 394.4h0M560.5 400.0h0M538.6 401.5h0M579.9 395.2h0M593.5 398.6h0M551.7 385.1h0M552.7 390.0h0M542.2 403.8h0M599.6 395.3h0M557.3 394.4h0M587.7 415.2h0M547.0 398.6h0M580.6 382.2h0M563.8 386.5h0M565.6 395.7h0M567.0 413.3h0M578.3 412.5h0M558.0 396.9h0M569.6 425.1h0M547.7 393.5h0M592.2 382.8h0M535.4 379.1h0M603.0 423.6h0M573.6 428.5h0M570.2 418.2h0M553.1 387.1h0M556.8 396.7h0M582.4 386.0h0M540.3 401.2h0M568.2 385.6h0M557.0 410.5h0M563.7 414.6h0M539.9 380.5h0M569.8 406.5h0M588.2 384.8h0M557.5 391.1h0M575.6 418.2h0M602.5 404.9h0M566.0 384.4h0M567.6 414.3h0M589.6 422.8h0M595.7 417.3h0M601.7 424.3h0M537.4 392.4h0M551.5 381.5h0M590.9 396.9h0M562.7 378.4h0M597.5 402.9h0M579.0 420.4h0M555.3 379.4h0M534.3 384.5h0M592.5 413.1h0M545.1 376.9h0M538.4 395.3h0M540.5 395.8h0M568.9 409.6h0M559.2 383.7h0M538.9 390.1h0M579.7 384.2h0M565.7 388.8h0M567.9 413.3h0M557.2 406.9h0M577.7 427.0h0M535.7 392.7h0M598.3 392.9h0M596.6 389.8h0M543.7 404.1h0M548.2 395.3h0M557.9 388.6h0M567.4 425.8h0M533.9 390.5h0M535.8 378.1h0M563.3 389.9h0M565.4 385.4h0M576.4 385.4h0M551.2 394.5h0M543.4 382.8h0M547.2 377.4h0M550.0 402.6h0M568.8 390.8h0M535.9 383.1h0M558.9 387.8h0M541.3 403.3h0M558.2 384.0h0M569.8 423.4h0M535.1 391.9h0M573.4 384.6h0M542.7 395.7h0M565.9 382.2h0M574.0 406.1h0M556.8 387.5h0M556.7 386.8h0M578.2 420.9h0M581.8 381.0h0M597.3 399.8h0M542.1 402.3h0M569.8 383.0h0M600.5 426.3h0M558.3 376.4h0M558.4 376.1h0M576.7 418.2h0M588.3 380.2h0M541.6 400.8h0M561.0 387.8h0M562.6 407.5h0M597.5 398.0h0M596.3 393.6h0M593.1 422.0h0M568.1 374.8h0M574.4 391.4h0M554.5 380.9h0M552.4 377.4h0M530.1 387.9h0M534.7 378.9h0M536.3 391.1h0M602.1 425.3h0M576.3 390.6h0M546.1 391.7h0M557.3 390.5h0M535.6 398.2h0M573.1 385.4h0M585.5 423.7h0M601.5 394.6h0M576.1 406.8h0M571.1 396.6h0M539.7 387.9h0M551.1 402.1h0M534.2 384.8h0M552.6 407.5h0M535.8 395.6h0M554.6 410.2h0M575.5 404.2h0M561.4 405.5h0M540.9 385.1h0M572.7 410.0h0M569.6 384.9h0M603.4 402.7h0M578.8 428.2h0M545.5 398.1h0M535.1 390.7h0M543.9 376.2h0M542.9 408.7h0M546.3 405.6h0M575.1 417.4h0M537.1 395.4h0M567.4 382.7h0M557.9 393.9h0M547.8 384.8h0M555.7 374.7h0M580.3 420.4h0M548.7 406.7h0M571.9 403.6h0M553.5 399.1h0M579.5 413.1h0M589.0 378.8h0M542.3 394.5h0M566.7 417.9h0M559.3 404.6h0M571.4 423.3h0M579.8 425.1h0M561.8 387.2h0M580.0 408.6h0M555.2 384.6h0M533.3 382.9h0M568.0 426.8h0M567.1 422.8h0M547.8 379.5h0M546.1 391.0h0M531.6 383.7h0M559.3 399.4h0M564.5 412.1h0M551.6 394.2h0M564.2 414.6h0M592.5 378.7h0M596.7 410.0h0M586.4 395.0h0M569.3 383.4h0M532.6 392.0h0M585.5 388.1h0M541.1 395.9h0M587.0 388.2h0M586.0 376.5h0M596.4 422.2h0M557.1 388.1h0M545.3 392.9h0M560.9 382.5h0M568.9 425.1h0M540.9 383.8h0M569.2 407.6h0M588.4 423.3h0M547.3 392.2h0M541.9 392.9h0M538.2 383.9h0M567.6 409.2h0M545.3 403.8h0M534.9 384.4h0M533.1 382.3h0M552.8 382.4h0M547.3 382.1h0M541.3 386.0h0M544.0 390.9h0M547.8 384.2h0M556.3 380.4h0M592.3 395.9h0M540.9 375.5h0M564.6 387.8h0M566.6 406.7h0M573.5 427.5h0M543.9 404.4h0M560.6 392.2h0M536.4 385.6h0M598.3 416.7h0M547.4 381.7h0M546.3 396.4h0M601.3 405.3h0M550.0 384.1h0M555.1 409.2h0M559.6 405.7h0M597.2 412.1h0M538.3 378.9h0M549.3 387.4h0M589.9 417.6h0M543.3 408.0h0M547.3 384.1h0M577.3 420.0h0M538.2 396.0h0M549.2 390.1h0M579.0 375.1h0M544.9 402.8h0M556.2 397.9h0M537.1 398.6h0M558.8 412.7h0M557.1 392.1h0M532.7 393.4h0M564.7 410.5h0M582.8 403.5h0M571.4 393.3h0M574.5 398.7h0M583.4 379.9h0M588.1 424.4h0M560.9 391.8h0M549.3 405.4h0M533.2 384.5h0M597.1 393.2h0M537.2 402.1h0M532.7 377.0h0M590.0 404.8h0M535.8 395.3h0M580.7 397.7h0M547.1 383.7h0M587.6 412.2h0M596.6 401.3h0M573.3 421.8h0M555.3 409.3h0M551.7 407.8h0M562.8 392.9h0M541.6 401.2h0M562.0 394.5h0M534.5 381.1h0M578.9 405.4h0M568.0 412.6h0M541.0 403.3h0M536.9 401.2h0M553.4 395.7h0M602.6 397.5h0M562.1 410.7h0M566.2 396.0h0M556.3 381.0h0M540.3 383.7h0M565.1 393.5h0M555.3 389.1h0M565.7 423.6h0M557.1 401.1h0M558.6 385.9h0M565.0 387.3h0M554.3 389.1h0M548.0 386.3h0M534.0 390.4h0M554.6 401.6h0M598.3 412.3h0M567.7 400.0h0M548.7 393.3h0M569.8 397.3h0M566.1 395.8h0M559.2 388.9h0M555.9 374.8h0M573.9 412.5h0M558.6 390.9h0M552.8 400.8h0M554.1 389.2h0M585.1 405.8h0M547.6 407.1h0M566.5 401.4h0M538.6 397.3h0M572.8 421.3h0M563.4 381.7h0M590.2 395.5h0M548.8 388.6h0M548.4 393.8h0M540.5 396.4h0M559.1 400.9h0M569.9 396.0h0M554.6 381.8h0M550.4 373.8h0M572.8 422.9h0M563.2 403.1h0M543.5 398.5h0M595.8 412.1h0M550.4 376.7h0M553.6 384.0h0M585.7 402.6h0M545.7 405.8h0M602.2 405.0h0M548.4 394.3h0M554.9 382.3h0M573.0 414.5h0M572.2 424.3h0M529.5 384.7h0M562.2 376.7h0M570.2 388.3h0M551.0 407.6h0M550.7 391.6h0M546.9 394.7h0M535.4 375.8h0M581.1 410.9h0M591.1 381.7h0M539.3 396.3h0M547.6 401.0h0M596.5 423.5h0M590.4 408.4h0M554.7 396.9h0M551.8 387.7h0M572.5 392.6h0M594.6 425.2h0M541.7 390.3h0M544.7 387.2h0M546.7 378.1h0M549.2 404.5h0M583.9 388.4h0M548.3 383.8h0M575.4 418.4h0M559.7 392.0h0M582.7 379.4h0M547.6 398.2h0M559.6 402.5h0M583.1 423.5h0M556.3 400.0h0M552.1 395.8h0M554.3 394.0h0M553.2 393.4h0M562.1 396.2h0M538.1 390.5h0M541.4 386.8h0M580.9 428.7h0M549.0 385.1h0M554.5 404.1h0M535.9 391.4h0M571.0 410.5h0M584.9 387.4h0M570.1 401.3h0M571.8 399.2h0M536.5 393.7h0M556.1 382.3h0M560.2 387.6h0M545.8 409.9h0M565.4 403.4h0M545.8 386.7h0M560.9 394.9h0M567.7 401.1h0M557.0 401.8h0M573.6 399.3h0M531.5 391.2h0M574.2 411.6h0M563.7 377.0h0M550.9 399.1h0M540.8 396.8h0M542.7 394.4h0M539.7 390.8h0M545.2 405.7h0M571.5 380.6h0M592.1 405.9h0M532.2 377.5h0M593.7 395.6h0M574.1 427.3h0M578.1 382.4h0M557.2 381.7h0M567.5 386.5h0M575.1 375.4h0M588.6 399.0h0M556.2 405.7h0M538.7 398.9h0M558.1 383.7h0M537.9 393.4h0M569.8 426.9h0M559.6 374.9h0M560.0 390.4h0M560.8 394.6h0M596.8 387.4h0M568.2 426.0h0M534.1 393.6h0M579.6 413.9h0M537.8 396.9h0M543.7 408.0h0M560.7 408.2h0M578.3 386.6h0M560.8 398.6h0M548.5 393.9h0M570.9 390.3h0M555.1 381.1h0M582.2 391.8h0M589.4 406.6h0M543.8 407.7h0M547.9 374.3h0M588.3 386.0h0M536.8 389.6h0M553.2 406.0h0M555.0 410.5h0M572.3 380.6h0M584.3 378.5h0M542.8 380.5h0M578.1 422.4h0M564.8 380.4h0M595.9 384.4h0M632.9 442.1h0M636.0 443.0h0M634.0 444.2h0M630.0 448.7h0M628.2 440.4h0M636.9 445.9h0M627.9 438.0h0M640.4 444.4h0M636.4 443.1h0M630.6 442.5h0M633.5 441.8h0M635.3 439.8h0M630.7 447.3h0M634.7 444.1h0M629.2 444.3h0M628.9 444.8h0M635.2 441.6h0M635.1 443.3h0M629.8 447.3h0M629.2 440.7h0M628.5 447.2h0M631.2 447.9h0M630.2 444.9h0M634.1 446.4h0M630.2 444.3h0M628.8 444.5h0M633.5 441.5h0M627.0 435.9h0M636.1 439.7h0M627.1 436.0h0M628.3 439.0h0M632.3 441.8h0M630.5 439.5h0M628.9 443.5h0M630.0 439.3h0M638.8 444.6h0M635.2 439.7h0M628.0 443.5h0M628.5 443.2h0M632.3 446.6h0M635.5 446.9h0M630.8 449.7h0M639.8 444.5h0M630.7 441.1h0M634.4 442.8h0M635.6 440.7h0M629.8 438.6h0M629.1 440.3h0M632.3 447.3h0M617.9 410.8h0M616.2 412.5h0M620.1 412.3h0M614.0 411.2h0M634.8 394.0h0M658.2 400.3h0M646.2 400.7h0M640.8 390.9h0M660.8 399.6h0M657.7 385.3h0M657.6 394.5h0M647.4 387.8h0M646.1 393.4h0M647.9 402.0h0M650.8 399.3h0M648.2 381.5h0M658.2 386.6h0M641.4 391.6h0M634.4 398.9h0M633.8 392.7h0M643.9 391.9h0M646.1 385.7h0M643.6 392.4h0M657.3 399.7h0M650.4 397.0h0M632.6 395.8h0M661.7 395.4h0M648.2 395.0h0M660.0 395.3h0M650.0 395.3h0M652.0 392.9h0M655.5 395.5h0M645.0 393.2h0M646.4 391.7h0M646.2 396.1h0M650.8 385.5h0M662.3 401.6h0M643.7 389.7h0M641.4 389.8h0M652.5 387.1h0M653.6 393.3h0M648.2 384.4h0M641.1 394.0h0M640.1 390.5h0M642.1 397.9h0M662.1 387.8h0M636.8 397.9h0M647.7 387.8h0M652.7 400.5h0M639.9 392.8h0M639.0 400.3h0M661.1 396.8h0M632.8 396.9h0M641.8 396.4h0M643.6 388.2h0M649.2 394.2h0M649.6 401.7h0M647.0 388.5h0M645.3 394.6h0M634.9 399.7h0M638.6 393.0h0M638.5 394.9h0M660.6 383.3h0M643.1 397.2h0M645.4 385.9h0M648.9 386.3h0M644.4 399.1h0M634.7 393.8h0M642.7 392.7h0M643.0 391.6h0M631.4 394.2h0M636.3 397.0h0M653.4 394.4h0M659.4 392.1h0M662.8 385.7h0M652.6 391.4h0M657.6 393.1h0M660.3 391.4h0M643.4 395.6h0M654.4 386.4h0M644.7 396.4h0M665.3 384.9h0M644.0 392.4h0M652.8 388.5h0M645.3 389.5h0M642.2 397.2h0M661.6 401.4h0M635.7 392.5h0M645.0 390.5h0M648.2 394.9h0M639.2 389.1h0M645.3 385.8h0M634.4 399.5h0M651.0 390.5h0M637.7 392.7h0M662.7 400.6h0M658.6 388.6h0M644.1 400.0h0M643.0 395.5h0M648.0 398.5h0M655.0 391.2h0M640.5 389.0h0M649.5 391.5h0M638.6 397.9h0M645.2 399.3h0M658.8 387.7h0M645.2 397.3h0M660.1 400.0h0M660.4 385.8h0M643.5 397.2h0M665.4 385.6h0M647.6 402.0h0M656.6 391.2h0M641.0 398.3h0M630.4 395.2h0M653.6 398.1h0M644.6 399.8h0M651.8 394.6h0M655.4 395.1h0M637.0 395.8h0M647.4 393.6h0M662.7 396.0h0M660.4 387.0h0M640.5 391.4h0M664.1 385.1h0M645.0 390.8h0M633.5 392.0h0M648.7 393.2h0M654.0 388.2h0M658.8 386.1h0M657.1 392.0h0M662.6 388.3h0M646.3 386.8h0M651.2 395.8h0M649.1 385.4h0M640.9 390.3h0M658.4 392.2h0M642.6 392.3h0M652.4 394.2h0M658.9 384.4h0M653.5 387.6h0M644.9 386.7h0M660.5 396.3h0M641.3 395.0h0M639.1 400.2h0M632.8 391.9h0M640.5 396.1h0M660.0 393.9h0M650.4 391.2h0M638.6 359.3h0M639.8 364.0h0M620.5 359.4h0M627.8 359.4h0M632.8 361.6h0M626.0 361.4h0M633.3 358.2h0M626.1 361.6h0M615.3 362.3h0M615.0 360.3h0M625.9 360.3h0M619.0 361.8h0M617.8 359.4h0M622.5 360.4h0M624.9 359.4h0M615.2 362.8h0M629.5 359.0h0M639.8 363.9h0M635.6 359.2h0M630.2 362.5h0M614.9 361.7h0M624.9 359.6h0M635.6 356.8h0M627.7 358.2h0M626.1 357.9h0M642.6 360.9h0M620.0 359.3h0M621.1 358.7h0M634.8 356.3h0M640.4 358.2h0M628.9 359.2h0M630.7 358.6h0M615.6 360.9h0M612.3 362.7h0M614.7 363.0h0M631.5 358.1h0M590.1 353.0h0M589.1 354.3h0M591.8 354.8h0M591.3 354.2h0M592.8 349.6h0M594.3 352.7h0M592.6 350.5h0M593.2 350.9h0M593.0 352.3h0M592.1 352.4h0M590.5 353.9h0M591.8 348.6h0M590.6 350.3h0M589.5 347.9h0M598.5 352.2h0M597.2 351.5h0M595.5 353.2h0M589.9 351.4h0M618.2 375.6h0M626.7 381.2h0M621.4 375.6h0M618.1 377.8h0M625.9 377.8h0M616.1 380.6h0M618.0 382.0h0M624.9 376.0h0M614.5 377.5h0M626.4 380.2h0M624.1 380.9h0M626.5 381.1h0M624.7 380.7h0M619.7 380.0h0M619.3 381.5h0M617.6 382.0h0M622.4 380.1h0M616.5 379.0h0M615.9 377.7h0" stroke="#4aa3dc" stroke-width="1.3" stroke-linecap="square"/>
<path d="M578.8 382.8h0M531.9 384.7h0M534.2 397.2h0M588.2 412.3h0M551.7 376.1h0M533.7 394.8h0M561.6 379.6h0M569.2 383.7h0M562.8 406.6h0M574.6 423.4h0M545.6 384.3h0M547.0 400.2h0M567.4 380.8h0M553.0 374.3h0M573.1 408.2h0M574.4 403.2h0M541.6 391.1h0M597.9 417.2h0M583.0 425.1h0M581.5 406.4h0M599.9 406.7h0M588.0 425.2h0M542.4 383.1h0M564.6 413.9h0M594.7 384.5h0M583.4 393.6h0M532.3 378.5h0M599.4 426.3h0M569.9 413.9h0M595.3 394.1h0M588.0 425.1h0M591.8 420.2h0M563.6 379.4h0M542.7 395.5h0M561.4 399.9h0M582.7 408.0h0M585.6 418.2h0M570.1 389.7h0M543.3 384.2h0M546.7 398.5h0M581.3 412.8h0M581.5 383.8h0M545.7 402.6h0M589.7 389.3h0M587.0 413.5h0M540.1 403.1h0M576.1 421.9h0M557.7 398.7h0M578.1 376.5h0M570.4 419.2h0M541.5 376.8h0M547.6 398.2h0M545.0 375.3h0M574.7 418.0h0M603.2 400.3h0M595.4 426.8h0M564.4 378.9h0M567.6 398.3h0M579.1 421.6h0M600.6 398.1h0M539.6 375.3h0M581.2 417.4h0M545.3 408.2h0M564.4 392.7h0M570.9 377.1h0M571.8 403.3h0M555.9 410.6h0M591.7 409.9h0M548.7 390.8h0M596.6 391.8h0M581.4 403.7h0M547.4 377.1h0M551.0 377.9h0M556.6 391.6h0M537.6 379.7h0M537.3 382.5h0M587.3 403.9h0M548.7 397.8h0M597.7 401.5h0M591.9 419.1h0M588.4 400.7h0M576.7 423.9h0M534.2 385.3h0M565.7 401.1h0M588.5 422.2h0M580.3 428.4h0M578.6 385.4h0M545.0 375.0h0M576.7 412.1h0M594.9 386.3h0M597.9 399.1h0M577.8 413.6h0M552.5 374.5h0M550.7 397.4h0M558.1 382.5h0M552.2 390.6h0M551.8 396.0h0M542.7 375.8h0M567.9 415.0h0M558.3 383.6h0M579.5 406.9h0M586.1 391.1h0M582.2 404.1h0M601.0 427.1h0M575.4 428.0h0M537.3 377.3h0M585.1 398.5h0M544.9 374.3h0M596.4 395.5h0M574.7 415.4h0M548.2 401.1h0M627.5 444.3h0M636.9 443.9h0M636.5 444.6h0M631.3 448.5h0M631.5 440.5h0M628.8 443.3h0M637.8 443.8h0M634.6 443.2h0M638.1 444.8h0M634.5 442.5h0M619.9 412.4h0M648.9 388.1h0M634.4 391.6h0M661.3 390.2h0M644.1 397.0h0M658.8 392.6h0M660.5 404.0h0M652.6 389.9h0M659.4 394.7h0M634.5 392.2h0M660.4 401.6h0M640.9 391.1h0M638.1 399.5h0M652.7 393.8h0M658.4 388.5h0M660.7 389.9h0M660.4 391.5h0M659.2 387.4h0M616.3 362.5h0M626.0 361.8h0M622.2 361.0h0M622.4 361.4h0M639.7 359.3h0M621.6 362.5h0M624.0 362.8h0M637.0 356.9h0M626.7 362.1h0M615.2 361.1h0M633.2 362.6h0M633.0 356.3h0M640.3 363.3h0M618.8 362.4h0M633.0 360.1h0M619.5 363.4h0M639.2 360.4h0M634.8 362.5h0M622.6 362.6h0M635.7 361.3h0M617.3 359.2h0M631.3 362.0h0M634.8 362.1h0M623.2 361.6h0M633.6 357.5h0M639.2 362.9h0M614.5 362.7h0M627.8 358.7h0M637.6 363.6h0M640.4 359.6h0M638.0 360.6h0M639.7 360.3h0M623.3 360.9h0M639.2 356.7h0M624.8 358.9h0M638.4 362.7h0M612.9 362.4h0M626.3 357.7h0M627.4 359.9h0M623.2 361.4h0M631.5 359.3h0M631.8 358.9h0M615.2 362.8h0M627.0 357.7h0M636.3 358.0h0M617.7 359.3h0M629.1 361.3h0M640.5 361.2h0M622.9 361.1h0M640.0 361.9h0M637.4 357.1h0M640.7 359.3h0M630.3 358.4h0M630.6 362.3h0M632.5 356.2h0M618.0 363.0h0M638.8 359.8h0M640.2 364.4h0M638.2 364.0h0M635.3 360.3h0M638.1 357.2h0M618.3 362.2h0M639.6 359.7h0M622.7 360.8h0M641.6 362.5h0M643.1 359.8h0M635.3 355.9h0M635.6 358.4h0M624.3 360.1h0M633.1 356.3h0M639.0 363.1h0M616.2 378.7h0M620.1 377.3h0" stroke="#39b87f" stroke-width="1.3" stroke-linecap="square"/>
<path d="M576.4 403.6h0M576.2 379.1h0M586.5 409.9h0M582.5 401.3h0M573.9 428.1h0M570.4 412.3h0M603.0 404.2h0M579.9 391.8h0M582.7 381.2h0M601.0 405.7h0M589.6 385.5h0M573.0 411.2h0M589.0 388.5h0M575.7 380.8h0M597.2 404.2h0M598.4 407.5h0M543.3 374.4h0M570.3 408.8h0M569.6 391.2h0M593.1 406.9h0M536.8 398.9h0M597.0 382.0h0M570.4 407.8h0M597.8 398.9h0M573.4 420.5h0M581.4 396.3h0M532.0 380.1h0M532.5 387.0h0M564.1 410.5h0M590.2 395.3h0M582.5 405.1h0M549.8 409.3h0M570.4 400.8h0M597.9 413.2h0M585.1 391.0h0M555.1 389.5h0M577.5 421.3h0M538.9 394.9h0M535.2 377.8h0M549.5 402.3h0M576.2 378.4h0M568.8 422.8h0M584.9 404.4h0M582.6 380.0h0M571.2 418.5h0M581.1 412.6h0M597.8 426.4h0M566.5 415.5h0M581.6 408.1h0M577.8 406.7h0M537.6 375.4h0M546.1 381.6h0M553.8 397.6h0M533.5 378.6h0M556.3 381.5h0M592.6 379.6h0M551.7 375.8h0M588.3 407.4h0M598.7 422.9h0M539.0 402.3h0M549.3 398.5h0M583.1 409.1h0M560.2 397.0h0M553.4 393.6h0M566.7 401.7h0M582.1 389.2h0M573.2 385.0h0M587.1 417.3h0M552.6 400.5h0M592.9 381.5h0M586.3 388.0h0M593.4 420.3h0M598.7 406.2h0M542.4 379.4h0M571.3 377.8h0M594.0 426.7h0M531.7 383.4h0M567.1 398.5h0M573.5 410.9h0M591.6 411.0h0M593.4 403.6h0M535.2 398.7h0M581.8 390.3h0M595.0 414.5h0M555.3 384.1h0M581.7 415.6h0M567.1 413.5h0M566.3 408.2h0M549.8 390.7h0M594.0 416.3h0M538.3 383.2h0M534.8 386.3h0M586.2 392.5h0M568.9 422.6h0M592.8 414.3h0M583.4 384.6h0M572.3 382.1h0M541.1 383.9h0M561.1 411.1h0M590.5 409.7h0M539.7 401.4h0M538.7 403.0h0M559.9 396.1h0M554.8 403.2h0M566.5 395.5h0M558.2 385.5h0M533.1 390.4h0M589.8 378.7h0M567.0 413.4h0M537.7 398.9h0M593.2 409.4h0M554.2 410.4h0M602.1 399.6h0M589.3 380.5h0M560.7 375.0h0M543.5 377.8h0M587.5 395.9h0M636.6 447.3h0M626.5 435.3h0M628.5 440.2h0M628.7 438.8h0M629.0 443.0h0M632.4 446.5h0M637.5 443.9h0M629.8 446.2h0M631.1 440.2h0M627.5 437.2h0M663.2 389.9h0M632.1 394.5h0M644.5 400.2h0M663.4 393.2h0M657.0 390.1h0M633.1 393.0h0M664.4 394.3h0M660.6 401.3h0M662.7 399.0h0M661.4 394.9h0M659.8 390.2h0M648.6 390.5h0M643.8 395.0h0M657.3 385.6h0M637.9 397.0h0M652.4 389.4h0M647.5 396.2h0M635.6 399.2h0M656.9 393.0h0M663.7 397.7h0M657.5 391.3h0M662.3 397.6h0M657.4 391.0h0M652.4 393.6h0M659.1 396.4h0M634.4 399.5h0M645.6 386.7h0M656.1 394.0h0M619.9 363.6h0M612.4 362.2h0M639.9 365.4h0M615.6 361.3h0M590.1 347.9h0M589.9 350.0h0M621.4 380.8h0M628.0 379.0h0M622.3 377.7h0M629.8 380.4h0M620.0 381.1h0M626.0 381.1h0" stroke="#a3a500" stroke-width="1.3" stroke-linecap="square"/>
<path d="M564.9 413.3h0M553.8 402.6h0M573.6 381.0h0M591.3 423.9h0M560.0 404.6h0M547.5 410.8h0M580.1 403.3h0M547.5 375.4h0M588.5 378.6h0M597.9 407.1h0M574.8 425.0h0M571.2 421.1h0M562.5 408.1h0M593.8 382.3h0M583.0 378.3h0M591.8 407.9h0M588.8 400.5h0M579.4 418.0h0M589.9 390.0h0M575.5 415.2h0M534.3 392.7h0M575.6 384.9h0M586.0 406.3h0M563.7 396.2h0M591.6 411.8h0M574.4 404.0h0M574.0 427.7h0M553.3 386.4h0M581.2 399.6h0M542.6 402.1h0M575.8 389.2h0M593.7 400.7h0M601.7 425.6h0M590.8 413.3h0M546.2 391.8h0M555.1 385.0h0M541.5 382.6h0M569.1 429.3h0M584.9 397.9h0M553.0 406.1h0M546.5 396.4h0M537.3 392.3h0M563.1 401.9h0M573.6 376.7h0M535.4 399.0h0M584.8 428.3h0M594.8 385.6h0M538.2 397.2h0M588.0 421.1h0M574.1 381.1h0M545.5 390.3h0M632.8 446.0h0M636.4 447.6h0M613.3 410.6h0M616.8 411.3h0M661.7 405.9h0M663.2 383.5h0M650.1 397.7h0M635.5 399.4h0M646.2 379.5h0M637.7 399.8h0M638.3 394.2h0M641.0 394.7h0M649.6 394.9h0M663.9 384.8h0M643.9 398.3h0M661.1 403.0h0M643.5 388.0h0M655.4 391.1h0M657.1 386.8h0M650.7 396.4h0M621.0 363.1h0M594.5 354.1h0M595.0 352.7h0M590.4 353.3h0M622.4 377.5h0M628.3 379.4h0M617.9 378.4h0" stroke="#f8766d" stroke-width="1.3" stroke-linecap="square"/>
<path d="M643.6 380.0 L646.1 380.8 L650.1 384.6 L653.1 388.6 L650.1 389.6 L646.1 386.6 L644.1 383.6Z" fill="#4cba8c"/>
<path d="M536.1 345.4 V357.9 M536.1 345.4 H548.6" stroke="#000" stroke-width="1.1" fill="none"/><path d="M533.5 356.9 L536.1 361.4 L538.7 356.9Z M547.6 342.79999999999995 L552.1 345.4 L547.6 348.0Z" fill="#000"/>
<text x="532.5" y="337.4" font-size="9.5" text-anchor="start" fill="#111" stroke="#111" stroke-width="0.25" textLength="59.4" lengthAdjust="spacingAndGlyphs" >Patient origins</text>
<circle cx="554.6" cy="444.9" r="2.6" fill="#f8766d"/>
<text x="563.6" y="448.1" font-size="8" text-anchor="start" fill="#222" stroke="#222" stroke-width="0.18" >1</text>
<circle cx="554.6" cy="454.0" r="2.6" fill="#a3a500"/>
<text x="563.6" y="457.2" font-size="8" text-anchor="start" fill="#222" stroke="#222" stroke-width="0.18" >2</text>
<circle cx="575.1" cy="445.2" r="2.6" fill="#39b87f"/>
<text x="584.1" y="448.4" font-size="8" text-anchor="start" fill="#222" stroke="#222" stroke-width="0.18" >3</text>
<circle cx="575.1" cy="454.3" r="2.6" fill="#4aa3dc"/>
<text x="584.1" y="457.5" font-size="8" text-anchor="start" fill="#222" stroke="#222" stroke-width="0.18" >4</text>
<circle cx="595.2" cy="445.2" r="2.6" fill="#c77cdc"/>
<text x="604.2" y="448.4" font-size="8" text-anchor="start" fill="#222" stroke="#222" stroke-width="0.18" >5</text>
<defs><linearGradient id="cbar" x1="0" y1="0" x2="0" y2="1">
<stop offset="0" stop-color="#e8302c"/><stop offset="0.3" stop-color="#d8206a"/><stop offset="0.6" stop-color="#a828b8"/><stop offset="1" stop-color="#4a52c0"/></linearGradient></defs>
<path d="M71.4 496.5 V686.8 H244" stroke="#000" stroke-width="1.3" fill="none"/>
<path d="M68.80000000000001 512.8 H71.4M68.80000000000001 539.0 H71.4M68.80000000000001 565.2 H71.4M68.80000000000001 591.8 H71.4M68.80000000000001 618.3 H71.4M68.80000000000001 644.5 H71.4M68.80000000000001 671.2 H71.4M86.1 686.8 V689.4M110.3 686.8 V689.4M134.5 686.8 V689.4M159.2 686.8 V689.4M183.7 686.8 V689.4M208.4 686.8 V689.4M232.6 686.8 V689.4" stroke="#000" stroke-width="1" fill="none"/>
<text x="63.2" y="516.1" font-size="9" text-anchor="end" fill="#52c4c8" stroke="#52c4c8" stroke-width="0.1" textLength="35.2" lengthAdjust="spacingAndGlyphs" >Immune</text>
<text x="63.2" y="542.3" font-size="9" text-anchor="end" fill="#52c4c8" stroke="#52c4c8" stroke-width="0.1" textLength="39.6" lengthAdjust="spacingAndGlyphs" >Epithelial</text>
<text x="63.2" y="568.5" font-size="9" text-anchor="end" fill="#52c4c8" stroke="#52c4c8" stroke-width="0.1" textLength="33.9" lengthAdjust="spacingAndGlyphs" >Stromal</text>
<text x="63.2" y="595.1" font-size="9" text-anchor="end" fill="#f47f7a" stroke="#f47f7a" stroke-width="0.1" textLength="35.2" lengthAdjust="spacingAndGlyphs" >Immune</text>
<text x="63.2" y="621.6" font-size="9" text-anchor="end" fill="#f47f7a" stroke="#f47f7a" stroke-width="0.1" textLength="39.6" lengthAdjust="spacingAndGlyphs" >Epithelial</text>
<text x="63.2" y="647.8" font-size="9" text-anchor="end" fill="#f47f7a" stroke="#f47f7a" stroke-width="0.1" textLength="33.9" lengthAdjust="spacingAndGlyphs" >Stromal</text>
<text x="63.2" y="674.5" font-size="9" text-anchor="end" fill="#f47f7a" stroke="#f47f7a" stroke-width="0.1" textLength="28.4" lengthAdjust="spacingAndGlyphs" >Tumor</text>
<text x="0" y="0" font-size="15" text-anchor="middle" dy="0.35em" fill="#222" stroke="#222" stroke-width="0.25" transform="translate(16.40,539.60) rotate(-90)" textLength="22.6" lengthAdjust="spacingAndGlyphs">TAT</text>
<text x="0" y="0" font-size="15" text-anchor="middle" dy="0.35em" fill="#222" stroke="#222" stroke-width="0.25" transform="translate(16.40,635.30) rotate(-90)" textLength="15.4" lengthAdjust="spacingAndGlyphs">TT</text>
<text x="0" y="0" font-size="9" text-anchor="end" fill="#222" stroke="#222" stroke-width="0.25" transform="translate(89.1,694.8) rotate(-45)">9−5p</text>
<text x="0" y="0" font-size="9" text-anchor="end" fill="#222" stroke="#222" stroke-width="0.25" transform="translate(113.3,694.8) rotate(-45)">96−5p</text>
<text x="0" y="0" font-size="9" text-anchor="end" fill="#222" stroke="#222" stroke-width="0.25" transform="translate(137.5,694.8) rotate(-45)">183−5p</text>
<text x="0" y="0" font-size="9" text-anchor="end" fill="#222" stroke="#222" stroke-width="0.25" transform="translate(162.2,694.8) rotate(-45)">224−5p</text>
<text x="0" y="0" font-size="9" text-anchor="end" fill="#222" stroke="#222" stroke-width="0.25" transform="translate(186.7,694.8) rotate(-45)">182−5p</text>
<text x="0" y="0" font-size="9" text-anchor="end" fill="#222" stroke="#222" stroke-width="0.25" transform="translate(211.4,694.8) rotate(-45)">135b−5p</text>
<text x="0" y="0" font-size="9" text-anchor="end" fill="#222" stroke="#222" stroke-width="0.25" transform="translate(235.6,694.8) rotate(-45)">375−3p</text>
<circle cx="86.1" cy="512.8" r="1.16" fill="#d82070"/>
<circle cx="110.3" cy="512.8" r="0.84" fill="#5a48b8"/>
<circle cx="134.5" cy="512.8" r="0.79" fill="#5a48b8"/>
<circle cx="159.2" cy="512.8" r="0.84" fill="#5a48b8"/>
<circle cx="183.7" cy="512.8" r="0.84" fill="#5a48b8"/>
<circle cx="208.4" cy="512.8" r="2.21" fill="#5546b6"/>
<circle cx="232.6" cy="512.8" r="2.62" fill="#4d4cb8"/>
<circle cx="86.1" cy="539.0" r="0.95" fill="#5a48b8"/>
<circle cx="110.3" cy="539.0" r="0.79" fill="#5a48b8"/>
<circle cx="134.5" cy="539.0" r="0.84" fill="#5a48b8"/>
<circle cx="159.2" cy="539.0" r="1.16" fill="#6a40b8"/>
<circle cx="183.7" cy="539.0" r="1.05" fill="#5a48b8"/>
<circle cx="208.4" cy="539.0" r="1.99" fill="#5546b6"/>
<circle cx="232.6" cy="539.0" r="5.15" fill="#9a2ec0"/>
<circle cx="86.1" cy="565.2" r="0.84" fill="#5a48b8"/>
<circle cx="110.3" cy="565.2" r="0.84" fill="#5a48b8"/>
<circle cx="134.5" cy="565.2" r="0.79" fill="#5a48b8"/>
<circle cx="159.2" cy="565.2" r="1.68" fill="#4f48b6"/>
<circle cx="183.7" cy="565.2" r="1.37" fill="#5546b6"/>
<circle cx="208.4" cy="565.2" r="2.31" fill="#5546b6"/>
<circle cx="232.6" cy="565.2" r="2.62" fill="#4d4cb8"/>
<circle cx="86.1" cy="591.8" r="1.16" fill="#b028c0"/>
<circle cx="110.3" cy="591.8" r="0.84" fill="#7a3ac0"/>
<circle cx="134.5" cy="591.8" r="0.84" fill="#7a3ac0"/>
<circle cx="159.2" cy="591.8" r="0.84" fill="#5a48b8"/>
<circle cx="183.7" cy="591.8" r="1.05" fill="#7a3ac0"/>
<circle cx="208.4" cy="591.8" r="2.21" fill="#7038b8"/>
<circle cx="232.6" cy="591.8" r="2.21" fill="#5048b4"/>
<circle cx="86.1" cy="618.3" r="0.95" fill="#4a50c0"/>
<circle cx="110.3" cy="618.3" r="1.47" fill="#a030c8"/>
<circle cx="134.5" cy="618.3" r="1.68" fill="#a030c8"/>
<circle cx="159.2" cy="618.3" r="1.99" fill="#a030c8"/>
<circle cx="183.7" cy="618.3" r="2.52" fill="#a030c0"/>
<circle cx="208.4" cy="618.3" r="3.36" fill="#9030c0"/>
<circle cx="232.6" cy="618.3" r="5.25" fill="#b22eb8"/>
<circle cx="86.1" cy="644.5" r="0.95" fill="#4a50c0"/>
<circle cx="110.3" cy="644.5" r="1.05" fill="#8a34c0"/>
<circle cx="134.5" cy="644.5" r="1.26" fill="#8a34c0"/>
<circle cx="159.2" cy="644.5" r="1.78" fill="#9030c8"/>
<circle cx="183.7" cy="644.5" r="1.99" fill="#7a34c0"/>
<circle cx="208.4" cy="644.5" r="4.94" fill="#8030c0"/>
<circle cx="232.6" cy="644.5" r="4.41" fill="#5a48b8"/>
<circle cx="86.1" cy="671.2" r="2.31" fill="#e02840"/>
<circle cx="110.3" cy="671.2" r="2.94" fill="#e23630"/>
<circle cx="134.5" cy="671.2" r="3.26" fill="#e23630"/>
<circle cx="159.2" cy="671.2" r="3.15" fill="#e23630"/>
<circle cx="183.7" cy="671.2" r="4.73" fill="#e23630"/>
<circle cx="208.4" cy="671.2" r="5.04" fill="#e23630"/>
<circle cx="232.6" cy="671.2" r="5.25" fill="#e03030"/>
<rect x="273.2" y="549.5" width="10" height="46.5" fill="url(#cbar)"/>
<path d="M273.2 553.5h2M281.2 553.5h2M273.2 567h2M281.2 567h2M273.2 580.5h2M281.2 580.5h2" stroke="#fff" stroke-width="0.6"/>
<text x="286.7" y="556.0" font-size="8" text-anchor="start" fill="#222" stroke="#222" stroke-width="0.18" >high</text>
<text x="286.7" y="597.5" font-size="8" text-anchor="start" fill="#222" stroke="#222" stroke-width="0.18" >low</text>
<text x="0" y="0" font-size="8" text-anchor="middle" dy="0.35em" fill="#222" stroke="#222" stroke-width="0.18" transform="translate(265.80,569.40) rotate(-90)" textLength="57.5" lengthAdjust="spacingAndGlyphs">Expression level</text>
<text x="0" y="0" font-size="8" text-anchor="middle" dy="0.35em" fill="#222" stroke="#222" stroke-width="0.18" transform="translate(265.80,651.50) rotate(-90)" textLength="81" lengthAdjust="spacingAndGlyphs">Expression percentage</text>
<circle cx="278.7" cy="631.2" r="0.6" fill="#000"/>
<circle cx="278.7" cy="639.8" r="1.3" fill="#000"/>
<circle cx="278.7" cy="649.0" r="2.1" fill="#000"/>
<circle cx="278.7" cy="658.4" r="2.9" fill="#000"/>
<circle cx="278.7" cy="668.0" r="3.8" fill="#000"/>
<text x="287.7" y="634.5" font-size="8" text-anchor="start" fill="#222" stroke="#222" stroke-width="0.18" >0%</text>
<text x="287.7" y="671.5" font-size="8" text-anchor="start" fill="#222" stroke="#222" stroke-width="0.18" >100%</text>
<path d="M413 495.5 V686.0 H567" stroke="#000" stroke-width="1.3" fill="none"/>
<path d="M410.4 512.2 H413M410.4 538.2 H413M410.4 564.5 H413M410.4 591.0 H413M410.4 618.0 H413M410.4 643.9 H413M410.4 670.4 H413M429.4 686.0 V688.6M454.4 686.0 V688.6M478.5 686.0 V688.6M503.0 686.0 V688.6M527.5 686.0 V688.6M552.0 686.0 V688.6" stroke="#000" stroke-width="1" fill="none"/>
<text x="404.8" y="515.5" font-size="9" text-anchor="end" fill="#52c4c8" stroke="#52c4c8" stroke-width="0.1" textLength="35.2" lengthAdjust="spacingAndGlyphs" >Immune</text>
<text x="404.8" y="541.5" font-size="9" text-anchor="end" fill="#52c4c8" stroke="#52c4c8" stroke-width="0.1" textLength="39.6" lengthAdjust="spacingAndGlyphs" >Epithelial</text>
<text x="404.8" y="567.8" font-size="9" text-anchor="end" fill="#52c4c8" stroke="#52c4c8" stroke-width="0.1" textLength="33.9" lengthAdjust="spacingAndGlyphs" >Stromal</text>
<text x="404.8" y="594.3" font-size="9" text-anchor="end" fill="#f47f7a" stroke="#f47f7a" stroke-width="0.1" textLength="35.2" lengthAdjust="spacingAndGlyphs" >Immune</text>
<text x="404.8" y="621.3" font-size="9" text-anchor="end" fill="#f47f7a" stroke="#f47f7a" stroke-width="0.1" textLength="39.6" lengthAdjust="spacingAndGlyphs" >Epithelial</text>
<text x="404.8" y="647.2" font-size="9" text-anchor="end" fill="#f47f7a" stroke="#f47f7a" stroke-width="0.1" textLength="33.9" lengthAdjust="spacingAndGlyphs" >Stromal</text>
<text x="404.8" y="673.7" font-size="9" text-anchor="end" fill="#f47f7a" stroke="#f47f7a" stroke-width="0.1" textLength="28.4" lengthAdjust="spacingAndGlyphs" >Tumor</text>
<text x="0" y="0" font-size="15" text-anchor="middle" dy="0.35em" fill="#222" stroke="#222" stroke-width="0.25" transform="translate(358.00,539.60) rotate(-90)" textLength="22.6" lengthAdjust="spacingAndGlyphs">TAT</text>
<text x="0" y="0" font-size="15" text-anchor="middle" dy="0.35em" fill="#222" stroke="#222" stroke-width="0.25" transform="translate(358.00,635.30) rotate(-90)" textLength="15.4" lengthAdjust="spacingAndGlyphs">TT</text>
<text x="0" y="0" font-size="9" text-anchor="end" fill="#222" stroke="#222" stroke-width="0.25" transform="translate(432.4,694.0) rotate(-45)">34c−5p</text>
<text x="0" y="0" font-size="9" text-anchor="end" fill="#222" stroke="#222" stroke-width="0.25" transform="translate(457.4,694.0) rotate(-45)">34b−5p</text>
<text x="0" y="0" font-size="9" text-anchor="end" fill="#222" stroke="#222" stroke-width="0.25" transform="translate(481.5,694.0) rotate(-45)">642a−5p</text>
<text x="0" y="0" font-size="9" text-anchor="end" fill="#222" stroke="#222" stroke-width="0.25" transform="translate(506.0,694.0) rotate(-45)">34b−3p</text>
<text x="0" y="0" font-size="9" text-anchor="end" fill="#222" stroke="#222" stroke-width="0.25" transform="translate(530.5,694.0) rotate(-45)">4423−5p</text>
<text x="0" y="0" font-size="9" text-anchor="end" fill="#222" stroke="#222" stroke-width="0.25" transform="translate(555.0,694.0) rotate(-45)">548i</text>
<circle cx="429.4" cy="512.2" r="5.35" fill="#6040b8"/>
<circle cx="454.4" cy="512.2" r="4.99" fill="#6040b8"/>
<circle cx="478.5" cy="512.2" r="1.68" fill="#5e42b8"/>
<circle cx="503.0" cy="512.2" r="1.58" fill="#5e42b8"/>
<circle cx="527.5" cy="512.2" r="1.05" fill="#5e42b8"/>
<circle cx="552.0" cy="512.2" r="0.95" fill="#5e42b8"/>
<circle cx="429.4" cy="538.2" r="5.88" fill="#e02840"/>
<circle cx="454.4" cy="538.2" r="6.04" fill="#e02840"/>
<circle cx="478.5" cy="538.2" r="3.83" fill="#d41e5c"/>
<circle cx="503.0" cy="538.2" r="4.99" fill="#d82050"/>
<circle cx="527.5" cy="538.2" r="4.20" fill="#e02838"/>
<circle cx="552.0" cy="538.2" r="3.41" fill="#e02838"/>
<circle cx="429.4" cy="564.5" r="5.57" fill="#6040b8"/>
<circle cx="454.4" cy="564.5" r="4.99" fill="#6040b8"/>
<circle cx="478.5" cy="564.5" r="1.31" fill="#5e42b8"/>
<circle cx="503.0" cy="564.5" r="2.10" fill="#5e42b8"/>
<circle cx="527.5" cy="564.5" r="0.95" fill="#5e42b8"/>
<circle cx="552.0" cy="564.5" r="0.95" fill="#5e42b8"/>
<circle cx="429.4" cy="591.0" r="1.84" fill="#5e42b8"/>
<circle cx="454.4" cy="591.0" r="1.84" fill="#5e42b8"/>
<circle cx="478.5" cy="591.0" r="1.84" fill="#5e42b8"/>
<circle cx="503.0" cy="591.0" r="0.95" fill="#5e42b8"/>
<circle cx="527.5" cy="591.0" r="0.79" fill="#5e42b8"/>
<circle cx="552.0" cy="591.0" r="0.79" fill="#5e42b8"/>
<circle cx="429.4" cy="618.0" r="5.25" fill="#c81e5c"/>
<circle cx="454.4" cy="618.0" r="4.99" fill="#c81e5c"/>
<circle cx="478.5" cy="618.0" r="4.20" fill="#d81e4c"/>
<circle cx="503.0" cy="618.0" r="4.20" fill="#d81e44"/>
<circle cx="527.5" cy="618.0" r="3.68" fill="#c82060"/>
<circle cx="552.0" cy="618.0" r="2.89" fill="#c82870"/>
<circle cx="429.4" cy="643.9" r="2.62" fill="#5e42b8"/>
<circle cx="454.4" cy="643.9" r="2.62" fill="#5e42b8"/>
<circle cx="478.5" cy="643.9" r="1.05" fill="#5e42b8"/>
<circle cx="503.0" cy="643.9" r="1.05" fill="#5e42b8"/>
<circle cx="527.5" cy="643.9" r="0.79" fill="#5e42b8"/>
<circle cx="552.0" cy="643.9" r="0.79" fill="#5e42b8"/>
<circle cx="429.4" cy="670.4" r="2.36" fill="#5e42b8"/>
<circle cx="454.4" cy="670.4" r="2.36" fill="#5e42b8"/>
<circle cx="478.5" cy="670.4" r="2.26" fill="#5e42b8"/>
<circle cx="503.0" cy="670.4" r="1.05" fill="#5e42b8"/>
<circle cx="527.5" cy="670.4" r="0.95" fill="#5e42b8"/>
<circle cx="552.0" cy="670.4" r="0.79" fill="#5e42b8"/>
<rect x="595.3" y="549.5" width="10" height="46.5" fill="url(#cbar)"/>
<path d="M595.3 553.5h2M603.3 553.5h2M595.3 567h2M603.3 567h2M595.3 580.5h2M603.3 580.5h2" stroke="#fff" stroke-width="0.6"/>
<text x="608.8" y="556.0" font-size="8" text-anchor="start" fill="#222" stroke="#222" stroke-width="0.18" >high</text>
<text x="608.8" y="597.5" font-size="8" text-anchor="start" fill="#222" stroke="#222" stroke-width="0.18" >low</text>
<text x="0" y="0" font-size="8" text-anchor="middle" dy="0.35em" fill="#222" stroke="#222" stroke-width="0.18" transform="translate(587.90,569.40) rotate(-90)" textLength="57.5" lengthAdjust="spacingAndGlyphs">Expression level</text>
<text x="0" y="0" font-size="8" text-anchor="middle" dy="0.35em" fill="#222" stroke="#222" stroke-width="0.18" transform="translate(587.90,651.50) rotate(-90)" textLength="81" lengthAdjust="spacingAndGlyphs">Expression percentage</text>
<circle cx="600.8" cy="631.2" r="0.6" fill="#000"/>
<circle cx="600.8" cy="639.8" r="1.3" fill="#000"/>
<circle cx="600.8" cy="649.0" r="2.1" fill="#000"/>
<circle cx="600.8" cy="658.4" r="2.9" fill="#000"/>
<circle cx="600.8" cy="668.0" r="3.8" fill="#000"/>
<text x="609.8" y="634.5" font-size="8" text-anchor="start" fill="#222" stroke="#222" stroke-width="0.18" >0%</text>
<text x="609.8" y="671.5" font-size="8" text-anchor="start" fill="#222" stroke="#222" stroke-width="0.18" >100%</text>
</svg>
</body></html>
